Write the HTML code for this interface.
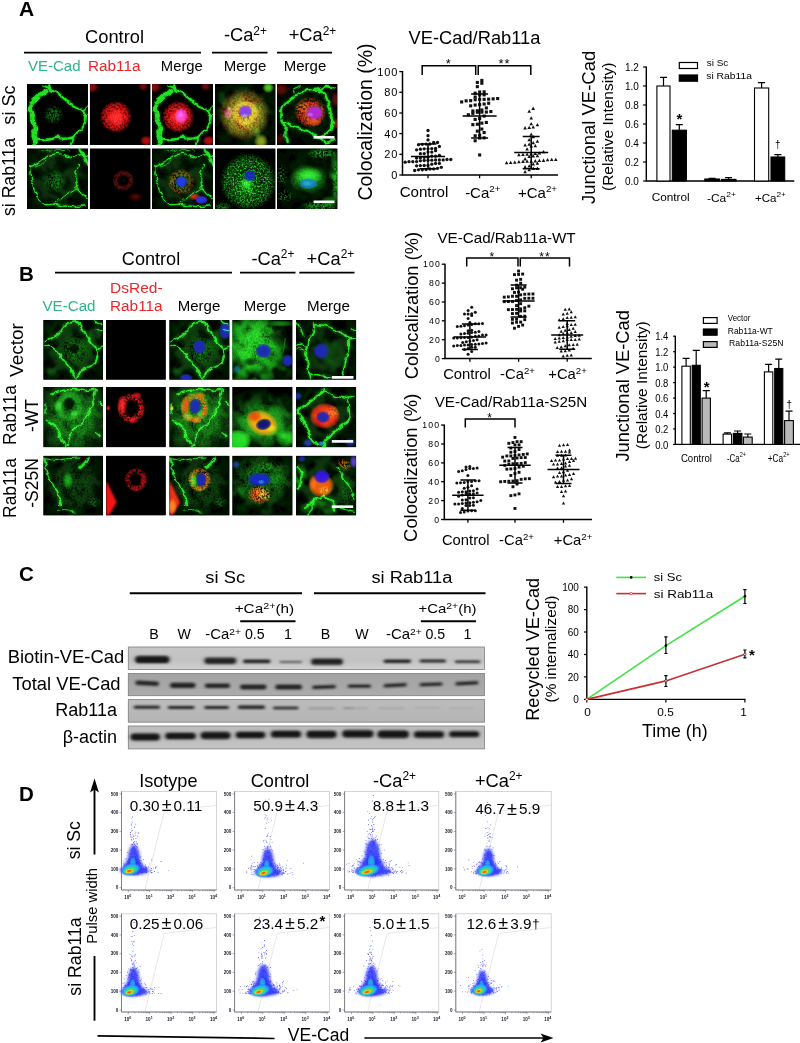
<!DOCTYPE html>
<html lang="en"><head><meta charset="utf-8"><title>Rab11a VE-Cad figure</title>
<style>
html,body{margin:0;padding:0;background:#fff}
svg{display:block;font-family:'Liberation Sans', Arial, sans-serif}
</style></head>
<body>
<svg width="800" height="1043" viewBox="0 0 800 1043">
<defs>
<filter id="bb" x="-20%" y="-80%" width="140%" height="260%"><feGaussianBlur stdDeviation="1.5 1.1"/></filter>
<filter id="bb2" x="-20%" y="-80%" width="140%" height="260%"><feGaussianBlur stdDeviation="2.4 1.8"/></filter>
<linearGradient id="s1" x1="0" y1="0" x2="0" y2="1"><stop offset="0" stop-color="#c6c6c6"/><stop offset="0.6" stop-color="#c2c2c2"/><stop offset="1" stop-color="#d2d2d2"/></linearGradient>
<linearGradient id="s2" x1="0" y1="0" x2="0" y2="1"><stop offset="0" stop-color="#a2a2a2"/><stop offset="1" stop-color="#acacac"/></linearGradient>
<linearGradient id="s3" x1="0" y1="0" x2="0" y2="1"><stop offset="0" stop-color="#bcbcbc"/><stop offset="1" stop-color="#b4b4b4"/></linearGradient>
<linearGradient id="s4" x1="0" y1="0" x2="0" y2="1"><stop offset="0" stop-color="#bdbdbd"/><stop offset="1" stop-color="#c3c3c3"/></linearGradient>
<radialGradient id="fb"><stop offset="0" stop-color="#3a5cff" stop-opacity="0.95"/><stop offset="0.55" stop-color="#3a4cff" stop-opacity="0.6"/><stop offset="1" stop-color="#4a4cff" stop-opacity="0"/></radialGradient>
<radialGradient id="fc"><stop offset="0" stop-color="#20d8e8"/><stop offset="0.7" stop-color="#22b8f0" stop-opacity="0.9"/><stop offset="1" stop-color="#2a80ff" stop-opacity="0"/></radialGradient>
<radialGradient id="fg"><stop offset="0" stop-color="#70e040"/><stop offset="0.7" stop-color="#40dc70" stop-opacity="0.9"/><stop offset="1" stop-color="#30d8b0" stop-opacity="0"/></radialGradient>
<radialGradient id="fy"><stop offset="0" stop-color="#f03010"/><stop offset="0.45" stop-color="#f58a10"/><stop offset="0.8" stop-color="#e8e020" stop-opacity="0.9"/><stop offset="1" stop-color="#b0e030" stop-opacity="0"/></radialGradient>
<filter id="fbl"><feGaussianBlur stdDeviation="0.45"/></filter>
<filter id="fbl2" x="-30%" y="-30%" width="160%" height="160%"><feGaussianBlur stdDeviation="1.8"/></filter>
<filter id="rough" x="-5%" y="-5%" width="110%" height="110%" color-interpolation-filters="sRGB">
<feTurbulence type="fractalNoise" baseFrequency="0.09" numOctaves="2" seed="4" result="n"/>
<feDisplacementMap in="SourceGraphic" in2="n" scale="8" xChannelSelector="R" yChannelSelector="G" result="d"/>
<feTurbulence type="fractalNoise" baseFrequency="0.22" numOctaves="1" seed="9" result="n2"/>
<feColorMatrix in="n2" type="matrix" values="0 0 0 0 0 0 0 0 0 0 0 0 0 0 0 1.8 0 0 0 0.05" result="a"/>
<feComposite in="d" in2="a" operator="in" result="e"/>
<feGaussianBlur in="e" stdDeviation="1.0" result="b1"/>
<feGaussianBlur in="e" stdDeviation="3" result="b2"/>
<feComponentTransfer in="b2" result="b3"><feFuncA type="linear" slope="0.7"/></feComponentTransfer>
<feComponentTransfer in="b1" result="b4"><feFuncA type="linear" slope="1.25"/></feComponentTransfer>
<feMerge><feMergeNode in="b3"/><feMergeNode in="b4"/></feMerge>
</filter>
<filter id="speck" x="0" y="0" width="100%" height="100%" color-interpolation-filters="sRGB">
<feTurbulence type="fractalNoise" baseFrequency="0.3" numOctaves="2" seed="3" result="n"/>
<feColorMatrix in="n" type="matrix" values="0 0 0 0 0 0 0 0 0 0 0 0 0 0 0 2.6 0 0 0 -0.75" result="a"/>
<feComposite in="SourceGraphic" in2="a" operator="in" result="e"/>
<feGaussianBlur in="e" stdDeviation="1.1"/>
</filter>
<filter id="speck2" x="0" y="0" width="100%" height="100%" color-interpolation-filters="sRGB">
<feTurbulence type="fractalNoise" baseFrequency="0.34" numOctaves="2" seed="8" result="n"/>
<feColorMatrix in="n" type="matrix" values="0 0 0 0 0 0 0 0 0 0 0 0 0 0 0 4.2 0 0 0 -2.0" result="a"/>
<feComposite in="SourceGraphic" in2="a" operator="in" result="e"/>
<feGaussianBlur in="e" stdDeviation="0.9"/>
</filter>
<filter id="cloud" x="0" y="0" width="100%" height="100%" color-interpolation-filters="sRGB">
<feTurbulence type="fractalNoise" baseFrequency="0.06" numOctaves="3" seed="12" result="n"/>
<feColorMatrix in="n" type="matrix" values="0 0 0 0 0 0 0 0 0 0 0 0 0 0 0 3.0 0 0 0 -0.85" result="a"/>
<feComposite in="SourceGraphic" in2="a" operator="in" result="e"/>
<feGaussianBlur in="e" stdDeviation="1.5"/>
</filter>
<filter id="soft" x="-20%" y="-20%" width="140%" height="140%"><feGaussianBlur stdDeviation="1.6"/></filter>
<clipPath id="c100"><rect width="100" height="100"/></clipPath>
<filter id="tb" x="0" y="0" width="100%" height="100%"><feGaussianBlur stdDeviation="0.85"/></filter>
<radialGradient id="g0"><stop offset="0" stop-color="#0f9a12" stop-opacity="1"/><stop offset="0.45" stop-color="#0f9a12" stop-opacity="0.8"/><stop offset="0.75" stop-color="#0f9a12" stop-opacity="0.4"/><stop offset="1" stop-color="#0f9a12" stop-opacity="0"/></radialGradient>
<radialGradient id="g1"><stop offset="0" stop-color="#f01212" stop-opacity="1"/><stop offset="0.6" stop-color="#f01212" stop-opacity="0.95"/><stop offset="0.82" stop-color="#f01212" stop-opacity="0.6"/><stop offset="1" stop-color="#f01212" stop-opacity="0"/></radialGradient>
<radialGradient id="g2"><stop offset="0" stop-color="#f01212" stop-opacity="1"/><stop offset="0.45" stop-color="#f01212" stop-opacity="0.8"/><stop offset="0.75" stop-color="#f01212" stop-opacity="0.4"/><stop offset="1" stop-color="#f01212" stop-opacity="0"/></radialGradient>
<radialGradient id="g3"><stop offset="0" stop-color="#ff2020" stop-opacity="1"/><stop offset="0.45" stop-color="#ff2020" stop-opacity="0.8"/><stop offset="0.75" stop-color="#ff2020" stop-opacity="0.4"/><stop offset="1" stop-color="#ff2020" stop-opacity="0"/></radialGradient>
<radialGradient id="g4"><stop offset="0" stop-color="#d828d8" stop-opacity="1"/><stop offset="0.6" stop-color="#d828d8" stop-opacity="0.95"/><stop offset="0.82" stop-color="#d828d8" stop-opacity="0.6"/><stop offset="1" stop-color="#d828d8" stop-opacity="0"/></radialGradient>
<radialGradient id="g5"><stop offset="0" stop-color="#ff60ff" stop-opacity="1"/><stop offset="0.45" stop-color="#ff60ff" stop-opacity="0.8"/><stop offset="0.75" stop-color="#ff60ff" stop-opacity="0.4"/><stop offset="1" stop-color="#ff60ff" stop-opacity="0"/></radialGradient>
<radialGradient id="g6"><stop offset="0" stop-color="#0c420c" stop-opacity="1"/><stop offset="0.45" stop-color="#0c420c" stop-opacity="0.8"/><stop offset="0.75" stop-color="#0c420c" stop-opacity="0.4"/><stop offset="1" stop-color="#0c420c" stop-opacity="0"/></radialGradient>
<radialGradient id="g7"><stop offset="0" stop-color="#8a3a10" stop-opacity="1"/><stop offset="0.45" stop-color="#8a3a10" stop-opacity="0.8"/><stop offset="0.75" stop-color="#8a3a10" stop-opacity="0.4"/><stop offset="1" stop-color="#8a3a10" stop-opacity="0"/></radialGradient>
<radialGradient id="g8"><stop offset="0" stop-color="#d05010" stop-opacity="1"/><stop offset="0.45" stop-color="#d05010" stop-opacity="0.8"/><stop offset="0.75" stop-color="#d05010" stop-opacity="0.4"/><stop offset="1" stop-color="#d05010" stop-opacity="0"/></radialGradient>
<radialGradient id="g9"><stop offset="0" stop-color="#2c9a1c" stop-opacity="1"/><stop offset="0.45" stop-color="#2c9a1c" stop-opacity="0.8"/><stop offset="0.75" stop-color="#2c9a1c" stop-opacity="0.4"/><stop offset="1" stop-color="#2c9a1c" stop-opacity="0"/></radialGradient>
<radialGradient id="g10"><stop offset="0" stop-color="#e0d020" stop-opacity="0"/><stop offset="0.42" stop-color="#e0d020" stop-opacity="0.05"/><stop offset="0.62" stop-color="#e0d020" stop-opacity="0.9"/><stop offset="0.82" stop-color="#e0d020" stop-opacity="0.8"/><stop offset="1" stop-color="#e0d020" stop-opacity="0"/></radialGradient>
<radialGradient id="g11"><stop offset="0" stop-color="#d0a010" stop-opacity="1"/><stop offset="0.45" stop-color="#d0a010" stop-opacity="0.8"/><stop offset="0.75" stop-color="#d0a010" stop-opacity="0.4"/><stop offset="1" stop-color="#d0a010" stop-opacity="0"/></radialGradient>
<radialGradient id="g12"><stop offset="0" stop-color="#e03090" stop-opacity="1"/><stop offset="0.45" stop-color="#e03090" stop-opacity="0.8"/><stop offset="0.75" stop-color="#e03090" stop-opacity="0.4"/><stop offset="1" stop-color="#e03090" stop-opacity="0"/></radialGradient>
<radialGradient id="g13"><stop offset="0" stop-color="#c0ffc0" stop-opacity="1"/><stop offset="0.45" stop-color="#c0ffc0" stop-opacity="0.8"/><stop offset="0.75" stop-color="#c0ffc0" stop-opacity="0.4"/><stop offset="1" stop-color="#c0ffc0" stop-opacity="0"/></radialGradient>
<radialGradient id="g14"><stop offset="0" stop-color="#50e020" stop-opacity="1"/><stop offset="0.45" stop-color="#50e020" stop-opacity="0.8"/><stop offset="0.75" stop-color="#50e020" stop-opacity="0.4"/><stop offset="1" stop-color="#50e020" stop-opacity="0"/></radialGradient>
<radialGradient id="g15"><stop offset="0" stop-color="#a0c020" stop-opacity="1"/><stop offset="0.45" stop-color="#a0c020" stop-opacity="0.8"/><stop offset="0.75" stop-color="#a0c020" stop-opacity="0.4"/><stop offset="1" stop-color="#a0c020" stop-opacity="0"/></radialGradient>
<radialGradient id="g16"><stop offset="0" stop-color="#30a020" stop-opacity="1"/><stop offset="0.45" stop-color="#30a020" stop-opacity="0.8"/><stop offset="0.75" stop-color="#30a020" stop-opacity="0.4"/><stop offset="1" stop-color="#30a020" stop-opacity="0"/></radialGradient>
<radialGradient id="g17"><stop offset="0" stop-color="#0f600f" stop-opacity="1"/><stop offset="0.45" stop-color="#0f600f" stop-opacity="0.8"/><stop offset="0.75" stop-color="#0f600f" stop-opacity="0.4"/><stop offset="1" stop-color="#0f600f" stop-opacity="0"/></radialGradient>
<radialGradient id="g18"><stop offset="0" stop-color="#8a40f0" stop-opacity="1"/><stop offset="0.6" stop-color="#8a40f0" stop-opacity="0.95"/><stop offset="0.82" stop-color="#8a40f0" stop-opacity="0.6"/><stop offset="1" stop-color="#8a40f0" stop-opacity="0"/></radialGradient>
<radialGradient id="g19"><stop offset="0" stop-color="#30c0a0" stop-opacity="1"/><stop offset="0.45" stop-color="#30c0a0" stop-opacity="0.8"/><stop offset="0.75" stop-color="#30c0a0" stop-opacity="0.4"/><stop offset="1" stop-color="#30c0a0" stop-opacity="0"/></radialGradient>
<radialGradient id="g20"><stop offset="0" stop-color="#0a300a" stop-opacity="1"/><stop offset="0.45" stop-color="#0a300a" stop-opacity="0.8"/><stop offset="0.75" stop-color="#0a300a" stop-opacity="0.4"/><stop offset="1" stop-color="#0a300a" stop-opacity="0"/></radialGradient>
<radialGradient id="g21"><stop offset="0" stop-color="#e83010" stop-opacity="1"/><stop offset="0.6" stop-color="#e83010" stop-opacity="0.95"/><stop offset="0.82" stop-color="#e83010" stop-opacity="0.6"/><stop offset="1" stop-color="#e83010" stop-opacity="0"/></radialGradient>
<radialGradient id="g22"><stop offset="0" stop-color="#d02810" stop-opacity="1"/><stop offset="0.45" stop-color="#d02810" stop-opacity="0.8"/><stop offset="0.75" stop-color="#d02810" stop-opacity="0.4"/><stop offset="1" stop-color="#d02810" stop-opacity="0"/></radialGradient>
<radialGradient id="g23"><stop offset="0" stop-color="#ff3810" stop-opacity="1"/><stop offset="0.45" stop-color="#ff3810" stop-opacity="0.8"/><stop offset="0.75" stop-color="#ff3810" stop-opacity="0.4"/><stop offset="1" stop-color="#ff3810" stop-opacity="0"/></radialGradient>
<radialGradient id="g24"><stop offset="0" stop-color="#c07010" stop-opacity="1"/><stop offset="0.45" stop-color="#c07010" stop-opacity="0.8"/><stop offset="0.75" stop-color="#c07010" stop-opacity="0.4"/><stop offset="1" stop-color="#c07010" stop-opacity="0"/></radialGradient>
<radialGradient id="g25"><stop offset="0" stop-color="#b028d8" stop-opacity="1"/><stop offset="0.6" stop-color="#b028d8" stop-opacity="0.95"/><stop offset="0.82" stop-color="#b028d8" stop-opacity="0.6"/><stop offset="1" stop-color="#b028d8" stop-opacity="0"/></radialGradient>
<radialGradient id="g26"><stop offset="0" stop-color="#5060f0" stop-opacity="1"/><stop offset="0.45" stop-color="#5060f0" stop-opacity="0.8"/><stop offset="0.75" stop-color="#5060f0" stop-opacity="0.4"/><stop offset="1" stop-color="#5060f0" stop-opacity="0"/></radialGradient>
<radialGradient id="g27"><stop offset="0" stop-color="#0a3c0a" stop-opacity="1"/><stop offset="0.45" stop-color="#0a3c0a" stop-opacity="0.8"/><stop offset="0.75" stop-color="#0a3c0a" stop-opacity="0.4"/><stop offset="1" stop-color="#0a3c0a" stop-opacity="0"/></radialGradient>
<radialGradient id="g28"><stop offset="0" stop-color="#a01010" stop-opacity="0"/><stop offset="0.42" stop-color="#a01010" stop-opacity="0.05"/><stop offset="0.62" stop-color="#a01010" stop-opacity="0.9"/><stop offset="0.82" stop-color="#a01010" stop-opacity="0.8"/><stop offset="1" stop-color="#a01010" stop-opacity="0"/></radialGradient>
<radialGradient id="g29"><stop offset="0" stop-color="#901010" stop-opacity="0"/><stop offset="0.42" stop-color="#901010" stop-opacity="0.05"/><stop offset="0.62" stop-color="#901010" stop-opacity="0.9"/><stop offset="0.82" stop-color="#901010" stop-opacity="0.8"/><stop offset="1" stop-color="#901010" stop-opacity="0"/></radialGradient>
<radialGradient id="g30"><stop offset="0" stop-color="#a01010" stop-opacity="1"/><stop offset="0.45" stop-color="#a01010" stop-opacity="0.8"/><stop offset="0.75" stop-color="#a01010" stop-opacity="0.4"/><stop offset="1" stop-color="#a01010" stop-opacity="0"/></radialGradient>
<radialGradient id="g31"><stop offset="0" stop-color="#b03010" stop-opacity="0"/><stop offset="0.42" stop-color="#b03010" stop-opacity="0.05"/><stop offset="0.62" stop-color="#b03010" stop-opacity="0.9"/><stop offset="0.82" stop-color="#b03010" stop-opacity="0.8"/><stop offset="1" stop-color="#b03010" stop-opacity="0"/></radialGradient>
<radialGradient id="g32"><stop offset="0" stop-color="#e01818" stop-opacity="1"/><stop offset="0.45" stop-color="#e01818" stop-opacity="0.8"/><stop offset="0.75" stop-color="#e01818" stop-opacity="0.4"/><stop offset="1" stop-color="#e01818" stop-opacity="0"/></radialGradient>
<radialGradient id="g33"><stop offset="0" stop-color="#2838e8" stop-opacity="1"/><stop offset="0.6" stop-color="#2838e8" stop-opacity="0.95"/><stop offset="0.82" stop-color="#2838e8" stop-opacity="0.6"/><stop offset="1" stop-color="#2838e8" stop-opacity="0"/></radialGradient>
<radialGradient id="g34"><stop offset="0" stop-color="#3030e0" stop-opacity="1"/><stop offset="0.6" stop-color="#3030e0" stop-opacity="0.95"/><stop offset="0.82" stop-color="#3030e0" stop-opacity="0.6"/><stop offset="1" stop-color="#3030e0" stop-opacity="0"/></radialGradient>
<radialGradient id="g35"><stop offset="0" stop-color="#20c020" stop-opacity="1"/><stop offset="0.6" stop-color="#20c020" stop-opacity="0.95"/><stop offset="0.82" stop-color="#20c020" stop-opacity="0.6"/><stop offset="1" stop-color="#20c020" stop-opacity="0"/></radialGradient>
<radialGradient id="g36"><stop offset="0" stop-color="#093809" stop-opacity="1"/><stop offset="0.45" stop-color="#093809" stop-opacity="0.8"/><stop offset="0.75" stop-color="#093809" stop-opacity="0.4"/><stop offset="1" stop-color="#093809" stop-opacity="0"/></radialGradient>
<radialGradient id="g37"><stop offset="0" stop-color="#18a018" stop-opacity="0"/><stop offset="0.42" stop-color="#18a018" stop-opacity="0.05"/><stop offset="0.62" stop-color="#18a018" stop-opacity="0.9"/><stop offset="0.82" stop-color="#18a018" stop-opacity="0.8"/><stop offset="1" stop-color="#18a018" stop-opacity="0"/></radialGradient>
<radialGradient id="g38"><stop offset="0" stop-color="#18c018" stop-opacity="1"/><stop offset="0.45" stop-color="#18c018" stop-opacity="0.8"/><stop offset="0.75" stop-color="#18c018" stop-opacity="0.4"/><stop offset="1" stop-color="#18c018" stop-opacity="0"/></radialGradient>
<radialGradient id="g39"><stop offset="0" stop-color="#20f020" stop-opacity="1"/><stop offset="0.45" stop-color="#20f020" stop-opacity="0.8"/><stop offset="0.75" stop-color="#20f020" stop-opacity="0.4"/><stop offset="1" stop-color="#20f020" stop-opacity="0"/></radialGradient>
<radialGradient id="g40"><stop offset="0" stop-color="#20d020" stop-opacity="1"/><stop offset="0.45" stop-color="#20d020" stop-opacity="0.8"/><stop offset="0.75" stop-color="#20d020" stop-opacity="0.4"/><stop offset="1" stop-color="#20d020" stop-opacity="0"/></radialGradient>
<radialGradient id="g41"><stop offset="0" stop-color="#1a2cb8" stop-opacity="1"/><stop offset="0.6" stop-color="#1a2cb8" stop-opacity="0.95"/><stop offset="0.82" stop-color="#1a2cb8" stop-opacity="0.6"/><stop offset="1" stop-color="#1a2cb8" stop-opacity="0"/></radialGradient>
<radialGradient id="g42"><stop offset="0" stop-color="#083008" stop-opacity="1"/><stop offset="0.45" stop-color="#083008" stop-opacity="0.8"/><stop offset="0.75" stop-color="#083008" stop-opacity="0.4"/><stop offset="1" stop-color="#083008" stop-opacity="0"/></radialGradient>
<radialGradient id="g43"><stop offset="0" stop-color="#0f700f" stop-opacity="1"/><stop offset="0.45" stop-color="#0f700f" stop-opacity="0.8"/><stop offset="0.75" stop-color="#0f700f" stop-opacity="0.4"/><stop offset="1" stop-color="#0f700f" stop-opacity="0"/></radialGradient>
<radialGradient id="g44"><stop offset="0" stop-color="#20e020" stop-opacity="1"/><stop offset="0.45" stop-color="#20e020" stop-opacity="0.8"/><stop offset="0.75" stop-color="#20e020" stop-opacity="0.4"/><stop offset="1" stop-color="#20e020" stop-opacity="0"/></radialGradient>
<radialGradient id="g45"><stop offset="0" stop-color="#18b018" stop-opacity="1"/><stop offset="0.45" stop-color="#18b018" stop-opacity="0.8"/><stop offset="0.75" stop-color="#18b018" stop-opacity="0.4"/><stop offset="1" stop-color="#18b018" stop-opacity="0"/></radialGradient>
<radialGradient id="g46"><stop offset="0" stop-color="#14a014" stop-opacity="1"/><stop offset="0.45" stop-color="#14a014" stop-opacity="0.8"/><stop offset="0.75" stop-color="#14a014" stop-opacity="0.4"/><stop offset="1" stop-color="#14a014" stop-opacity="0"/></radialGradient>
<radialGradient id="g47"><stop offset="0" stop-color="#109010" stop-opacity="1"/><stop offset="0.45" stop-color="#109010" stop-opacity="0.8"/><stop offset="0.75" stop-color="#109010" stop-opacity="0.4"/><stop offset="1" stop-color="#109010" stop-opacity="0"/></radialGradient>
<radialGradient id="g48"><stop offset="0" stop-color="#1880c8" stop-opacity="1"/><stop offset="0.6" stop-color="#1880c8" stop-opacity="0.95"/><stop offset="0.82" stop-color="#1880c8" stop-opacity="0.6"/><stop offset="1" stop-color="#1880c8" stop-opacity="0"/></radialGradient>
<radialGradient id="g49"><stop offset="0" stop-color="#20a0d0" stop-opacity="1"/><stop offset="0.45" stop-color="#20a0d0" stop-opacity="0.8"/><stop offset="0.75" stop-color="#20a0d0" stop-opacity="0.4"/><stop offset="1" stop-color="#20a0d0" stop-opacity="0"/></radialGradient>
<radialGradient id="g50"><stop offset="0" stop-color="#0c4a0c" stop-opacity="1"/><stop offset="0.45" stop-color="#0c4a0c" stop-opacity="0.8"/><stop offset="0.75" stop-color="#0c4a0c" stop-opacity="0.4"/><stop offset="1" stop-color="#0c4a0c" stop-opacity="0"/></radialGradient>
<radialGradient id="g51"><stop offset="0" stop-color="#128a12" stop-opacity="1"/><stop offset="0.45" stop-color="#128a12" stop-opacity="0.8"/><stop offset="0.75" stop-color="#128a12" stop-opacity="0.4"/><stop offset="1" stop-color="#128a12" stop-opacity="0"/></radialGradient>
<radialGradient id="g52"><stop offset="0" stop-color="#108010" stop-opacity="1"/><stop offset="0.45" stop-color="#108010" stop-opacity="0.8"/><stop offset="0.75" stop-color="#108010" stop-opacity="0.4"/><stop offset="1" stop-color="#108010" stop-opacity="0"/></radialGradient>
<radialGradient id="g53"><stop offset="0" stop-color="#000" stop-opacity="1"/><stop offset="0.6" stop-color="#000" stop-opacity="0.95"/><stop offset="0.82" stop-color="#000" stop-opacity="0.6"/><stop offset="1" stop-color="#000" stop-opacity="0"/></radialGradient>
<radialGradient id="g54"><stop offset="0" stop-color="#1e2ab4" stop-opacity="1"/><stop offset="0.6" stop-color="#1e2ab4" stop-opacity="0.95"/><stop offset="0.82" stop-color="#1e2ab4" stop-opacity="0.6"/><stop offset="1" stop-color="#1e2ab4" stop-opacity="0"/></radialGradient>
<radialGradient id="g55"><stop offset="0" stop-color="#2030d0" stop-opacity="1"/><stop offset="0.6" stop-color="#2030d0" stop-opacity="0.95"/><stop offset="0.82" stop-color="#2030d0" stop-opacity="0.6"/><stop offset="1" stop-color="#2030d0" stop-opacity="0"/></radialGradient>
<radialGradient id="g56"><stop offset="0" stop-color="#16a016" stop-opacity="1"/><stop offset="0.6" stop-color="#16a016" stop-opacity="0.95"/><stop offset="0.82" stop-color="#16a016" stop-opacity="0.6"/><stop offset="1" stop-color="#16a016" stop-opacity="0"/></radialGradient>
<radialGradient id="g57"><stop offset="0" stop-color="#20c020" stop-opacity="1"/><stop offset="0.45" stop-color="#20c020" stop-opacity="0.8"/><stop offset="0.75" stop-color="#20c020" stop-opacity="0.4"/><stop offset="1" stop-color="#20c020" stop-opacity="0"/></radialGradient>
<radialGradient id="g58"><stop offset="0" stop-color="#18a018" stop-opacity="1"/><stop offset="0.45" stop-color="#18a018" stop-opacity="0.8"/><stop offset="0.75" stop-color="#18a018" stop-opacity="0.4"/><stop offset="1" stop-color="#18a018" stop-opacity="0"/></radialGradient>
<radialGradient id="g59"><stop offset="0" stop-color="#000" stop-opacity="1"/><stop offset="0.45" stop-color="#000" stop-opacity="0.8"/><stop offset="0.75" stop-color="#000" stop-opacity="0.4"/><stop offset="1" stop-color="#000" stop-opacity="0"/></radialGradient>
<radialGradient id="g60"><stop offset="0" stop-color="#1070b0" stop-opacity="1"/><stop offset="0.45" stop-color="#1070b0" stop-opacity="0.8"/><stop offset="0.75" stop-color="#1070b0" stop-opacity="0.4"/><stop offset="1" stop-color="#1070b0" stop-opacity="0"/></radialGradient>
<radialGradient id="g61"><stop offset="0" stop-color="#0a3a0a" stop-opacity="1"/><stop offset="0.45" stop-color="#0a3a0a" stop-opacity="0.8"/><stop offset="0.75" stop-color="#0a3a0a" stop-opacity="0.4"/><stop offset="1" stop-color="#0a3a0a" stop-opacity="0"/></radialGradient>
<radialGradient id="g62"><stop offset="0" stop-color="#0c500c" stop-opacity="1"/><stop offset="0.45" stop-color="#0c500c" stop-opacity="0.8"/><stop offset="0.75" stop-color="#0c500c" stop-opacity="0.4"/><stop offset="1" stop-color="#0c500c" stop-opacity="0"/></radialGradient>
<radialGradient id="g63"><stop offset="0" stop-color="#0f5a0f" stop-opacity="1"/><stop offset="0.45" stop-color="#0f5a0f" stop-opacity="0.8"/><stop offset="0.75" stop-color="#0f5a0f" stop-opacity="0.4"/><stop offset="1" stop-color="#0f5a0f" stop-opacity="0"/></radialGradient>
<radialGradient id="g64"><stop offset="0" stop-color="#0a400a" stop-opacity="1"/><stop offset="0.45" stop-color="#0a400a" stop-opacity="0.8"/><stop offset="0.75" stop-color="#0a400a" stop-opacity="0.4"/><stop offset="1" stop-color="#0a400a" stop-opacity="0"/></radialGradient>
<radialGradient id="g65"><stop offset="0" stop-color="#18b018" stop-opacity="0"/><stop offset="0.42" stop-color="#18b018" stop-opacity="0.05"/><stop offset="0.62" stop-color="#18b018" stop-opacity="0.9"/><stop offset="0.82" stop-color="#18b018" stop-opacity="0.8"/><stop offset="1" stop-color="#18b018" stop-opacity="0"/></radialGradient>
<radialGradient id="g66"><stop offset="0" stop-color="#149014" stop-opacity="1"/><stop offset="0.45" stop-color="#149014" stop-opacity="0.8"/><stop offset="0.75" stop-color="#149014" stop-opacity="0.4"/><stop offset="1" stop-color="#149014" stop-opacity="0"/></radialGradient>
<radialGradient id="g67"><stop offset="0" stop-color="#021002" stop-opacity="1"/><stop offset="0.6" stop-color="#021002" stop-opacity="0.95"/><stop offset="0.82" stop-color="#021002" stop-opacity="0.6"/><stop offset="1" stop-color="#021002" stop-opacity="0"/></radialGradient>
<radialGradient id="g68"><stop offset="0" stop-color="#f01818" stop-opacity="0"/><stop offset="0.42" stop-color="#f01818" stop-opacity="0.05"/><stop offset="0.62" stop-color="#f01818" stop-opacity="0.9"/><stop offset="0.82" stop-color="#f01818" stop-opacity="0.8"/><stop offset="1" stop-color="#f01818" stop-opacity="0"/></radialGradient>
<radialGradient id="g69"><stop offset="0" stop-color="#f01818" stop-opacity="1"/><stop offset="0.45" stop-color="#f01818" stop-opacity="0.8"/><stop offset="0.75" stop-color="#f01818" stop-opacity="0.4"/><stop offset="1" stop-color="#f01818" stop-opacity="0"/></radialGradient>
<radialGradient id="g70"><stop offset="0" stop-color="#c01010" stop-opacity="1"/><stop offset="0.45" stop-color="#c01010" stop-opacity="0.8"/><stop offset="0.75" stop-color="#c01010" stop-opacity="0.4"/><stop offset="1" stop-color="#c01010" stop-opacity="0"/></radialGradient>
<radialGradient id="g71"><stop offset="0" stop-color="#f06010" stop-opacity="0"/><stop offset="0.42" stop-color="#f06010" stop-opacity="0.05"/><stop offset="0.62" stop-color="#f06010" stop-opacity="0.9"/><stop offset="0.82" stop-color="#f06010" stop-opacity="0.8"/><stop offset="1" stop-color="#f06010" stop-opacity="0"/></radialGradient>
<radialGradient id="g72"><stop offset="0" stop-color="#d0a010" stop-opacity="0"/><stop offset="0.42" stop-color="#d0a010" stop-opacity="0.05"/><stop offset="0.62" stop-color="#d0a010" stop-opacity="0.9"/><stop offset="0.82" stop-color="#d0a010" stop-opacity="0.8"/><stop offset="1" stop-color="#d0a010" stop-opacity="0"/></radialGradient>
<radialGradient id="g73"><stop offset="0" stop-color="#f05010" stop-opacity="1"/><stop offset="0.45" stop-color="#f05010" stop-opacity="0.8"/><stop offset="0.75" stop-color="#f05010" stop-opacity="0.4"/><stop offset="1" stop-color="#f05010" stop-opacity="0"/></radialGradient>
<radialGradient id="g74"><stop offset="0" stop-color="#f07010" stop-opacity="1"/><stop offset="0.45" stop-color="#f07010" stop-opacity="0.8"/><stop offset="0.75" stop-color="#f07010" stop-opacity="0.4"/><stop offset="1" stop-color="#f07010" stop-opacity="0"/></radialGradient>
<radialGradient id="g75"><stop offset="0" stop-color="#f09010" stop-opacity="1"/><stop offset="0.45" stop-color="#f09010" stop-opacity="0.8"/><stop offset="0.75" stop-color="#f09010" stop-opacity="0.4"/><stop offset="1" stop-color="#f09010" stop-opacity="0"/></radialGradient>
<radialGradient id="g76"><stop offset="0" stop-color="#e06010" stop-opacity="1"/><stop offset="0.45" stop-color="#e06010" stop-opacity="0.8"/><stop offset="0.75" stop-color="#e06010" stop-opacity="0.4"/><stop offset="1" stop-color="#e06010" stop-opacity="0"/></radialGradient>
<radialGradient id="g77"><stop offset="0" stop-color="#e0d020" stop-opacity="1"/><stop offset="0.45" stop-color="#e0d020" stop-opacity="0.8"/><stop offset="0.75" stop-color="#e0d020" stop-opacity="0.4"/><stop offset="1" stop-color="#e0d020" stop-opacity="0"/></radialGradient>
<radialGradient id="g78"><stop offset="0" stop-color="#d0c020" stop-opacity="1"/><stop offset="0.45" stop-color="#d0c020" stop-opacity="0.8"/><stop offset="0.75" stop-color="#d0c020" stop-opacity="0.4"/><stop offset="1" stop-color="#d0c020" stop-opacity="0"/></radialGradient>
<radialGradient id="g79"><stop offset="0" stop-color="#1c2cb0" stop-opacity="1"/><stop offset="0.6" stop-color="#1c2cb0" stop-opacity="0.95"/><stop offset="0.82" stop-color="#1c2cb0" stop-opacity="0.6"/><stop offset="1" stop-color="#1c2cb0" stop-opacity="0"/></radialGradient>
<radialGradient id="g80"><stop offset="0" stop-color="#148014" stop-opacity="1"/><stop offset="0.45" stop-color="#148014" stop-opacity="0.8"/><stop offset="0.75" stop-color="#148014" stop-opacity="0.4"/><stop offset="1" stop-color="#148014" stop-opacity="0"/></radialGradient>
<radialGradient id="g81"><stop offset="0" stop-color="#107010" stop-opacity="1"/><stop offset="0.45" stop-color="#107010" stop-opacity="0.8"/><stop offset="0.75" stop-color="#107010" stop-opacity="0.4"/><stop offset="1" stop-color="#107010" stop-opacity="0"/></radialGradient>
<radialGradient id="g82"><stop offset="0" stop-color="#20d820" stop-opacity="1"/><stop offset="0.6" stop-color="#20d820" stop-opacity="0.95"/><stop offset="0.82" stop-color="#20d820" stop-opacity="0.6"/><stop offset="1" stop-color="#20d820" stop-opacity="0"/></radialGradient>
<radialGradient id="g83"><stop offset="0" stop-color="#f0b010" stop-opacity="1"/><stop offset="0.6" stop-color="#f0b010" stop-opacity="0.95"/><stop offset="0.82" stop-color="#f0b010" stop-opacity="0.6"/><stop offset="1" stop-color="#f0b010" stop-opacity="0"/></radialGradient>
<radialGradient id="g84"><stop offset="0" stop-color="#f04010" stop-opacity="1"/><stop offset="0.45" stop-color="#f04010" stop-opacity="0.8"/><stop offset="0.75" stop-color="#f04010" stop-opacity="0.4"/><stop offset="1" stop-color="#f04010" stop-opacity="0"/></radialGradient>
<radialGradient id="g85"><stop offset="0" stop-color="#f0e020" stop-opacity="1"/><stop offset="0.45" stop-color="#f0e020" stop-opacity="0.8"/><stop offset="0.75" stop-color="#f0e020" stop-opacity="0.4"/><stop offset="1" stop-color="#f0e020" stop-opacity="0"/></radialGradient>
<radialGradient id="g86"><stop offset="0" stop-color="#101478" stop-opacity="1"/><stop offset="0.6" stop-color="#101478" stop-opacity="0.95"/><stop offset="0.82" stop-color="#101478" stop-opacity="0.6"/><stop offset="1" stop-color="#101478" stop-opacity="0"/></radialGradient>
<radialGradient id="g87"><stop offset="0" stop-color="#f01810" stop-opacity="1"/><stop offset="0.6" stop-color="#f01810" stop-opacity="0.95"/><stop offset="0.82" stop-color="#f01810" stop-opacity="0.6"/><stop offset="1" stop-color="#f01810" stop-opacity="0"/></radialGradient>
<radialGradient id="g88"><stop offset="0" stop-color="#ff7010" stop-opacity="1"/><stop offset="0.45" stop-color="#ff7010" stop-opacity="0.8"/><stop offset="0.75" stop-color="#ff7010" stop-opacity="0.4"/><stop offset="1" stop-color="#ff7010" stop-opacity="0"/></radialGradient>
<radialGradient id="g89"><stop offset="0" stop-color="#2020c0" stop-opacity="1"/><stop offset="0.45" stop-color="#2020c0" stop-opacity="0.8"/><stop offset="0.75" stop-color="#2020c0" stop-opacity="0.4"/><stop offset="1" stop-color="#2020c0" stop-opacity="0"/></radialGradient>
<radialGradient id="g90"><stop offset="0" stop-color="#2030d0" stop-opacity="1"/><stop offset="0.45" stop-color="#2030d0" stop-opacity="0.8"/><stop offset="0.75" stop-color="#2030d0" stop-opacity="0.4"/><stop offset="1" stop-color="#2030d0" stop-opacity="0"/></radialGradient>
<radialGradient id="g91"><stop offset="0" stop-color="#093209" stop-opacity="1"/><stop offset="0.45" stop-color="#093209" stop-opacity="0.8"/><stop offset="0.75" stop-color="#093209" stop-opacity="0.4"/><stop offset="1" stop-color="#093209" stop-opacity="0"/></radialGradient>
<radialGradient id="g92"><stop offset="0" stop-color="#0c600c" stop-opacity="1"/><stop offset="0.45" stop-color="#0c600c" stop-opacity="0.8"/><stop offset="0.75" stop-color="#0c600c" stop-opacity="0.4"/><stop offset="1" stop-color="#0c600c" stop-opacity="0"/></radialGradient>
<radialGradient id="g93"><stop offset="0" stop-color="#d01414" stop-opacity="0"/><stop offset="0.42" stop-color="#d01414" stop-opacity="0.05"/><stop offset="0.62" stop-color="#d01414" stop-opacity="0.9"/><stop offset="0.82" stop-color="#d01414" stop-opacity="0.8"/><stop offset="1" stop-color="#d01414" stop-opacity="0"/></radialGradient>
<radialGradient id="g94"><stop offset="0" stop-color="#ff8010" stop-opacity="1"/><stop offset="0.45" stop-color="#ff8010" stop-opacity="0.8"/><stop offset="0.75" stop-color="#ff8010" stop-opacity="0.4"/><stop offset="1" stop-color="#ff8010" stop-opacity="0"/></radialGradient>
<radialGradient id="g95"><stop offset="0" stop-color="#e06014" stop-opacity="0"/><stop offset="0.42" stop-color="#e06014" stop-opacity="0.05"/><stop offset="0.62" stop-color="#e06014" stop-opacity="0.9"/><stop offset="0.82" stop-color="#e06014" stop-opacity="0.8"/><stop offset="1" stop-color="#e06014" stop-opacity="0"/></radialGradient>
<radialGradient id="g96"><stop offset="0" stop-color="#d0b010" stop-opacity="0"/><stop offset="0.42" stop-color="#d0b010" stop-opacity="0.05"/><stop offset="0.62" stop-color="#d0b010" stop-opacity="0.9"/><stop offset="0.82" stop-color="#d0b010" stop-opacity="0.8"/><stop offset="1" stop-color="#d0b010" stop-opacity="0"/></radialGradient>
<radialGradient id="g97"><stop offset="0" stop-color="#e05010" stop-opacity="1"/><stop offset="0.45" stop-color="#e05010" stop-opacity="0.8"/><stop offset="0.75" stop-color="#e05010" stop-opacity="0.4"/><stop offset="1" stop-color="#e05010" stop-opacity="0"/></radialGradient>
<radialGradient id="g98"><stop offset="0" stop-color="#e0a010" stop-opacity="1"/><stop offset="0.45" stop-color="#e0a010" stop-opacity="0.8"/><stop offset="0.75" stop-color="#e0a010" stop-opacity="0.4"/><stop offset="1" stop-color="#e0a010" stop-opacity="0"/></radialGradient>
<radialGradient id="g99"><stop offset="0" stop-color="#0c480c" stop-opacity="1"/><stop offset="0.45" stop-color="#0c480c" stop-opacity="0.8"/><stop offset="0.75" stop-color="#0c480c" stop-opacity="0.4"/><stop offset="1" stop-color="#0c480c" stop-opacity="0"/></radialGradient>
<radialGradient id="g100"><stop offset="0" stop-color="#128012" stop-opacity="1"/><stop offset="0.45" stop-color="#128012" stop-opacity="0.8"/><stop offset="0.75" stop-color="#128012" stop-opacity="0.4"/><stop offset="1" stop-color="#128012" stop-opacity="0"/></radialGradient>
<radialGradient id="g101"><stop offset="0" stop-color="#f03010" stop-opacity="1"/><stop offset="0.6" stop-color="#f03010" stop-opacity="0.95"/><stop offset="0.82" stop-color="#f03010" stop-opacity="0.6"/><stop offset="1" stop-color="#f03010" stop-opacity="0"/></radialGradient>
<radialGradient id="g102"><stop offset="0" stop-color="#e0c020" stop-opacity="1"/><stop offset="0.45" stop-color="#e0c020" stop-opacity="0.8"/><stop offset="0.75" stop-color="#e0c020" stop-opacity="0.4"/><stop offset="1" stop-color="#e0c020" stop-opacity="0"/></radialGradient>
<radialGradient id="g103"><stop offset="0" stop-color="#f03010" stop-opacity="1"/><stop offset="0.45" stop-color="#f03010" stop-opacity="0.8"/><stop offset="0.75" stop-color="#f03010" stop-opacity="0.4"/><stop offset="1" stop-color="#f03010" stop-opacity="0"/></radialGradient>
<radialGradient id="g104"><stop offset="0" stop-color="#1828b0" stop-opacity="1"/><stop offset="0.45" stop-color="#1828b0" stop-opacity="0.8"/><stop offset="0.75" stop-color="#1828b0" stop-opacity="0.4"/><stop offset="1" stop-color="#1828b0" stop-opacity="0"/></radialGradient>
<radialGradient id="g105"><stop offset="0" stop-color="#1828c8" stop-opacity="1"/><stop offset="0.6" stop-color="#1828c8" stop-opacity="0.95"/><stop offset="0.82" stop-color="#1828c8" stop-opacity="0.6"/><stop offset="1" stop-color="#1828c8" stop-opacity="0"/></radialGradient>
<radialGradient id="g106"><stop offset="0" stop-color="#20a0c0" stop-opacity="1"/><stop offset="0.45" stop-color="#20a0c0" stop-opacity="0.8"/><stop offset="0.75" stop-color="#20a0c0" stop-opacity="0.4"/><stop offset="1" stop-color="#20a0c0" stop-opacity="0"/></radialGradient>
<radialGradient id="g107"><stop offset="0" stop-color="#0c460c" stop-opacity="1"/><stop offset="0.45" stop-color="#0c460c" stop-opacity="0.8"/><stop offset="0.75" stop-color="#0c460c" stop-opacity="0.4"/><stop offset="1" stop-color="#0c460c" stop-opacity="0"/></radialGradient>
<radialGradient id="g108"><stop offset="0" stop-color="#1cc01c" stop-opacity="1"/><stop offset="0.45" stop-color="#1cc01c" stop-opacity="0.8"/><stop offset="0.75" stop-color="#1cc01c" stop-opacity="0.4"/><stop offset="1" stop-color="#1cc01c" stop-opacity="0"/></radialGradient>
<radialGradient id="g109"><stop offset="0" stop-color="#118a11" stop-opacity="1"/><stop offset="0.45" stop-color="#118a11" stop-opacity="0.8"/><stop offset="0.75" stop-color="#118a11" stop-opacity="0.4"/><stop offset="1" stop-color="#118a11" stop-opacity="0"/></radialGradient>
<radialGradient id="g110"><stop offset="0" stop-color="#f06010" stop-opacity="1"/><stop offset="0.6" stop-color="#f06010" stop-opacity="0.95"/><stop offset="0.82" stop-color="#f06010" stop-opacity="0.6"/><stop offset="1" stop-color="#f06010" stop-opacity="0"/></radialGradient>
<radialGradient id="g111"><stop offset="0" stop-color="#f0c020" stop-opacity="1"/><stop offset="0.45" stop-color="#f0c020" stop-opacity="0.8"/><stop offset="0.75" stop-color="#f0c020" stop-opacity="0.4"/><stop offset="1" stop-color="#f0c020" stop-opacity="0"/></radialGradient>
<radialGradient id="g112"><stop offset="0" stop-color="#e08010" stop-opacity="1"/><stop offset="0.45" stop-color="#e08010" stop-opacity="0.8"/><stop offset="0.75" stop-color="#e08010" stop-opacity="0.4"/><stop offset="1" stop-color="#e08010" stop-opacity="0"/></radialGradient>
<radialGradient id="g113"><stop offset="0" stop-color="#6030e0" stop-opacity="1"/><stop offset="0.45" stop-color="#6030e0" stop-opacity="0.8"/><stop offset="0.75" stop-color="#6030e0" stop-opacity="0.4"/><stop offset="1" stop-color="#6030e0" stop-opacity="0"/></radialGradient>
<radialGradient id="g114"><stop offset="0" stop-color="#3018e0" stop-opacity="1"/><stop offset="0.6" stop-color="#3018e0" stop-opacity="0.95"/><stop offset="0.82" stop-color="#3018e0" stop-opacity="0.6"/><stop offset="1" stop-color="#3018e0" stop-opacity="0"/></radialGradient>
</defs>
<rect width="800" height="1043" fill="#fff"/>
<text x="19" y="15.5" font-size="21" font-weight="bold">A</text>
<text x="19" y="280.8" font-size="20.5" font-weight="bold">B</text>
<text x="19" y="580.8" font-size="20.5" font-weight="bold">C</text>
<text x="19" y="801" font-size="20.5" font-weight="bold">D</text>
<text x="114.5" y="42.8" font-size="18.3" text-anchor="middle">Control</text>
<line x1="24" y1="52.7" x2="201" y2="52.7" stroke="#000" stroke-width="1.8"/>
<text x="245.4" y="41.3" font-size="18.3" text-anchor="middle">-Ca<tspan font-size="11.9" dy="-6.6">2+</tspan></text>
<line x1="212" y1="52.7" x2="267.5" y2="52.7" stroke="#000" stroke-width="1.8"/>
<text x="312.5" y="41.3" font-size="18.3" text-anchor="middle">+Ca<tspan font-size="11.9" dy="-6.6">2+</tspan></text>
<line x1="277" y1="52.7" x2="332" y2="52.7" stroke="#000" stroke-width="1.8"/>
<text x="28" y="70.5" font-size="13.8" fill="#2cb58a" textLength="52.5" lengthAdjust="spacingAndGlyphs">VE-Cad</text>
<text x="88" y="70.5" font-size="13.8" fill="#e8262a" textLength="52.5" lengthAdjust="spacingAndGlyphs">Rab11a</text>
<text x="181.8" y="71" font-size="14" text-anchor="middle" textLength="42" lengthAdjust="spacingAndGlyphs">Merge</text>
<text x="245" y="71" font-size="14" text-anchor="middle" textLength="42.5" lengthAdjust="spacingAndGlyphs">Merge</text>
<text x="305" y="71" font-size="14" text-anchor="middle" textLength="42.5" lengthAdjust="spacingAndGlyphs">Merge</text>
<text x="15" y="105" font-size="18.2" text-anchor="middle" transform="rotate(-90 15 105)">si Sc</text>
<text x="15" y="177" font-size="17.6" text-anchor="middle" transform="rotate(-90 15 177)">si Rab11a</text>
<text x="151" y="264.8" font-size="18.1" text-anchor="middle">Control</text>
<line x1="55" y1="272.6" x2="232" y2="272.6" stroke="#000" stroke-width="1.9"/>
<text x="272.9" y="265" font-size="18.3" text-anchor="middle">-Ca<tspan font-size="11.9" dy="-6.6">2+</tspan></text>
<line x1="240" y1="272.6" x2="295.5" y2="272.6" stroke="#000" stroke-width="1.9"/>
<text x="330.4" y="265" font-size="18.3" text-anchor="middle">+Ca<tspan font-size="11.9" dy="-6.6">2+</tspan></text>
<line x1="299.3" y1="272.6" x2="354.5" y2="272.6" stroke="#000" stroke-width="1.9"/>
<text x="42.5" y="311" font-size="14" fill="#2cb58a" textLength="53" lengthAdjust="spacingAndGlyphs">VE-Cad</text>
<text x="136.3" y="293.2" font-size="14" text-anchor="middle" fill="#e8262a" textLength="52.5" lengthAdjust="spacingAndGlyphs">DsRed-</text>
<text x="136.3" y="311" font-size="14" text-anchor="middle" fill="#e8262a" textLength="52.5" lengthAdjust="spacingAndGlyphs">Rab11a</text>
<text x="199" y="311.2" font-size="14" text-anchor="middle" textLength="42.5" lengthAdjust="spacingAndGlyphs">Merge</text>
<text x="265" y="311.2" font-size="14" text-anchor="middle" textLength="42.5" lengthAdjust="spacingAndGlyphs">Merge</text>
<text x="328.5" y="311.2" font-size="14" text-anchor="middle" textLength="43" lengthAdjust="spacingAndGlyphs">Merge</text>
<text x="23" y="350" font-size="19" text-anchor="middle" transform="rotate(-90 23 350)">Vector</text>
<text x="15.5" y="415" font-size="17.5" text-anchor="middle" transform="rotate(-90 15.5 415)">Rab11a</text>
<text x="38" y="415.5" font-size="17.5" text-anchor="middle" transform="rotate(-90 38 415.5)">-WT</text>
<text x="15.5" y="488" font-size="17.5" text-anchor="middle" transform="rotate(-90 15.5 488)">Rab11a</text>
<text x="38" y="483" font-size="17.5" text-anchor="middle" transform="rotate(-90 38 483)">-S25N</text>
<text x="225.2" y="583.3" font-size="17.3" text-anchor="middle" textLength="39.7" lengthAdjust="spacingAndGlyphs">si Sc</text>
<line x1="129.75" y1="593.3" x2="302" y2="593.3" stroke="#000" stroke-width="1.9"/>
<text x="411.9" y="583.3" font-size="17.3" text-anchor="middle" textLength="80.8" lengthAdjust="spacingAndGlyphs">si Rab11a</text>
<line x1="314" y1="593.3" x2="485.5" y2="593.3" stroke="#000" stroke-width="1.9"/>
<text x="264.4" y="613.4" font-size="13.6" text-anchor="middle" textLength="59.4" lengthAdjust="spacingAndGlyphs">+Ca<tspan font-size="9.5" dy="-4.6">2+</tspan><tspan dy="4.6">(h)</tspan></text>
<line x1="240.2" y1="621.3" x2="295.5" y2="621.3" stroke="#000" stroke-width="1.9"/>
<text x="447.5" y="613.4" font-size="13.6" text-anchor="middle" textLength="58" lengthAdjust="spacingAndGlyphs">+Ca<tspan font-size="9.5" dy="-4.6">2+</tspan><tspan dy="4.6">(h)</tspan></text>
<line x1="420.9" y1="621.3" x2="476" y2="621.3" stroke="#000" stroke-width="1.9"/>
<text x="153.9" y="639.2" font-size="14.2" text-anchor="middle">B</text>
<text x="184.3" y="639.2" font-size="14.2" text-anchor="middle">W</text>
<text x="254.8" y="639.2" font-size="14.2" text-anchor="middle">0.5</text>
<text x="288" y="639.2" font-size="14.2" text-anchor="middle">1</text>
<text x="325.6" y="639.2" font-size="14.2" text-anchor="middle">B</text>
<text x="362" y="639.2" font-size="14.2" text-anchor="middle">W</text>
<text x="435.3" y="639.2" font-size="14.2" text-anchor="middle">0.5</text>
<text x="467.5" y="639.2" font-size="14.2" text-anchor="middle">1</text>
<text x="223.2" y="639.2" font-size="14.2" text-anchor="middle" textLength="35.7" lengthAdjust="spacingAndGlyphs">-Ca<tspan font-size="9.8" dy="-4.6">2+</tspan></text>
<text x="403.9" y="639.2" font-size="14.2" text-anchor="middle" textLength="36" lengthAdjust="spacingAndGlyphs">-Ca<tspan font-size="9.8" dy="-4.6">2+</tspan></text>
<text x="124.2" y="663" font-size="18.4" text-anchor="end">Biotin-VE-Cad</text>
<text x="120.6" y="690" font-size="18.4" text-anchor="end">Total VE-Cad</text>
<text x="117" y="715.5" font-size="18" text-anchor="end">Rab11a</text>
<text x="117" y="742.5" font-size="18" text-anchor="end">β-actin</text>
<text x="168.3" y="786.6" font-size="18.1" text-anchor="middle">Isotype</text>
<text x="280" y="786.6" font-size="18.2" text-anchor="middle">Control</text>
<text x="394.5" y="786.6" font-size="18.3" text-anchor="middle">-Ca<tspan font-size="11.9" dy="-6.6">2+</tspan></text>
<text x="498.7" y="786.6" font-size="18.3" text-anchor="middle">+Ca<tspan font-size="11.9" dy="-6.6">2+</tspan></text>
<text x="80.5" y="840.2" font-size="17.7" text-anchor="middle" transform="rotate(-90 80.5 840.2)">si Sc</text>
<text x="80.5" y="956.5" font-size="17.7" text-anchor="middle" transform="rotate(-90 80.5 956.5)">si Rab11a</text>
<text x="96.8" y="905.8" font-size="14.8" text-anchor="middle" transform="rotate(-90 96.8 905.8)">Pulse width</text>
<text x="318.5" y="1040.5" font-size="17.5" text-anchor="middle">VE-Cad</text>
<line x1="94.5" y1="788" x2="94.5" y2="854.5" stroke="#000" stroke-width="1.9"/>
<path d="M94.5 778.5 L98.9 792.5 L94.5 789.5 L90.1 792.5 Z" fill="#000"/>
<line x1="94.5" y1="956" x2="94.5" y2="1020.7" stroke="#000" stroke-width="1.9"/>
<path d="M97.5 1035.8 L274.5 1038.5" stroke="#000" stroke-width="1.7" fill="none"/>
<line x1="364.4" y1="1038" x2="545" y2="1038" stroke="#000" stroke-width="1.7"/>
<path d="M553.5 1038 L540.5 1033.6 L543.5 1038 L540.5 1042.4 Z" fill="#000"/>
<path d="M402.5 71.1V175H558" fill="none" stroke="#000" stroke-width="1.5"/>
<line x1="399.3" y1="175.0" x2="402.5" y2="175.0" stroke="#000" stroke-width="1.3"/>
<text x="398.4" y="179.0" font-size="11" text-anchor="end" letter-spacing="0.9">0</text>
<line x1="399.3" y1="154.3" x2="402.5" y2="154.3" stroke="#000" stroke-width="1.3"/>
<text x="398.4" y="158.3" font-size="11" text-anchor="end" letter-spacing="0.9">20</text>
<line x1="399.3" y1="133.6" x2="402.5" y2="133.6" stroke="#000" stroke-width="1.3"/>
<text x="398.4" y="137.6" font-size="11" text-anchor="end" letter-spacing="0.9">40</text>
<line x1="399.3" y1="113.0" x2="402.5" y2="113.0" stroke="#000" stroke-width="1.3"/>
<text x="398.4" y="116.9" font-size="11" text-anchor="end" letter-spacing="0.9">60</text>
<line x1="399.3" y1="92.3" x2="402.5" y2="92.3" stroke="#000" stroke-width="1.3"/>
<text x="398.4" y="96.2" font-size="11" text-anchor="end" letter-spacing="0.9">80</text>
<line x1="399.3" y1="71.6" x2="402.5" y2="71.6" stroke="#000" stroke-width="1.3"/>
<text x="398.4" y="75.6" font-size="11" text-anchor="end" letter-spacing="0.9">100</text>
<line x1="428" y1="175" x2="428" y2="178.2" stroke="#000" stroke-width="1.3"/>
<line x1="479.6" y1="175" x2="479.6" y2="178.2" stroke="#000" stroke-width="1.3"/>
<line x1="531.2" y1="175" x2="531.2" y2="178.2" stroke="#000" stroke-width="1.3"/>
<g fill="#111"><circle cx="414.7" cy="170.5" r="1.65"/><circle cx="418.5" cy="169.8" r="1.65"/><circle cx="422.3" cy="169.8" r="1.65"/><circle cx="426.1" cy="169.5" r="1.65"/><circle cx="429.9" cy="169.0" r="1.65"/><circle cx="433.7" cy="168.9" r="1.65"/><circle cx="437.5" cy="168.3" r="1.65"/><circle cx="441.3" cy="167.3" r="1.65"/><circle cx="416.6" cy="165.8" r="1.65"/><circle cx="420.4" cy="165.6" r="1.65"/><circle cx="424.2" cy="165.5" r="1.65"/><circle cx="428.0" cy="165.5" r="1.65"/><circle cx="431.8" cy="164.2" r="1.65"/><circle cx="435.6" cy="163.5" r="1.65"/><circle cx="439.4" cy="163.4" r="1.65"/><circle cx="405.2" cy="162.2" r="1.65"/><circle cx="409.0" cy="161.7" r="1.65"/><circle cx="412.8" cy="161.7" r="1.65"/><circle cx="416.6" cy="161.6" r="1.65"/><circle cx="420.4" cy="160.8" r="1.65"/><circle cx="424.2" cy="160.5" r="1.65"/><circle cx="428.0" cy="160.3" r="1.65"/><circle cx="431.8" cy="160.2" r="1.65"/><circle cx="435.6" cy="160.0" r="1.65"/><circle cx="439.4" cy="160.0" r="1.65"/><circle cx="443.2" cy="159.9" r="1.65"/><circle cx="447.0" cy="159.5" r="1.65"/><circle cx="450.8" cy="159.5" r="1.65"/><circle cx="416.6" cy="158.0" r="1.65"/><circle cx="420.4" cy="157.9" r="1.65"/><circle cx="424.2" cy="157.3" r="1.65"/><circle cx="428.0" cy="157.2" r="1.65"/><circle cx="431.8" cy="156.2" r="1.65"/><circle cx="435.6" cy="156.2" r="1.65"/><circle cx="439.4" cy="155.3" r="1.65"/><circle cx="420.4" cy="153.7" r="1.65"/><circle cx="424.2" cy="153.6" r="1.65"/><circle cx="428.0" cy="152.1" r="1.65"/><circle cx="431.8" cy="152.1" r="1.65"/><circle cx="435.6" cy="150.7" r="1.65"/><circle cx="416.6" cy="149.8" r="1.65"/><circle cx="420.4" cy="149.2" r="1.65"/><circle cx="424.2" cy="148.8" r="1.65"/><circle cx="428.0" cy="148.8" r="1.65"/><circle cx="431.8" cy="148.6" r="1.65"/><circle cx="435.6" cy="148.5" r="1.65"/><circle cx="439.4" cy="146.4" r="1.65"/><circle cx="418.5" cy="144.7" r="1.65"/><circle cx="422.3" cy="144.3" r="1.65"/><circle cx="426.1" cy="144.1" r="1.65"/><circle cx="429.9" cy="144.0" r="1.65"/><circle cx="433.7" cy="142.5" r="1.65"/><circle cx="437.5" cy="142.5" r="1.65"/><circle cx="428.0" cy="139.9" r="1.65"/><circle cx="428.0" cy="135.7" r="1.65"/><circle cx="428.0" cy="130.5" r="1.65"/><rect x="478.1" y="153.4" width="3.1" height="3.1"/><rect x="473.6" y="139.2" width="3.1" height="3.1"/><rect x="478.1" y="136.5" width="3.1" height="3.1"/><rect x="482.6" y="136.3" width="3.1" height="3.1"/><rect x="473.6" y="134.2" width="3.1" height="3.1"/><rect x="478.1" y="133.7" width="3.1" height="3.1"/><rect x="482.6" y="131.0" width="3.1" height="3.1"/><rect x="475.8" y="129.6" width="3.1" height="3.1"/><rect x="480.3" y="127.5" width="3.1" height="3.1"/><rect x="471.3" y="123.1" width="3.1" height="3.1"/><rect x="475.8" y="122.7" width="3.1" height="3.1"/><rect x="480.3" y="121.6" width="3.1" height="3.1"/><rect x="484.8" y="120.9" width="3.1" height="3.1"/><rect x="473.6" y="117.9" width="3.1" height="3.1"/><rect x="478.1" y="116.9" width="3.1" height="3.1"/><rect x="482.6" y="114.5" width="3.1" height="3.1"/><rect x="466.8" y="113.2" width="3.1" height="3.1"/><rect x="471.3" y="111.8" width="3.1" height="3.1"/><rect x="475.8" y="110.7" width="3.1" height="3.1"/><rect x="480.3" y="110.6" width="3.1" height="3.1"/><rect x="484.8" y="110.5" width="3.1" height="3.1"/><rect x="489.3" y="110.0" width="3.1" height="3.1"/><rect x="471.3" y="109.4" width="3.1" height="3.1"/><rect x="475.8" y="109.2" width="3.1" height="3.1"/><rect x="480.3" y="108.4" width="3.1" height="3.1"/><rect x="484.8" y="106.4" width="3.1" height="3.1"/><rect x="469.1" y="104.3" width="3.1" height="3.1"/><rect x="473.6" y="103.5" width="3.1" height="3.1"/><rect x="478.1" y="103.1" width="3.1" height="3.1"/><rect x="482.6" y="102.5" width="3.1" height="3.1"/><rect x="487.1" y="101.7" width="3.1" height="3.1"/><rect x="460.1" y="100.4" width="3.1" height="3.1"/><rect x="464.6" y="99.3" width="3.1" height="3.1"/><rect x="469.1" y="99.1" width="3.1" height="3.1"/><rect x="473.6" y="98.2" width="3.1" height="3.1"/><rect x="478.1" y="97.8" width="3.1" height="3.1"/><rect x="482.6" y="97.8" width="3.1" height="3.1"/><rect x="487.1" y="97.6" width="3.1" height="3.1"/><rect x="491.6" y="97.3" width="3.1" height="3.1"/><rect x="496.1" y="97.0" width="3.1" height="3.1"/><rect x="473.6" y="95.5" width="3.1" height="3.1"/><rect x="478.1" y="93.4" width="3.1" height="3.1"/><rect x="482.6" y="93.3" width="3.1" height="3.1"/><rect x="473.6" y="91.6" width="3.1" height="3.1"/><rect x="478.1" y="90.4" width="3.1" height="3.1"/><rect x="482.6" y="90.3" width="3.1" height="3.1"/><rect x="475.8" y="85.1" width="3.1" height="3.1"/><rect x="480.3" y="81.7" width="3.1" height="3.1"/><rect x="475.8" y="80.9" width="3.1" height="3.1"/><rect x="480.3" y="78.9" width="3.1" height="3.1"/><path d="M525.1 169.9l1.8 3.3h-3.6z"/><path d="M529.2 168.0l1.8 3.3h-3.6z"/><path d="M533.2 166.6l1.8 3.3h-3.6z"/><path d="M537.4 166.6l1.8 3.3h-3.6z"/><path d="M525.1 165.1l1.8 3.3h-3.6z"/><path d="M529.2 164.3l1.8 3.3h-3.6z"/><path d="M533.2 162.3l1.8 3.3h-3.6z"/><path d="M537.4 161.4l1.8 3.3h-3.6z"/><path d="M506.6 161.0l1.8 3.3h-3.6z"/><path d="M510.7 160.8l1.8 3.3h-3.6z"/><path d="M514.8 160.4l1.8 3.3h-3.6z"/><path d="M518.9 159.9l1.8 3.3h-3.6z"/><path d="M523.0 159.6l1.8 3.3h-3.6z"/><path d="M527.1 159.5l1.8 3.3h-3.6z"/><path d="M531.2 159.5l1.8 3.3h-3.6z"/><path d="M535.3 159.1l1.8 3.3h-3.6z"/><path d="M539.4 158.7l1.8 3.3h-3.6z"/><path d="M543.5 158.6l1.8 3.3h-3.6z"/><path d="M547.6 158.0l1.8 3.3h-3.6z"/><path d="M551.7 157.7l1.8 3.3h-3.6z"/><path d="M555.8 157.7l1.8 3.3h-3.6z"/><path d="M525.1 157.1l1.8 3.3h-3.6z"/><path d="M529.2 154.8l1.8 3.3h-3.6z"/><path d="M533.2 154.1l1.8 3.3h-3.6z"/><path d="M537.4 154.0l1.8 3.3h-3.6z"/><path d="M518.9 152.9l1.8 3.3h-3.6z"/><path d="M523.0 152.7l1.8 3.3h-3.6z"/><path d="M527.1 152.5l1.8 3.3h-3.6z"/><path d="M531.2 152.1l1.8 3.3h-3.6z"/><path d="M535.3 151.8l1.8 3.3h-3.6z"/><path d="M539.4 151.2l1.8 3.3h-3.6z"/><path d="M543.5 150.0l1.8 3.3h-3.6z"/><path d="M527.1 147.3l1.8 3.3h-3.6z"/><path d="M531.2 144.2l1.8 3.3h-3.6z"/><path d="M535.3 143.9l1.8 3.3h-3.6z"/><path d="M525.1 143.2l1.8 3.3h-3.6z"/><path d="M529.2 142.4l1.8 3.3h-3.6z"/><path d="M533.2 141.0l1.8 3.3h-3.6z"/><path d="M537.4 139.5l1.8 3.3h-3.6z"/><path d="M529.2 138.0l1.8 3.3h-3.6z"/><path d="M533.2 134.9l1.8 3.3h-3.6z"/><path d="M531.2 132.4l1.8 3.3h-3.6z"/><path d="M525.1 126.1l1.8 3.3h-3.6z"/><path d="M529.2 125.8l1.8 3.3h-3.6z"/><path d="M533.2 125.2l1.8 3.3h-3.6z"/><path d="M537.4 122.9l1.8 3.3h-3.6z"/><path d="M531.2 121.9l1.8 3.3h-3.6z"/><path d="M531.2 116.3l1.8 3.3h-3.6z"/><path d="M529.2 109.4l1.8 3.3h-3.6z"/><path d="M533.2 106.6l1.8 3.3h-3.6z"/></g>
<path d="M411.0 156.4H445.0M428.0 144.0V168.8M419.5 144.0H436.5M419.5 168.8H436.5" stroke="#000" stroke-width="1.5" fill="none"/>
<path d="M462.6 116.1H496.6M479.6 94.0V138.1M471.1 94.0H488.1M471.1 138.1H488.1" stroke="#000" stroke-width="1.5" fill="none"/>
<path d="M514.2 152.6H548.2M531.2 136.4V168.7M522.7 136.4H539.7M522.7 168.7H539.7" stroke="#000" stroke-width="1.5" fill="none"/>
<path d="M422.2 75V65.7H475.7V75" fill="none" stroke="#000" stroke-width="1.5"/>
<text x="448.9" y="68.2" font-size="13" text-anchor="middle" letter-spacing="1">*</text>
<path d="M478.2 75V65.7H530.8V75" fill="none" stroke="#000" stroke-width="1.5"/>
<text x="504.5" y="68.2" font-size="13" text-anchor="middle" letter-spacing="1">**</text>
<text x="474.5" y="44.4" font-size="18.3" text-anchor="middle">VE-Cad/Rab11a</text>
<text x="372" y="122" font-size="19.5" text-anchor="middle" transform="rotate(-90 372 122)">Colocalization (%)</text>
<text x="424" y="197" font-size="15.1" text-anchor="middle">Control</text>
<text x="482.8" y="197.5" font-size="15" text-anchor="middle">-Ca<tspan font-size="9.8" dy="-5.4">2+</tspan></text>
<text x="537.5" y="197.5" font-size="15" text-anchor="middle">+Ca<tspan font-size="9.8" dy="-5.4">2+</tspan></text>
<path d="M445 263.7V358.6H591.8" fill="none" stroke="#000" stroke-width="1.5"/>
<line x1="441.8" y1="358.6" x2="445" y2="358.6" stroke="#000" stroke-width="1.3"/>
<text x="441.0" y="361.7" font-size="8.7" text-anchor="end" letter-spacing="1.2">0</text>
<line x1="441.8" y1="339.7" x2="445" y2="339.7" stroke="#000" stroke-width="1.3"/>
<text x="441.0" y="342.9" font-size="8.7" text-anchor="end" letter-spacing="1.2">20</text>
<line x1="441.8" y1="320.8" x2="445" y2="320.8" stroke="#000" stroke-width="1.3"/>
<text x="441.0" y="324.0" font-size="8.7" text-anchor="end" letter-spacing="1.2">40</text>
<line x1="441.8" y1="302.0" x2="445" y2="302.0" stroke="#000" stroke-width="1.3"/>
<text x="441.0" y="305.1" font-size="8.7" text-anchor="end" letter-spacing="1.2">60</text>
<line x1="441.8" y1="283.1" x2="445" y2="283.1" stroke="#000" stroke-width="1.3"/>
<text x="441.0" y="286.2" font-size="8.7" text-anchor="end" letter-spacing="1.2">80</text>
<line x1="441.8" y1="264.2" x2="445" y2="264.2" stroke="#000" stroke-width="1.3"/>
<text x="441.0" y="267.3" font-size="8.7" text-anchor="end" letter-spacing="1.2">100</text>
<line x1="469.9" y1="358.6" x2="469.9" y2="361.8" stroke="#000" stroke-width="1.3"/>
<line x1="518.6" y1="358.6" x2="518.6" y2="361.8" stroke="#000" stroke-width="1.3"/>
<line x1="567.2" y1="358.6" x2="567.2" y2="361.8" stroke="#000" stroke-width="1.3"/>
<g fill="#111"><circle cx="468.1" cy="354.2" r="1.50"/><circle cx="471.7" cy="351.4" r="1.50"/><circle cx="464.5" cy="349.5" r="1.50"/><circle cx="468.1" cy="348.6" r="1.50"/><circle cx="471.7" cy="347.2" r="1.50"/><circle cx="475.3" cy="347.2" r="1.50"/><circle cx="453.7" cy="346.1" r="1.50"/><circle cx="457.3" cy="345.6" r="1.50"/><circle cx="460.9" cy="345.4" r="1.50"/><circle cx="464.5" cy="345.1" r="1.50"/><circle cx="468.1" cy="344.9" r="1.50"/><circle cx="471.7" cy="344.6" r="1.50"/><circle cx="475.3" cy="344.3" r="1.50"/><circle cx="478.9" cy="343.9" r="1.50"/><circle cx="482.5" cy="343.5" r="1.50"/><circle cx="486.1" cy="343.1" r="1.50"/><circle cx="462.7" cy="342.6" r="1.50"/><circle cx="466.3" cy="341.8" r="1.50"/><circle cx="469.9" cy="341.0" r="1.50"/><circle cx="473.5" cy="340.6" r="1.50"/><circle cx="477.1" cy="339.7" r="1.50"/><circle cx="453.7" cy="338.1" r="1.50"/><circle cx="457.3" cy="338.1" r="1.50"/><circle cx="460.9" cy="337.7" r="1.50"/><circle cx="464.5" cy="337.5" r="1.50"/><circle cx="468.1" cy="337.4" r="1.50"/><circle cx="471.7" cy="337.1" r="1.50"/><circle cx="475.3" cy="336.3" r="1.50"/><circle cx="478.9" cy="335.9" r="1.50"/><circle cx="482.5" cy="335.0" r="1.50"/><circle cx="486.1" cy="334.9" r="1.50"/><circle cx="460.9" cy="334.1" r="1.50"/><circle cx="464.5" cy="333.5" r="1.50"/><circle cx="468.1" cy="333.2" r="1.50"/><circle cx="471.7" cy="332.4" r="1.50"/><circle cx="475.3" cy="332.3" r="1.50"/><circle cx="478.9" cy="331.6" r="1.50"/><circle cx="468.1" cy="330.7" r="1.50"/><circle cx="471.7" cy="330.3" r="1.50"/><circle cx="457.3" cy="326.4" r="1.50"/><circle cx="460.9" cy="326.2" r="1.50"/><circle cx="464.5" cy="325.8" r="1.50"/><circle cx="468.1" cy="325.0" r="1.50"/><circle cx="471.7" cy="324.4" r="1.50"/><circle cx="475.3" cy="323.7" r="1.50"/><circle cx="478.9" cy="323.7" r="1.50"/><circle cx="482.5" cy="323.4" r="1.50"/><circle cx="469.9" cy="322.5" r="1.50"/><circle cx="468.1" cy="318.4" r="1.50"/><circle cx="471.7" cy="315.4" r="1.50"/><circle cx="464.5" cy="314.0" r="1.50"/><circle cx="468.1" cy="313.9" r="1.50"/><circle cx="471.7" cy="313.7" r="1.50"/><circle cx="475.3" cy="312.3" r="1.50"/><circle cx="468.1" cy="310.6" r="1.50"/><circle cx="471.7" cy="307.2" r="1.50"/><rect x="513.0" y="326.8" width="2.9" height="2.9"/><rect x="517.1" y="324.9" width="2.9" height="2.9"/><rect x="521.2" y="323.6" width="2.9" height="2.9"/><rect x="511.0" y="321.6" width="2.9" height="2.9"/><rect x="515.1" y="320.8" width="2.9" height="2.9"/><rect x="519.2" y="320.6" width="2.9" height="2.9"/><rect x="523.3" y="318.2" width="2.9" height="2.9"/><rect x="511.0" y="317.9" width="2.9" height="2.9"/><rect x="515.1" y="317.8" width="2.9" height="2.9"/><rect x="519.2" y="314.9" width="2.9" height="2.9"/><rect x="523.3" y="314.7" width="2.9" height="2.9"/><rect x="511.0" y="312.1" width="2.9" height="2.9"/><rect x="515.1" y="311.9" width="2.9" height="2.9"/><rect x="519.2" y="309.6" width="2.9" height="2.9"/><rect x="523.3" y="309.4" width="2.9" height="2.9"/><rect x="506.9" y="308.2" width="2.9" height="2.9"/><rect x="511.0" y="308.1" width="2.9" height="2.9"/><rect x="515.1" y="307.9" width="2.9" height="2.9"/><rect x="519.2" y="307.4" width="2.9" height="2.9"/><rect x="523.3" y="306.3" width="2.9" height="2.9"/><rect x="527.4" y="304.7" width="2.9" height="2.9"/><rect x="515.1" y="304.1" width="2.9" height="2.9"/><rect x="519.2" y="302.2" width="2.9" height="2.9"/><rect x="502.8" y="300.2" width="2.9" height="2.9"/><rect x="506.9" y="300.1" width="2.9" height="2.9"/><rect x="511.0" y="300.0" width="2.9" height="2.9"/><rect x="515.1" y="299.1" width="2.9" height="2.9"/><rect x="519.2" y="298.4" width="2.9" height="2.9"/><rect x="523.3" y="296.9" width="2.9" height="2.9"/><rect x="527.4" y="296.8" width="2.9" height="2.9"/><rect x="531.5" y="296.8" width="2.9" height="2.9"/><rect x="502.8" y="295.7" width="2.9" height="2.9"/><rect x="506.9" y="295.4" width="2.9" height="2.9"/><rect x="511.0" y="294.8" width="2.9" height="2.9"/><rect x="515.1" y="294.8" width="2.9" height="2.9"/><rect x="519.2" y="293.4" width="2.9" height="2.9"/><rect x="523.3" y="292.8" width="2.9" height="2.9"/><rect x="527.4" y="292.6" width="2.9" height="2.9"/><rect x="531.5" y="292.5" width="2.9" height="2.9"/><rect x="513.0" y="291.0" width="2.9" height="2.9"/><rect x="517.1" y="290.7" width="2.9" height="2.9"/><rect x="521.2" y="287.8" width="2.9" height="2.9"/><rect x="511.0" y="287.3" width="2.9" height="2.9"/><rect x="515.1" y="286.4" width="2.9" height="2.9"/><rect x="519.2" y="286.3" width="2.9" height="2.9"/><rect x="523.3" y="285.7" width="2.9" height="2.9"/><rect x="515.1" y="283.7" width="2.9" height="2.9"/><rect x="519.2" y="281.8" width="2.9" height="2.9"/><rect x="515.1" y="278.7" width="2.9" height="2.9"/><rect x="519.2" y="277.9" width="2.9" height="2.9"/><rect x="513.0" y="273.2" width="2.9" height="2.9"/><rect x="517.1" y="273.0" width="2.9" height="2.9"/><rect x="521.2" y="272.6" width="2.9" height="2.9"/><rect x="517.1" y="269.6" width="2.9" height="2.9"/><path d="M563.2 354.5l1.7 3.0h-3.3z"/><path d="M567.2 353.8l1.7 3.0h-3.3z"/><path d="M571.2 353.5l1.7 3.0h-3.3z"/><path d="M561.2 349.6l1.7 3.0h-3.3z"/><path d="M565.2 349.3l1.7 3.0h-3.3z"/><path d="M569.2 348.6l1.7 3.0h-3.3z"/><path d="M573.2 346.7l1.7 3.0h-3.3z"/><path d="M557.2 345.9l1.7 3.0h-3.3z"/><path d="M561.2 345.2l1.7 3.0h-3.3z"/><path d="M565.2 344.2l1.7 3.0h-3.3z"/><path d="M569.2 343.2l1.7 3.0h-3.3z"/><path d="M573.2 343.1l1.7 3.0h-3.3z"/><path d="M577.2 342.7l1.7 3.0h-3.3z"/><path d="M555.2 340.5l1.7 3.0h-3.3z"/><path d="M559.2 339.7l1.7 3.0h-3.3z"/><path d="M563.2 339.2l1.7 3.0h-3.3z"/><path d="M567.2 338.0l1.7 3.0h-3.3z"/><path d="M571.2 337.9l1.7 3.0h-3.3z"/><path d="M575.2 337.9l1.7 3.0h-3.3z"/><path d="M579.2 337.5l1.7 3.0h-3.3z"/><path d="M555.2 336.9l1.7 3.0h-3.3z"/><path d="M559.2 336.4l1.7 3.0h-3.3z"/><path d="M563.2 336.0l1.7 3.0h-3.3z"/><path d="M567.2 335.4l1.7 3.0h-3.3z"/><path d="M571.2 334.7l1.7 3.0h-3.3z"/><path d="M575.2 333.9l1.7 3.0h-3.3z"/><path d="M579.2 333.8l1.7 3.0h-3.3z"/><path d="M559.2 333.3l1.7 3.0h-3.3z"/><path d="M563.2 332.1l1.7 3.0h-3.3z"/><path d="M567.2 331.3l1.7 3.0h-3.3z"/><path d="M571.2 330.9l1.7 3.0h-3.3z"/><path d="M575.2 330.0l1.7 3.0h-3.3z"/><path d="M561.2 329.7l1.7 3.0h-3.3z"/><path d="M565.2 328.8l1.7 3.0h-3.3z"/><path d="M569.2 328.0l1.7 3.0h-3.3z"/><path d="M573.2 326.7l1.7 3.0h-3.3z"/><path d="M559.2 325.7l1.7 3.0h-3.3z"/><path d="M563.2 324.9l1.7 3.0h-3.3z"/><path d="M567.2 324.2l1.7 3.0h-3.3z"/><path d="M571.2 323.0l1.7 3.0h-3.3z"/><path d="M575.2 322.7l1.7 3.0h-3.3z"/><path d="M567.2 322.1l1.7 3.0h-3.3z"/><path d="M559.2 318.3l1.7 3.0h-3.3z"/><path d="M563.2 317.3l1.7 3.0h-3.3z"/><path d="M567.2 316.0l1.7 3.0h-3.3z"/><path d="M571.2 315.7l1.7 3.0h-3.3z"/><path d="M575.2 315.3l1.7 3.0h-3.3z"/><path d="M563.2 312.6l1.7 3.0h-3.3z"/><path d="M567.2 311.7l1.7 3.0h-3.3z"/><path d="M571.2 310.2l1.7 3.0h-3.3z"/><path d="M565.2 307.8l1.7 3.0h-3.3z"/><path d="M569.2 307.6l1.7 3.0h-3.3z"/></g>
<path d="M453.9 336.9H485.9M469.9 324.1V349.6M461.9 324.1H477.9M461.9 349.6H477.9" stroke="#000" stroke-width="1.5" fill="none"/>
<path d="M502.6 301.0H534.6M518.6 285.0V317.1M510.6 285.0H526.6M510.6 317.1H526.6" stroke="#000" stroke-width="1.5" fill="none"/>
<path d="M551.2 335.0H583.2M567.2 320.8V349.2M559.2 320.8H575.2M559.2 349.2H575.2" stroke="#000" stroke-width="1.5" fill="none"/>
<path d="M466.7 266.5V258H518V266.5" fill="none" stroke="#000" stroke-width="1.5"/>
<text x="492.4" y="260.5" font-size="12" text-anchor="middle" letter-spacing="1">*</text>
<path d="M520.3 266.5V258H569.5V266.5" fill="none" stroke="#000" stroke-width="1.5"/>
<text x="544.9" y="260.5" font-size="12" text-anchor="middle" letter-spacing="1">**</text>
<text x="506.5" y="243" font-size="15.2" text-anchor="middle">VE-Cad/Rab11a-WT</text>
<text x="417.6" y="305.6" font-size="18.3" text-anchor="middle" transform="rotate(-90 417.6 305.6)">Colocalization (%)</text>
<text x="467" y="378.8" font-size="14.8" text-anchor="middle">Control</text>
<text x="517.5" y="378.8" font-size="14.8" text-anchor="middle">-Ca<tspan font-size="9.6" dy="-5.3">2+</tspan></text>
<text x="567.5" y="378.8" font-size="14.8" text-anchor="middle">+Ca<tspan font-size="9.6" dy="-5.3">2+</tspan></text>
<path d="M444.3 424.6V519.5H592" fill="none" stroke="#000" stroke-width="1.5"/>
<line x1="441.1" y1="519.5" x2="444.3" y2="519.5" stroke="#000" stroke-width="1.3"/>
<text x="440.3" y="522.6" font-size="8.7" text-anchor="end" letter-spacing="1.2">0</text>
<line x1="441.1" y1="500.6" x2="444.3" y2="500.6" stroke="#000" stroke-width="1.3"/>
<text x="440.3" y="503.8" font-size="8.7" text-anchor="end" letter-spacing="1.2">20</text>
<line x1="441.1" y1="481.7" x2="444.3" y2="481.7" stroke="#000" stroke-width="1.3"/>
<text x="440.3" y="484.9" font-size="8.7" text-anchor="end" letter-spacing="1.2">40</text>
<line x1="441.1" y1="462.9" x2="444.3" y2="462.9" stroke="#000" stroke-width="1.3"/>
<text x="440.3" y="466.0" font-size="8.7" text-anchor="end" letter-spacing="1.2">60</text>
<line x1="441.1" y1="444.0" x2="444.3" y2="444.0" stroke="#000" stroke-width="1.3"/>
<text x="440.3" y="447.1" font-size="8.7" text-anchor="end" letter-spacing="1.2">80</text>
<line x1="441.1" y1="425.1" x2="444.3" y2="425.1" stroke="#000" stroke-width="1.3"/>
<text x="440.3" y="428.2" font-size="8.7" text-anchor="end" letter-spacing="1.2">100</text>
<line x1="467.9" y1="519.5" x2="467.9" y2="522.7" stroke="#000" stroke-width="1.3"/>
<line x1="515" y1="519.5" x2="515" y2="522.7" stroke="#000" stroke-width="1.3"/>
<line x1="563.5" y1="519.5" x2="563.5" y2="522.7" stroke="#000" stroke-width="1.3"/>
<g fill="#111"><circle cx="460.5" cy="512.4" r="1.50"/><circle cx="464.2" cy="511.9" r="1.50"/><circle cx="467.9" cy="511.0" r="1.50"/><circle cx="471.6" cy="510.8" r="1.50"/><circle cx="475.3" cy="510.8" r="1.50"/><circle cx="462.3" cy="508.6" r="1.50"/><circle cx="466.0" cy="505.5" r="1.50"/><circle cx="469.8" cy="505.4" r="1.50"/><circle cx="473.4" cy="505.2" r="1.50"/><circle cx="454.9" cy="504.0" r="1.50"/><circle cx="458.6" cy="504.0" r="1.50"/><circle cx="462.3" cy="503.5" r="1.50"/><circle cx="466.0" cy="502.9" r="1.50"/><circle cx="469.8" cy="502.7" r="1.50"/><circle cx="473.4" cy="502.3" r="1.50"/><circle cx="477.1" cy="501.8" r="1.50"/><circle cx="480.8" cy="500.6" r="1.50"/><circle cx="462.3" cy="500.0" r="1.50"/><circle cx="466.0" cy="499.7" r="1.50"/><circle cx="469.8" cy="497.9" r="1.50"/><circle cx="473.4" cy="497.8" r="1.50"/><circle cx="458.6" cy="496.2" r="1.50"/><circle cx="462.3" cy="495.0" r="1.50"/><circle cx="466.0" cy="494.1" r="1.50"/><circle cx="469.8" cy="494.0" r="1.50"/><circle cx="473.4" cy="493.7" r="1.50"/><circle cx="477.1" cy="493.1" r="1.50"/><circle cx="458.6" cy="492.2" r="1.50"/><circle cx="462.3" cy="491.8" r="1.50"/><circle cx="466.0" cy="491.7" r="1.50"/><circle cx="469.8" cy="491.1" r="1.50"/><circle cx="473.4" cy="490.8" r="1.50"/><circle cx="477.1" cy="488.9" r="1.50"/><circle cx="464.2" cy="488.2" r="1.50"/><circle cx="467.9" cy="487.3" r="1.50"/><circle cx="471.6" cy="485.8" r="1.50"/><circle cx="456.8" cy="483.0" r="1.50"/><circle cx="460.5" cy="482.7" r="1.50"/><circle cx="464.2" cy="482.6" r="1.50"/><circle cx="467.9" cy="481.5" r="1.50"/><circle cx="471.6" cy="481.4" r="1.50"/><circle cx="475.3" cy="480.8" r="1.50"/><circle cx="479.0" cy="480.8" r="1.50"/><circle cx="467.9" cy="475.5" r="1.50"/><circle cx="458.6" cy="471.6" r="1.50"/><circle cx="462.3" cy="470.8" r="1.50"/><circle cx="466.0" cy="469.6" r="1.50"/><circle cx="469.8" cy="468.4" r="1.50"/><circle cx="473.4" cy="468.4" r="1.50"/><circle cx="477.1" cy="468.1" r="1.50"/><circle cx="466.0" cy="467.0" r="1.50"/><circle cx="469.8" cy="466.4" r="1.50"/><rect x="513.5" y="507.0" width="2.9" height="2.9"/><rect x="509.4" y="494.2" width="2.9" height="2.9"/><rect x="513.5" y="493.5" width="2.9" height="2.9"/><rect x="517.6" y="492.4" width="2.9" height="2.9"/><rect x="511.5" y="485.3" width="2.9" height="2.9"/><rect x="515.6" y="482.6" width="2.9" height="2.9"/><rect x="499.2" y="480.3" width="2.9" height="2.9"/><rect x="503.3" y="480.0" width="2.9" height="2.9"/><rect x="507.4" y="479.8" width="2.9" height="2.9"/><rect x="511.5" y="479.6" width="2.9" height="2.9"/><rect x="515.6" y="479.2" width="2.9" height="2.9"/><rect x="519.7" y="477.9" width="2.9" height="2.9"/><rect x="523.8" y="477.4" width="2.9" height="2.9"/><rect x="527.9" y="477.2" width="2.9" height="2.9"/><rect x="509.4" y="474.0" width="2.9" height="2.9"/><rect x="513.5" y="472.1" width="2.9" height="2.9"/><rect x="517.6" y="470.9" width="2.9" height="2.9"/><rect x="505.4" y="467.7" width="2.9" height="2.9"/><rect x="509.4" y="467.5" width="2.9" height="2.9"/><rect x="513.5" y="467.1" width="2.9" height="2.9"/><rect x="517.6" y="465.7" width="2.9" height="2.9"/><rect x="521.8" y="464.8" width="2.9" height="2.9"/><rect x="503.3" y="463.9" width="2.9" height="2.9"/><rect x="507.4" y="462.8" width="2.9" height="2.9"/><rect x="511.5" y="462.3" width="2.9" height="2.9"/><rect x="515.6" y="462.2" width="2.9" height="2.9"/><rect x="519.7" y="461.9" width="2.9" height="2.9"/><rect x="523.8" y="461.2" width="2.9" height="2.9"/><rect x="503.3" y="459.6" width="2.9" height="2.9"/><rect x="507.4" y="459.5" width="2.9" height="2.9"/><rect x="511.5" y="457.0" width="2.9" height="2.9"/><rect x="515.6" y="456.6" width="2.9" height="2.9"/><rect x="519.7" y="456.2" width="2.9" height="2.9"/><rect x="523.8" y="456.1" width="2.9" height="2.9"/><rect x="501.2" y="455.7" width="2.9" height="2.9"/><rect x="505.4" y="454.5" width="2.9" height="2.9"/><rect x="509.4" y="454.5" width="2.9" height="2.9"/><rect x="513.5" y="454.0" width="2.9" height="2.9"/><rect x="517.6" y="453.5" width="2.9" height="2.9"/><rect x="521.8" y="453.0" width="2.9" height="2.9"/><rect x="525.8" y="452.5" width="2.9" height="2.9"/><rect x="509.4" y="450.8" width="2.9" height="2.9"/><rect x="513.5" y="450.1" width="2.9" height="2.9"/><rect x="517.6" y="448.1" width="2.9" height="2.9"/><rect x="509.4" y="446.6" width="2.9" height="2.9"/><rect x="513.5" y="443.5" width="2.9" height="2.9"/><rect x="517.6" y="443.4" width="2.9" height="2.9"/><rect x="507.4" y="441.9" width="2.9" height="2.9"/><rect x="511.5" y="441.1" width="2.9" height="2.9"/><rect x="515.6" y="440.2" width="2.9" height="2.9"/><rect x="519.7" y="440.2" width="2.9" height="2.9"/><rect x="513.5" y="436.0" width="2.9" height="2.9"/><path d="M563.5 501.6l1.7 3.0h-3.3z"/><path d="M563.5 494.2l1.7 3.0h-3.3z"/><path d="M561.5 490.0l1.7 3.0h-3.3z"/><path d="M565.5 489.6l1.7 3.0h-3.3z"/><path d="M557.5 485.1l1.7 3.0h-3.3z"/><path d="M561.5 484.9l1.7 3.0h-3.3z"/><path d="M565.5 484.2l1.7 3.0h-3.3z"/><path d="M569.5 484.0l1.7 3.0h-3.3z"/><path d="M555.5 480.4l1.7 3.0h-3.3z"/><path d="M559.5 480.1l1.7 3.0h-3.3z"/><path d="M563.5 478.8l1.7 3.0h-3.3z"/><path d="M567.5 478.5l1.7 3.0h-3.3z"/><path d="M571.5 477.2l1.7 3.0h-3.3z"/><path d="M553.5 475.2l1.7 3.0h-3.3z"/><path d="M557.5 474.6l1.7 3.0h-3.3z"/><path d="M561.5 474.4l1.7 3.0h-3.3z"/><path d="M565.5 473.6l1.7 3.0h-3.3z"/><path d="M569.5 473.0l1.7 3.0h-3.3z"/><path d="M573.5 472.0l1.7 3.0h-3.3z"/><path d="M559.5 471.1l1.7 3.0h-3.3z"/><path d="M563.5 470.2l1.7 3.0h-3.3z"/><path d="M567.5 468.8l1.7 3.0h-3.3z"/><path d="M557.5 466.6l1.7 3.0h-3.3z"/><path d="M561.5 466.2l1.7 3.0h-3.3z"/><path d="M565.5 464.6l1.7 3.0h-3.3z"/><path d="M569.5 463.7l1.7 3.0h-3.3z"/><path d="M553.5 462.6l1.7 3.0h-3.3z"/><path d="M557.5 462.4l1.7 3.0h-3.3z"/><path d="M561.5 462.0l1.7 3.0h-3.3z"/><path d="M565.5 461.4l1.7 3.0h-3.3z"/><path d="M569.5 460.1l1.7 3.0h-3.3z"/><path d="M573.5 459.1l1.7 3.0h-3.3z"/><path d="M551.5 458.9l1.7 3.0h-3.3z"/><path d="M555.5 458.6l1.7 3.0h-3.3z"/><path d="M559.5 458.4l1.7 3.0h-3.3z"/><path d="M563.5 457.6l1.7 3.0h-3.3z"/><path d="M567.5 457.0l1.7 3.0h-3.3z"/><path d="M571.5 456.9l1.7 3.0h-3.3z"/><path d="M575.5 456.8l1.7 3.0h-3.3z"/><path d="M557.5 453.8l1.7 3.0h-3.3z"/><path d="M561.5 453.8l1.7 3.0h-3.3z"/><path d="M565.5 453.5l1.7 3.0h-3.3z"/><path d="M569.5 450.4l1.7 3.0h-3.3z"/><path d="M557.5 450.1l1.7 3.0h-3.3z"/><path d="M561.5 449.8l1.7 3.0h-3.3z"/><path d="M565.5 449.7l1.7 3.0h-3.3z"/><path d="M569.5 448.6l1.7 3.0h-3.3z"/><path d="M559.5 443.8l1.7 3.0h-3.3z"/><path d="M563.5 443.2l1.7 3.0h-3.3z"/><path d="M567.5 442.9l1.7 3.0h-3.3z"/></g>
<path d="M452.2 495.2H483.6M467.9 480.1V510.3M460.4 480.1H475.4M460.4 510.3H475.4" stroke="#000" stroke-width="1.5" fill="none"/>
<path d="M499.3 465.2H530.7M515.0 447.6V482.9M507.5 447.6H522.5M507.5 482.9H522.5" stroke="#000" stroke-width="1.5" fill="none"/>
<path d="M547.5 469.5H579.5M563.5 455.3V483.6M555.5 455.3H571.5M555.5 483.6H571.5" stroke="#000" stroke-width="1.5" fill="none"/>
<path d="M465.3 427.5V419H515V427.5" fill="none" stroke="#000" stroke-width="1.5"/>
<text x="490.1" y="421.5" font-size="12" text-anchor="middle" letter-spacing="1">*</text>
<text x="511" y="407.3" font-size="15.2" text-anchor="middle">VE-Cad/Rab11a-S25N</text>
<text x="417.4" y="467.8" font-size="18.4" text-anchor="middle" transform="rotate(-90 417.4 467.8)">Colocalization (%)</text>
<text x="465.8" y="545.4" font-size="14.8" text-anchor="middle">Control</text>
<text x="516.5" y="545" font-size="14.8" text-anchor="middle">-Ca<tspan font-size="9.6" dy="-5.3">2+</tspan></text>
<text x="573" y="545" font-size="14.8" text-anchor="middle">+Ca<tspan font-size="9.6" dy="-5.3">2+</tspan></text>
<path d="M646.3 66.5V181H794.3" fill="none" stroke="#000" stroke-width="1.4"/>
<line x1="643.0999999999999" y1="181.0" x2="646.3" y2="181.0" stroke="#000" stroke-width="1.2"/>
<text x="638.8" y="184.6" font-size="10" text-anchor="end">0.0</text>
<line x1="643.0999999999999" y1="162.0" x2="646.3" y2="162.0" stroke="#000" stroke-width="1.2"/>
<text x="638.8" y="165.6" font-size="10" text-anchor="end">0.2</text>
<line x1="643.0999999999999" y1="143.0" x2="646.3" y2="143.0" stroke="#000" stroke-width="1.2"/>
<text x="638.8" y="146.6" font-size="10" text-anchor="end">0.4</text>
<line x1="643.0999999999999" y1="124.0" x2="646.3" y2="124.0" stroke="#000" stroke-width="1.2"/>
<text x="638.8" y="127.6" font-size="10" text-anchor="end">0.6</text>
<line x1="643.0999999999999" y1="105.0" x2="646.3" y2="105.0" stroke="#000" stroke-width="1.2"/>
<text x="638.8" y="108.6" font-size="10" text-anchor="end">0.8</text>
<line x1="643.0999999999999" y1="86.0" x2="646.3" y2="86.0" stroke="#000" stroke-width="1.2"/>
<text x="638.8" y="89.6" font-size="10" text-anchor="end">1.0</text>
<line x1="643.0999999999999" y1="67.0" x2="646.3" y2="67.0" stroke="#000" stroke-width="1.2"/>
<text x="638.8" y="70.6" font-size="10" text-anchor="end">1.2</text>
<path d="M663.5 86.0V77.3M660.0 77.3H667.0" stroke="#000" stroke-width="1.2" fill="none"/>
<rect x="656.9" y="86.0" width="13.1" height="95.0" fill="#fff" stroke="#000" stroke-width="1.1"/>
<path d="M679.3 130.2V124.6M675.8 124.6H682.8" stroke="#000" stroke-width="1.2" fill="none"/>
<rect x="672.3" y="130.2" width="14.1" height="50.8" fill="#000" stroke="#000" stroke-width="1.1"/>
<path d="M712.1 179.0V178.3M708.6 178.3H715.6" stroke="#000" stroke-width="1.2" fill="none"/>
<rect x="704.8" y="179.0" width="14.6" height="2.0" fill="#000" stroke="#000" stroke-width="1.1"/>
<path d="M728.6 179.4V177.6M725.1 177.6H732.1" stroke="#000" stroke-width="1.2" fill="none"/>
<rect x="721.3" y="179.4" width="14.7" height="1.6" fill="#000" stroke="#000" stroke-width="1.1"/>
<path d="M761.6 88.0V82.6M758.1 82.6H765.1" stroke="#000" stroke-width="1.2" fill="none"/>
<rect x="754.5" y="88.0" width="14.2" height="93.0" fill="#fff" stroke="#000" stroke-width="1.1"/>
<path d="M777.9 157.0V154.6M774.4 154.6H781.4" stroke="#000" stroke-width="1.2" fill="none"/>
<rect x="771.0" y="157.0" width="13.7" height="24.0" fill="#000" stroke="#000" stroke-width="1.1"/>
<text x="679.4" y="123.6" font-size="15" text-anchor="middle" font-weight="bold">*</text>
<text x="777.8" y="148.3" font-size="10" text-anchor="middle">†</text>
<rect x="679.3" y="62.5" width="18.2" height="6" fill="#fff" stroke="#000" stroke-width="1.2"/>
<rect x="679.3" y="75" width="18.2" height="6.2" fill="#000" stroke="#000" stroke-width="1.2"/>
<text x="706.8" y="65.8" font-size="9" textLength="21.5" lengthAdjust="spacingAndGlyphs">si Sc</text>
<text x="706.3" y="79.1" font-size="9" textLength="45.7" lengthAdjust="spacingAndGlyphs">si Rab11a</text>
<text x="670.7" y="201.2" font-size="11.5" text-anchor="middle" textLength="38" lengthAdjust="spacingAndGlyphs">Control</text>
<text x="721.5" y="201.8" font-size="11.2" text-anchor="middle" textLength="29" lengthAdjust="spacingAndGlyphs">-Ca<tspan font-size="8" dy="-4.6">2+</tspan></text>
<text x="770.4" y="201.8" font-size="11.2" text-anchor="middle" textLength="31" lengthAdjust="spacingAndGlyphs">+Ca<tspan font-size="8" dy="-4.6">2+</tspan></text>
<text x="594.8" y="127.3" font-size="18.5" text-anchor="middle" transform="rotate(-90 594.8 127.3)">Junctional VE-Cad</text>
<text x="613.2" y="126.8" font-size="15.5" text-anchor="middle" transform="rotate(-90 613.2 126.8)">(Relative Intensity)</text>
<path d="M675.3 335.75V444.4H800" fill="none" stroke="#000" stroke-width="1.4"/>
<line x1="673.0999999999999" y1="444.4" x2="675.3" y2="444.4" stroke="#000" stroke-width="1.2"/>
<text x="668.4" y="448.5" font-size="11.5" text-anchor="end" textLength="13.2" lengthAdjust="spacingAndGlyphs">0.0</text>
<line x1="673.0999999999999" y1="428.9" x2="675.3" y2="428.9" stroke="#000" stroke-width="1.2"/>
<text x="668.4" y="433.1" font-size="11.5" text-anchor="end" textLength="13.2" lengthAdjust="spacingAndGlyphs">0.2</text>
<line x1="673.0999999999999" y1="413.5" x2="675.3" y2="413.5" stroke="#000" stroke-width="1.2"/>
<text x="668.4" y="417.6" font-size="11.5" text-anchor="end" textLength="13.2" lengthAdjust="spacingAndGlyphs">0.4</text>
<line x1="673.0999999999999" y1="398.1" x2="675.3" y2="398.1" stroke="#000" stroke-width="1.2"/>
<text x="668.4" y="402.2" font-size="11.5" text-anchor="end" textLength="13.2" lengthAdjust="spacingAndGlyphs">0.6</text>
<line x1="673.0999999999999" y1="382.6" x2="675.3" y2="382.6" stroke="#000" stroke-width="1.2"/>
<text x="668.4" y="386.7" font-size="11.5" text-anchor="end" textLength="13.2" lengthAdjust="spacingAndGlyphs">0.8</text>
<line x1="673.0999999999999" y1="367.1" x2="675.3" y2="367.1" stroke="#000" stroke-width="1.2"/>
<text x="668.4" y="371.2" font-size="11.5" text-anchor="end" textLength="13.2" lengthAdjust="spacingAndGlyphs">1.0</text>
<line x1="673.0999999999999" y1="351.7" x2="675.3" y2="351.7" stroke="#000" stroke-width="1.2"/>
<text x="668.4" y="355.8" font-size="11.5" text-anchor="end" textLength="13.2" lengthAdjust="spacingAndGlyphs">1.2</text>
<line x1="673.0999999999999" y1="336.2" x2="675.3" y2="336.2" stroke="#000" stroke-width="1.2"/>
<text x="668.4" y="340.4" font-size="11.5" text-anchor="end" textLength="13.2" lengthAdjust="spacingAndGlyphs">1.4</text>
<path d="M686.1 366.2V358.4M682.6 358.4H689.6" stroke="#000" stroke-width="1.2" fill="none"/>
<rect x="681.9" y="366.2" width="8.4" height="78.1" fill="#fff" stroke="#000" stroke-width="1.1"/>
<path d="M696.2 365.3V350.3M692.8 350.3H699.8" stroke="#000" stroke-width="1.2" fill="none"/>
<rect x="692.2" y="365.3" width="8.1" height="79.1" fill="#000" stroke="#000" stroke-width="1.1"/>
<path d="M706.2 398.1V390.6M702.8 390.6H709.8" stroke="#000" stroke-width="1.2" fill="none"/>
<rect x="702.1" y="398.1" width="8.3" height="46.3" fill="#b9b9b9" stroke="#000" stroke-width="1.1"/>
<path d="M727.4 434.1V432.8M723.9 432.8H730.9" stroke="#000" stroke-width="1.2" fill="none"/>
<rect x="723.1" y="434.1" width="8.5" height="10.3" fill="#fff" stroke="#000" stroke-width="1.1"/>
<path d="M737.6 433.4V431.0M734.1 431.0H741.1" stroke="#000" stroke-width="1.2" fill="none"/>
<rect x="733.4" y="433.4" width="8.5" height="11.0" fill="#000" stroke="#000" stroke-width="1.1"/>
<path d="M747.8 437.1V434.0M744.3 434.0H751.3" stroke="#000" stroke-width="1.2" fill="none"/>
<rect x="743.4" y="437.1" width="8.8" height="7.3" fill="#b9b9b9" stroke="#000" stroke-width="1.1"/>
<path d="M768.6 371.9V364.4M765.1 364.4H772.1" stroke="#000" stroke-width="1.2" fill="none"/>
<rect x="764.4" y="371.9" width="8.4" height="72.5" fill="#fff" stroke="#000" stroke-width="1.1"/>
<path d="M778.8 368.5V359.1M775.2 359.1H782.2" stroke="#000" stroke-width="1.2" fill="none"/>
<rect x="774.7" y="368.5" width="8.1" height="75.9" fill="#000" stroke="#000" stroke-width="1.1"/>
<path d="M789.0 420.6V411.2M785.5 411.2H792.5" stroke="#000" stroke-width="1.2" fill="none"/>
<rect x="784.6" y="420.6" width="8.8" height="23.8" fill="#b9b9b9" stroke="#000" stroke-width="1.1"/>
<text x="706.6" y="391.5" font-size="15" text-anchor="middle" font-weight="bold">*</text>
<text x="789.1" y="408" font-size="10.5" text-anchor="middle">†</text>
<rect x="703.4" y="317.6" width="13.7" height="5.8" fill="#fff" stroke="#000" stroke-width="1.2"/>
<rect x="703.4" y="329" width="13.7" height="6.2" fill="#000" stroke="#000" stroke-width="1.2"/>
<rect x="703.4" y="341.6" width="13.7" height="5.8" fill="#b9b9b9" stroke="#000" stroke-width="1.2"/>
<text x="727.8" y="321.3" font-size="8.8" textLength="22.5" lengthAdjust="spacingAndGlyphs">Vector</text>
<text x="727.8" y="333.5" font-size="8.8" textLength="45" lengthAdjust="spacingAndGlyphs">Rab11a-WT</text>
<text x="729.1" y="345.7" font-size="8.8" textLength="54.4" lengthAdjust="spacingAndGlyphs">Rab11a-S25N</text>
<text x="696.4" y="461.5" font-size="10.8" text-anchor="middle" textLength="31" lengthAdjust="spacingAndGlyphs">Control</text>
<text x="736.5" y="462" font-size="10.8" text-anchor="middle" textLength="19.2" lengthAdjust="spacingAndGlyphs">-Ca<tspan font-size="7.5" dy="-4.6">2+</tspan></text>
<text x="778.7" y="462" font-size="10.8" text-anchor="middle" textLength="22" lengthAdjust="spacingAndGlyphs">+Ca<tspan font-size="7.5" dy="-4.6">2+</tspan></text>
<text x="629.2" y="385.9" font-size="18.3" text-anchor="middle" transform="rotate(-90 629.2 385.9)">Junctional VE-Cad</text>
<text x="647" y="385.3" font-size="15.45" text-anchor="middle" transform="rotate(-90 647 385.3)">(Relative Intensity)</text>
<path d="M586.8 586.6V699.4H745.5" fill="none" stroke="#000" stroke-width="1.4"/>
<line x1="584.0" y1="699.4" x2="586.8" y2="699.4" stroke="#000" stroke-width="1.2"/>
<text x="578.9" y="703.0" font-size="10" text-anchor="end">0</text>
<line x1="584.0" y1="676.9" x2="586.8" y2="676.9" stroke="#000" stroke-width="1.2"/>
<text x="578.9" y="680.5" font-size="10" text-anchor="end">20</text>
<line x1="584.0" y1="654.5" x2="586.8" y2="654.5" stroke="#000" stroke-width="1.2"/>
<text x="578.9" y="658.1" font-size="10" text-anchor="end">40</text>
<line x1="584.0" y1="632.0" x2="586.8" y2="632.0" stroke="#000" stroke-width="1.2"/>
<text x="578.9" y="635.6" font-size="10" text-anchor="end">60</text>
<line x1="584.0" y1="609.6" x2="586.8" y2="609.6" stroke="#000" stroke-width="1.2"/>
<text x="578.9" y="613.2" font-size="10" text-anchor="end">80</text>
<line x1="584.0" y1="587.1" x2="586.8" y2="587.1" stroke="#000" stroke-width="1.2"/>
<text x="578.9" y="590.7" font-size="10" text-anchor="end">100</text>
<line x1="586.8" y1="699.4" x2="586.8" y2="702.4" stroke="#000" stroke-width="1.2"/>
<line x1="665.9" y1="699.4" x2="665.9" y2="702.4" stroke="#000" stroke-width="1.2"/>
<line x1="744.9" y1="699.4" x2="744.9" y2="702.4" stroke="#000" stroke-width="1.2"/>
<text x="587.6" y="716" font-size="11.8" text-anchor="middle">0</text>
<text x="665.5" y="716" font-size="11.8" text-anchor="middle">0.5</text>
<text x="743.6" y="715.5" font-size="11.8" text-anchor="middle">1</text>
<path d="M586.8 699.4L665.9 645.6L744.9 596.25" fill="none" stroke="#43e243" stroke-width="1.6"/>
<path d="M586.8 699.4L665.9 680.9L744.9 654.25" fill="none" stroke="#c83030" stroke-width="1.6"/>
<path d="M665.9 636.8V653.5M664.3 636.8H667.5M664.3 653.5H667.5" stroke="#000" stroke-width="1.2" fill="none"/>
<path d="M744.9 589.7V603.5M743.3 589.7H746.5M743.3 603.5H746.5" stroke="#000" stroke-width="1.2" fill="none"/>
<path d="M665.9 675.6V686.5M664.3 675.6H667.5M664.3 686.5H667.5" stroke="#000" stroke-width="1.2" fill="none"/>
<path d="M744.9 650V657.9M743.3 650H746.5M743.3 657.9H746.5" stroke="#000" stroke-width="1.2" fill="none"/>
<circle cx="665.9" cy="645.6" r="1.3"/><circle cx="744.9" cy="596.25" r="1.3"/>
<circle cx="665.9" cy="680.9" r="1.2" fill="#fff" stroke="#000" stroke-width="0.6"/><circle cx="744.9" cy="654.25" r="1.2" fill="#fff" stroke="#000" stroke-width="0.6"/>
<circle cx="586.8" cy="699.4" r="1.2" fill="#fff" stroke="#a22" stroke-width="0.6"/>
<text x="751.8" y="660.3" font-size="15" text-anchor="middle" font-weight="bold">*</text>
<line x1="616.3" y1="577.4" x2="646" y2="577.4" stroke="#43e243" stroke-width="1.6"/>
<circle cx="631.2" cy="577.4" r="1.3"/>
<line x1="616.3" y1="593.6" x2="646" y2="593.6" stroke="#c83030" stroke-width="1.6"/>
<circle cx="631.2" cy="593.6" r="1.2" fill="#fff" stroke="#a22" stroke-width="0.6"/>
<text x="653.8" y="581.3" font-size="11.8" textLength="28.2" lengthAdjust="spacingAndGlyphs">si Sc</text>
<text x="653.8" y="598.1" font-size="11.8" textLength="59.4" lengthAdjust="spacingAndGlyphs">si Rab11a</text>
<text x="674.8" y="736.6" font-size="17.8" text-anchor="middle">Time (h)</text>
<text x="538.7" y="649.3" font-size="18.1" text-anchor="middle" transform="rotate(-90 538.7 649.3)">Recycled VE-Cad</text>
<text x="556.2" y="649" font-size="15.4" text-anchor="middle" transform="rotate(-90 556.2 649)">(% internalized)</text>
<rect x="128.3" y="647" width="356.1" height="22.6" fill="url(#s1)" stroke="#7d7d7d" stroke-width="0.8"/>
<rect x="128.3" y="673.4" width="356.1" height="22.3" fill="url(#s2)" stroke="#7d7d7d" stroke-width="0.8"/>
<rect x="128.3" y="699.6" width="356.1" height="22.6" fill="url(#s3)" stroke="#7d7d7d" stroke-width="0.8"/>
<rect x="128.3" y="726" width="356.1" height="22.9" fill="url(#s4)" stroke="#7d7d7d" stroke-width="0.8"/>
<g><rect x="135.4" y="656.2" width="34.1" height="6.2" rx="3.1" fill="#2a2a2a" opacity="0.55" filter="url(#bb2)"/><rect x="135.4" y="656.3" width="33.6" height="6.8" rx="3.4" fill="#151515" filter="url(#bb)"/><rect x="204.8" y="657.9" width="31.0" height="5.8" rx="2.9" fill="#1a1a1a" filter="url(#bb)"/><rect x="204.0" y="657.0" width="33.0" height="7.0" rx="3.5" fill="#333" opacity="0.4" filter="url(#bb2)"/><rect x="243.0" y="659.4" width="27.5" height="3.8" rx="1.9" fill="#222" filter="url(#bb)"/><rect x="279.5" y="661.0" width="22.5" height="1.9" rx="0.9" fill="#444" opacity="0.85" filter="url(#bb)"/><rect x="311.5" y="658.9" width="31.0" height="5.6" rx="2.8" fill="#151515" filter="url(#bb)"/><rect x="311.0" y="658.0" width="32.0" height="7.0" rx="3.5" fill="#333" opacity="0.4" filter="url(#bb2)"/><rect x="383.6" y="659.5" width="27.4" height="3.4" rx="1.7" fill="#222" filter="url(#bb)"/><rect x="419.5" y="659.5" width="26.5" height="3.0" rx="1.5" fill="#262626" filter="url(#bb)"/><rect x="454.9" y="660.5" width="25.4" height="2.5" rx="1.2" fill="#2b2b2b" filter="url(#bb)"/><rect x="135.4" y="681.0" width="23.6" height="4.4" rx="2.2" fill="#1e1e1e" opacity="0.95" transform="rotate(3 147.2 683.2)" filter="url(#bb)"/><rect x="170.0" y="682.7" width="25.5" height="5.2" rx="2.6" fill="#1e1e1e" opacity="0.95" filter="url(#bb)"/><rect x="204.8" y="683.5" width="25.2" height="4.6" rx="2.3" fill="#1e1e1e" opacity="0.95" filter="url(#bb)"/><rect x="240.0" y="684.6" width="26.5" height="4.8" rx="2.4" fill="#1e1e1e" opacity="0.95" filter="url(#bb)"/><rect x="275.3" y="684.4" width="26.7" height="5.2" rx="2.6" fill="#1e1e1e" opacity="0.95" filter="url(#bb)"/><rect x="312.0" y="685.3" width="24.0" height="3.4" rx="1.7" fill="#1e1e1e" opacity="0.95" transform="rotate(-2 324.0 687.0)" filter="url(#bb)"/><rect x="347.8" y="684.6" width="23.2" height="3.2" rx="1.6" fill="#1e1e1e" opacity="0.95" filter="url(#bb)"/><rect x="383.6" y="683.6" width="23.2" height="3.4" rx="1.7" fill="#1e1e1e" opacity="0.95" transform="rotate(-3 395.2 685.3)" filter="url(#bb)"/><rect x="419.5" y="682.7" width="23.1" height="3.4" rx="1.7" fill="#1e1e1e" opacity="0.95" transform="rotate(-2 431.1 684.4)" filter="url(#bb)"/><rect x="455.3" y="681.4" width="23.2" height="3.6" rx="1.8" fill="#1e1e1e" opacity="0.95" transform="rotate(-3 466.9 683.2)" filter="url(#bb)"/><rect x="133.8" y="705.8" width="26.2" height="2.9" rx="1.4" fill="#1c1c1c" opacity="0.95" filter="url(#bb)"/><rect x="167.8" y="706.0" width="26.6" height="2.9" rx="1.4" fill="#1c1c1c" opacity="0.95" filter="url(#bb)"/><rect x="204.3" y="706.0" width="24.7" height="2.9" rx="1.4" fill="#1c1c1c" opacity="0.95" filter="url(#bb)"/><rect x="237.9" y="705.6" width="27.1" height="3.3" rx="1.6" fill="#1c1c1c" opacity="0.95" filter="url(#bb)"/><rect x="273.0" y="706.7" width="25.5" height="2.6" rx="1.3" fill="#1c1c1c" opacity="0.95" filter="url(#bb)"/><rect x="308.5" y="707.6" width="26.5" height="1.6" rx="0.8" fill="#333" opacity="0.28" filter="url(#bb)"/><rect x="343.0" y="707.5" width="11.0" height="1.6" rx="0.8" fill="#333" opacity="0.4" filter="url(#bb)"/><rect x="354.0" y="707.6" width="14.0" height="1.4" rx="0.7" fill="#333" opacity="0.15" filter="url(#bb)"/><rect x="378.0" y="707.5" width="26.0" height="1.5" rx="0.8" fill="#333" opacity="0.16" filter="url(#bb)"/><rect x="414.0" y="706.9" width="26.0" height="1.5" rx="0.8" fill="#333" opacity="0.12" filter="url(#bb)"/><rect x="450.0" y="707.5" width="24.0" height="1.5" rx="0.8" fill="#333" opacity="0.12" filter="url(#bb)"/><rect x="129.8" y="732.8" width="30.9" height="8.4" rx="4.2" fill="#333" opacity="0.35" filter="url(#bb2)"/><rect x="130.8" y="733.8" width="28.9" height="6.4" rx="3.2" fill="#141414" filter="url(#bb)"/><rect x="164.5" y="731.9" width="32.0" height="8.2" rx="4.1" fill="#333" opacity="0.35" filter="url(#bb2)"/><rect x="165.5" y="732.9" width="30.0" height="6.2" rx="3.1" fill="#141414" filter="url(#bb)"/><rect x="199.9" y="731.2" width="31.3" height="8.6" rx="4.3" fill="#333" opacity="0.35" filter="url(#bb2)"/><rect x="200.9" y="732.2" width="29.3" height="6.6" rx="3.3" fill="#141414" filter="url(#bb)"/><rect x="235.0" y="730.9" width="31.0" height="8.0" rx="4.0" fill="#333" opacity="0.35" filter="url(#bb2)"/><rect x="236.0" y="731.9" width="29.0" height="6.0" rx="3.0" fill="#141414" filter="url(#bb)"/><rect x="270.2" y="730.1" width="31.6" height="8.2" rx="4.1" fill="#333" opacity="0.35" filter="url(#bb2)"/><rect x="271.2" y="731.1" width="29.6" height="6.2" rx="3.1" fill="#141414" filter="url(#bb)"/><rect x="305.8" y="730.1" width="31.4" height="8.6" rx="4.3" fill="#333" opacity="0.35" filter="url(#bb2)"/><rect x="306.8" y="731.1" width="29.4" height="6.6" rx="3.3" fill="#141414" filter="url(#bb)"/><rect x="341.5" y="729.4" width="32.7" height="8.8" rx="4.4" fill="#333" opacity="0.35" filter="url(#bb2)"/><rect x="342.5" y="730.4" width="30.7" height="6.8" rx="3.4" fill="#141414" filter="url(#bb)"/><rect x="376.8" y="729.7" width="32.8" height="9.0" rx="4.5" fill="#333" opacity="0.35" filter="url(#bb2)"/><rect x="377.8" y="730.7" width="30.8" height="7.0" rx="3.5" fill="#141414" filter="url(#bb)"/><rect x="413.2" y="730.4" width="31.6" height="8.2" rx="4.1" fill="#333" opacity="0.35" filter="url(#bb2)"/><rect x="414.2" y="731.4" width="29.6" height="6.2" rx="3.1" fill="#141414" filter="url(#bb)"/><rect x="448.5" y="730.6" width="31.5" height="7.2" rx="3.6" fill="#333" opacity="0.35" filter="url(#bb2)"/><rect x="449.5" y="731.6" width="29.5" height="5.2" rx="2.6" fill="#141414" filter="url(#bb)"/></g>
<g transform="translate(121.5 791.5)"><rect x="0" y="0" width="95.1" height="98.5" fill="#fff" stroke="#c4c4c8" stroke-width="0.7"/><path d="M23.3 98.5L42.8 19.7L95.1 13.8" fill="none" stroke="#d6d6da" stroke-width="0.6"/><path d="M14.9 80.4h0.8v0.8h-0.8zM12.3 75.1h0.8v0.8h-0.8zM14.7 62.4h0.8v0.8h-0.8zM7.0 67.4h0.8v0.8h-0.8zM19.2 68.4h0.8v0.8h-0.8zM19.2 78.1h0.8v0.8h-0.8zM15.6 80.0h0.8v0.8h-0.8zM6.0 76.8h0.8v0.8h-0.8zM9.3 62.8h0.8v0.8h-0.8zM21.1 79.2h0.8v0.8h-0.8zM5.4 73.9h0.8v0.8h-0.8zM5.0 79.7h0.8v0.8h-0.8zM17.7 80.7h0.8v0.8h-0.8zM14.0 68.3h0.8v0.8h-0.8zM16.7 76.4h0.8v0.8h-0.8zM11.7 71.1h0.8v0.8h-0.8zM4.3 81.0h0.8v0.8h-0.8zM6.7 68.2h0.8v0.8h-0.8zM24.8 80.5h0.8v0.8h-0.8zM15.5 76.1h0.8v0.8h-0.8zM7.9 76.0h0.8v0.8h-0.8zM3.0 74.3h0.8v0.8h-0.8zM10.7 73.1h0.8v0.8h-0.8zM23.3 79.4h0.8v0.8h-0.8zM11.3 80.5h0.8v0.8h-0.8zM8.4 74.8h0.8v0.8h-0.8zM14.3 51.2h0.8v0.8h-0.8zM14.4 78.6h0.8v0.8h-0.8zM22.8 77.1h0.8v0.8h-0.8zM29.9 78.4h0.8v0.8h-0.8zM7.2 76.9h0.8v0.8h-0.8zM7.0 79.2h0.8v0.8h-0.8zM20.1 77.6h0.8v0.8h-0.8zM7.5 78.4h0.8v0.8h-0.8zM16.1 74.5h0.8v0.8h-0.8zM12.2 61.5h0.8v0.8h-0.8zM12.0 44.8h0.8v0.8h-0.8zM10.5 25.1h0.8v0.8h-0.8zM10.8 64.7h0.8v0.8h-0.8zM20.0 80.0h0.8v0.8h-0.8zM22.0 76.5h0.8v0.8h-0.8zM13.8 74.2h0.8v0.8h-0.8zM29.4 76.8h0.8v0.8h-0.8zM14.0 73.9h0.8v0.8h-0.8zM8.9 71.2h0.8v0.8h-0.8zM14.3 79.1h0.8v0.8h-0.8zM16.5 73.2h0.8v0.8h-0.8zM10.3 69.7h0.8v0.8h-0.8zM11.2 80.4h0.8v0.8h-0.8zM12.0 69.7h0.8v0.8h-0.8zM11.6 79.9h0.8v0.8h-0.8zM23.1 77.3h0.8v0.8h-0.8zM12.0 73.6h0.8v0.8h-0.8zM7.7 79.8h0.8v0.8h-0.8zM10.6 79.1h0.8v0.8h-0.8zM18.4 78.7h0.8v0.8h-0.8zM9.7 32.3h0.8v0.8h-0.8zM8.7 77.8h0.8v0.8h-0.8zM7.5 76.6h0.8v0.8h-0.8zM2.6 73.0h0.8v0.8h-0.8zM12.3 75.5h0.8v0.8h-0.8zM20.8 79.3h0.8v0.8h-0.8zM3.3 78.3h0.8v0.8h-0.8zM11.9 78.6h0.8v0.8h-0.8zM20.7 73.6h0.8v0.8h-0.8zM7.5 73.4h0.8v0.8h-0.8zM23.3 75.5h0.8v0.8h-0.8zM12.2 77.7h0.8v0.8h-0.8zM16.5 77.5h0.8v0.8h-0.8zM13.2 79.2h0.8v0.8h-0.8zM24.4 80.6h0.8v0.8h-0.8zM16.3 78.3h0.8v0.8h-0.8zM11.8 75.2h0.8v0.8h-0.8zM17.8 75.1h0.8v0.8h-0.8zM20.0 78.6h0.8v0.8h-0.8zM7.6 80.8h0.8v0.8h-0.8zM10.9 65.5h0.8v0.8h-0.8zM12.2 59.5h0.8v0.8h-0.8zM13.2 61.1h0.8v0.8h-0.8zM16.1 78.7h0.8v0.8h-0.8zM12.0 80.2h0.8v0.8h-0.8zM15.6 76.3h0.8v0.8h-0.8zM13.7 73.8h0.8v0.8h-0.8zM14.7 80.1h0.8v0.8h-0.8zM15.9 80.7h0.8v0.8h-0.8zM15.5 55.3h0.8v0.8h-0.8zM12.0 75.9h0.8v0.8h-0.8zM12.3 78.6h0.8v0.8h-0.8zM16.2 75.7h0.8v0.8h-0.8zM26.8 74.9h0.8v0.8h-0.8zM13.8 32.3h0.8v0.8h-0.8zM7.7 78.6h0.8v0.8h-0.8zM8.4 72.7h0.8v0.8h-0.8zM18.2 71.7h0.8v0.8h-0.8zM6.7 81.2h0.8v0.8h-0.8zM15.7 76.8h0.8v0.8h-0.8zM7.9 73.3h0.8v0.8h-0.8zM4.6 75.4h0.8v0.8h-0.8zM12.1 78.8h0.8v0.8h-0.8zM12.5 67.8h0.8v0.8h-0.8zM10.6 72.4h0.8v0.8h-0.8zM21.1 73.3h0.8v0.8h-0.8zM12.3 80.7h0.8v0.8h-0.8zM18.3 65.8h0.8v0.8h-0.8zM12.3 54.4h0.8v0.8h-0.8zM17.5 79.0h0.8v0.8h-0.8zM13.4 79.0h0.8v0.8h-0.8zM24.0 74.9h0.8v0.8h-0.8zM14.8 71.0h0.8v0.8h-0.8zM18.9 80.3h0.8v0.8h-0.8zM10.3 70.2h0.8v0.8h-0.8zM17.1 69.6h0.8v0.8h-0.8zM14.2 64.5h0.8v0.8h-0.8zM14.4 79.8h0.8v0.8h-0.8zM34.1 74.7h0.8v0.8h-0.8zM16.4 79.5h0.8v0.8h-0.8zM8.6 74.4h0.8v0.8h-0.8zM2.7 75.1h0.8v0.8h-0.8zM11.6 78.4h0.8v0.8h-0.8zM14.8 63.4h0.8v0.8h-0.8zM13.2 64.1h0.8v0.8h-0.8zM11.0 57.0h0.8v0.8h-0.8zM14.6 67.8h0.8v0.8h-0.8zM12.4 82.9h0.8v0.8h-0.8zM9.8 80.9h0.8v0.8h-0.8zM11.2 79.9h0.8v0.8h-0.8zM12.8 34.9h0.8v0.8h-0.8zM10.9 75.4h0.8v0.8h-0.8zM8.7 79.3h0.8v0.8h-0.8zM15.1 80.5h0.8v0.8h-0.8zM18.0 71.6h0.8v0.8h-0.8zM9.8 69.1h0.8v0.8h-0.8zM19.8 80.1h0.8v0.8h-0.8zM12.0 70.5h0.8v0.8h-0.8zM29.2 80.5h0.8v0.8h-0.8zM15.8 72.8h0.8v0.8h-0.8zM11.8 71.9h0.8v0.8h-0.8zM7.1 76.0h0.8v0.8h-0.8zM15.7 81.4h0.8v0.8h-0.8zM11.5 70.7h0.8v0.8h-0.8zM12.4 52.6h0.8v0.8h-0.8zM11.7 80.7h0.8v0.8h-0.8zM16.5 71.6h0.8v0.8h-0.8zM17.0 67.8h0.8v0.8h-0.8zM13.2 66.8h0.8v0.8h-0.8zM24.7 75.5h0.8v0.8h-0.8zM19.1 76.9h0.8v0.8h-0.8zM7.5 80.3h0.8v0.8h-0.8zM11.9 44.0h0.8v0.8h-0.8zM8.2 72.8h0.8v0.8h-0.8zM10.6 71.2h0.8v0.8h-0.8zM17.5 77.6h0.8v0.8h-0.8zM22.7 76.9h0.8v0.8h-0.8zM13.3 60.5h0.8v0.8h-0.8zM14.7 75.0h0.8v0.8h-0.8zM6.8 78.0h0.8v0.8h-0.8zM11.4 75.3h0.8v0.8h-0.8zM8.4 80.9h0.8v0.8h-0.8zM9.1 80.7h0.8v0.8h-0.8zM33.9 75.6h0.8v0.8h-0.8zM15.0 63.7h0.8v0.8h-0.8zM3.1 79.4h0.8v0.8h-0.8zM22.8 80.0h0.8v0.8h-0.8zM21.0 78.3h0.8v0.8h-0.8zM5.0 72.1h0.8v0.8h-0.8zM16.8 80.2h0.8v0.8h-0.8zM2.9 78.1h0.8v0.8h-0.8zM17.2 78.2h0.8v0.8h-0.8zM39.2 69.6h0.8v0.8h-0.8zM15.6 67.1h0.8v0.8h-0.8zM3.1 76.5h0.8v0.8h-0.8zM13.6 72.1h0.8v0.8h-0.8zM5.8 71.0h0.8v0.8h-0.8zM24.2 79.2h0.8v0.8h-0.8zM20.4 78.1h0.8v0.8h-0.8zM7.4 76.6h0.8v0.8h-0.8zM18.3 77.5h0.8v0.8h-0.8zM2.8 80.9h0.8v0.8h-0.8zM19.7 81.0h0.8v0.8h-0.8zM13.7 72.4h0.8v0.8h-0.8zM9.0 70.5h0.8v0.8h-0.8zM13.6 53.4h0.8v0.8h-0.8zM11.1 80.6h0.8v0.8h-0.8zM10.3 76.5h0.8v0.8h-0.8zM13.9 40.2h0.8v0.8h-0.8zM11.5 73.9h0.8v0.8h-0.8zM6.3 70.8h0.8v0.8h-0.8zM10.9 79.8h0.8v0.8h-0.8zM9.2 79.3h0.8v0.8h-0.8zM15.1 82.7h0.8v0.8h-0.8zM19.0 70.4h0.8v0.8h-0.8zM17.7 79.5h0.8v0.8h-0.8zM9.5 47.7h0.8v0.8h-0.8zM13.5 73.0h0.8v0.8h-0.8zM23.5 78.1h0.8v0.8h-0.8zM16.6 74.4h0.8v0.8h-0.8zM21.1 76.3h0.8v0.8h-0.8zM24.6 77.1h0.8v0.8h-0.8zM2.8 79.9h0.8v0.8h-0.8zM17.5 74.7h0.8v0.8h-0.8zM13.8 78.2h0.8v0.8h-0.8zM9.9 57.7h0.8v0.8h-0.8zM19.3 79.6h0.8v0.8h-0.8zM9.2 59.0h0.8v0.8h-0.8zM3.5 78.4h0.8v0.8h-0.8zM4.6 77.8h0.8v0.8h-0.8zM11.0 55.4h0.8v0.8h-0.8zM12.7 76.7h0.8v0.8h-0.8zM11.0 70.8h0.8v0.8h-0.8zM9.2 81.2h0.8v0.8h-0.8zM10.0 75.0h0.8v0.8h-0.8zM9.1 76.6h0.8v0.8h-0.8zM19.6 77.7h0.8v0.8h-0.8zM9.9 76.3h0.8v0.8h-0.8zM14.1 46.6h0.8v0.8h-0.8zM14.8 75.0h0.8v0.8h-0.8zM15.9 78.6h0.8v0.8h-0.8zM14.4 76.9h0.8v0.8h-0.8zM15.5 82.8h0.8v0.8h-0.8zM23.2 77.3h0.8v0.8h-0.8zM12.4 79.5h0.8v0.8h-0.8zM15.2 80.4h0.8v0.8h-0.8zM5.9 78.3h0.8v0.8h-0.8zM16.0 66.3h0.8v0.8h-0.8zM9.7 80.8h0.8v0.8h-0.8zM14.0 80.3h0.8v0.8h-0.8zM14.1 67.7h0.8v0.8h-0.8zM8.6 72.4h0.8v0.8h-0.8zM2.9 74.9h0.8v0.8h-0.8zM5.0 72.7h0.8v0.8h-0.8zM2.0 76.1h0.8v0.8h-0.8zM7.8 72.0h0.8v0.8h-0.8zM12.0 72.9h0.8v0.8h-0.8zM13.6 74.5h0.8v0.8h-0.8zM11.5 80.2h0.8v0.8h-0.8zM10.0 52.6h0.8v0.8h-0.8zM9.0 77.3h0.8v0.8h-0.8zM16.0 67.4h0.8v0.8h-0.8zM10.4 71.2h0.8v0.8h-0.8zM9.2 72.7h0.8v0.8h-0.8zM19.5 75.9h0.8v0.8h-0.8zM7.4 62.0h0.8v0.8h-0.8zM7.3 66.8h0.8v0.8h-0.8zM13.5 75.9h0.8v0.8h-0.8zM21.5 77.2h0.8v0.8h-0.8zM14.3 75.6h0.8v0.8h-0.8zM14.8 62.0h0.8v0.8h-0.8zM10.4 68.7h0.8v0.8h-0.8zM12.8 78.8h0.8v0.8h-0.8zM15.7 44.3h0.8v0.8h-0.8zM21.0 80.8h0.8v0.8h-0.8zM11.6 78.8h0.8v0.8h-0.8zM12.8 75.6h0.8v0.8h-0.8zM18.1 77.9h0.8v0.8h-0.8zM7.5 75.1h0.8v0.8h-0.8zM15.6 82.2h0.8v0.8h-0.8zM9.3 77.6h0.8v0.8h-0.8zM15.2 77.1h0.8v0.8h-0.8zM15.3 52.1h0.8v0.8h-0.8zM10.3 57.4h0.8v0.8h-0.8zM12.4 78.9h0.8v0.8h-0.8zM25.0 76.5h0.8v0.8h-0.8zM13.6 76.9h0.8v0.8h-0.8zM3.9 79.4h0.8v0.8h-0.8zM11.9 76.2h0.8v0.8h-0.8zM10.1 65.3h0.8v0.8h-0.8zM22.5 79.9h0.8v0.8h-0.8zM13.2 75.5h0.8v0.8h-0.8zM15.5 80.3h0.8v0.8h-0.8zM10.3 69.2h0.8v0.8h-0.8zM1.9 80.9h0.8v0.8h-0.8zM16.3 75.6h0.8v0.8h-0.8zM10.9 67.4h0.8v0.8h-0.8zM9.8 68.3h0.8v0.8h-0.8zM11.9 67.7h0.8v0.8h-0.8zM10.3 30.3h0.8v0.8h-0.8zM12.6 78.8h0.8v0.8h-0.8zM29.8 68.1h0.8v0.8h-0.8zM7.8 75.0h0.8v0.8h-0.8zM8.5 40.6h0.8v0.8h-0.8zM8.7 79.8h0.8v0.8h-0.8zM13.7 75.6h0.8v0.8h-0.8zM15.9 73.0h0.8v0.8h-0.8zM5.9 80.0h0.8v0.8h-0.8zM15.0 72.2h0.8v0.8h-0.8zM10.7 77.2h0.8v0.8h-0.8zM23.8 77.0h0.8v0.8h-0.8zM6.2 76.9h0.8v0.8h-0.8zM10.9 80.0h0.8v0.8h-0.8zM12.3 73.6h0.8v0.8h-0.8zM18.9 71.7h0.8v0.8h-0.8zM6.3 73.8h0.8v0.8h-0.8zM7.9 76.4h0.8v0.8h-0.8zM29.6 76.4h0.8v0.8h-0.8zM8.4 42.6h0.8v0.8h-0.8zM7.3 78.9h0.8v0.8h-0.8zM8.4 79.3h0.8v0.8h-0.8zM13.4 80.9h0.8v0.8h-0.8zM16.6 73.5h0.8v0.8h-0.8zM5.8 69.7h0.8v0.8h-0.8zM17.7 77.8h0.8v0.8h-0.8zM5.5 80.2h0.8v0.8h-0.8zM11.0 72.1h0.8v0.8h-0.8zM11.6 50.6h0.8v0.8h-0.8zM17.0 75.6h0.8v0.8h-0.8zM15.3 78.2h0.8v0.8h-0.8zM13.6 78.3h0.8v0.8h-0.8zM12.0 74.5h0.8v0.8h-0.8zM33.5 76.7h0.8v0.8h-0.8zM11.9 73.9h0.8v0.8h-0.8zM10.2 75.4h0.8v0.8h-0.8zM8.7 75.9h0.8v0.8h-0.8zM15.5 51.8h0.8v0.8h-0.8zM29.7 81.0h0.8v0.8h-0.8zM9.0 44.4h0.8v0.8h-0.8zM36.2 80.7h0.8v0.8h-0.8zM14.7 74.4h0.8v0.8h-0.8zM11.1 60.2h0.8v0.8h-0.8zM14.6 77.1h0.8v0.8h-0.8zM4.6 75.2h0.8v0.8h-0.8zM9.9 76.0h0.8v0.8h-0.8zM17.1 65.2h0.8v0.8h-0.8zM10.0 70.5h0.8v0.8h-0.8zM4.9 79.6h0.8v0.8h-0.8zM8.8 76.6h0.8v0.8h-0.8zM6.7 72.5h0.8v0.8h-0.8zM14.4 77.4h0.8v0.8h-0.8zM9.5 73.1h0.8v0.8h-0.8zM14.3 74.5h0.8v0.8h-0.8zM24.0 76.0h0.8v0.8h-0.8zM15.9 72.5h0.8v0.8h-0.8zM22.9 78.1h0.8v0.8h-0.8zM10.5 38.5h0.8v0.8h-0.8zM8.7 67.3h0.8v0.8h-0.8zM15.9 72.3h0.8v0.8h-0.8zM8.9 75.2h0.8v0.8h-0.8zM14.5 78.2h0.8v0.8h-0.8zM9.2 69.9h0.8v0.8h-0.8zM16.0 69.5h0.8v0.8h-0.8zM21.3 80.6h0.8v0.8h-0.8zM11.5 72.7h0.8v0.8h-0.8zM7.8 68.9h0.8v0.8h-0.8zM11.2 77.8h0.8v0.8h-0.8zM14.6 54.4h0.8v0.8h-0.8zM17.1 77.7h0.8v0.8h-0.8zM13.4 81.1h0.8v0.8h-0.8zM10.4 71.8h0.8v0.8h-0.8zM8.2 72.2h0.8v0.8h-0.8zM13.3 75.4h0.8v0.8h-0.8zM13.9 73.3h0.8v0.8h-0.8zM11.6 74.5h0.8v0.8h-0.8zM6.7 76.7h0.8v0.8h-0.8zM12.4 78.5h0.8v0.8h-0.8zM23.7 72.9h0.8v0.8h-0.8zM13.1 62.5h0.8v0.8h-0.8zM16.9 40.9h0.8v0.8h-0.8zM16.4 77.0h0.8v0.8h-0.8zM2.4 80.7h0.8v0.8h-0.8zM13.5 58.2h0.8v0.8h-0.8zM11.3 66.7h0.8v0.8h-0.8zM13.3 65.0h0.8v0.8h-0.8zM20.4 80.9h0.8v0.8h-0.8zM18.6 79.9h0.8v0.8h-0.8zM22.1 75.3h0.8v0.8h-0.8zM4.8 74.0h0.8v0.8h-0.8zM1.2 78.4h0.8v0.8h-0.8zM28.4 78.5h0.8v0.8h-0.8zM21.8 76.4h0.8v0.8h-0.8zM16.2 77.7h0.8v0.8h-0.8zM10.7 52.8h0.8v0.8h-0.8zM24.1 78.6h0.8v0.8h-0.8zM13.2 64.6h0.8v0.8h-0.8zM11.0 78.5h0.8v0.8h-0.8zM16.4 75.0h0.8v0.8h-0.8zM17.5 68.7h0.8v0.8h-0.8zM6.7 80.8h0.8v0.8h-0.8zM8.7 79.5h0.8v0.8h-0.8zM9.8 39.2h0.8v0.8h-0.8zM3.2 80.9h0.8v0.8h-0.8zM7.4 67.7h0.8v0.8h-0.8zM16.5 75.0h0.8v0.8h-0.8zM21.5 67.5h0.8v0.8h-0.8zM13.1 78.6h0.8v0.8h-0.8zM12.2 51.4h0.8v0.8h-0.8zM25.0 79.3h0.8v0.8h-0.8zM18.4 77.2h0.8v0.8h-0.8zM11.3 72.6h0.8v0.8h-0.8zM14.5 74.3h0.8v0.8h-0.8zM19.2 75.4h0.8v0.8h-0.8zM15.1 74.8h0.8v0.8h-0.8zM15.8 74.0h0.8v0.8h-0.8zM5.8 60.4h0.8v0.8h-0.8zM12.7 67.5h0.8v0.8h-0.8zM12.3 79.8h0.8v0.8h-0.8zM15.4 69.8h0.8v0.8h-0.8zM20.9 80.2h0.8v0.8h-0.8zM12.3 82.5h0.8v0.8h-0.8zM17.4 80.8h0.8v0.8h-0.8zM10.1 74.4h0.8v0.8h-0.8zM24.2 78.1h0.8v0.8h-0.8zM9.6 65.2h0.8v0.8h-0.8zM14.0 73.5h0.8v0.8h-0.8zM8.0 78.5h0.8v0.8h-0.8zM9.2 53.2h0.8v0.8h-0.8zM10.2 81.8h0.8v0.8h-0.8zM12.8 49.6h0.8v0.8h-0.8zM16.9 77.0h0.8v0.8h-0.8zM5.1 81.7h0.8v0.8h-0.8zM22.4 74.2h0.8v0.8h-0.8zM6.7 70.0h0.8v0.8h-0.8zM5.9 80.9h0.8v0.8h-0.8zM7.4 78.8h0.8v0.8h-0.8zM13.5 70.8h0.8v0.8h-0.8zM15.8 76.8h0.8v0.8h-0.8zM4.7 79.6h0.8v0.8h-0.8zM15.5 76.7h0.8v0.8h-0.8zM17.2 70.7h0.8v0.8h-0.8zM18.9 77.7h0.8v0.8h-0.8zM17.2 72.8h0.8v0.8h-0.8zM14.8 74.9h0.8v0.8h-0.8zM9.9 48.2h0.8v0.8h-0.8zM16.0 77.5h0.8v0.8h-0.8zM17.8 78.2h0.8v0.8h-0.8zM6.1 71.2h0.8v0.8h-0.8zM16.3 80.4h0.8v0.8h-0.8zM11.6 47.1h0.8v0.8h-0.8zM18.0 78.4h0.8v0.8h-0.8zM11.4 72.7h0.8v0.8h-0.8zM10.3 75.2h0.8v0.8h-0.8zM16.6 76.4h0.8v0.8h-0.8zM10.2 57.9h0.8v0.8h-0.8zM13.3 68.3h0.8v0.8h-0.8zM12.1 61.9h0.8v0.8h-0.8zM15.7 74.5h0.8v0.8h-0.8zM30.1 80.6h0.8v0.8h-0.8zM20.8 76.4h0.8v0.8h-0.8zM18.6 77.3h0.8v0.8h-0.8zM16.2 78.4h0.8v0.8h-0.8zM8.0 80.0h0.8v0.8h-0.8zM5.9 76.0h0.8v0.8h-0.8zM12.0 75.0h0.8v0.8h-0.8zM14.3 71.2h0.8v0.8h-0.8zM9.6 66.2h0.8v0.8h-0.8zM15.4 64.5h0.8v0.8h-0.8zM12.1 54.6h0.8v0.8h-0.8zM14.6 73.8h0.8v0.8h-0.8zM22.3 78.3h0.8v0.8h-0.8zM13.8 43.3h0.8v0.8h-0.8zM12.1 76.1h0.8v0.8h-0.8zM9.9 66.7h0.8v0.8h-0.8zM9.0 72.2h0.8v0.8h-0.8zM5.8 76.7h0.8v0.8h-0.8zM7.1 75.7h0.8v0.8h-0.8zM19.6 74.4h0.8v0.8h-0.8zM32.7 79.6h0.8v0.8h-0.8zM11.4 73.3h0.8v0.8h-0.8zM19.1 80.3h0.8v0.8h-0.8zM16.3 77.5h0.8v0.8h-0.8zM14.2 70.5h0.8v0.8h-0.8zM14.8 75.7h0.8v0.8h-0.8zM11.8 56.5h0.8v0.8h-0.8zM7.5 74.4h0.8v0.8h-0.8zM16.5 59.8h0.8v0.8h-0.8zM12.1 82.4h0.8v0.8h-0.8zM19.1 74.3h0.8v0.8h-0.8zM14.2 79.4h0.8v0.8h-0.8zM2.7 73.9h0.8v0.8h-0.8zM12.7 67.8h0.8v0.8h-0.8zM16.4 70.2h0.8v0.8h-0.8zM5.7 75.1h0.8v0.8h-0.8zM16.2 41.2h0.8v0.8h-0.8z" fill="#2a2cf0" opacity="0.85"/><path d="M12.0 71.2h0.8v0.8h-0.8zM10.6 81.6h0.8v0.8h-0.8zM12.3 55.8h0.8v0.8h-0.8zM10.6 67.9h0.8v0.8h-0.8zM28.6 79.7h0.8v0.8h-0.8zM15.0 78.6h0.8v0.8h-0.8zM13.6 78.4h0.8v0.8h-0.8zM14.6 79.8h0.8v0.8h-0.8zM16.3 82.3h0.8v0.8h-0.8zM14.4 49.6h0.8v0.8h-0.8zM16.5 63.7h0.8v0.8h-0.8zM3.4 82.6h0.8v0.8h-0.8zM14.0 60.6h0.8v0.8h-0.8zM8.1 73.4h0.8v0.8h-0.8zM11.3 67.4h0.8v0.8h-0.8zM17.1 76.5h0.8v0.8h-0.8zM3.1 67.1h0.8v0.8h-0.8zM7.3 80.4h0.8v0.8h-0.8zM12.2 77.6h0.8v0.8h-0.8zM6.0 77.8h0.8v0.8h-0.8zM16.2 76.8h0.8v0.8h-0.8zM6.8 78.6h0.8v0.8h-0.8zM8.8 72.0h0.8v0.8h-0.8zM1.7 77.8h0.8v0.8h-0.8zM46.6 78.4h0.8v0.8h-0.8zM12.7 59.6h0.8v0.8h-0.8zM18.1 77.6h0.8v0.8h-0.8zM8.5 75.6h0.8v0.8h-0.8zM9.8 79.2h0.8v0.8h-0.8zM12.6 76.1h0.8v0.8h-0.8zM23.6 81.0h0.8v0.8h-0.8zM9.4 80.3h0.8v0.8h-0.8zM16.0 78.8h0.8v0.8h-0.8zM9.1 76.9h0.8v0.8h-0.8zM6.8 76.4h0.8v0.8h-0.8zM16.4 79.5h0.8v0.8h-0.8zM24.2 77.5h0.8v0.8h-0.8zM10.6 76.9h0.8v0.8h-0.8zM12.1 79.1h0.8v0.8h-0.8zM4.6 66.6h0.8v0.8h-0.8zM15.6 61.8h0.8v0.8h-0.8zM20.1 77.5h0.8v0.8h-0.8zM8.6 79.2h0.8v0.8h-0.8zM13.3 81.6h0.8v0.8h-0.8zM21.6 75.2h0.8v0.8h-0.8zM4.4 68.2h0.8v0.8h-0.8zM1.4 68.9h0.8v0.8h-0.8zM14.4 71.4h0.8v0.8h-0.8zM10.3 78.2h0.8v0.8h-0.8zM4.1 74.3h0.8v0.8h-0.8zM11.5 60.3h0.8v0.8h-0.8zM6.5 76.0h0.8v0.8h-0.8zM16.4 80.3h0.8v0.8h-0.8zM9.5 26.8h0.8v0.8h-0.8zM12.4 75.6h0.8v0.8h-0.8zM19.2 79.7h0.8v0.8h-0.8zM14.9 73.8h0.8v0.8h-0.8zM1.2 78.1h0.8v0.8h-0.8zM20.9 78.3h0.8v0.8h-0.8zM17.1 79.0h0.8v0.8h-0.8zM15.6 74.2h0.8v0.8h-0.8zM13.5 80.0h0.8v0.8h-0.8zM12.4 76.0h0.8v0.8h-0.8zM6.7 77.6h0.8v0.8h-0.8zM10.2 68.2h0.8v0.8h-0.8zM11.1 77.9h0.8v0.8h-0.8zM9.2 74.4h0.8v0.8h-0.8zM12.3 76.6h0.8v0.8h-0.8zM12.2 69.8h0.8v0.8h-0.8zM15.6 78.7h0.8v0.8h-0.8zM17.4 80.3h0.8v0.8h-0.8zM9.5 36.4h0.8v0.8h-0.8zM16.4 80.1h0.8v0.8h-0.8zM12.5 74.8h0.8v0.8h-0.8zM6.8 81.0h0.8v0.8h-0.8zM12.0 80.0h0.8v0.8h-0.8zM9.5 68.5h0.8v0.8h-0.8zM11.2 76.1h0.8v0.8h-0.8zM10.7 56.6h0.8v0.8h-0.8zM9.8 73.6h0.8v0.8h-0.8zM18.9 72.7h0.8v0.8h-0.8zM4.0 75.7h0.8v0.8h-0.8zM14.5 66.9h0.8v0.8h-0.8zM12.5 58.8h0.8v0.8h-0.8zM27.5 72.1h0.8v0.8h-0.8zM8.2 64.9h0.8v0.8h-0.8zM17.1 74.7h0.8v0.8h-0.8zM12.3 67.8h0.8v0.8h-0.8zM9.4 79.6h0.8v0.8h-0.8zM17.6 75.7h0.8v0.8h-0.8zM20.1 74.6h0.8v0.8h-0.8zM1.5 74.0h0.8v0.8h-0.8zM23.7 74.3h0.8v0.8h-0.8zM14.3 78.6h0.8v0.8h-0.8zM8.3 71.6h0.8v0.8h-0.8zM19.4 79.9h0.8v0.8h-0.8zM19.3 79.9h0.8v0.8h-0.8zM16.9 74.4h0.8v0.8h-0.8zM10.6 73.2h0.8v0.8h-0.8zM12.8 71.5h0.8v0.8h-0.8zM8.1 67.6h0.8v0.8h-0.8zM10.4 79.7h0.8v0.8h-0.8zM6.2 72.3h0.8v0.8h-0.8zM9.2 45.7h0.8v0.8h-0.8zM13.4 65.1h0.8v0.8h-0.8zM29.4 78.4h0.8v0.8h-0.8zM20.3 72.4h0.8v0.8h-0.8zM11.1 67.4h0.8v0.8h-0.8zM14.6 72.8h0.8v0.8h-0.8zM18.8 77.4h0.8v0.8h-0.8zM17.4 79.3h0.8v0.8h-0.8zM5.1 79.6h0.8v0.8h-0.8zM10.0 52.2h0.8v0.8h-0.8zM13.9 73.4h0.8v0.8h-0.8zM13.1 41.8h0.8v0.8h-0.8zM9.5 33.4h0.8v0.8h-0.8zM15.1 80.4h0.8v0.8h-0.8zM8.4 44.3h0.8v0.8h-0.8zM10.9 77.3h0.8v0.8h-0.8zM10.3 69.2h0.8v0.8h-0.8zM11.6 78.1h0.8v0.8h-0.8zM10.0 78.7h0.8v0.8h-0.8zM9.9 65.0h0.8v0.8h-0.8zM24.5 79.9h0.8v0.8h-0.8zM14.9 75.4h0.8v0.8h-0.8zM9.7 77.1h0.8v0.8h-0.8zM9.6 79.1h0.8v0.8h-0.8zM6.5 80.1h0.8v0.8h-0.8zM15.7 77.7h0.8v0.8h-0.8zM8.1 77.8h0.8v0.8h-0.8zM9.1 32.3h0.8v0.8h-0.8zM13.9 78.4h0.8v0.8h-0.8zM10.7 78.6h0.8v0.8h-0.8zM23.9 74.9h0.8v0.8h-0.8zM9.4 75.4h0.8v0.8h-0.8zM18.0 80.3h0.8v0.8h-0.8zM12.9 66.1h0.8v0.8h-0.8zM10.9 79.4h0.8v0.8h-0.8zM1.7 71.5h0.8v0.8h-0.8zM10.5 61.4h0.8v0.8h-0.8zM10.3 74.4h0.8v0.8h-0.8zM9.7 72.6h0.8v0.8h-0.8zM10.1 75.3h0.8v0.8h-0.8zM1.8 80.7h0.8v0.8h-0.8zM15.8 76.6h0.8v0.8h-0.8zM14.7 73.5h0.8v0.8h-0.8zM14.5 76.2h0.8v0.8h-0.8zM26.2 79.4h0.8v0.8h-0.8zM16.0 72.3h0.8v0.8h-0.8zM12.0 73.7h0.8v0.8h-0.8zM12.5 35.5h0.8v0.8h-0.8zM12.9 76.5h0.8v0.8h-0.8zM5.0 74.3h0.8v0.8h-0.8zM5.4 80.4h0.8v0.8h-0.8zM9.2 79.9h0.8v0.8h-0.8zM8.6 78.0h0.8v0.8h-0.8zM17.4 70.1h0.8v0.8h-0.8zM2.7 78.2h0.8v0.8h-0.8zM7.9 78.9h0.8v0.8h-0.8zM3.7 77.6h0.8v0.8h-0.8zM11.9 79.6h0.8v0.8h-0.8zM9.2 66.0h0.8v0.8h-0.8zM16.8 68.9h0.8v0.8h-0.8zM14.5 76.5h0.8v0.8h-0.8zM12.5 72.1h0.8v0.8h-0.8zM5.9 80.0h0.8v0.8h-0.8zM16.1 63.8h0.8v0.8h-0.8zM10.4 45.6h0.8v0.8h-0.8zM15.3 81.4h0.8v0.8h-0.8zM20.0 75.2h0.8v0.8h-0.8zM24.5 78.7h0.8v0.8h-0.8zM8.3 79.4h0.8v0.8h-0.8zM20.2 71.7h0.8v0.8h-0.8zM3.5 80.1h0.8v0.8h-0.8zM11.9 78.7h0.8v0.8h-0.8zM16.1 78.0h0.8v0.8h-0.8zM2.0 73.0h0.8v0.8h-0.8zM10.8 42.7h0.8v0.8h-0.8zM7.7 74.0h0.8v0.8h-0.8zM19.6 78.9h0.8v0.8h-0.8zM9.4 76.0h0.8v0.8h-0.8zM5.8 80.0h0.8v0.8h-0.8zM11.5 79.9h0.8v0.8h-0.8zM23.1 80.3h0.8v0.8h-0.8zM10.2 57.7h0.8v0.8h-0.8zM10.8 70.5h0.8v0.8h-0.8zM19.1 64.4h0.8v0.8h-0.8zM18.9 74.3h0.8v0.8h-0.8zM23.5 80.2h0.8v0.8h-0.8zM9.6 61.6h0.8v0.8h-0.8zM31.3 76.1h0.8v0.8h-0.8zM3.1 72.3h0.8v0.8h-0.8zM6.5 81.0h0.8v0.8h-0.8zM12.4 78.7h0.8v0.8h-0.8zM14.4 72.5h0.8v0.8h-0.8zM11.8 72.9h0.8v0.8h-0.8zM16.4 79.1h0.8v0.8h-0.8zM8.3 67.0h0.8v0.8h-0.8zM16.9 74.1h0.8v0.8h-0.8zM26.3 75.3h0.8v0.8h-0.8zM11.0 77.7h0.8v0.8h-0.8z" fill="#6a78ff" opacity="0.85"/><g filter="url(#fbl2)" fill="#2c34f4"><ellipse cx="12.9" cy="79.0" rx="14.5" ry="4.2" opacity="0.9"/><ellipse cx="12.4" cy="68.5" rx="6.2" ry="15.0" opacity="0.85"/><ellipse cx="11.9" cy="74.5" rx="9.5" ry="7.5" opacity="0.8"/></g><ellipse cx="11.4" cy="71.5" rx="3.4" ry="6.5" fill="url(#fc)" opacity="0.75" filter="url(#fbl)"/><g filter="url(#fbl)"><ellipse cx="10.9" cy="78.0" rx="12.5" ry="7.0" fill="url(#fb)"/><ellipse cx="9.5" cy="78.3" rx="10.5" ry="6.2" fill="url(#fc)" transform="rotate(-14 7.9 79.5)"/><ellipse cx="8.7" cy="79.0" rx="7.4" ry="4.0" fill="url(#fg)" transform="rotate(-14 7.9 79.5)"/><ellipse cx="7.9" cy="79.5" rx="4.6" ry="2.2" fill="url(#fy)" transform="rotate(-14 7.9 79.5)"/></g><path d="M0 0V98.5H95.1" fill="none" stroke="#6a6a72" stroke-width="0.8"/><text x="-3.2" y="4.0" font-size="4.6" font-weight="bold" fill="#223" text-anchor="end">500</text><text x="-3.2" y="22.8" font-size="4.6" font-weight="bold" fill="#223" text-anchor="end">400</text><text x="-3.2" y="41.5" font-size="4.6" font-weight="bold" fill="#223" text-anchor="end">300</text><text x="-3.2" y="60.2" font-size="4.6" font-weight="bold" fill="#223" text-anchor="end">200</text><text x="-3.2" y="79.0" font-size="4.6" font-weight="bold" fill="#223" text-anchor="end">100</text><text x="-3.2" y="97.8" font-size="4.6" font-weight="bold" fill="#223" text-anchor="end">0</text><text x="6.2" y="107.1" font-size="4.6" font-weight="bold" fill="#223" text-anchor="middle">10<tspan dy="-2" font-size="3.6">0</tspan></text><text x="27.6" y="107.1" font-size="4.6" font-weight="bold" fill="#223" text-anchor="middle">10<tspan dy="-2" font-size="3.6">1</tspan></text><text x="49.1" y="107.1" font-size="4.6" font-weight="bold" fill="#223" text-anchor="middle">10<tspan dy="-2" font-size="3.6">2</tspan></text><text x="70.5" y="107.1" font-size="4.6" font-weight="bold" fill="#223" text-anchor="middle">10<tspan dy="-2" font-size="3.6">3</tspan></text><text x="92.0" y="107.1" font-size="4.6" font-weight="bold" fill="#223" text-anchor="middle">10<tspan dy="-2" font-size="3.6">4</tspan></text><path d="M-2 2.4H0M-2 21.1H0M-2 39.9H0M-2 58.6H0M-2 77.4H0M-2 96.2H0M6.8 98.5v2.2M13.2 98.5v1.2M17.1 98.5v1.2M19.7 98.5v1.2M21.8 98.5v1.2M23.5 98.5v1.2M25.0 98.5v1.2M26.1 98.5v1.2M27.2 98.5v1.2M28.2 98.5v2.2M34.7 98.5v1.2M38.5 98.5v1.2M41.1 98.5v1.2M43.3 98.5v1.2M45.0 98.5v1.2M46.5 98.5v1.2M47.6 98.5v1.2M48.6 98.5v1.2M49.7 98.5v2.2M56.1 98.5v1.2M60.0 98.5v1.2M62.6 98.5v1.2M64.7 98.5v1.2M66.4 98.5v1.2M67.9 98.5v1.2M69.0 98.5v1.2M70.1 98.5v1.2M71.1 98.5v2.2M77.6 98.5v1.2M81.4 98.5v1.2M84.0 98.5v1.2M86.2 98.5v1.2M87.9 98.5v1.2M89.4 98.5v1.2M90.5 98.5v1.2M91.5 98.5v1.2M92.6 98.5v2.2" stroke="#556" stroke-width="0.5" fill="none"/></g>
<text x="166" y="810.6" font-size="15.3" text-anchor="middle">0.30<tspan font-size="18" dx="2" dy="0.6">±</tspan><tspan dx="2" dy="-0.6">0.11</tspan></text>
<g transform="translate(234.6 791.5)"><rect x="0" y="0" width="94.8" height="98.5" fill="#fff" stroke="#c4c4c8" stroke-width="0.7"/><path d="M23.2 98.5L42.7 19.7L94.8 13.8" fill="none" stroke="#d6d6da" stroke-width="0.6"/><path d="M39.1 79.8h0.8v0.8h-0.8zM29.3 79.9h0.8v0.8h-0.8zM34.8 77.3h0.8v0.8h-0.8zM32.7 84.8h0.8v0.8h-0.8zM29.2 74.9h0.8v0.8h-0.8zM35.1 73.2h0.8v0.8h-0.8zM30.1 48.2h0.8v0.8h-0.8zM29.5 80.6h0.8v0.8h-0.8zM40.8 78.0h0.8v0.8h-0.8zM19.2 70.8h0.8v0.8h-0.8zM33.7 75.8h0.8v0.8h-0.8zM41.7 83.9h0.8v0.8h-0.8zM34.7 74.4h0.8v0.8h-0.8zM44.2 77.8h0.8v0.8h-0.8zM30.4 8.3h0.8v0.8h-0.8zM29.4 74.6h0.8v0.8h-0.8zM31.9 71.3h0.8v0.8h-0.8zM33.3 77.3h0.8v0.8h-0.8zM34.9 74.5h0.8v0.8h-0.8zM40.1 83.2h0.8v0.8h-0.8zM29.5 76.0h0.8v0.8h-0.8zM48.2 80.4h0.8v0.8h-0.8zM31.7 79.2h0.8v0.8h-0.8zM28.9 83.5h0.8v0.8h-0.8zM32.6 72.8h0.8v0.8h-0.8zM27.2 82.1h0.8v0.8h-0.8zM33.3 66.4h0.8v0.8h-0.8zM36.9 74.9h0.8v0.8h-0.8zM27.2 75.9h0.8v0.8h-0.8zM28.9 77.9h0.8v0.8h-0.8zM32.2 79.6h0.8v0.8h-0.8zM29.3 72.8h0.8v0.8h-0.8zM42.0 79.4h0.8v0.8h-0.8zM32.6 82.5h0.8v0.8h-0.8zM36.0 78.8h0.8v0.8h-0.8zM36.6 82.2h0.8v0.8h-0.8zM36.6 81.2h0.8v0.8h-0.8zM37.5 68.3h0.8v0.8h-0.8zM42.5 80.6h0.8v0.8h-0.8zM37.0 71.5h0.8v0.8h-0.8zM68.5 71.3h0.8v0.8h-0.8zM23.8 75.5h0.8v0.8h-0.8zM34.5 81.6h0.8v0.8h-0.8zM34.7 80.7h0.8v0.8h-0.8zM38.7 79.9h0.8v0.8h-0.8zM32.8 82.6h0.8v0.8h-0.8zM28.0 78.1h0.8v0.8h-0.8zM33.4 79.7h0.8v0.8h-0.8zM32.2 82.1h0.8v0.8h-0.8zM13.4 76.8h0.8v0.8h-0.8zM37.8 77.7h0.8v0.8h-0.8zM32.0 80.7h0.8v0.8h-0.8zM36.6 78.0h0.8v0.8h-0.8zM26.6 76.8h0.8v0.8h-0.8zM24.6 80.4h0.8v0.8h-0.8zM42.6 81.4h0.8v0.8h-0.8zM28.4 66.5h0.8v0.8h-0.8zM35.6 82.8h0.8v0.8h-0.8zM34.2 75.0h0.8v0.8h-0.8zM16.7 74.9h0.8v0.8h-0.8zM35.3 79.1h0.8v0.8h-0.8zM46.2 76.5h0.8v0.8h-0.8zM42.5 76.5h0.8v0.8h-0.8zM32.7 64.3h0.8v0.8h-0.8zM33.3 79.4h0.8v0.8h-0.8zM29.6 80.6h0.8v0.8h-0.8zM29.1 77.2h0.8v0.8h-0.8zM38.4 81.7h0.8v0.8h-0.8zM47.5 83.0h0.8v0.8h-0.8zM32.6 78.8h0.8v0.8h-0.8zM28.1 75.0h0.8v0.8h-0.8zM25.4 78.9h0.8v0.8h-0.8zM35.4 79.6h0.8v0.8h-0.8zM29.7 82.9h0.8v0.8h-0.8zM40.4 78.2h0.8v0.8h-0.8zM30.3 36.8h0.8v0.8h-0.8zM40.6 73.0h0.8v0.8h-0.8zM36.8 72.7h0.8v0.8h-0.8zM32.6 77.9h0.8v0.8h-0.8zM35.6 54.3h0.8v0.8h-0.8zM32.1 80.2h0.8v0.8h-0.8zM36.9 71.3h0.8v0.8h-0.8zM32.7 79.7h0.8v0.8h-0.8zM26.5 72.2h0.8v0.8h-0.8zM36.4 77.0h0.8v0.8h-0.8zM32.6 76.5h0.8v0.8h-0.8zM48.1 80.8h0.8v0.8h-0.8zM36.7 80.3h0.8v0.8h-0.8zM25.4 76.2h0.8v0.8h-0.8zM32.8 80.8h0.8v0.8h-0.8zM32.3 55.6h0.8v0.8h-0.8zM37.7 58.9h0.8v0.8h-0.8zM28.8 76.3h0.8v0.8h-0.8zM35.7 83.2h0.8v0.8h-0.8zM20.4 74.8h0.8v0.8h-0.8zM29.6 78.8h0.8v0.8h-0.8zM15.2 75.7h0.8v0.8h-0.8zM44.3 72.1h0.8v0.8h-0.8zM35.7 73.0h0.8v0.8h-0.8zM20.4 78.8h0.8v0.8h-0.8zM37.2 74.5h0.8v0.8h-0.8zM33.6 77.9h0.8v0.8h-0.8zM26.0 72.3h0.8v0.8h-0.8zM33.7 65.8h0.8v0.8h-0.8zM29.8 81.9h0.8v0.8h-0.8zM37.6 76.3h0.8v0.8h-0.8zM31.2 64.6h0.8v0.8h-0.8zM35.8 79.5h0.8v0.8h-0.8zM35.4 78.6h0.8v0.8h-0.8zM29.8 80.5h0.8v0.8h-0.8zM31.6 77.5h0.8v0.8h-0.8zM16.3 77.2h0.8v0.8h-0.8zM34.0 82.4h0.8v0.8h-0.8zM31.5 82.2h0.8v0.8h-0.8zM38.1 78.4h0.8v0.8h-0.8zM34.9 76.0h0.8v0.8h-0.8zM32.8 81.0h0.8v0.8h-0.8zM38.9 80.0h0.8v0.8h-0.8zM30.5 81.9h0.8v0.8h-0.8zM33.0 81.8h0.8v0.8h-0.8zM43.4 81.4h0.8v0.8h-0.8zM33.6 76.1h0.8v0.8h-0.8zM46.3 82.4h0.8v0.8h-0.8zM32.5 72.0h0.8v0.8h-0.8zM37.1 79.7h0.8v0.8h-0.8zM31.7 24.0h0.8v0.8h-0.8zM41.2 74.5h0.8v0.8h-0.8zM30.5 79.2h0.8v0.8h-0.8zM37.1 50.7h0.8v0.8h-0.8zM25.5 81.2h0.8v0.8h-0.8zM29.3 81.0h0.8v0.8h-0.8zM42.5 78.8h0.8v0.8h-0.8zM29.9 80.5h0.8v0.8h-0.8zM28.7 75.2h0.8v0.8h-0.8zM39.8 81.4h0.8v0.8h-0.8zM35.4 78.2h0.8v0.8h-0.8zM17.1 72.0h0.8v0.8h-0.8zM40.6 82.2h0.8v0.8h-0.8zM17.3 74.9h0.8v0.8h-0.8zM18.1 77.4h0.8v0.8h-0.8zM31.9 71.8h0.8v0.8h-0.8zM33.2 71.3h0.8v0.8h-0.8zM34.0 75.7h0.8v0.8h-0.8zM30.3 81.8h0.8v0.8h-0.8zM34.0 80.1h0.8v0.8h-0.8zM37.2 82.4h0.8v0.8h-0.8zM30.4 81.1h0.8v0.8h-0.8zM34.5 65.0h0.8v0.8h-0.8zM29.4 77.8h0.8v0.8h-0.8zM31.9 50.6h0.8v0.8h-0.8zM39.9 70.3h0.8v0.8h-0.8zM31.6 77.0h0.8v0.8h-0.8zM30.2 23.0h0.8v0.8h-0.8zM37.4 77.0h0.8v0.8h-0.8zM31.6 31.2h0.8v0.8h-0.8zM36.5 57.2h0.8v0.8h-0.8zM36.2 73.9h0.8v0.8h-0.8zM26.6 72.2h0.8v0.8h-0.8zM35.0 78.9h0.8v0.8h-0.8zM32.7 82.8h0.8v0.8h-0.8zM36.0 73.9h0.8v0.8h-0.8zM36.7 80.6h0.8v0.8h-0.8zM33.7 74.7h0.8v0.8h-0.8zM41.8 79.5h0.8v0.8h-0.8zM22.4 74.4h0.8v0.8h-0.8zM24.4 74.1h0.8v0.8h-0.8zM31.8 77.6h0.8v0.8h-0.8zM32.6 80.9h0.8v0.8h-0.8zM28.4 73.4h0.8v0.8h-0.8zM34.6 65.3h0.8v0.8h-0.8zM35.8 82.1h0.8v0.8h-0.8zM32.8 78.4h0.8v0.8h-0.8zM27.9 80.6h0.8v0.8h-0.8zM37.4 79.1h0.8v0.8h-0.8zM36.7 77.5h0.8v0.8h-0.8zM32.8 26.3h0.8v0.8h-0.8zM32.3 78.9h0.8v0.8h-0.8zM24.2 79.2h0.8v0.8h-0.8zM29.1 78.7h0.8v0.8h-0.8zM33.2 81.0h0.8v0.8h-0.8zM32.0 79.8h0.8v0.8h-0.8zM35.6 74.4h0.8v0.8h-0.8zM24.2 75.9h0.8v0.8h-0.8zM30.5 80.8h0.8v0.8h-0.8zM31.1 77.4h0.8v0.8h-0.8zM29.3 74.7h0.8v0.8h-0.8zM34.7 76.5h0.8v0.8h-0.8zM33.9 72.1h0.8v0.8h-0.8zM30.3 82.3h0.8v0.8h-0.8zM29.5 80.7h0.8v0.8h-0.8zM34.2 70.2h0.8v0.8h-0.8zM34.9 58.3h0.8v0.8h-0.8zM26.8 78.2h0.8v0.8h-0.8zM31.2 75.5h0.8v0.8h-0.8zM15.6 76.9h0.8v0.8h-0.8zM32.1 79.7h0.8v0.8h-0.8zM32.7 72.5h0.8v0.8h-0.8zM26.3 82.5h0.8v0.8h-0.8zM28.5 49.1h0.8v0.8h-0.8zM32.1 71.4h0.8v0.8h-0.8zM40.8 78.1h0.8v0.8h-0.8zM34.0 7.3h0.8v0.8h-0.8zM26.5 82.9h0.8v0.8h-0.8zM34.9 72.0h0.8v0.8h-0.8zM38.1 80.2h0.8v0.8h-0.8zM31.5 77.9h0.8v0.8h-0.8zM45.3 79.3h0.8v0.8h-0.8zM34.7 82.0h0.8v0.8h-0.8zM43.3 82.1h0.8v0.8h-0.8zM28.0 68.3h0.8v0.8h-0.8zM34.9 59.0h0.8v0.8h-0.8zM30.0 78.8h0.8v0.8h-0.8zM24.8 72.4h0.8v0.8h-0.8zM25.7 77.4h0.8v0.8h-0.8zM38.7 77.1h0.8v0.8h-0.8zM41.9 80.9h0.8v0.8h-0.8zM29.9 75.3h0.8v0.8h-0.8zM29.3 70.8h0.8v0.8h-0.8zM28.9 76.4h0.8v0.8h-0.8zM40.1 75.0h0.8v0.8h-0.8zM48.3 78.6h0.8v0.8h-0.8zM28.9 79.3h0.8v0.8h-0.8zM33.3 78.4h0.8v0.8h-0.8zM34.2 76.1h0.8v0.8h-0.8zM25.3 80.6h0.8v0.8h-0.8zM24.1 81.8h0.8v0.8h-0.8zM32.9 80.2h0.8v0.8h-0.8zM28.9 82.5h0.8v0.8h-0.8zM31.2 59.0h0.8v0.8h-0.8zM34.7 82.2h0.8v0.8h-0.8zM34.8 79.2h0.8v0.8h-0.8zM36.0 78.4h0.8v0.8h-0.8zM27.2 79.5h0.8v0.8h-0.8zM31.6 77.6h0.8v0.8h-0.8zM32.3 71.3h0.8v0.8h-0.8zM26.0 78.8h0.8v0.8h-0.8zM37.5 77.4h0.8v0.8h-0.8zM35.0 77.1h0.8v0.8h-0.8zM30.3 25.8h0.8v0.8h-0.8zM30.8 77.3h0.8v0.8h-0.8zM25.4 75.4h0.8v0.8h-0.8zM27.5 80.9h0.8v0.8h-0.8zM41.8 80.4h0.8v0.8h-0.8zM35.3 68.7h0.8v0.8h-0.8zM18.7 74.7h0.8v0.8h-0.8zM40.3 80.7h0.8v0.8h-0.8zM22.4 82.3h0.8v0.8h-0.8zM30.3 63.9h0.8v0.8h-0.8zM31.4 67.7h0.8v0.8h-0.8zM30.1 65.0h0.8v0.8h-0.8zM36.2 64.1h0.8v0.8h-0.8zM28.9 67.6h0.8v0.8h-0.8zM38.0 77.0h0.8v0.8h-0.8zM36.1 79.8h0.8v0.8h-0.8zM35.4 81.9h0.8v0.8h-0.8zM26.4 76.8h0.8v0.8h-0.8zM22.0 78.7h0.8v0.8h-0.8zM26.8 76.6h0.8v0.8h-0.8zM34.4 81.9h0.8v0.8h-0.8zM32.9 84.4h0.8v0.8h-0.8zM33.7 70.5h0.8v0.8h-0.8zM51.4 73.3h0.8v0.8h-0.8zM39.8 71.8h0.8v0.8h-0.8zM19.8 77.4h0.8v0.8h-0.8zM46.3 78.8h0.8v0.8h-0.8zM50.9 79.8h0.8v0.8h-0.8zM44.5 80.9h0.8v0.8h-0.8zM37.6 80.4h0.8v0.8h-0.8zM25.5 75.4h0.8v0.8h-0.8zM31.3 76.2h0.8v0.8h-0.8zM23.6 82.9h0.8v0.8h-0.8zM42.7 75.6h0.8v0.8h-0.8zM32.0 78.0h0.8v0.8h-0.8zM35.6 81.3h0.8v0.8h-0.8zM30.5 62.1h0.8v0.8h-0.8zM19.2 79.4h0.8v0.8h-0.8zM32.2 69.4h0.8v0.8h-0.8zM32.5 80.1h0.8v0.8h-0.8zM31.8 70.6h0.8v0.8h-0.8zM28.0 79.0h0.8v0.8h-0.8zM31.7 80.9h0.8v0.8h-0.8zM31.1 81.3h0.8v0.8h-0.8zM32.8 44.1h0.8v0.8h-0.8zM45.3 76.0h0.8v0.8h-0.8zM23.8 79.6h0.8v0.8h-0.8zM38.5 73.4h0.8v0.8h-0.8zM34.0 67.4h0.8v0.8h-0.8zM37.4 82.7h0.8v0.8h-0.8zM29.5 61.6h0.8v0.8h-0.8zM29.2 63.6h0.8v0.8h-0.8zM33.0 74.1h0.8v0.8h-0.8zM37.8 81.3h0.8v0.8h-0.8zM31.5 80.8h0.8v0.8h-0.8zM24.7 77.9h0.8v0.8h-0.8zM36.3 82.6h0.8v0.8h-0.8zM36.6 76.1h0.8v0.8h-0.8zM32.4 72.3h0.8v0.8h-0.8zM37.1 80.1h0.8v0.8h-0.8zM30.2 77.5h0.8v0.8h-0.8zM30.1 56.3h0.8v0.8h-0.8zM27.7 71.4h0.8v0.8h-0.8zM42.3 82.1h0.8v0.8h-0.8zM34.7 67.1h0.8v0.8h-0.8zM28.1 82.6h0.8v0.8h-0.8zM28.0 57.4h0.8v0.8h-0.8zM48.4 80.5h0.8v0.8h-0.8zM33.0 65.4h0.8v0.8h-0.8zM26.1 81.3h0.8v0.8h-0.8zM43.8 75.6h0.8v0.8h-0.8zM37.1 80.0h0.8v0.8h-0.8zM23.0 82.6h0.8v0.8h-0.8zM34.2 81.5h0.8v0.8h-0.8zM24.3 82.6h0.8v0.8h-0.8zM32.6 76.7h0.8v0.8h-0.8zM57.1 80.7h0.8v0.8h-0.8zM38.7 83.3h0.8v0.8h-0.8zM35.3 65.7h0.8v0.8h-0.8zM42.4 73.5h0.8v0.8h-0.8zM16.6 64.2h0.8v0.8h-0.8zM33.0 73.8h0.8v0.8h-0.8zM22.2 76.4h0.8v0.8h-0.8zM41.0 73.0h0.8v0.8h-0.8zM29.0 81.5h0.8v0.8h-0.8zM36.2 82.4h0.8v0.8h-0.8zM32.7 78.0h0.8v0.8h-0.8zM30.9 76.4h0.8v0.8h-0.8zM23.2 75.6h0.8v0.8h-0.8zM35.0 63.5h0.8v0.8h-0.8zM34.2 79.9h0.8v0.8h-0.8zM37.6 68.1h0.8v0.8h-0.8zM34.0 66.0h0.8v0.8h-0.8zM40.7 79.6h0.8v0.8h-0.8zM31.7 44.7h0.8v0.8h-0.8zM50.7 79.4h0.8v0.8h-0.8zM36.3 71.2h0.8v0.8h-0.8zM33.6 80.2h0.8v0.8h-0.8zM34.0 75.7h0.8v0.8h-0.8zM34.8 75.1h0.8v0.8h-0.8zM30.1 77.9h0.8v0.8h-0.8zM33.7 71.3h0.8v0.8h-0.8zM28.4 67.8h0.8v0.8h-0.8zM26.1 78.6h0.8v0.8h-0.8zM31.6 83.9h0.8v0.8h-0.8zM30.8 80.6h0.8v0.8h-0.8zM27.2 78.2h0.8v0.8h-0.8zM36.5 80.5h0.8v0.8h-0.8zM33.9 64.9h0.8v0.8h-0.8zM33.9 60.6h0.8v0.8h-0.8zM47.1 81.8h0.8v0.8h-0.8zM19.0 82.9h0.8v0.8h-0.8zM26.0 70.4h0.8v0.8h-0.8zM38.6 77.9h0.8v0.8h-0.8zM32.5 68.3h0.8v0.8h-0.8zM16.3 73.6h0.8v0.8h-0.8zM30.4 69.1h0.8v0.8h-0.8zM32.4 60.6h0.8v0.8h-0.8zM23.1 80.6h0.8v0.8h-0.8zM25.8 78.0h0.8v0.8h-0.8zM28.6 74.5h0.8v0.8h-0.8zM32.3 42.9h0.8v0.8h-0.8zM39.8 81.7h0.8v0.8h-0.8zM45.7 79.3h0.8v0.8h-0.8zM49.5 81.7h0.8v0.8h-0.8zM28.4 76.7h0.8v0.8h-0.8zM26.1 80.1h0.8v0.8h-0.8zM28.7 78.3h0.8v0.8h-0.8zM35.0 77.6h0.8v0.8h-0.8zM40.7 80.1h0.8v0.8h-0.8zM35.5 75.0h0.8v0.8h-0.8zM42.8 74.3h0.8v0.8h-0.8zM34.5 73.6h0.8v0.8h-0.8zM31.9 70.2h0.8v0.8h-0.8zM43.7 79.5h0.8v0.8h-0.8zM31.7 79.4h0.8v0.8h-0.8zM27.7 77.6h0.8v0.8h-0.8zM36.4 81.0h0.8v0.8h-0.8zM22.5 70.7h0.8v0.8h-0.8zM32.2 70.3h0.8v0.8h-0.8zM39.3 78.6h0.8v0.8h-0.8zM36.4 77.4h0.8v0.8h-0.8zM51.0 76.1h0.8v0.8h-0.8zM52.8 82.1h0.8v0.8h-0.8zM31.4 75.6h0.8v0.8h-0.8zM41.4 80.2h0.8v0.8h-0.8zM32.5 70.5h0.8v0.8h-0.8zM40.1 80.7h0.8v0.8h-0.8zM31.4 80.2h0.8v0.8h-0.8zM31.3 66.7h0.8v0.8h-0.8zM33.8 76.4h0.8v0.8h-0.8zM29.4 54.5h0.8v0.8h-0.8zM32.1 27.9h0.8v0.8h-0.8zM31.4 75.5h0.8v0.8h-0.8zM11.7 80.7h0.8v0.8h-0.8zM28.7 73.0h0.8v0.8h-0.8zM30.1 75.6h0.8v0.8h-0.8zM26.4 82.5h0.8v0.8h-0.8zM34.5 84.2h0.8v0.8h-0.8zM45.8 75.3h0.8v0.8h-0.8zM40.5 81.6h0.8v0.8h-0.8zM42.0 82.7h0.8v0.8h-0.8zM55.8 76.4h0.8v0.8h-0.8zM33.5 70.8h0.8v0.8h-0.8zM36.4 77.1h0.8v0.8h-0.8zM44.3 78.8h0.8v0.8h-0.8zM37.4 81.0h0.8v0.8h-0.8zM35.2 44.5h0.8v0.8h-0.8zM48.1 81.8h0.8v0.8h-0.8zM24.4 79.2h0.8v0.8h-0.8zM34.5 82.8h0.8v0.8h-0.8zM33.5 80.3h0.8v0.8h-0.8zM39.3 81.3h0.8v0.8h-0.8zM41.6 80.1h0.8v0.8h-0.8zM39.0 77.1h0.8v0.8h-0.8zM31.8 81.2h0.8v0.8h-0.8zM35.0 55.2h0.8v0.8h-0.8zM31.0 82.3h0.8v0.8h-0.8zM28.3 72.5h0.8v0.8h-0.8zM35.4 82.5h0.8v0.8h-0.8zM31.8 76.6h0.8v0.8h-0.8zM32.9 54.6h0.8v0.8h-0.8zM29.3 84.0h0.8v0.8h-0.8zM30.6 59.5h0.8v0.8h-0.8zM47.8 75.1h0.8v0.8h-0.8zM31.6 49.3h0.8v0.8h-0.8zM34.6 77.3h0.8v0.8h-0.8zM34.0 71.9h0.8v0.8h-0.8zM26.5 80.8h0.8v0.8h-0.8zM32.9 71.9h0.8v0.8h-0.8z" fill="#2a2cf0" opacity="0.85"/><path d="M40.9 82.9h0.8v0.8h-0.8zM11.5 79.5h0.8v0.8h-0.8zM43.9 76.5h0.8v0.8h-0.8zM34.3 78.0h0.8v0.8h-0.8zM34.7 80.2h0.8v0.8h-0.8zM16.3 79.0h0.8v0.8h-0.8zM28.7 82.3h0.8v0.8h-0.8zM32.8 70.3h0.8v0.8h-0.8zM25.3 79.3h0.8v0.8h-0.8zM31.5 76.3h0.8v0.8h-0.8zM34.3 83.2h0.8v0.8h-0.8zM25.5 79.2h0.8v0.8h-0.8zM36.9 68.6h0.8v0.8h-0.8zM33.4 83.1h0.8v0.8h-0.8zM43.9 78.1h0.8v0.8h-0.8zM32.6 76.9h0.8v0.8h-0.8zM16.3 80.4h0.8v0.8h-0.8zM32.6 56.8h0.8v0.8h-0.8zM30.1 60.0h0.8v0.8h-0.8zM36.6 75.4h0.8v0.8h-0.8zM27.8 72.3h0.8v0.8h-0.8zM32.2 83.9h0.8v0.8h-0.8zM44.5 73.4h0.8v0.8h-0.8zM32.0 82.1h0.8v0.8h-0.8zM31.9 81.9h0.8v0.8h-0.8zM28.1 80.7h0.8v0.8h-0.8zM33.3 41.3h0.8v0.8h-0.8zM48.6 77.9h0.8v0.8h-0.8zM35.5 62.3h0.8v0.8h-0.8zM37.2 75.4h0.8v0.8h-0.8zM31.1 82.4h0.8v0.8h-0.8zM37.0 82.2h0.8v0.8h-0.8zM45.4 73.2h0.8v0.8h-0.8zM42.2 73.2h0.8v0.8h-0.8zM34.3 74.5h0.8v0.8h-0.8zM33.2 81.2h0.8v0.8h-0.8zM32.5 75.6h0.8v0.8h-0.8zM43.6 82.5h0.8v0.8h-0.8zM27.9 75.7h0.8v0.8h-0.8zM32.9 71.9h0.8v0.8h-0.8zM25.4 79.7h0.8v0.8h-0.8zM35.2 75.9h0.8v0.8h-0.8zM38.6 68.0h0.8v0.8h-0.8zM37.3 76.0h0.8v0.8h-0.8zM36.0 71.2h0.8v0.8h-0.8zM49.1 77.2h0.8v0.8h-0.8zM25.2 77.9h0.8v0.8h-0.8zM36.3 28.9h0.8v0.8h-0.8zM29.7 82.0h0.8v0.8h-0.8zM31.9 78.6h0.8v0.8h-0.8zM32.2 80.7h0.8v0.8h-0.8zM40.6 80.2h0.8v0.8h-0.8zM16.2 67.9h0.8v0.8h-0.8zM41.1 78.4h0.8v0.8h-0.8zM36.0 47.7h0.8v0.8h-0.8zM31.8 80.6h0.8v0.8h-0.8zM34.3 52.2h0.8v0.8h-0.8zM33.1 68.1h0.8v0.8h-0.8zM35.5 54.2h0.8v0.8h-0.8zM42.8 78.3h0.8v0.8h-0.8zM37.8 82.8h0.8v0.8h-0.8zM26.8 79.4h0.8v0.8h-0.8zM26.5 73.9h0.8v0.8h-0.8zM45.9 77.5h0.8v0.8h-0.8zM27.6 82.8h0.8v0.8h-0.8zM23.9 83.9h0.8v0.8h-0.8zM27.0 79.1h0.8v0.8h-0.8zM28.2 82.9h0.8v0.8h-0.8zM42.3 78.2h0.8v0.8h-0.8zM36.9 73.5h0.8v0.8h-0.8zM32.3 74.8h0.8v0.8h-0.8zM35.7 83.6h0.8v0.8h-0.8zM21.9 77.5h0.8v0.8h-0.8zM36.0 74.6h0.8v0.8h-0.8zM50.1 80.3h0.8v0.8h-0.8zM30.2 81.5h0.8v0.8h-0.8zM37.1 76.0h0.8v0.8h-0.8zM39.2 84.6h0.8v0.8h-0.8zM28.7 79.7h0.8v0.8h-0.8zM23.9 76.2h0.8v0.8h-0.8zM32.5 56.0h0.8v0.8h-0.8zM42.5 79.9h0.8v0.8h-0.8zM33.1 76.7h0.8v0.8h-0.8zM44.0 79.3h0.8v0.8h-0.8zM42.8 82.9h0.8v0.8h-0.8zM29.4 82.5h0.8v0.8h-0.8zM35.2 73.3h0.8v0.8h-0.8zM29.6 26.9h0.8v0.8h-0.8zM31.4 74.8h0.8v0.8h-0.8zM32.5 80.2h0.8v0.8h-0.8zM28.7 77.5h0.8v0.8h-0.8zM34.7 76.3h0.8v0.8h-0.8zM31.3 75.2h0.8v0.8h-0.8zM32.6 80.1h0.8v0.8h-0.8zM26.1 82.7h0.8v0.8h-0.8zM30.7 75.7h0.8v0.8h-0.8zM32.6 79.3h0.8v0.8h-0.8zM38.3 76.2h0.8v0.8h-0.8zM37.0 74.9h0.8v0.8h-0.8zM33.7 77.0h0.8v0.8h-0.8zM47.3 80.4h0.8v0.8h-0.8zM36.8 61.8h0.8v0.8h-0.8zM29.6 77.2h0.8v0.8h-0.8zM34.2 80.1h0.8v0.8h-0.8zM31.7 80.8h0.8v0.8h-0.8zM29.7 67.0h0.8v0.8h-0.8zM34.0 77.0h0.8v0.8h-0.8zM30.4 74.3h0.8v0.8h-0.8zM33.8 30.5h0.8v0.8h-0.8zM28.4 78.2h0.8v0.8h-0.8zM38.6 80.6h0.8v0.8h-0.8zM32.4 59.8h0.8v0.8h-0.8zM33.8 84.3h0.8v0.8h-0.8zM25.9 78.1h0.8v0.8h-0.8zM38.6 77.3h0.8v0.8h-0.8zM27.8 80.5h0.8v0.8h-0.8zM35.7 79.6h0.8v0.8h-0.8zM17.6 82.5h0.8v0.8h-0.8zM34.0 83.5h0.8v0.8h-0.8zM32.1 69.9h0.8v0.8h-0.8zM44.2 79.2h0.8v0.8h-0.8zM36.6 66.5h0.8v0.8h-0.8zM55.1 81.8h0.8v0.8h-0.8zM33.2 64.8h0.8v0.8h-0.8zM24.4 79.2h0.8v0.8h-0.8zM32.3 76.1h0.8v0.8h-0.8zM33.9 82.2h0.8v0.8h-0.8zM32.3 54.2h0.8v0.8h-0.8zM43.4 74.9h0.8v0.8h-0.8zM34.0 80.2h0.8v0.8h-0.8zM36.3 81.9h0.8v0.8h-0.8zM34.9 79.3h0.8v0.8h-0.8zM36.6 82.1h0.8v0.8h-0.8zM29.1 65.7h0.8v0.8h-0.8zM23.2 75.8h0.8v0.8h-0.8zM25.3 81.4h0.8v0.8h-0.8zM28.5 82.3h0.8v0.8h-0.8zM32.0 64.9h0.8v0.8h-0.8zM22.9 79.6h0.8v0.8h-0.8zM27.6 78.6h0.8v0.8h-0.8zM22.1 80.1h0.8v0.8h-0.8zM30.5 79.9h0.8v0.8h-0.8zM34.8 76.9h0.8v0.8h-0.8zM24.3 76.5h0.8v0.8h-0.8zM34.8 82.0h0.8v0.8h-0.8zM24.9 73.3h0.8v0.8h-0.8zM52.7 68.5h0.8v0.8h-0.8zM33.8 73.9h0.8v0.8h-0.8zM29.5 83.3h0.8v0.8h-0.8zM35.8 55.0h0.8v0.8h-0.8zM44.5 79.6h0.8v0.8h-0.8zM20.8 78.3h0.8v0.8h-0.8zM37.0 67.2h0.8v0.8h-0.8zM34.3 75.2h0.8v0.8h-0.8zM27.5 75.8h0.8v0.8h-0.8zM22.4 73.6h0.8v0.8h-0.8zM36.1 80.2h0.8v0.8h-0.8zM23.7 78.0h0.8v0.8h-0.8zM47.9 77.2h0.8v0.8h-0.8zM35.3 80.0h0.8v0.8h-0.8zM34.8 77.1h0.8v0.8h-0.8zM40.6 74.0h0.8v0.8h-0.8zM36.5 80.9h0.8v0.8h-0.8zM16.7 76.3h0.8v0.8h-0.8zM29.9 80.9h0.8v0.8h-0.8zM30.7 71.5h0.8v0.8h-0.8zM37.9 80.8h0.8v0.8h-0.8zM19.3 75.0h0.8v0.8h-0.8zM28.8 78.8h0.8v0.8h-0.8zM40.3 78.6h0.8v0.8h-0.8zM57.9 82.6h0.8v0.8h-0.8zM22.3 79.0h0.8v0.8h-0.8zM16.5 82.8h0.8v0.8h-0.8zM33.9 61.1h0.8v0.8h-0.8zM33.1 77.5h0.8v0.8h-0.8zM29.7 58.9h0.8v0.8h-0.8zM42.2 78.0h0.8v0.8h-0.8zM36.5 82.8h0.8v0.8h-0.8zM34.3 78.9h0.8v0.8h-0.8zM35.2 82.0h0.8v0.8h-0.8zM33.2 79.8h0.8v0.8h-0.8zM28.4 79.7h0.8v0.8h-0.8zM33.3 80.8h0.8v0.8h-0.8zM31.8 79.3h0.8v0.8h-0.8zM36.6 69.0h0.8v0.8h-0.8zM25.0 80.4h0.8v0.8h-0.8zM33.1 60.6h0.8v0.8h-0.8zM33.5 60.8h0.8v0.8h-0.8zM34.6 79.3h0.8v0.8h-0.8zM34.9 82.9h0.8v0.8h-0.8zM28.8 82.3h0.8v0.8h-0.8zM25.9 79.0h0.8v0.8h-0.8zM32.2 54.7h0.8v0.8h-0.8zM38.7 80.5h0.8v0.8h-0.8zM30.9 80.9h0.8v0.8h-0.8zM28.8 14.7h0.8v0.8h-0.8zM31.5 80.2h0.8v0.8h-0.8zM36.9 80.2h0.8v0.8h-0.8zM33.8 70.6h0.8v0.8h-0.8zM35.6 82.8h0.8v0.8h-0.8zM37.2 79.7h0.8v0.8h-0.8zM40.5 81.2h0.8v0.8h-0.8zM36.6 80.8h0.8v0.8h-0.8zM48.4 81.6h0.8v0.8h-0.8zM35.3 75.7h0.8v0.8h-0.8zM33.5 76.0h0.8v0.8h-0.8zM27.7 75.0h0.8v0.8h-0.8z" fill="#6a78ff" opacity="0.85"/><g filter="url(#fbl2)" fill="#2c34f4"><ellipse cx="33.6" cy="81.0" rx="13.8" ry="4.2" opacity="0.9"/><ellipse cx="33.2" cy="71.0" rx="5.9" ry="14.2" opacity="0.85"/><ellipse cx="32.7" cy="76.8" rx="9.0" ry="7.1" opacity="0.8"/></g><ellipse cx="32.2" cy="73.9" rx="3.2" ry="6.2" fill="url(#fc)" opacity="0.75" filter="url(#fbl)"/><g filter="url(#fbl)"><ellipse cx="31.9" cy="80.0" rx="11.9" ry="7.0" fill="url(#fb)"/><ellipse cx="30.5" cy="80.3" rx="10.0" ry="6.2" fill="url(#fc)" transform="rotate(-14 28.9 81.5)"/><ellipse cx="29.7" cy="81.0" rx="7.0" ry="4.0" fill="url(#fg)" transform="rotate(-14 28.9 81.5)"/><ellipse cx="28.9" cy="81.5" rx="4.4" ry="2.2" fill="url(#fy)" transform="rotate(-14 28.9 81.5)"/></g><path d="M0 0V98.5H94.8" fill="none" stroke="#6a6a72" stroke-width="0.8"/><text x="-3.2" y="4.0" font-size="4.6" font-weight="bold" fill="#223" text-anchor="end">500</text><text x="-3.2" y="22.8" font-size="4.6" font-weight="bold" fill="#223" text-anchor="end">400</text><text x="-3.2" y="41.5" font-size="4.6" font-weight="bold" fill="#223" text-anchor="end">300</text><text x="-3.2" y="60.2" font-size="4.6" font-weight="bold" fill="#223" text-anchor="end">200</text><text x="-3.2" y="79.0" font-size="4.6" font-weight="bold" fill="#223" text-anchor="end">100</text><text x="-3.2" y="97.8" font-size="4.6" font-weight="bold" fill="#223" text-anchor="end">0</text><text x="6.2" y="107.1" font-size="4.6" font-weight="bold" fill="#223" text-anchor="middle">10<tspan dy="-2" font-size="3.6">0</tspan></text><text x="27.6" y="107.1" font-size="4.6" font-weight="bold" fill="#223" text-anchor="middle">10<tspan dy="-2" font-size="3.6">1</tspan></text><text x="49.1" y="107.1" font-size="4.6" font-weight="bold" fill="#223" text-anchor="middle">10<tspan dy="-2" font-size="3.6">2</tspan></text><text x="70.5" y="107.1" font-size="4.6" font-weight="bold" fill="#223" text-anchor="middle">10<tspan dy="-2" font-size="3.6">3</tspan></text><text x="92.0" y="107.1" font-size="4.6" font-weight="bold" fill="#223" text-anchor="middle">10<tspan dy="-2" font-size="3.6">4</tspan></text><path d="M-2 2.4H0M-2 21.1H0M-2 39.9H0M-2 58.6H0M-2 77.4H0M-2 96.2H0M6.8 98.5v2.2M13.2 98.5v1.2M17.1 98.5v1.2M19.7 98.5v1.2M21.8 98.5v1.2M23.5 98.5v1.2M25.0 98.5v1.2M26.1 98.5v1.2M27.2 98.5v1.2M28.2 98.5v2.2M34.7 98.5v1.2M38.5 98.5v1.2M41.1 98.5v1.2M43.3 98.5v1.2M45.0 98.5v1.2M46.5 98.5v1.2M47.6 98.5v1.2M48.6 98.5v1.2M49.7 98.5v2.2M56.1 98.5v1.2M60.0 98.5v1.2M62.6 98.5v1.2M64.7 98.5v1.2M66.4 98.5v1.2M67.9 98.5v1.2M69.0 98.5v1.2M70.1 98.5v1.2M71.1 98.5v2.2M77.6 98.5v1.2M81.4 98.5v1.2M84.0 98.5v1.2M86.2 98.5v1.2M87.9 98.5v1.2M89.4 98.5v1.2M90.5 98.5v1.2M91.5 98.5v1.2M92.6 98.5v2.2" stroke="#556" stroke-width="0.5" fill="none"/></g>
<text x="285.7" y="810.6" font-size="15.3" text-anchor="middle">50.9<tspan font-size="18" dx="2" dy="0.6">±</tspan><tspan dx="2" dy="-0.6">4.3</tspan></text>
<g transform="translate(344.6 791.5)"><rect x="0" y="0" width="94.2" height="98.5" fill="#fff" stroke="#c4c4c8" stroke-width="0.7"/><path d="M23.1 98.5L42.4 19.7L94.2 13.8" fill="none" stroke="#d6d6da" stroke-width="0.6"/><path d="M32.2 73.2h0.8v0.8h-0.8zM21.5 77.9h0.8v0.8h-0.8zM32.9 82.0h0.8v0.8h-0.8zM13.4 80.9h0.8v0.8h-0.8zM38.4 74.9h0.8v0.8h-0.8zM22.7 73.0h0.8v0.8h-0.8zM30.8 79.3h0.8v0.8h-0.8zM34.2 74.4h0.8v0.8h-0.8zM33.7 74.7h0.8v0.8h-0.8zM30.1 82.5h0.8v0.8h-0.8zM26.0 44.2h0.8v0.8h-0.8zM46.3 75.4h0.8v0.8h-0.8zM19.9 72.2h0.8v0.8h-0.8zM18.5 73.2h0.8v0.8h-0.8zM40.3 78.3h0.8v0.8h-0.8zM24.8 80.4h0.8v0.8h-0.8zM55.4 79.4h0.8v0.8h-0.8zM18.8 77.5h0.8v0.8h-0.8zM24.6 67.9h0.8v0.8h-0.8zM47.5 80.9h0.8v0.8h-0.8zM32.0 70.4h0.8v0.8h-0.8zM29.4 61.6h0.8v0.8h-0.8zM31.9 71.3h0.8v0.8h-0.8zM24.0 78.1h0.8v0.8h-0.8zM36.2 52.5h0.8v0.8h-0.8zM22.4 69.0h0.8v0.8h-0.8zM28.7 80.5h0.8v0.8h-0.8zM35.1 67.4h0.8v0.8h-0.8zM25.7 65.4h0.8v0.8h-0.8zM10.0 79.3h0.8v0.8h-0.8zM24.8 66.4h0.8v0.8h-0.8zM27.9 63.9h0.8v0.8h-0.8zM24.5 76.9h0.8v0.8h-0.8zM21.0 78.0h0.8v0.8h-0.8zM16.3 76.8h0.8v0.8h-0.8zM37.7 81.9h0.8v0.8h-0.8zM20.8 76.2h0.8v0.8h-0.8zM36.6 77.4h0.8v0.8h-0.8zM41.2 81.3h0.8v0.8h-0.8zM27.5 76.0h0.8v0.8h-0.8zM24.4 72.1h0.8v0.8h-0.8zM15.5 70.6h0.8v0.8h-0.8zM31.9 80.6h0.8v0.8h-0.8zM33.4 80.1h0.8v0.8h-0.8zM36.6 78.0h0.8v0.8h-0.8zM19.0 71.9h0.8v0.8h-0.8zM23.8 46.7h0.8v0.8h-0.8zM33.0 69.4h0.8v0.8h-0.8zM32.4 79.2h0.8v0.8h-0.8zM38.6 81.8h0.8v0.8h-0.8zM27.8 30.1h0.8v0.8h-0.8zM17.2 77.3h0.8v0.8h-0.8zM38.7 74.9h0.8v0.8h-0.8zM33.7 79.5h0.8v0.8h-0.8zM42.2 79.8h0.8v0.8h-0.8zM26.5 49.6h0.8v0.8h-0.8zM28.6 56.5h0.8v0.8h-0.8zM25.9 76.7h0.8v0.8h-0.8zM64.1 73.4h0.8v0.8h-0.8zM21.1 80.8h0.8v0.8h-0.8zM22.2 62.6h0.8v0.8h-0.8zM29.6 80.9h0.8v0.8h-0.8zM29.4 64.6h0.8v0.8h-0.8zM31.3 73.6h0.8v0.8h-0.8zM37.4 74.9h0.8v0.8h-0.8zM25.7 76.3h0.8v0.8h-0.8zM22.0 70.5h0.8v0.8h-0.8zM11.5 76.9h0.8v0.8h-0.8zM26.5 83.7h0.8v0.8h-0.8zM37.6 73.8h0.8v0.8h-0.8zM29.7 81.7h0.8v0.8h-0.8zM1.3 72.2h0.8v0.8h-0.8zM13.3 81.6h0.8v0.8h-0.8zM30.3 78.2h0.8v0.8h-0.8zM26.3 40.8h0.8v0.8h-0.8zM24.5 66.5h0.8v0.8h-0.8zM29.2 51.4h0.8v0.8h-0.8zM26.3 73.2h0.8v0.8h-0.8zM24.9 77.3h0.8v0.8h-0.8zM27.5 42.9h0.8v0.8h-0.8zM27.6 53.7h0.8v0.8h-0.8zM34.4 78.5h0.8v0.8h-0.8zM31.3 77.8h0.8v0.8h-0.8zM36.4 80.0h0.8v0.8h-0.8zM20.5 81.3h0.8v0.8h-0.8zM35.0 81.2h0.8v0.8h-0.8zM18.5 71.0h0.8v0.8h-0.8zM30.2 45.7h0.8v0.8h-0.8zM33.8 77.9h0.8v0.8h-0.8zM26.0 75.1h0.8v0.8h-0.8zM27.1 79.9h0.8v0.8h-0.8zM23.7 80.6h0.8v0.8h-0.8zM36.3 81.2h0.8v0.8h-0.8zM47.8 80.6h0.8v0.8h-0.8zM15.2 74.4h0.8v0.8h-0.8zM25.0 37.6h0.8v0.8h-0.8zM43.7 83.5h0.8v0.8h-0.8zM29.6 74.8h0.8v0.8h-0.8zM31.1 75.2h0.8v0.8h-0.8zM33.0 75.2h0.8v0.8h-0.8zM18.9 78.3h0.8v0.8h-0.8zM35.8 75.1h0.8v0.8h-0.8zM25.6 70.1h0.8v0.8h-0.8zM28.7 79.3h0.8v0.8h-0.8zM20.7 76.5h0.8v0.8h-0.8zM8.5 80.3h0.8v0.8h-0.8zM43.6 79.3h0.8v0.8h-0.8zM28.2 60.4h0.8v0.8h-0.8zM33.4 81.0h0.8v0.8h-0.8zM30.1 78.0h0.8v0.8h-0.8zM19.1 74.1h0.8v0.8h-0.8zM52.3 79.5h0.8v0.8h-0.8zM29.2 78.5h0.8v0.8h-0.8zM28.9 75.0h0.8v0.8h-0.8zM26.8 80.4h0.8v0.8h-0.8zM35.9 76.0h0.8v0.8h-0.8zM25.9 67.8h0.8v0.8h-0.8zM17.8 81.8h0.8v0.8h-0.8zM54.8 75.3h0.8v0.8h-0.8zM28.7 80.2h0.8v0.8h-0.8zM23.4 55.8h0.8v0.8h-0.8zM22.5 77.9h0.8v0.8h-0.8zM34.3 78.2h0.8v0.8h-0.8zM26.4 59.4h0.8v0.8h-0.8zM45.0 69.8h0.8v0.8h-0.8zM27.9 75.4h0.8v0.8h-0.8zM32.9 68.2h0.8v0.8h-0.8zM30.8 76.3h0.8v0.8h-0.8zM35.0 79.9h0.8v0.8h-0.8zM27.8 64.0h0.8v0.8h-0.8zM30.8 71.9h0.8v0.8h-0.8zM23.7 76.7h0.8v0.8h-0.8zM39.5 75.5h0.8v0.8h-0.8zM26.8 71.2h0.8v0.8h-0.8zM23.2 72.0h0.8v0.8h-0.8zM27.9 39.7h0.8v0.8h-0.8zM23.9 79.6h0.8v0.8h-0.8zM58.0 79.9h0.8v0.8h-0.8zM33.9 63.2h0.8v0.8h-0.8zM33.8 79.6h0.8v0.8h-0.8zM17.3 78.1h0.8v0.8h-0.8zM22.5 80.8h0.8v0.8h-0.8zM23.4 67.2h0.8v0.8h-0.8zM29.6 76.8h0.8v0.8h-0.8zM28.8 69.4h0.8v0.8h-0.8zM27.9 74.9h0.8v0.8h-0.8zM30.2 47.4h0.8v0.8h-0.8zM34.2 81.1h0.8v0.8h-0.8zM14.2 66.6h0.8v0.8h-0.8zM25.6 69.9h0.8v0.8h-0.8zM16.5 73.9h0.8v0.8h-0.8zM44.6 80.0h0.8v0.8h-0.8zM28.5 70.4h0.8v0.8h-0.8zM26.1 66.9h0.8v0.8h-0.8zM27.7 49.8h0.8v0.8h-0.8zM6.8 77.4h0.8v0.8h-0.8zM22.6 80.5h0.8v0.8h-0.8zM23.1 70.3h0.8v0.8h-0.8zM27.8 82.3h0.8v0.8h-0.8zM28.7 80.3h0.8v0.8h-0.8zM30.5 71.5h0.8v0.8h-0.8zM24.4 72.5h0.8v0.8h-0.8zM31.5 81.7h0.8v0.8h-0.8zM4.1 80.3h0.8v0.8h-0.8zM27.1 77.3h0.8v0.8h-0.8zM48.8 79.2h0.8v0.8h-0.8zM28.8 79.6h0.8v0.8h-0.8zM28.1 76.2h0.8v0.8h-0.8zM23.6 32.7h0.8v0.8h-0.8zM50.3 78.3h0.8v0.8h-0.8zM29.0 81.7h0.8v0.8h-0.8zM26.9 64.8h0.8v0.8h-0.8zM14.5 81.3h0.8v0.8h-0.8zM24.7 66.8h0.8v0.8h-0.8zM39.2 58.2h0.8v0.8h-0.8zM43.9 79.0h0.8v0.8h-0.8zM22.9 77.6h0.8v0.8h-0.8zM27.4 63.2h0.8v0.8h-0.8zM32.3 62.2h0.8v0.8h-0.8zM27.6 36.8h0.8v0.8h-0.8zM18.8 79.9h0.8v0.8h-0.8zM28.6 79.0h0.8v0.8h-0.8zM12.8 69.1h0.8v0.8h-0.8zM20.9 80.1h0.8v0.8h-0.8zM29.1 81.9h0.8v0.8h-0.8zM29.8 67.1h0.8v0.8h-0.8zM23.4 81.9h0.8v0.8h-0.8zM29.4 73.4h0.8v0.8h-0.8zM21.6 80.6h0.8v0.8h-0.8zM35.4 70.6h0.8v0.8h-0.8zM20.8 75.0h0.8v0.8h-0.8zM33.0 79.2h0.8v0.8h-0.8zM56.7 78.6h0.8v0.8h-0.8zM32.9 81.2h0.8v0.8h-0.8zM28.5 80.5h0.8v0.8h-0.8zM21.0 79.1h0.8v0.8h-0.8zM31.7 78.7h0.8v0.8h-0.8zM29.0 50.5h0.8v0.8h-0.8zM27.7 81.8h0.8v0.8h-0.8zM39.2 70.8h0.8v0.8h-0.8zM19.7 72.8h0.8v0.8h-0.8zM24.0 80.2h0.8v0.8h-0.8zM22.0 81.4h0.8v0.8h-0.8zM44.1 71.2h0.8v0.8h-0.8zM20.1 79.0h0.8v0.8h-0.8zM24.7 41.5h0.8v0.8h-0.8zM27.4 35.0h0.8v0.8h-0.8zM27.3 69.9h0.8v0.8h-0.8zM36.8 75.6h0.8v0.8h-0.8zM21.1 77.3h0.8v0.8h-0.8zM27.3 78.2h0.8v0.8h-0.8zM29.5 77.1h0.8v0.8h-0.8zM44.0 79.1h0.8v0.8h-0.8zM41.5 81.2h0.8v0.8h-0.8zM28.9 80.1h0.8v0.8h-0.8zM24.9 68.6h0.8v0.8h-0.8zM33.9 71.2h0.8v0.8h-0.8zM32.7 59.2h0.8v0.8h-0.8zM20.4 80.2h0.8v0.8h-0.8zM36.2 77.4h0.8v0.8h-0.8zM27.1 78.9h0.8v0.8h-0.8zM32.9 71.5h0.8v0.8h-0.8zM19.6 77.4h0.8v0.8h-0.8zM28.2 49.9h0.8v0.8h-0.8zM19.1 72.7h0.8v0.8h-0.8zM30.6 69.1h0.8v0.8h-0.8zM29.7 75.7h0.8v0.8h-0.8zM27.9 67.4h0.8v0.8h-0.8zM34.6 53.2h0.8v0.8h-0.8zM31.1 82.3h0.8v0.8h-0.8zM20.2 51.9h0.8v0.8h-0.8zM28.0 71.5h0.8v0.8h-0.8zM32.1 68.9h0.8v0.8h-0.8zM4.5 79.5h0.8v0.8h-0.8zM23.5 81.6h0.8v0.8h-0.8zM28.7 49.1h0.8v0.8h-0.8zM27.4 75.3h0.8v0.8h-0.8zM29.9 74.4h0.8v0.8h-0.8zM29.3 78.0h0.8v0.8h-0.8zM33.7 75.2h0.8v0.8h-0.8zM28.8 79.7h0.8v0.8h-0.8zM22.7 78.9h0.8v0.8h-0.8zM22.0 67.0h0.8v0.8h-0.8zM33.7 56.9h0.8v0.8h-0.8zM18.5 80.4h0.8v0.8h-0.8zM20.6 74.3h0.8v0.8h-0.8zM24.7 59.3h0.8v0.8h-0.8zM21.5 79.4h0.8v0.8h-0.8zM26.1 77.3h0.8v0.8h-0.8zM29.5 75.9h0.8v0.8h-0.8zM20.3 70.2h0.8v0.8h-0.8zM21.4 80.8h0.8v0.8h-0.8zM25.9 81.8h0.8v0.8h-0.8zM30.6 77.7h0.8v0.8h-0.8zM30.9 79.2h0.8v0.8h-0.8zM24.4 81.4h0.8v0.8h-0.8zM31.5 77.9h0.8v0.8h-0.8zM22.9 59.0h0.8v0.8h-0.8zM30.6 70.0h0.8v0.8h-0.8zM31.3 71.2h0.8v0.8h-0.8zM19.6 80.9h0.8v0.8h-0.8zM30.3 82.9h0.8v0.8h-0.8zM23.2 76.4h0.8v0.8h-0.8zM30.8 76.1h0.8v0.8h-0.8zM12.0 77.6h0.8v0.8h-0.8zM36.3 77.6h0.8v0.8h-0.8zM18.5 78.4h0.8v0.8h-0.8zM31.8 67.6h0.8v0.8h-0.8zM41.4 77.2h0.8v0.8h-0.8zM32.2 79.9h0.8v0.8h-0.8zM28.9 80.2h0.8v0.8h-0.8zM4.0 71.4h0.8v0.8h-0.8zM21.2 77.1h0.8v0.8h-0.8zM26.4 54.0h0.8v0.8h-0.8zM29.7 69.6h0.8v0.8h-0.8zM31.3 74.3h0.8v0.8h-0.8zM24.3 76.3h0.8v0.8h-0.8zM40.7 81.5h0.8v0.8h-0.8zM33.2 80.4h0.8v0.8h-0.8zM18.4 80.5h0.8v0.8h-0.8zM34.1 70.2h0.8v0.8h-0.8zM40.5 68.5h0.8v0.8h-0.8zM24.6 77.0h0.8v0.8h-0.8zM32.9 80.0h0.8v0.8h-0.8zM13.1 72.8h0.8v0.8h-0.8zM33.5 62.1h0.8v0.8h-0.8zM30.9 49.1h0.8v0.8h-0.8zM46.8 68.8h0.8v0.8h-0.8zM23.6 84.1h0.8v0.8h-0.8zM27.9 64.6h0.8v0.8h-0.8zM27.5 77.2h0.8v0.8h-0.8zM16.7 81.6h0.8v0.8h-0.8zM36.0 78.4h0.8v0.8h-0.8zM27.9 81.5h0.8v0.8h-0.8zM29.5 68.0h0.8v0.8h-0.8zM33.9 81.5h0.8v0.8h-0.8zM23.4 74.7h0.8v0.8h-0.8zM43.6 75.2h0.8v0.8h-0.8zM19.6 80.0h0.8v0.8h-0.8zM27.4 38.0h0.8v0.8h-0.8zM19.0 81.7h0.8v0.8h-0.8zM42.9 78.9h0.8v0.8h-0.8zM31.8 73.4h0.8v0.8h-0.8zM27.6 27.9h0.8v0.8h-0.8zM27.2 45.1h0.8v0.8h-0.8zM45.8 80.7h0.8v0.8h-0.8zM35.0 74.1h0.8v0.8h-0.8zM23.3 73.0h0.8v0.8h-0.8zM26.7 79.4h0.8v0.8h-0.8zM38.4 75.2h0.8v0.8h-0.8zM20.8 70.7h0.8v0.8h-0.8zM19.8 77.6h0.8v0.8h-0.8zM36.4 80.6h0.8v0.8h-0.8zM29.0 81.8h0.8v0.8h-0.8zM19.2 80.5h0.8v0.8h-0.8zM28.2 71.4h0.8v0.8h-0.8zM28.1 52.4h0.8v0.8h-0.8zM25.3 43.0h0.8v0.8h-0.8zM25.7 69.3h0.8v0.8h-0.8zM51.6 80.7h0.8v0.8h-0.8zM17.8 76.1h0.8v0.8h-0.8zM25.7 80.5h0.8v0.8h-0.8zM14.2 70.3h0.8v0.8h-0.8zM36.8 77.1h0.8v0.8h-0.8zM23.5 77.7h0.8v0.8h-0.8zM31.3 44.0h0.8v0.8h-0.8zM8.1 73.6h0.8v0.8h-0.8zM25.3 72.2h0.8v0.8h-0.8zM24.5 71.5h0.8v0.8h-0.8zM28.4 26.7h0.8v0.8h-0.8zM15.6 81.4h0.8v0.8h-0.8zM36.1 73.9h0.8v0.8h-0.8zM30.0 69.5h0.8v0.8h-0.8zM32.2 71.8h0.8v0.8h-0.8zM23.2 78.7h0.8v0.8h-0.8zM6.9 79.8h0.8v0.8h-0.8zM28.8 38.9h0.8v0.8h-0.8zM17.7 76.8h0.8v0.8h-0.8zM7.0 74.5h0.8v0.8h-0.8zM24.6 77.0h0.8v0.8h-0.8zM18.2 71.5h0.8v0.8h-0.8zM30.1 24.8h0.8v0.8h-0.8zM29.7 73.3h0.8v0.8h-0.8zM20.3 78.8h0.8v0.8h-0.8zM32.9 76.6h0.8v0.8h-0.8zM32.9 77.5h0.8v0.8h-0.8zM27.2 76.3h0.8v0.8h-0.8zM20.5 81.4h0.8v0.8h-0.8zM29.6 81.6h0.8v0.8h-0.8zM30.8 78.5h0.8v0.8h-0.8zM28.2 71.0h0.8v0.8h-0.8zM24.2 79.5h0.8v0.8h-0.8zM31.2 77.9h0.8v0.8h-0.8zM21.8 52.6h0.8v0.8h-0.8zM43.8 75.8h0.8v0.8h-0.8zM32.4 80.1h0.8v0.8h-0.8zM36.6 80.5h0.8v0.8h-0.8zM12.2 77.2h0.8v0.8h-0.8zM34.5 64.5h0.8v0.8h-0.8zM33.8 66.4h0.8v0.8h-0.8zM12.6 81.8h0.8v0.8h-0.8zM45.1 78.1h0.8v0.8h-0.8zM26.1 37.7h0.8v0.8h-0.8zM36.4 79.4h0.8v0.8h-0.8zM13.2 79.8h0.8v0.8h-0.8zM44.9 80.2h0.8v0.8h-0.8zM11.0 80.0h0.8v0.8h-0.8zM25.0 52.1h0.8v0.8h-0.8zM29.1 79.8h0.8v0.8h-0.8zM23.3 65.2h0.8v0.8h-0.8zM25.4 79.6h0.8v0.8h-0.8zM2.9 78.9h0.8v0.8h-0.8zM19.1 75.9h0.8v0.8h-0.8zM45.8 79.5h0.8v0.8h-0.8zM26.2 80.9h0.8v0.8h-0.8zM18.1 80.3h0.8v0.8h-0.8zM24.1 76.9h0.8v0.8h-0.8zM31.1 80.6h0.8v0.8h-0.8zM25.9 75.9h0.8v0.8h-0.8zM31.8 64.5h0.8v0.8h-0.8zM19.5 80.6h0.8v0.8h-0.8zM26.7 63.3h0.8v0.8h-0.8zM28.4 81.0h0.8v0.8h-0.8zM39.0 79.3h0.8v0.8h-0.8zM31.8 79.1h0.8v0.8h-0.8zM15.6 75.9h0.8v0.8h-0.8zM28.8 51.4h0.8v0.8h-0.8zM14.9 76.0h0.8v0.8h-0.8zM26.2 59.9h0.8v0.8h-0.8zM19.4 69.2h0.8v0.8h-0.8zM7.4 80.4h0.8v0.8h-0.8zM29.4 37.8h0.8v0.8h-0.8zM28.5 80.1h0.8v0.8h-0.8zM15.4 79.1h0.8v0.8h-0.8zM32.6 52.9h0.8v0.8h-0.8zM32.1 74.0h0.8v0.8h-0.8zM32.7 65.2h0.8v0.8h-0.8zM57.0 80.4h0.8v0.8h-0.8zM24.0 77.1h0.8v0.8h-0.8zM36.2 77.5h0.8v0.8h-0.8zM44.8 80.0h0.8v0.8h-0.8zM23.8 67.0h0.8v0.8h-0.8zM50.0 79.6h0.8v0.8h-0.8zM24.4 68.3h0.8v0.8h-0.8zM36.4 73.8h0.8v0.8h-0.8zM30.7 72.3h0.8v0.8h-0.8zM34.7 69.7h0.8v0.8h-0.8zM25.9 42.7h0.8v0.8h-0.8zM29.7 61.4h0.8v0.8h-0.8zM25.3 80.2h0.8v0.8h-0.8zM25.1 78.7h0.8v0.8h-0.8zM27.6 79.1h0.8v0.8h-0.8zM21.0 77.3h0.8v0.8h-0.8zM35.0 81.4h0.8v0.8h-0.8zM29.1 68.8h0.8v0.8h-0.8zM61.2 81.2h0.8v0.8h-0.8zM27.4 36.9h0.8v0.8h-0.8zM22.5 80.7h0.8v0.8h-0.8zM27.2 63.8h0.8v0.8h-0.8zM12.2 81.8h0.8v0.8h-0.8zM18.9 78.9h0.8v0.8h-0.8zM35.9 79.2h0.8v0.8h-0.8zM37.9 73.2h0.8v0.8h-0.8zM35.3 81.1h0.8v0.8h-0.8zM13.7 79.6h0.8v0.8h-0.8zM29.9 80.5h0.8v0.8h-0.8zM36.6 79.7h0.8v0.8h-0.8zM26.3 80.6h0.8v0.8h-0.8zM23.0 45.1h0.8v0.8h-0.8zM29.4 66.1h0.8v0.8h-0.8zM32.3 55.1h0.8v0.8h-0.8zM22.7 70.6h0.8v0.8h-0.8zM22.0 75.1h0.8v0.8h-0.8zM31.4 75.7h0.8v0.8h-0.8zM44.7 75.2h0.8v0.8h-0.8zM23.9 79.5h0.8v0.8h-0.8zM20.5 78.4h0.8v0.8h-0.8zM13.3 75.7h0.8v0.8h-0.8zM32.5 47.6h0.8v0.8h-0.8zM28.1 78.0h0.8v0.8h-0.8zM29.0 66.5h0.8v0.8h-0.8zM28.1 50.5h0.8v0.8h-0.8zM18.8 76.3h0.8v0.8h-0.8zM29.3 25.4h0.8v0.8h-0.8zM24.3 71.6h0.8v0.8h-0.8zM23.4 76.7h0.8v0.8h-0.8zM16.4 76.7h0.8v0.8h-0.8zM26.9 81.2h0.8v0.8h-0.8zM31.1 78.0h0.8v0.8h-0.8zM38.3 77.2h0.8v0.8h-0.8zM29.5 75.3h0.8v0.8h-0.8zM32.6 72.8h0.8v0.8h-0.8zM28.9 32.6h0.8v0.8h-0.8zM26.4 80.2h0.8v0.8h-0.8zM28.3 62.2h0.8v0.8h-0.8zM20.3 60.8h0.8v0.8h-0.8zM23.5 62.2h0.8v0.8h-0.8zM32.2 80.4h0.8v0.8h-0.8zM19.8 66.4h0.8v0.8h-0.8zM29.7 73.5h0.8v0.8h-0.8zM24.3 75.8h0.8v0.8h-0.8zM23.6 28.1h0.8v0.8h-0.8zM30.0 50.3h0.8v0.8h-0.8zM31.2 70.1h0.8v0.8h-0.8zM27.8 77.5h0.8v0.8h-0.8zM41.9 82.0h0.8v0.8h-0.8zM28.2 68.9h0.8v0.8h-0.8zM23.1 53.3h0.8v0.8h-0.8zM35.8 78.7h0.8v0.8h-0.8zM12.1 81.5h0.8v0.8h-0.8zM30.5 79.2h0.8v0.8h-0.8zM28.7 68.8h0.8v0.8h-0.8zM27.7 72.8h0.8v0.8h-0.8zM28.3 3.6h0.8v0.8h-0.8zM29.0 72.0h0.8v0.8h-0.8zM27.3 69.9h0.8v0.8h-0.8zM46.1 80.8h0.8v0.8h-0.8zM27.0 73.0h0.8v0.8h-0.8zM29.2 78.4h0.8v0.8h-0.8zM41.2 70.8h0.8v0.8h-0.8zM27.1 59.2h0.8v0.8h-0.8zM30.7 48.3h0.8v0.8h-0.8zM48.4 81.3h0.8v0.8h-0.8zM23.3 77.5h0.8v0.8h-0.8zM12.5 76.0h0.8v0.8h-0.8zM32.7 80.8h0.8v0.8h-0.8zM13.8 79.8h0.8v0.8h-0.8zM22.7 79.8h0.8v0.8h-0.8zM31.3 71.0h0.8v0.8h-0.8zM26.5 46.8h0.8v0.8h-0.8zM28.2 46.5h0.8v0.8h-0.8zM25.5 60.5h0.8v0.8h-0.8zM38.9 78.9h0.8v0.8h-0.8zM40.6 74.9h0.8v0.8h-0.8zM33.6 80.7h0.8v0.8h-0.8zM28.5 78.8h0.8v0.8h-0.8zM44.2 79.2h0.8v0.8h-0.8zM25.5 78.7h0.8v0.8h-0.8zM22.6 79.6h0.8v0.8h-0.8zM40.6 81.3h0.8v0.8h-0.8zM35.4 81.7h0.8v0.8h-0.8zM28.1 54.4h0.8v0.8h-0.8zM26.4 67.6h0.8v0.8h-0.8zM16.5 79.4h0.8v0.8h-0.8zM22.9 64.7h0.8v0.8h-0.8zM30.3 71.2h0.8v0.8h-0.8zM16.9 63.9h0.8v0.8h-0.8zM32.4 74.8h0.8v0.8h-0.8zM48.4 81.7h0.8v0.8h-0.8zM22.2 39.7h0.8v0.8h-0.8zM42.1 76.2h0.8v0.8h-0.8zM27.9 80.4h0.8v0.8h-0.8zM40.0 76.8h0.8v0.8h-0.8zM25.2 73.7h0.8v0.8h-0.8zM7.5 73.9h0.8v0.8h-0.8zM27.2 79.0h0.8v0.8h-0.8zM37.8 74.5h0.8v0.8h-0.8zM20.0 72.3h0.8v0.8h-0.8zM24.7 46.8h0.8v0.8h-0.8zM32.8 75.6h0.8v0.8h-0.8zM28.2 71.0h0.8v0.8h-0.8zM21.8 78.4h0.8v0.8h-0.8zM22.9 56.2h0.8v0.8h-0.8zM27.8 77.3h0.8v0.8h-0.8zM28.1 67.4h0.8v0.8h-0.8zM31.9 71.1h0.8v0.8h-0.8zM22.7 71.7h0.8v0.8h-0.8zM27.8 49.7h0.8v0.8h-0.8zM30.9 59.5h0.8v0.8h-0.8zM41.1 72.3h0.8v0.8h-0.8zM19.9 80.5h0.8v0.8h-0.8zM40.3 75.0h0.8v0.8h-0.8zM19.8 75.8h0.8v0.8h-0.8zM29.9 78.3h0.8v0.8h-0.8zM27.8 76.6h0.8v0.8h-0.8zM30.9 76.5h0.8v0.8h-0.8zM25.6 77.6h0.8v0.8h-0.8zM35.8 69.4h0.8v0.8h-0.8zM35.1 83.4h0.8v0.8h-0.8zM38.3 81.0h0.8v0.8h-0.8zM43.0 79.6h0.8v0.8h-0.8zM22.3 78.6h0.8v0.8h-0.8zM21.6 79.3h0.8v0.8h-0.8zM41.0 78.5h0.8v0.8h-0.8zM25.8 77.7h0.8v0.8h-0.8zM37.9 74.4h0.8v0.8h-0.8zM23.6 74.2h0.8v0.8h-0.8zM24.7 66.0h0.8v0.8h-0.8zM35.1 68.9h0.8v0.8h-0.8zM31.7 77.7h0.8v0.8h-0.8zM24.0 78.5h0.8v0.8h-0.8zM23.5 56.0h0.8v0.8h-0.8zM28.5 78.5h0.8v0.8h-0.8zM28.9 52.2h0.8v0.8h-0.8zM37.8 75.7h0.8v0.8h-0.8zM19.7 76.7h0.8v0.8h-0.8zM30.5 75.9h0.8v0.8h-0.8zM24.9 75.5h0.8v0.8h-0.8zM27.2 9.1h0.8v0.8h-0.8zM23.2 74.1h0.8v0.8h-0.8zM44.2 73.8h0.8v0.8h-0.8zM41.6 73.7h0.8v0.8h-0.8zM26.6 33.4h0.8v0.8h-0.8zM29.2 77.1h0.8v0.8h-0.8zM25.1 76.9h0.8v0.8h-0.8zM38.6 67.4h0.8v0.8h-0.8zM28.7 72.7h0.8v0.8h-0.8zM41.9 75.0h0.8v0.8h-0.8zM23.2 42.2h0.8v0.8h-0.8zM16.8 75.8h0.8v0.8h-0.8zM18.3 82.8h0.8v0.8h-0.8zM14.0 69.6h0.8v0.8h-0.8zM39.4 79.1h0.8v0.8h-0.8zM41.8 75.9h0.8v0.8h-0.8zM47.5 77.3h0.8v0.8h-0.8zM23.1 73.9h0.8v0.8h-0.8zM30.6 84.1h0.8v0.8h-0.8zM33.5 79.9h0.8v0.8h-0.8zM25.6 78.2h0.8v0.8h-0.8zM19.1 80.0h0.8v0.8h-0.8zM29.1 71.5h0.8v0.8h-0.8zM35.0 81.2h0.8v0.8h-0.8zM21.2 79.1h0.8v0.8h-0.8zM22.6 58.9h0.8v0.8h-0.8zM22.6 81.6h0.8v0.8h-0.8zM24.5 59.7h0.8v0.8h-0.8zM20.2 74.2h0.8v0.8h-0.8zM26.0 74.5h0.8v0.8h-0.8zM29.7 69.9h0.8v0.8h-0.8zM20.4 62.7h0.8v0.8h-0.8zM17.2 74.8h0.8v0.8h-0.8zM37.9 72.2h0.8v0.8h-0.8zM26.7 67.2h0.8v0.8h-0.8zM33.0 75.8h0.8v0.8h-0.8zM18.1 77.9h0.8v0.8h-0.8zM42.2 80.8h0.8v0.8h-0.8zM18.8 71.2h0.8v0.8h-0.8zM28.5 78.5h0.8v0.8h-0.8zM19.4 74.1h0.8v0.8h-0.8zM28.2 75.0h0.8v0.8h-0.8zM26.1 77.1h0.8v0.8h-0.8zM27.2 79.5h0.8v0.8h-0.8zM8.9 76.2h0.8v0.8h-0.8zM32.4 68.7h0.8v0.8h-0.8zM25.9 26.4h0.8v0.8h-0.8zM24.7 76.3h0.8v0.8h-0.8zM35.7 69.8h0.8v0.8h-0.8zM30.5 75.7h0.8v0.8h-0.8zM28.6 78.8h0.8v0.8h-0.8zM15.9 75.8h0.8v0.8h-0.8zM25.6 66.3h0.8v0.8h-0.8zM30.5 80.2h0.8v0.8h-0.8zM36.5 61.5h0.8v0.8h-0.8zM38.0 80.6h0.8v0.8h-0.8zM27.8 80.0h0.8v0.8h-0.8zM51.5 72.8h0.8v0.8h-0.8zM11.9 79.1h0.8v0.8h-0.8zM21.9 78.3h0.8v0.8h-0.8zM26.9 83.1h0.8v0.8h-0.8zM31.8 72.7h0.8v0.8h-0.8zM22.3 77.0h0.8v0.8h-0.8zM21.0 48.5h0.8v0.8h-0.8zM28.0 77.2h0.8v0.8h-0.8zM30.6 75.3h0.8v0.8h-0.8zM34.0 81.9h0.8v0.8h-0.8zM27.4 39.2h0.8v0.8h-0.8zM32.6 77.3h0.8v0.8h-0.8zM9.7 75.9h0.8v0.8h-0.8z" fill="#2a2cf0" opacity="0.85"/><path d="M24.3 76.1h0.8v0.8h-0.8zM33.0 78.2h0.8v0.8h-0.8zM31.9 64.8h0.8v0.8h-0.8zM32.7 56.9h0.8v0.8h-0.8zM13.0 79.1h0.8v0.8h-0.8zM41.6 77.3h0.8v0.8h-0.8zM35.7 79.8h0.8v0.8h-0.8zM21.2 55.4h0.8v0.8h-0.8zM29.0 73.9h0.8v0.8h-0.8zM24.7 21.5h0.8v0.8h-0.8zM13.3 73.8h0.8v0.8h-0.8zM14.9 75.5h0.8v0.8h-0.8zM32.0 81.5h0.8v0.8h-0.8zM14.4 77.7h0.8v0.8h-0.8zM26.2 73.7h0.8v0.8h-0.8zM28.2 72.3h0.8v0.8h-0.8zM17.2 79.3h0.8v0.8h-0.8zM21.2 73.4h0.8v0.8h-0.8zM23.5 61.3h0.8v0.8h-0.8zM25.7 81.2h0.8v0.8h-0.8zM40.0 75.1h0.8v0.8h-0.8zM18.5 67.1h0.8v0.8h-0.8zM32.6 81.6h0.8v0.8h-0.8zM8.5 80.2h0.8v0.8h-0.8zM25.8 77.9h0.8v0.8h-0.8zM50.4 73.1h0.8v0.8h-0.8zM29.4 72.9h0.8v0.8h-0.8zM31.2 76.8h0.8v0.8h-0.8zM33.1 78.9h0.8v0.8h-0.8zM26.8 63.3h0.8v0.8h-0.8zM23.6 33.0h0.8v0.8h-0.8zM38.3 80.7h0.8v0.8h-0.8zM33.1 79.6h0.8v0.8h-0.8zM42.8 79.8h0.8v0.8h-0.8zM30.0 74.6h0.8v0.8h-0.8zM35.1 80.2h0.8v0.8h-0.8zM41.1 80.6h0.8v0.8h-0.8zM8.4 73.1h0.8v0.8h-0.8zM25.7 75.2h0.8v0.8h-0.8zM26.8 78.7h0.8v0.8h-0.8zM31.1 75.0h0.8v0.8h-0.8zM21.7 81.8h0.8v0.8h-0.8zM11.6 67.7h0.8v0.8h-0.8zM11.0 80.5h0.8v0.8h-0.8zM51.1 81.2h0.8v0.8h-0.8zM24.6 65.1h0.8v0.8h-0.8zM8.3 78.6h0.8v0.8h-0.8zM24.6 80.9h0.8v0.8h-0.8zM31.6 82.4h0.8v0.8h-0.8zM9.6 71.3h0.8v0.8h-0.8zM29.6 73.6h0.8v0.8h-0.8zM21.2 51.3h0.8v0.8h-0.8zM35.5 83.2h0.8v0.8h-0.8zM37.7 75.0h0.8v0.8h-0.8zM23.3 79.2h0.8v0.8h-0.8zM32.0 79.3h0.8v0.8h-0.8zM24.5 81.0h0.8v0.8h-0.8zM28.7 83.2h0.8v0.8h-0.8zM32.8 65.0h0.8v0.8h-0.8zM33.2 78.2h0.8v0.8h-0.8zM28.6 77.1h0.8v0.8h-0.8zM20.2 78.2h0.8v0.8h-0.8zM27.4 47.6h0.8v0.8h-0.8zM45.3 69.1h0.8v0.8h-0.8zM32.2 77.2h0.8v0.8h-0.8zM21.7 81.0h0.8v0.8h-0.8zM28.5 76.0h0.8v0.8h-0.8zM24.6 50.8h0.8v0.8h-0.8zM28.5 74.8h0.8v0.8h-0.8zM28.7 81.6h0.8v0.8h-0.8zM24.4 65.2h0.8v0.8h-0.8zM23.0 81.4h0.8v0.8h-0.8zM17.2 78.0h0.8v0.8h-0.8zM6.9 78.3h0.8v0.8h-0.8zM23.8 75.8h0.8v0.8h-0.8zM63.2 71.0h0.8v0.8h-0.8zM33.9 79.3h0.8v0.8h-0.8zM43.6 78.1h0.8v0.8h-0.8zM27.2 58.3h0.8v0.8h-0.8zM20.7 81.0h0.8v0.8h-0.8zM10.1 78.0h0.8v0.8h-0.8zM23.0 74.5h0.8v0.8h-0.8zM23.5 81.6h0.8v0.8h-0.8zM42.9 78.8h0.8v0.8h-0.8zM32.1 78.3h0.8v0.8h-0.8zM21.1 78.9h0.8v0.8h-0.8zM25.4 62.2h0.8v0.8h-0.8zM29.6 76.6h0.8v0.8h-0.8zM26.4 59.9h0.8v0.8h-0.8zM38.0 80.2h0.8v0.8h-0.8zM43.2 76.9h0.8v0.8h-0.8zM28.0 77.5h0.8v0.8h-0.8zM23.7 52.9h0.8v0.8h-0.8zM32.9 77.5h0.8v0.8h-0.8zM37.6 75.7h0.8v0.8h-0.8zM29.0 51.1h0.8v0.8h-0.8zM36.5 80.1h0.8v0.8h-0.8zM31.0 78.3h0.8v0.8h-0.8zM25.0 81.5h0.8v0.8h-0.8zM57.4 75.7h0.8v0.8h-0.8zM48.5 77.3h0.8v0.8h-0.8zM19.9 75.6h0.8v0.8h-0.8zM12.1 75.6h0.8v0.8h-0.8zM24.9 80.7h0.8v0.8h-0.8zM24.3 66.8h0.8v0.8h-0.8zM25.0 37.2h0.8v0.8h-0.8zM12.3 71.0h0.8v0.8h-0.8zM39.1 77.0h0.8v0.8h-0.8zM30.0 69.8h0.8v0.8h-0.8zM35.8 69.3h0.8v0.8h-0.8zM44.1 80.4h0.8v0.8h-0.8zM24.7 74.1h0.8v0.8h-0.8zM12.3 77.6h0.8v0.8h-0.8zM24.9 78.1h0.8v0.8h-0.8zM21.4 62.6h0.8v0.8h-0.8zM30.0 77.6h0.8v0.8h-0.8zM28.5 74.1h0.8v0.8h-0.8zM47.3 76.0h0.8v0.8h-0.8zM38.8 79.2h0.8v0.8h-0.8zM44.2 72.6h0.8v0.8h-0.8zM37.0 84.1h0.8v0.8h-0.8zM19.8 71.0h0.8v0.8h-0.8zM35.5 70.6h0.8v0.8h-0.8zM30.1 72.9h0.8v0.8h-0.8zM28.7 54.4h0.8v0.8h-0.8zM24.9 77.2h0.8v0.8h-0.8zM45.6 80.1h0.8v0.8h-0.8zM34.9 76.2h0.8v0.8h-0.8zM32.1 66.7h0.8v0.8h-0.8zM30.3 74.3h0.8v0.8h-0.8zM31.1 81.4h0.8v0.8h-0.8zM27.6 49.1h0.8v0.8h-0.8zM30.0 78.3h0.8v0.8h-0.8zM35.6 77.9h0.8v0.8h-0.8zM37.9 79.7h0.8v0.8h-0.8zM25.7 76.9h0.8v0.8h-0.8zM30.3 80.1h0.8v0.8h-0.8zM30.5 80.1h0.8v0.8h-0.8zM49.7 80.8h0.8v0.8h-0.8zM29.9 79.0h0.8v0.8h-0.8zM22.0 81.3h0.8v0.8h-0.8zM34.4 75.1h0.8v0.8h-0.8zM21.6 79.8h0.8v0.8h-0.8zM51.5 79.4h0.8v0.8h-0.8zM27.4 62.6h0.8v0.8h-0.8zM28.2 65.0h0.8v0.8h-0.8zM19.6 78.0h0.8v0.8h-0.8zM23.2 72.4h0.8v0.8h-0.8zM17.6 73.9h0.8v0.8h-0.8zM34.1 77.2h0.8v0.8h-0.8zM29.1 74.0h0.8v0.8h-0.8zM31.0 67.8h0.8v0.8h-0.8zM23.8 79.6h0.8v0.8h-0.8zM14.2 77.7h0.8v0.8h-0.8zM22.7 19.8h0.8v0.8h-0.8zM34.7 78.1h0.8v0.8h-0.8zM26.8 67.4h0.8v0.8h-0.8zM26.4 69.7h0.8v0.8h-0.8zM25.2 77.7h0.8v0.8h-0.8zM31.6 77.4h0.8v0.8h-0.8zM19.5 76.2h0.8v0.8h-0.8zM36.4 79.2h0.8v0.8h-0.8zM22.6 77.6h0.8v0.8h-0.8zM13.3 76.3h0.8v0.8h-0.8zM25.7 60.5h0.8v0.8h-0.8zM20.3 81.8h0.8v0.8h-0.8zM25.8 78.7h0.8v0.8h-0.8zM34.9 79.7h0.8v0.8h-0.8zM22.1 78.2h0.8v0.8h-0.8zM32.2 74.3h0.8v0.8h-0.8zM32.4 76.0h0.8v0.8h-0.8zM25.9 51.4h0.8v0.8h-0.8zM10.4 80.5h0.8v0.8h-0.8zM30.2 74.0h0.8v0.8h-0.8zM4.2 76.9h0.8v0.8h-0.8zM33.3 79.4h0.8v0.8h-0.8zM30.9 79.6h0.8v0.8h-0.8zM21.9 79.3h0.8v0.8h-0.8zM12.2 77.2h0.8v0.8h-0.8zM31.0 61.2h0.8v0.8h-0.8zM32.9 84.1h0.8v0.8h-0.8zM26.1 74.4h0.8v0.8h-0.8zM25.8 68.4h0.8v0.8h-0.8zM30.5 81.2h0.8v0.8h-0.8zM27.8 72.5h0.8v0.8h-0.8zM17.3 79.8h0.8v0.8h-0.8zM44.4 78.3h0.8v0.8h-0.8zM26.7 24.7h0.8v0.8h-0.8zM34.4 75.6h0.8v0.8h-0.8zM31.7 78.4h0.8v0.8h-0.8zM25.7 78.1h0.8v0.8h-0.8zM32.6 78.1h0.8v0.8h-0.8zM31.2 76.4h0.8v0.8h-0.8zM25.7 80.3h0.8v0.8h-0.8zM26.0 60.2h0.8v0.8h-0.8zM29.5 65.2h0.8v0.8h-0.8zM29.5 49.1h0.8v0.8h-0.8zM24.5 80.5h0.8v0.8h-0.8zM32.5 80.5h0.8v0.8h-0.8zM56.4 81.1h0.8v0.8h-0.8zM7.7 78.4h0.8v0.8h-0.8zM22.0 70.8h0.8v0.8h-0.8zM30.6 74.0h0.8v0.8h-0.8zM30.1 71.0h0.8v0.8h-0.8zM25.2 58.9h0.8v0.8h-0.8zM37.8 76.7h0.8v0.8h-0.8zM19.0 66.7h0.8v0.8h-0.8zM32.1 70.2h0.8v0.8h-0.8zM40.7 79.2h0.8v0.8h-0.8zM34.5 78.4h0.8v0.8h-0.8zM21.9 77.7h0.8v0.8h-0.8zM28.5 72.2h0.8v0.8h-0.8zM37.7 77.4h0.8v0.8h-0.8zM25.6 69.0h0.8v0.8h-0.8zM29.3 68.5h0.8v0.8h-0.8zM23.0 58.3h0.8v0.8h-0.8zM27.5 61.4h0.8v0.8h-0.8zM18.6 74.0h0.8v0.8h-0.8zM22.4 60.9h0.8v0.8h-0.8zM20.6 80.2h0.8v0.8h-0.8zM30.2 78.7h0.8v0.8h-0.8zM30.0 79.4h0.8v0.8h-0.8zM22.7 74.0h0.8v0.8h-0.8zM25.7 76.9h0.8v0.8h-0.8zM20.8 80.8h0.8v0.8h-0.8zM29.7 78.1h0.8v0.8h-0.8zM40.2 76.9h0.8v0.8h-0.8zM27.4 70.0h0.8v0.8h-0.8zM28.1 65.5h0.8v0.8h-0.8zM32.7 76.5h0.8v0.8h-0.8zM24.4 80.9h0.8v0.8h-0.8zM44.6 78.8h0.8v0.8h-0.8zM20.1 72.6h0.8v0.8h-0.8zM19.1 59.4h0.8v0.8h-0.8zM15.5 80.7h0.8v0.8h-0.8zM21.2 79.4h0.8v0.8h-0.8zM37.1 76.7h0.8v0.8h-0.8zM23.7 61.4h0.8v0.8h-0.8zM47.4 77.1h0.8v0.8h-0.8zM25.2 66.7h0.8v0.8h-0.8zM39.6 81.8h0.8v0.8h-0.8zM34.9 77.2h0.8v0.8h-0.8zM27.8 71.1h0.8v0.8h-0.8zM32.2 74.2h0.8v0.8h-0.8zM25.1 69.2h0.8v0.8h-0.8zM27.5 75.8h0.8v0.8h-0.8zM27.9 78.8h0.8v0.8h-0.8zM30.8 79.2h0.8v0.8h-0.8zM44.0 81.1h0.8v0.8h-0.8z" fill="#6a78ff" opacity="0.85"/><g filter="url(#fbl2)" fill="#2c34f4"><ellipse cx="28.6" cy="80.0" rx="18.1" ry="4.2" opacity="0.9"/><ellipse cx="28.0" cy="66.8" rx="7.8" ry="18.8" opacity="0.85"/><ellipse cx="27.4" cy="74.2" rx="11.9" ry="9.4" opacity="0.8"/></g><ellipse cx="26.8" cy="70.5" rx="4.2" ry="8.1" fill="url(#fc)" opacity="0.75" filter="url(#fbl)"/><g filter="url(#fbl)"><ellipse cx="25.4" cy="79.0" rx="15.6" ry="7.0" fill="url(#fb)"/><ellipse cx="24.0" cy="79.3" rx="13.1" ry="6.2" fill="url(#fc)" transform="rotate(-14 22.4 80.5)"/><ellipse cx="23.2" cy="80.0" rx="9.2" ry="4.0" fill="url(#fg)" transform="rotate(-14 22.4 80.5)"/><ellipse cx="22.4" cy="80.5" rx="5.8" ry="2.2" fill="url(#fy)" transform="rotate(-14 22.4 80.5)"/></g><path d="M0 0V98.5H94.2" fill="none" stroke="#6a6a72" stroke-width="0.8"/><text x="-3.2" y="4.0" font-size="4.6" font-weight="bold" fill="#223" text-anchor="end">500</text><text x="-3.2" y="22.8" font-size="4.6" font-weight="bold" fill="#223" text-anchor="end">400</text><text x="-3.2" y="41.5" font-size="4.6" font-weight="bold" fill="#223" text-anchor="end">300</text><text x="-3.2" y="60.2" font-size="4.6" font-weight="bold" fill="#223" text-anchor="end">200</text><text x="-3.2" y="79.0" font-size="4.6" font-weight="bold" fill="#223" text-anchor="end">100</text><text x="-3.2" y="97.8" font-size="4.6" font-weight="bold" fill="#223" text-anchor="end">0</text><text x="6.2" y="107.1" font-size="4.6" font-weight="bold" fill="#223" text-anchor="middle">10<tspan dy="-2" font-size="3.6">0</tspan></text><text x="27.6" y="107.1" font-size="4.6" font-weight="bold" fill="#223" text-anchor="middle">10<tspan dy="-2" font-size="3.6">1</tspan></text><text x="49.1" y="107.1" font-size="4.6" font-weight="bold" fill="#223" text-anchor="middle">10<tspan dy="-2" font-size="3.6">2</tspan></text><text x="70.5" y="107.1" font-size="4.6" font-weight="bold" fill="#223" text-anchor="middle">10<tspan dy="-2" font-size="3.6">3</tspan></text><text x="92.0" y="107.1" font-size="4.6" font-weight="bold" fill="#223" text-anchor="middle">10<tspan dy="-2" font-size="3.6">4</tspan></text><path d="M-2 2.4H0M-2 21.1H0M-2 39.9H0M-2 58.6H0M-2 77.4H0M-2 96.2H0M6.8 98.5v2.2M13.2 98.5v1.2M17.1 98.5v1.2M19.7 98.5v1.2M21.8 98.5v1.2M23.5 98.5v1.2M25.0 98.5v1.2M26.1 98.5v1.2M27.2 98.5v1.2M28.2 98.5v2.2M34.7 98.5v1.2M38.5 98.5v1.2M41.1 98.5v1.2M43.3 98.5v1.2M45.0 98.5v1.2M46.5 98.5v1.2M47.6 98.5v1.2M48.6 98.5v1.2M49.7 98.5v2.2M56.1 98.5v1.2M60.0 98.5v1.2M62.6 98.5v1.2M64.7 98.5v1.2M66.4 98.5v1.2M67.9 98.5v1.2M69.0 98.5v1.2M70.1 98.5v1.2M71.1 98.5v2.2M77.6 98.5v1.2M81.4 98.5v1.2M84.0 98.5v1.2M86.2 98.5v1.2M87.9 98.5v1.2M89.4 98.5v1.2M90.5 98.5v1.2M91.5 98.5v1.2M92.6 98.5v2.2" stroke="#556" stroke-width="0.5" fill="none"/></g>
<text x="400.9" y="810.6" font-size="15.3" text-anchor="middle">8.8<tspan font-size="18" dx="2" dy="0.6">±</tspan><tspan dx="2" dy="-0.6">1.3</tspan></text>
<g transform="translate(455.8 791.5)"><rect x="0" y="0" width="95.4" height="98.5" fill="#fff" stroke="#c4c4c8" stroke-width="0.7"/><path d="M23.4 98.5L42.9 19.7L95.4 13.8" fill="none" stroke="#d6d6da" stroke-width="0.6"/><path d="M37.5 69.8h0.8v0.8h-0.8zM39.2 78.0h0.8v0.8h-0.8zM37.6 79.4h0.8v0.8h-0.8zM28.1 65.5h0.8v0.8h-0.8zM32.5 83.0h0.8v0.8h-0.8zM32.0 65.6h0.8v0.8h-0.8zM38.2 76.6h0.8v0.8h-0.8zM19.2 81.8h0.8v0.8h-0.8zM32.7 70.7h0.8v0.8h-0.8zM38.0 74.8h0.8v0.8h-0.8zM25.2 80.7h0.8v0.8h-0.8zM33.6 78.2h0.8v0.8h-0.8zM33.8 62.3h0.8v0.8h-0.8zM27.5 79.1h0.8v0.8h-0.8zM34.6 75.6h0.8v0.8h-0.8zM32.0 61.8h0.8v0.8h-0.8zM30.8 71.2h0.8v0.8h-0.8zM25.3 75.9h0.8v0.8h-0.8zM31.5 77.0h0.8v0.8h-0.8zM34.5 59.9h0.8v0.8h-0.8zM29.4 80.1h0.8v0.8h-0.8zM35.6 73.1h0.8v0.8h-0.8zM34.7 77.8h0.8v0.8h-0.8zM41.3 78.0h0.8v0.8h-0.8zM44.8 78.6h0.8v0.8h-0.8zM41.7 75.6h0.8v0.8h-0.8zM38.0 77.7h0.8v0.8h-0.8zM28.5 81.0h0.8v0.8h-0.8zM39.1 79.3h0.8v0.8h-0.8zM35.8 63.6h0.8v0.8h-0.8zM22.4 79.5h0.8v0.8h-0.8zM35.7 79.1h0.8v0.8h-0.8zM38.8 76.8h0.8v0.8h-0.8zM35.6 69.1h0.8v0.8h-0.8zM48.3 80.0h0.8v0.8h-0.8zM41.8 81.9h0.8v0.8h-0.8zM32.9 63.0h0.8v0.8h-0.8zM28.4 80.9h0.8v0.8h-0.8zM31.1 63.4h0.8v0.8h-0.8zM30.3 79.3h0.8v0.8h-0.8zM32.9 69.2h0.8v0.8h-0.8zM49.8 77.4h0.8v0.8h-0.8zM25.8 71.5h0.8v0.8h-0.8zM24.8 77.6h0.8v0.8h-0.8zM38.4 75.1h0.8v0.8h-0.8zM28.8 81.7h0.8v0.8h-0.8zM34.6 67.6h0.8v0.8h-0.8zM38.5 79.6h0.8v0.8h-0.8zM39.6 81.2h0.8v0.8h-0.8zM29.3 76.6h0.8v0.8h-0.8zM37.6 74.7h0.8v0.8h-0.8zM49.7 73.7h0.8v0.8h-0.8zM21.0 81.0h0.8v0.8h-0.8zM23.1 76.0h0.8v0.8h-0.8zM35.6 71.2h0.8v0.8h-0.8zM36.4 78.7h0.8v0.8h-0.8zM28.0 81.2h0.8v0.8h-0.8zM31.0 61.4h0.8v0.8h-0.8zM31.4 43.7h0.8v0.8h-0.8zM30.5 78.9h0.8v0.8h-0.8zM22.3 74.6h0.8v0.8h-0.8zM29.3 81.3h0.8v0.8h-0.8zM34.0 72.5h0.8v0.8h-0.8zM23.7 79.6h0.8v0.8h-0.8zM32.6 72.7h0.8v0.8h-0.8zM28.1 62.4h0.8v0.8h-0.8zM26.1 77.3h0.8v0.8h-0.8zM37.7 78.6h0.8v0.8h-0.8zM33.3 73.4h0.8v0.8h-0.8zM31.7 36.0h0.8v0.8h-0.8zM18.5 74.5h0.8v0.8h-0.8zM39.4 76.0h0.8v0.8h-0.8zM33.7 80.4h0.8v0.8h-0.8zM36.8 55.9h0.8v0.8h-0.8zM29.4 78.2h0.8v0.8h-0.8zM35.8 75.2h0.8v0.8h-0.8zM30.6 74.5h0.8v0.8h-0.8zM33.5 68.2h0.8v0.8h-0.8zM32.7 82.2h0.8v0.8h-0.8zM18.8 79.3h0.8v0.8h-0.8zM35.6 82.2h0.8v0.8h-0.8zM30.4 76.4h0.8v0.8h-0.8zM43.9 80.0h0.8v0.8h-0.8zM34.7 80.0h0.8v0.8h-0.8zM30.6 61.9h0.8v0.8h-0.8zM15.3 80.0h0.8v0.8h-0.8zM30.1 73.9h0.8v0.8h-0.8zM33.0 79.5h0.8v0.8h-0.8zM37.8 80.0h0.8v0.8h-0.8zM26.1 80.6h0.8v0.8h-0.8zM12.6 68.0h0.8v0.8h-0.8zM33.9 76.2h0.8v0.8h-0.8zM25.6 80.2h0.8v0.8h-0.8zM24.6 70.8h0.8v0.8h-0.8zM34.7 65.5h0.8v0.8h-0.8zM45.1 81.2h0.8v0.8h-0.8zM35.0 77.7h0.8v0.8h-0.8zM26.4 71.8h0.8v0.8h-0.8zM30.4 74.3h0.8v0.8h-0.8zM39.9 80.8h0.8v0.8h-0.8zM31.9 78.3h0.8v0.8h-0.8zM29.3 67.3h0.8v0.8h-0.8zM32.8 65.7h0.8v0.8h-0.8zM33.4 74.2h0.8v0.8h-0.8zM27.3 81.9h0.8v0.8h-0.8zM38.3 78.8h0.8v0.8h-0.8zM42.3 71.7h0.8v0.8h-0.8zM35.4 80.1h0.8v0.8h-0.8zM32.9 62.1h0.8v0.8h-0.8zM27.9 74.2h0.8v0.8h-0.8zM35.8 45.8h0.8v0.8h-0.8zM27.7 74.7h0.8v0.8h-0.8zM34.5 72.8h0.8v0.8h-0.8zM26.4 82.0h0.8v0.8h-0.8zM29.9 70.4h0.8v0.8h-0.8zM31.0 79.5h0.8v0.8h-0.8zM35.3 79.0h0.8v0.8h-0.8zM40.0 80.9h0.8v0.8h-0.8zM38.4 80.5h0.8v0.8h-0.8zM38.0 79.2h0.8v0.8h-0.8zM30.1 74.8h0.8v0.8h-0.8zM32.2 76.7h0.8v0.8h-0.8zM24.8 81.0h0.8v0.8h-0.8zM38.7 74.9h0.8v0.8h-0.8zM43.6 69.4h0.8v0.8h-0.8zM42.7 77.3h0.8v0.8h-0.8zM36.1 77.5h0.8v0.8h-0.8zM35.1 79.1h0.8v0.8h-0.8zM28.5 75.1h0.8v0.8h-0.8zM34.7 72.6h0.8v0.8h-0.8zM29.3 81.1h0.8v0.8h-0.8zM27.7 75.7h0.8v0.8h-0.8zM39.0 80.3h0.8v0.8h-0.8zM34.6 77.7h0.8v0.8h-0.8zM37.0 66.2h0.8v0.8h-0.8zM17.6 81.5h0.8v0.8h-0.8zM27.4 78.7h0.8v0.8h-0.8zM28.7 70.6h0.8v0.8h-0.8zM43.3 79.1h0.8v0.8h-0.8zM25.0 80.4h0.8v0.8h-0.8zM32.7 60.3h0.8v0.8h-0.8zM33.0 81.5h0.8v0.8h-0.8zM28.8 44.3h0.8v0.8h-0.8zM35.3 64.5h0.8v0.8h-0.8zM33.0 78.0h0.8v0.8h-0.8zM37.5 69.7h0.8v0.8h-0.8zM11.2 77.0h0.8v0.8h-0.8zM24.0 78.4h0.8v0.8h-0.8zM35.7 64.1h0.8v0.8h-0.8zM32.0 62.5h0.8v0.8h-0.8zM36.5 80.7h0.8v0.8h-0.8zM31.1 10.7h0.8v0.8h-0.8zM31.1 73.9h0.8v0.8h-0.8zM38.7 79.3h0.8v0.8h-0.8zM32.2 76.6h0.8v0.8h-0.8zM33.1 75.4h0.8v0.8h-0.8zM26.9 81.5h0.8v0.8h-0.8zM30.4 68.6h0.8v0.8h-0.8zM31.4 68.0h0.8v0.8h-0.8zM50.4 74.5h0.8v0.8h-0.8zM33.8 63.6h0.8v0.8h-0.8zM26.8 79.0h0.8v0.8h-0.8zM30.4 80.0h0.8v0.8h-0.8zM29.9 79.2h0.8v0.8h-0.8zM49.5 77.4h0.8v0.8h-0.8zM40.1 78.6h0.8v0.8h-0.8zM27.1 79.9h0.8v0.8h-0.8zM34.2 45.2h0.8v0.8h-0.8zM31.2 82.5h0.8v0.8h-0.8zM33.3 80.0h0.8v0.8h-0.8zM29.6 36.6h0.8v0.8h-0.8zM29.3 75.3h0.8v0.8h-0.8zM31.9 64.4h0.8v0.8h-0.8zM32.7 65.9h0.8v0.8h-0.8zM34.9 80.5h0.8v0.8h-0.8zM26.7 77.7h0.8v0.8h-0.8zM19.2 79.9h0.8v0.8h-0.8zM34.2 82.4h0.8v0.8h-0.8zM37.8 80.3h0.8v0.8h-0.8zM33.5 81.6h0.8v0.8h-0.8zM50.7 75.9h0.8v0.8h-0.8zM31.8 73.2h0.8v0.8h-0.8zM31.1 76.8h0.8v0.8h-0.8zM32.2 79.6h0.8v0.8h-0.8zM36.1 78.4h0.8v0.8h-0.8zM32.3 42.4h0.8v0.8h-0.8zM36.6 76.4h0.8v0.8h-0.8zM30.8 80.5h0.8v0.8h-0.8zM31.6 40.7h0.8v0.8h-0.8zM31.2 74.8h0.8v0.8h-0.8zM28.3 20.2h0.8v0.8h-0.8zM32.7 74.7h0.8v0.8h-0.8zM30.1 81.3h0.8v0.8h-0.8zM31.6 70.6h0.8v0.8h-0.8zM34.8 68.2h0.8v0.8h-0.8zM34.0 82.3h0.8v0.8h-0.8zM24.0 80.4h0.8v0.8h-0.8zM30.6 75.1h0.8v0.8h-0.8zM32.8 72.9h0.8v0.8h-0.8zM33.7 75.0h0.8v0.8h-0.8zM38.3 77.6h0.8v0.8h-0.8zM30.0 54.2h0.8v0.8h-0.8zM25.4 70.2h0.8v0.8h-0.8zM30.8 80.1h0.8v0.8h-0.8zM37.6 72.5h0.8v0.8h-0.8zM33.2 83.3h0.8v0.8h-0.8zM32.7 80.5h0.8v0.8h-0.8zM24.7 81.4h0.8v0.8h-0.8zM28.2 81.6h0.8v0.8h-0.8zM38.8 78.5h0.8v0.8h-0.8zM37.1 71.2h0.8v0.8h-0.8zM35.3 62.9h0.8v0.8h-0.8zM28.4 57.3h0.8v0.8h-0.8zM41.6 79.3h0.8v0.8h-0.8zM61.4 74.9h0.8v0.8h-0.8zM37.7 76.9h0.8v0.8h-0.8zM33.2 82.3h0.8v0.8h-0.8zM34.3 61.8h0.8v0.8h-0.8zM30.4 81.5h0.8v0.8h-0.8zM31.5 77.7h0.8v0.8h-0.8zM30.0 80.1h0.8v0.8h-0.8zM20.8 72.1h0.8v0.8h-0.8zM39.6 78.9h0.8v0.8h-0.8zM31.6 46.1h0.8v0.8h-0.8zM33.7 44.6h0.8v0.8h-0.8zM42.1 80.4h0.8v0.8h-0.8zM40.6 78.5h0.8v0.8h-0.8zM32.2 74.5h0.8v0.8h-0.8zM33.7 74.3h0.8v0.8h-0.8zM44.5 77.4h0.8v0.8h-0.8zM30.2 81.2h0.8v0.8h-0.8zM32.3 81.0h0.8v0.8h-0.8zM34.5 65.3h0.8v0.8h-0.8zM39.4 73.5h0.8v0.8h-0.8zM45.3 76.0h0.8v0.8h-0.8zM27.2 80.4h0.8v0.8h-0.8zM20.2 73.0h0.8v0.8h-0.8zM32.0 74.7h0.8v0.8h-0.8zM38.0 82.0h0.8v0.8h-0.8zM23.5 74.5h0.8v0.8h-0.8zM8.2 77.9h0.8v0.8h-0.8zM30.8 73.4h0.8v0.8h-0.8zM30.7 80.8h0.8v0.8h-0.8zM34.1 66.3h0.8v0.8h-0.8zM35.8 73.9h0.8v0.8h-0.8zM32.3 82.5h0.8v0.8h-0.8zM40.7 81.4h0.8v0.8h-0.8zM31.0 81.1h0.8v0.8h-0.8zM39.4 72.1h0.8v0.8h-0.8zM29.9 76.8h0.8v0.8h-0.8zM31.8 81.9h0.8v0.8h-0.8zM41.8 77.4h0.8v0.8h-0.8zM30.7 61.9h0.8v0.8h-0.8zM33.7 76.7h0.8v0.8h-0.8zM26.6 81.9h0.8v0.8h-0.8zM43.7 77.6h0.8v0.8h-0.8zM30.5 70.0h0.8v0.8h-0.8zM33.2 75.9h0.8v0.8h-0.8zM50.2 81.0h0.8v0.8h-0.8zM33.7 41.9h0.8v0.8h-0.8zM16.0 74.8h0.8v0.8h-0.8zM25.6 81.4h0.8v0.8h-0.8zM22.3 77.6h0.8v0.8h-0.8zM22.5 70.7h0.8v0.8h-0.8zM30.2 78.0h0.8v0.8h-0.8zM29.0 58.6h0.8v0.8h-0.8zM37.7 63.6h0.8v0.8h-0.8zM25.2 78.9h0.8v0.8h-0.8zM29.1 23.4h0.8v0.8h-0.8zM33.5 77.8h0.8v0.8h-0.8zM35.6 76.1h0.8v0.8h-0.8zM33.1 80.8h0.8v0.8h-0.8zM27.1 76.2h0.8v0.8h-0.8zM33.4 48.3h0.8v0.8h-0.8zM33.7 75.5h0.8v0.8h-0.8zM27.9 76.0h0.8v0.8h-0.8zM26.1 67.1h0.8v0.8h-0.8zM38.2 75.6h0.8v0.8h-0.8zM36.5 77.6h0.8v0.8h-0.8zM41.6 79.9h0.8v0.8h-0.8zM32.0 79.8h0.8v0.8h-0.8zM35.6 79.1h0.8v0.8h-0.8zM34.1 77.2h0.8v0.8h-0.8zM21.2 75.9h0.8v0.8h-0.8zM36.5 81.1h0.8v0.8h-0.8zM37.7 78.1h0.8v0.8h-0.8zM29.2 72.0h0.8v0.8h-0.8zM37.2 80.6h0.8v0.8h-0.8zM20.3 81.9h0.8v0.8h-0.8zM47.7 81.3h0.8v0.8h-0.8zM33.6 54.5h0.8v0.8h-0.8zM30.7 71.1h0.8v0.8h-0.8zM35.6 57.5h0.8v0.8h-0.8zM33.7 71.5h0.8v0.8h-0.8zM39.5 78.4h0.8v0.8h-0.8zM34.8 80.0h0.8v0.8h-0.8zM29.6 77.2h0.8v0.8h-0.8zM35.7 82.0h0.8v0.8h-0.8zM29.0 77.4h0.8v0.8h-0.8zM29.0 63.3h0.8v0.8h-0.8zM34.9 77.7h0.8v0.8h-0.8zM27.1 74.9h0.8v0.8h-0.8zM33.6 68.9h0.8v0.8h-0.8zM38.4 73.5h0.8v0.8h-0.8zM33.2 80.0h0.8v0.8h-0.8zM30.0 78.9h0.8v0.8h-0.8zM33.2 36.4h0.8v0.8h-0.8zM22.2 79.4h0.8v0.8h-0.8zM38.5 79.4h0.8v0.8h-0.8zM31.7 79.8h0.8v0.8h-0.8zM43.8 78.3h0.8v0.8h-0.8zM27.6 78.9h0.8v0.8h-0.8zM37.2 79.8h0.8v0.8h-0.8zM35.8 81.3h0.8v0.8h-0.8zM23.3 70.1h0.8v0.8h-0.8zM33.0 77.9h0.8v0.8h-0.8zM34.2 82.3h0.8v0.8h-0.8zM34.0 74.1h0.8v0.8h-0.8zM34.5 78.5h0.8v0.8h-0.8zM33.9 73.8h0.8v0.8h-0.8zM22.1 78.9h0.8v0.8h-0.8zM30.3 78.2h0.8v0.8h-0.8zM38.0 81.8h0.8v0.8h-0.8zM33.0 78.7h0.8v0.8h-0.8zM34.0 19.9h0.8v0.8h-0.8zM32.1 81.0h0.8v0.8h-0.8zM30.3 74.4h0.8v0.8h-0.8zM23.8 79.1h0.8v0.8h-0.8zM51.4 79.4h0.8v0.8h-0.8zM34.6 32.9h0.8v0.8h-0.8zM30.8 71.9h0.8v0.8h-0.8zM32.0 64.3h0.8v0.8h-0.8zM39.0 79.1h0.8v0.8h-0.8zM29.5 78.0h0.8v0.8h-0.8zM40.1 73.2h0.8v0.8h-0.8zM32.7 69.4h0.8v0.8h-0.8zM30.3 72.7h0.8v0.8h-0.8zM20.2 81.0h0.8v0.8h-0.8zM36.4 80.5h0.8v0.8h-0.8zM30.4 77.2h0.8v0.8h-0.8zM24.7 81.0h0.8v0.8h-0.8zM34.0 76.8h0.8v0.8h-0.8zM39.5 76.9h0.8v0.8h-0.8zM30.1 74.7h0.8v0.8h-0.8zM33.3 74.9h0.8v0.8h-0.8zM31.0 67.3h0.8v0.8h-0.8zM30.8 78.1h0.8v0.8h-0.8zM29.5 66.9h0.8v0.8h-0.8zM32.5 75.6h0.8v0.8h-0.8zM35.8 80.0h0.8v0.8h-0.8zM34.6 77.4h0.8v0.8h-0.8zM11.9 77.3h0.8v0.8h-0.8zM32.9 49.4h0.8v0.8h-0.8zM36.3 82.8h0.8v0.8h-0.8zM27.9 74.6h0.8v0.8h-0.8zM28.5 77.3h0.8v0.8h-0.8zM33.5 76.1h0.8v0.8h-0.8zM29.3 81.8h0.8v0.8h-0.8zM52.0 81.2h0.8v0.8h-0.8zM26.2 77.1h0.8v0.8h-0.8zM26.2 74.7h0.8v0.8h-0.8zM37.4 79.0h0.8v0.8h-0.8zM33.6 75.4h0.8v0.8h-0.8zM30.8 69.0h0.8v0.8h-0.8zM32.2 79.6h0.8v0.8h-0.8zM31.5 74.5h0.8v0.8h-0.8zM33.4 68.1h0.8v0.8h-0.8zM36.1 81.4h0.8v0.8h-0.8zM33.2 70.8h0.8v0.8h-0.8zM29.7 81.6h0.8v0.8h-0.8zM31.0 29.9h0.8v0.8h-0.8zM35.5 62.2h0.8v0.8h-0.8z" fill="#2a2cf0" opacity="0.85"/><path d="M29.1 76.1h0.8v0.8h-0.8zM31.8 66.9h0.8v0.8h-0.8zM28.5 79.6h0.8v0.8h-0.8zM21.2 78.9h0.8v0.8h-0.8zM32.0 74.1h0.8v0.8h-0.8zM21.8 75.5h0.8v0.8h-0.8zM22.8 80.4h0.8v0.8h-0.8zM35.7 74.5h0.8v0.8h-0.8zM29.1 75.4h0.8v0.8h-0.8zM36.6 79.8h0.8v0.8h-0.8zM24.6 81.6h0.8v0.8h-0.8zM31.6 76.8h0.8v0.8h-0.8zM29.7 66.8h0.8v0.8h-0.8zM7.3 75.5h0.8v0.8h-0.8zM24.1 76.3h0.8v0.8h-0.8zM35.3 63.8h0.8v0.8h-0.8zM25.6 78.8h0.8v0.8h-0.8zM39.3 71.1h0.8v0.8h-0.8zM31.7 67.9h0.8v0.8h-0.8zM29.4 80.1h0.8v0.8h-0.8zM35.0 80.5h0.8v0.8h-0.8zM19.8 79.6h0.8v0.8h-0.8zM42.9 78.9h0.8v0.8h-0.8zM33.4 81.7h0.8v0.8h-0.8zM37.5 76.0h0.8v0.8h-0.8zM33.0 81.8h0.8v0.8h-0.8zM36.2 75.5h0.8v0.8h-0.8zM32.8 70.2h0.8v0.8h-0.8zM29.0 80.5h0.8v0.8h-0.8zM35.1 71.8h0.8v0.8h-0.8zM34.1 41.4h0.8v0.8h-0.8zM34.0 76.6h0.8v0.8h-0.8zM37.4 75.8h0.8v0.8h-0.8zM32.0 74.6h0.8v0.8h-0.8zM23.6 81.6h0.8v0.8h-0.8zM36.3 77.5h0.8v0.8h-0.8zM27.0 79.5h0.8v0.8h-0.8zM24.0 79.0h0.8v0.8h-0.8zM20.7 77.4h0.8v0.8h-0.8zM31.2 72.9h0.8v0.8h-0.8zM32.5 76.3h0.8v0.8h-0.8zM46.8 78.3h0.8v0.8h-0.8zM33.1 68.2h0.8v0.8h-0.8zM31.4 78.9h0.8v0.8h-0.8zM24.6 79.3h0.8v0.8h-0.8zM33.7 81.1h0.8v0.8h-0.8zM21.7 77.2h0.8v0.8h-0.8zM31.8 66.9h0.8v0.8h-0.8zM33.0 80.6h0.8v0.8h-0.8zM35.8 70.7h0.8v0.8h-0.8zM34.7 61.9h0.8v0.8h-0.8zM32.4 79.1h0.8v0.8h-0.8zM33.1 69.8h0.8v0.8h-0.8zM36.3 80.3h0.8v0.8h-0.8zM28.4 77.7h0.8v0.8h-0.8zM43.9 79.0h0.8v0.8h-0.8zM27.1 75.3h0.8v0.8h-0.8zM35.1 80.9h0.8v0.8h-0.8zM34.1 82.5h0.8v0.8h-0.8zM36.5 77.1h0.8v0.8h-0.8zM21.7 80.9h0.8v0.8h-0.8zM29.4 71.0h0.8v0.8h-0.8zM40.8 80.6h0.8v0.8h-0.8zM40.6 82.0h0.8v0.8h-0.8zM29.2 79.9h0.8v0.8h-0.8zM29.7 41.3h0.8v0.8h-0.8zM35.4 77.8h0.8v0.8h-0.8zM16.0 76.5h0.8v0.8h-0.8zM17.1 70.7h0.8v0.8h-0.8zM30.3 77.6h0.8v0.8h-0.8zM31.3 54.3h0.8v0.8h-0.8zM25.8 78.9h0.8v0.8h-0.8zM30.7 79.5h0.8v0.8h-0.8zM34.4 76.3h0.8v0.8h-0.8zM33.5 83.4h0.8v0.8h-0.8zM39.3 80.5h0.8v0.8h-0.8zM33.6 81.8h0.8v0.8h-0.8zM39.5 77.3h0.8v0.8h-0.8zM29.2 83.0h0.8v0.8h-0.8zM31.2 64.9h0.8v0.8h-0.8zM31.2 74.4h0.8v0.8h-0.8zM35.8 78.5h0.8v0.8h-0.8zM34.7 54.0h0.8v0.8h-0.8zM38.7 76.4h0.8v0.8h-0.8zM21.7 78.3h0.8v0.8h-0.8zM27.7 74.1h0.8v0.8h-0.8zM35.3 72.1h0.8v0.8h-0.8zM32.6 77.4h0.8v0.8h-0.8zM50.2 80.0h0.8v0.8h-0.8zM23.4 77.4h0.8v0.8h-0.8zM17.4 80.6h0.8v0.8h-0.8zM38.9 75.9h0.8v0.8h-0.8zM45.3 77.1h0.8v0.8h-0.8zM27.1 81.4h0.8v0.8h-0.8zM31.1 80.6h0.8v0.8h-0.8zM37.0 72.9h0.8v0.8h-0.8zM41.6 70.2h0.8v0.8h-0.8zM38.6 81.6h0.8v0.8h-0.8zM48.7 78.6h0.8v0.8h-0.8zM34.6 78.0h0.8v0.8h-0.8zM33.6 77.1h0.8v0.8h-0.8zM33.3 81.6h0.8v0.8h-0.8zM27.0 79.4h0.8v0.8h-0.8zM33.3 44.5h0.8v0.8h-0.8zM35.7 70.0h0.8v0.8h-0.8zM35.1 81.7h0.8v0.8h-0.8zM31.5 83.6h0.8v0.8h-0.8zM41.6 76.2h0.8v0.8h-0.8zM28.8 74.4h0.8v0.8h-0.8zM26.5 71.3h0.8v0.8h-0.8zM36.8 76.5h0.8v0.8h-0.8zM33.3 44.9h0.8v0.8h-0.8zM36.5 78.1h0.8v0.8h-0.8zM38.3 74.8h0.8v0.8h-0.8zM19.6 81.9h0.8v0.8h-0.8zM42.5 81.8h0.8v0.8h-0.8zM29.7 76.8h0.8v0.8h-0.8zM40.0 75.1h0.8v0.8h-0.8zM27.4 79.5h0.8v0.8h-0.8zM42.2 80.1h0.8v0.8h-0.8zM41.3 76.4h0.8v0.8h-0.8zM41.2 80.3h0.8v0.8h-0.8zM17.2 80.3h0.8v0.8h-0.8zM30.7 81.4h0.8v0.8h-0.8zM41.6 81.4h0.8v0.8h-0.8zM35.2 81.8h0.8v0.8h-0.8zM33.6 59.4h0.8v0.8h-0.8zM28.1 70.9h0.8v0.8h-0.8zM36.8 83.6h0.8v0.8h-0.8zM31.8 61.0h0.8v0.8h-0.8zM29.0 71.2h0.8v0.8h-0.8zM50.6 81.3h0.8v0.8h-0.8zM38.4 80.3h0.8v0.8h-0.8zM24.6 79.0h0.8v0.8h-0.8zM34.3 61.0h0.8v0.8h-0.8zM26.7 73.2h0.8v0.8h-0.8zM36.5 76.4h0.8v0.8h-0.8zM28.6 81.2h0.8v0.8h-0.8zM31.3 81.1h0.8v0.8h-0.8zM30.6 51.3h0.8v0.8h-0.8zM34.0 72.6h0.8v0.8h-0.8zM35.0 78.1h0.8v0.8h-0.8zM24.4 80.0h0.8v0.8h-0.8zM36.7 79.4h0.8v0.8h-0.8zM38.5 73.5h0.8v0.8h-0.8zM39.0 81.5h0.8v0.8h-0.8zM38.8 77.5h0.8v0.8h-0.8zM21.3 78.8h0.8v0.8h-0.8zM29.0 79.0h0.8v0.8h-0.8zM26.6 80.7h0.8v0.8h-0.8zM29.5 75.7h0.8v0.8h-0.8zM37.7 79.7h0.8v0.8h-0.8zM36.6 76.1h0.8v0.8h-0.8zM28.9 81.1h0.8v0.8h-0.8zM22.2 81.6h0.8v0.8h-0.8zM35.8 77.8h0.8v0.8h-0.8zM41.1 77.5h0.8v0.8h-0.8zM36.4 80.0h0.8v0.8h-0.8zM27.7 80.1h0.8v0.8h-0.8zM32.3 72.5h0.8v0.8h-0.8zM34.4 82.5h0.8v0.8h-0.8zM30.6 78.6h0.8v0.8h-0.8zM34.8 77.1h0.8v0.8h-0.8zM35.5 79.4h0.8v0.8h-0.8zM40.7 78.7h0.8v0.8h-0.8zM31.9 49.0h0.8v0.8h-0.8zM38.1 76.6h0.8v0.8h-0.8zM17.8 73.5h0.8v0.8h-0.8zM32.9 75.8h0.8v0.8h-0.8zM29.7 57.6h0.8v0.8h-0.8zM23.9 80.6h0.8v0.8h-0.8zM29.6 79.7h0.8v0.8h-0.8zM27.1 78.5h0.8v0.8h-0.8zM34.3 70.9h0.8v0.8h-0.8zM30.3 76.7h0.8v0.8h-0.8zM32.9 78.7h0.8v0.8h-0.8zM37.4 70.2h0.8v0.8h-0.8zM32.6 79.8h0.8v0.8h-0.8zM28.3 63.7h0.8v0.8h-0.8zM36.7 77.9h0.8v0.8h-0.8zM28.9 77.6h0.8v0.8h-0.8zM32.3 57.6h0.8v0.8h-0.8zM31.3 73.2h0.8v0.8h-0.8zM33.3 81.1h0.8v0.8h-0.8zM45.1 79.3h0.8v0.8h-0.8zM34.4 67.6h0.8v0.8h-0.8zM23.1 73.8h0.8v0.8h-0.8z" fill="#6a78ff" opacity="0.85"/><g filter="url(#fbl2)" fill="#2c34f4"><ellipse cx="33.1" cy="80.0" rx="13.1" ry="4.2" opacity="0.9"/><ellipse cx="32.6" cy="70.6" rx="5.6" ry="13.5" opacity="0.85"/><ellipse cx="32.2" cy="76.0" rx="8.6" ry="6.8" opacity="0.8"/></g><ellipse cx="31.8" cy="73.3" rx="3.1" ry="5.9" fill="url(#fc)" opacity="0.75" filter="url(#fbl)"/><g filter="url(#fbl)"><ellipse cx="31.6" cy="79.0" rx="11.2" ry="7.0" fill="url(#fb)"/><ellipse cx="30.2" cy="79.3" rx="9.5" ry="6.2" fill="url(#fc)" transform="rotate(-14 28.6 80.5)"/><ellipse cx="29.4" cy="80.0" rx="6.7" ry="4.0" fill="url(#fg)" transform="rotate(-14 28.6 80.5)"/><ellipse cx="28.6" cy="80.5" rx="4.1" ry="2.2" fill="url(#fy)" transform="rotate(-14 28.6 80.5)"/></g><path d="M0 0V98.5H95.4" fill="none" stroke="#6a6a72" stroke-width="0.8"/><text x="-3.2" y="4.0" font-size="4.6" font-weight="bold" fill="#223" text-anchor="end">500</text><text x="-3.2" y="22.8" font-size="4.6" font-weight="bold" fill="#223" text-anchor="end">400</text><text x="-3.2" y="41.5" font-size="4.6" font-weight="bold" fill="#223" text-anchor="end">300</text><text x="-3.2" y="60.2" font-size="4.6" font-weight="bold" fill="#223" text-anchor="end">200</text><text x="-3.2" y="79.0" font-size="4.6" font-weight="bold" fill="#223" text-anchor="end">100</text><text x="-3.2" y="97.8" font-size="4.6" font-weight="bold" fill="#223" text-anchor="end">0</text><text x="6.2" y="107.1" font-size="4.6" font-weight="bold" fill="#223" text-anchor="middle">10<tspan dy="-2" font-size="3.6">0</tspan></text><text x="27.6" y="107.1" font-size="4.6" font-weight="bold" fill="#223" text-anchor="middle">10<tspan dy="-2" font-size="3.6">1</tspan></text><text x="49.1" y="107.1" font-size="4.6" font-weight="bold" fill="#223" text-anchor="middle">10<tspan dy="-2" font-size="3.6">2</tspan></text><text x="70.5" y="107.1" font-size="4.6" font-weight="bold" fill="#223" text-anchor="middle">10<tspan dy="-2" font-size="3.6">3</tspan></text><text x="92.0" y="107.1" font-size="4.6" font-weight="bold" fill="#223" text-anchor="middle">10<tspan dy="-2" font-size="3.6">4</tspan></text><path d="M-2 2.4H0M-2 21.1H0M-2 39.9H0M-2 58.6H0M-2 77.4H0M-2 96.2H0M6.8 98.5v2.2M13.2 98.5v1.2M17.1 98.5v1.2M19.7 98.5v1.2M21.8 98.5v1.2M23.5 98.5v1.2M25.0 98.5v1.2M26.1 98.5v1.2M27.2 98.5v1.2M28.2 98.5v2.2M34.7 98.5v1.2M38.5 98.5v1.2M41.1 98.5v1.2M43.3 98.5v1.2M45.0 98.5v1.2M46.5 98.5v1.2M47.6 98.5v1.2M48.6 98.5v1.2M49.7 98.5v2.2M56.1 98.5v1.2M60.0 98.5v1.2M62.6 98.5v1.2M64.7 98.5v1.2M66.4 98.5v1.2M67.9 98.5v1.2M69.0 98.5v1.2M70.1 98.5v1.2M71.1 98.5v2.2M77.6 98.5v1.2M81.4 98.5v1.2M84.0 98.5v1.2M86.2 98.5v1.2M87.9 98.5v1.2M89.4 98.5v1.2M90.5 98.5v1.2M91.5 98.5v1.2M92.6 98.5v2.2" stroke="#556" stroke-width="0.5" fill="none"/></g>
<text x="507.7" y="813.9" font-size="15.3" text-anchor="middle">46.7<tspan font-size="18" dx="2" dy="0.6">±</tspan><tspan dx="2" dy="-0.6">5.9</tspan></text>
<g transform="translate(121.5 913.8)"><rect x="0" y="0" width="95.1" height="98.2" fill="#fff" stroke="#c4c4c8" stroke-width="0.7"/><path d="M23.3 98.2L42.8 19.6L95.1 13.7" fill="none" stroke="#d6d6da" stroke-width="0.6"/><path d="M15.3 73.5h0.8v0.8h-0.8zM12.8 75.9h0.8v0.8h-0.8zM4.5 73.0h0.8v0.8h-0.8zM12.9 76.7h0.8v0.8h-0.8zM17.9 79.6h0.8v0.8h-0.8zM11.1 81.4h0.8v0.8h-0.8zM19.6 65.0h0.8v0.8h-0.8zM15.8 71.7h0.8v0.8h-0.8zM7.7 78.9h0.8v0.8h-0.8zM9.2 75.1h0.8v0.8h-0.8zM11.4 56.3h0.8v0.8h-0.8zM11.6 79.1h0.8v0.8h-0.8zM14.6 74.8h0.8v0.8h-0.8zM10.2 79.4h0.8v0.8h-0.8zM24.9 73.3h0.8v0.8h-0.8zM10.8 76.8h0.8v0.8h-0.8zM9.6 79.0h0.8v0.8h-0.8zM16.5 76.9h0.8v0.8h-0.8zM10.5 63.7h0.8v0.8h-0.8zM6.7 62.9h0.8v0.8h-0.8zM17.2 74.3h0.8v0.8h-0.8zM13.5 40.7h0.8v0.8h-0.8zM16.2 71.7h0.8v0.8h-0.8zM18.3 66.3h0.8v0.8h-0.8zM16.2 80.2h0.8v0.8h-0.8zM19.7 69.4h0.8v0.8h-0.8zM8.7 55.8h0.8v0.8h-0.8zM11.8 31.5h0.8v0.8h-0.8zM11.0 77.5h0.8v0.8h-0.8zM13.4 63.9h0.8v0.8h-0.8zM9.8 61.4h0.8v0.8h-0.8zM28.0 79.4h0.8v0.8h-0.8zM6.7 76.8h0.8v0.8h-0.8zM11.6 49.0h0.8v0.8h-0.8zM13.3 73.5h0.8v0.8h-0.8zM15.8 73.0h0.8v0.8h-0.8zM12.4 51.6h0.8v0.8h-0.8zM10.3 22.1h0.8v0.8h-0.8zM15.8 79.9h0.8v0.8h-0.8zM11.5 66.1h0.8v0.8h-0.8zM11.5 78.0h0.8v0.8h-0.8zM4.4 74.7h0.8v0.8h-0.8zM9.1 75.6h0.8v0.8h-0.8zM10.8 79.7h0.8v0.8h-0.8zM7.9 79.7h0.8v0.8h-0.8zM12.7 57.4h0.8v0.8h-0.8zM14.3 54.4h0.8v0.8h-0.8zM12.1 56.8h0.8v0.8h-0.8zM10.6 29.8h0.8v0.8h-0.8zM27.0 75.3h0.8v0.8h-0.8zM18.0 80.7h0.8v0.8h-0.8zM19.3 75.9h0.8v0.8h-0.8zM9.2 73.2h0.8v0.8h-0.8zM14.5 72.1h0.8v0.8h-0.8zM10.5 76.5h0.8v0.8h-0.8zM9.5 73.8h0.8v0.8h-0.8zM23.3 70.7h0.8v0.8h-0.8zM12.0 27.3h0.8v0.8h-0.8zM17.1 71.2h0.8v0.8h-0.8zM12.0 73.5h0.8v0.8h-0.8zM8.1 75.7h0.8v0.8h-0.8zM8.2 40.2h0.8v0.8h-0.8zM3.3 78.6h0.8v0.8h-0.8zM2.6 79.3h0.8v0.8h-0.8zM16.0 69.3h0.8v0.8h-0.8zM17.0 78.4h0.8v0.8h-0.8zM12.6 76.4h0.8v0.8h-0.8zM12.5 72.5h0.8v0.8h-0.8zM2.3 79.1h0.8v0.8h-0.8zM9.0 70.8h0.8v0.8h-0.8zM14.0 73.6h0.8v0.8h-0.8zM12.4 76.2h0.8v0.8h-0.8zM7.1 60.6h0.8v0.8h-0.8zM22.2 75.9h0.8v0.8h-0.8zM11.3 74.4h0.8v0.8h-0.8zM23.8 79.8h0.8v0.8h-0.8zM1.1 69.1h0.8v0.8h-0.8zM13.8 77.7h0.8v0.8h-0.8zM9.9 55.2h0.8v0.8h-0.8zM14.5 81.1h0.8v0.8h-0.8zM13.0 79.8h0.8v0.8h-0.8zM10.3 75.4h0.8v0.8h-0.8zM10.6 75.5h0.8v0.8h-0.8zM15.5 77.7h0.8v0.8h-0.8zM5.3 78.6h0.8v0.8h-0.8zM14.4 77.2h0.8v0.8h-0.8zM4.5 73.0h0.8v0.8h-0.8zM11.7 76.3h0.8v0.8h-0.8zM10.8 72.2h0.8v0.8h-0.8zM11.2 70.6h0.8v0.8h-0.8zM9.6 65.2h0.8v0.8h-0.8zM6.1 74.7h0.8v0.8h-0.8zM2.4 64.6h0.8v0.8h-0.8zM6.0 79.2h0.8v0.8h-0.8zM13.4 79.1h0.8v0.8h-0.8zM27.7 77.7h0.8v0.8h-0.8zM7.4 74.0h0.8v0.8h-0.8zM17.0 58.2h0.8v0.8h-0.8zM13.3 73.4h0.8v0.8h-0.8zM3.6 75.9h0.8v0.8h-0.8zM10.7 75.3h0.8v0.8h-0.8zM16.2 76.6h0.8v0.8h-0.8zM15.1 76.8h0.8v0.8h-0.8zM9.5 73.4h0.8v0.8h-0.8zM12.7 77.9h0.8v0.8h-0.8zM18.7 71.6h0.8v0.8h-0.8zM7.3 78.9h0.8v0.8h-0.8zM31.6 77.6h0.8v0.8h-0.8zM12.4 21.4h0.8v0.8h-0.8zM15.3 61.3h0.8v0.8h-0.8zM12.1 52.6h0.8v0.8h-0.8zM16.6 75.6h0.8v0.8h-0.8zM10.6 55.9h0.8v0.8h-0.8zM11.0 17.7h0.8v0.8h-0.8zM15.3 74.0h0.8v0.8h-0.8zM10.7 49.6h0.8v0.8h-0.8zM17.5 76.5h0.8v0.8h-0.8zM19.1 74.7h0.8v0.8h-0.8zM13.2 73.6h0.8v0.8h-0.8zM12.0 68.0h0.8v0.8h-0.8zM13.7 75.1h0.8v0.8h-0.8zM11.0 79.7h0.8v0.8h-0.8zM6.9 75.5h0.8v0.8h-0.8zM11.9 74.6h0.8v0.8h-0.8zM21.4 77.9h0.8v0.8h-0.8zM16.2 76.8h0.8v0.8h-0.8zM19.4 77.3h0.8v0.8h-0.8zM11.1 69.1h0.8v0.8h-0.8zM8.2 56.0h0.8v0.8h-0.8zM2.7 79.9h0.8v0.8h-0.8zM11.5 72.4h0.8v0.8h-0.8zM13.1 70.0h0.8v0.8h-0.8zM19.2 76.7h0.8v0.8h-0.8zM14.8 73.7h0.8v0.8h-0.8zM23.3 73.5h0.8v0.8h-0.8zM11.8 72.8h0.8v0.8h-0.8zM10.0 69.8h0.8v0.8h-0.8zM16.3 76.5h0.8v0.8h-0.8zM12.6 66.5h0.8v0.8h-0.8zM5.9 64.9h0.8v0.8h-0.8zM11.4 79.5h0.8v0.8h-0.8zM3.8 76.3h0.8v0.8h-0.8zM7.9 72.6h0.8v0.8h-0.8zM12.3 50.0h0.8v0.8h-0.8zM13.2 76.0h0.8v0.8h-0.8zM15.4 76.8h0.8v0.8h-0.8zM4.5 74.4h0.8v0.8h-0.8zM18.9 72.5h0.8v0.8h-0.8zM22.2 76.4h0.8v0.8h-0.8zM12.8 76.9h0.8v0.8h-0.8zM10.6 56.0h0.8v0.8h-0.8zM14.6 73.4h0.8v0.8h-0.8zM9.8 62.1h0.8v0.8h-0.8zM9.9 75.9h0.8v0.8h-0.8zM10.0 27.2h0.8v0.8h-0.8zM10.4 62.2h0.8v0.8h-0.8zM8.3 77.9h0.8v0.8h-0.8zM17.1 74.1h0.8v0.8h-0.8zM14.2 75.3h0.8v0.8h-0.8zM9.6 72.2h0.8v0.8h-0.8zM9.0 64.7h0.8v0.8h-0.8zM8.0 75.8h0.8v0.8h-0.8zM22.4 75.3h0.8v0.8h-0.8zM12.6 61.9h0.8v0.8h-0.8zM6.1 68.2h0.8v0.8h-0.8zM4.3 78.4h0.8v0.8h-0.8zM6.4 77.8h0.8v0.8h-0.8zM12.4 75.4h0.8v0.8h-0.8zM11.2 69.8h0.8v0.8h-0.8zM5.7 58.0h0.8v0.8h-0.8zM10.6 79.2h0.8v0.8h-0.8zM21.9 76.0h0.8v0.8h-0.8zM11.5 69.3h0.8v0.8h-0.8zM12.1 79.3h0.8v0.8h-0.8zM8.7 55.9h0.8v0.8h-0.8zM13.6 76.1h0.8v0.8h-0.8zM9.0 79.0h0.8v0.8h-0.8zM3.4 71.3h0.8v0.8h-0.8zM8.9 78.4h0.8v0.8h-0.8zM26.7 77.6h0.8v0.8h-0.8zM16.3 69.9h0.8v0.8h-0.8zM8.0 74.0h0.8v0.8h-0.8zM7.9 81.7h0.8v0.8h-0.8zM19.8 73.6h0.8v0.8h-0.8zM9.5 66.8h0.8v0.8h-0.8zM18.3 52.1h0.8v0.8h-0.8zM20.6 77.1h0.8v0.8h-0.8zM13.4 70.1h0.8v0.8h-0.8zM6.3 79.3h0.8v0.8h-0.8zM17.2 79.2h0.8v0.8h-0.8zM11.2 68.0h0.8v0.8h-0.8zM5.2 79.0h0.8v0.8h-0.8zM15.2 70.9h0.8v0.8h-0.8zM10.7 42.6h0.8v0.8h-0.8zM9.5 56.5h0.8v0.8h-0.8zM14.6 54.1h0.8v0.8h-0.8zM24.9 79.7h0.8v0.8h-0.8zM8.3 80.9h0.8v0.8h-0.8zM3.0 79.1h0.8v0.8h-0.8zM10.5 59.6h0.8v0.8h-0.8zM11.7 73.1h0.8v0.8h-0.8zM13.9 78.0h0.8v0.8h-0.8zM12.1 79.0h0.8v0.8h-0.8zM12.6 57.5h0.8v0.8h-0.8zM15.0 78.6h0.8v0.8h-0.8zM6.6 73.3h0.8v0.8h-0.8zM16.9 76.8h0.8v0.8h-0.8zM20.1 79.9h0.8v0.8h-0.8zM21.0 75.8h0.8v0.8h-0.8zM15.6 78.6h0.8v0.8h-0.8zM10.7 75.8h0.8v0.8h-0.8zM8.2 67.0h0.8v0.8h-0.8zM11.2 78.6h0.8v0.8h-0.8zM13.5 70.3h0.8v0.8h-0.8zM8.5 54.9h0.8v0.8h-0.8zM4.6 77.1h0.8v0.8h-0.8zM12.9 8.5h0.8v0.8h-0.8zM17.5 78.1h0.8v0.8h-0.8zM10.7 71.8h0.8v0.8h-0.8zM7.9 79.6h0.8v0.8h-0.8zM3.9 78.1h0.8v0.8h-0.8zM10.9 67.9h0.8v0.8h-0.8zM10.5 75.8h0.8v0.8h-0.8zM18.3 78.6h0.8v0.8h-0.8zM10.5 59.2h0.8v0.8h-0.8zM15.1 71.9h0.8v0.8h-0.8zM16.0 73.9h0.8v0.8h-0.8zM25.3 78.1h0.8v0.8h-0.8zM3.8 71.3h0.8v0.8h-0.8zM10.1 58.2h0.8v0.8h-0.8zM9.6 70.6h0.8v0.8h-0.8zM9.8 72.8h0.8v0.8h-0.8zM6.9 79.5h0.8v0.8h-0.8zM3.4 75.1h0.8v0.8h-0.8zM13.3 78.6h0.8v0.8h-0.8zM16.9 76.8h0.8v0.8h-0.8zM11.5 80.3h0.8v0.8h-0.8zM7.5 72.5h0.8v0.8h-0.8zM12.8 77.7h0.8v0.8h-0.8zM20.8 79.5h0.8v0.8h-0.8zM13.1 75.3h0.8v0.8h-0.8zM14.5 77.6h0.8v0.8h-0.8zM30.3 75.5h0.8v0.8h-0.8zM11.2 80.7h0.8v0.8h-0.8zM17.0 76.5h0.8v0.8h-0.8zM9.8 69.8h0.8v0.8h-0.8zM8.0 68.7h0.8v0.8h-0.8zM12.4 78.9h0.8v0.8h-0.8zM27.5 77.6h0.8v0.8h-0.8zM27.3 78.2h0.8v0.8h-0.8zM7.4 63.3h0.8v0.8h-0.8zM9.6 65.7h0.8v0.8h-0.8zM30.0 74.8h0.8v0.8h-0.8zM10.7 66.6h0.8v0.8h-0.8zM7.4 74.3h0.8v0.8h-0.8zM15.8 78.0h0.8v0.8h-0.8zM8.3 77.6h0.8v0.8h-0.8zM20.1 79.2h0.8v0.8h-0.8zM11.2 79.2h0.8v0.8h-0.8zM8.9 69.3h0.8v0.8h-0.8zM9.3 68.2h0.8v0.8h-0.8zM16.8 78.1h0.8v0.8h-0.8zM6.9 70.8h0.8v0.8h-0.8zM9.0 59.8h0.8v0.8h-0.8zM17.3 78.2h0.8v0.8h-0.8zM8.7 69.9h0.8v0.8h-0.8zM7.1 77.3h0.8v0.8h-0.8zM6.6 69.8h0.8v0.8h-0.8zM15.8 79.4h0.8v0.8h-0.8zM2.1 77.7h0.8v0.8h-0.8zM12.8 71.4h0.8v0.8h-0.8zM1.8 73.5h0.8v0.8h-0.8zM32.2 75.6h0.8v0.8h-0.8zM7.2 71.8h0.8v0.8h-0.8zM15.5 61.2h0.8v0.8h-0.8zM15.3 76.8h0.8v0.8h-0.8zM13.6 77.5h0.8v0.8h-0.8zM8.9 75.4h0.8v0.8h-0.8zM17.5 74.4h0.8v0.8h-0.8zM10.0 78.2h0.8v0.8h-0.8zM11.7 70.4h0.8v0.8h-0.8zM4.3 74.1h0.8v0.8h-0.8zM14.9 75.0h0.8v0.8h-0.8zM4.3 76.7h0.8v0.8h-0.8zM12.9 79.1h0.8v0.8h-0.8zM10.3 67.2h0.8v0.8h-0.8zM7.9 75.9h0.8v0.8h-0.8zM18.6 80.6h0.8v0.8h-0.8zM7.6 79.5h0.8v0.8h-0.8zM6.4 78.1h0.8v0.8h-0.8zM16.7 76.3h0.8v0.8h-0.8zM8.1 74.9h0.8v0.8h-0.8zM11.7 8.4h0.8v0.8h-0.8zM6.0 64.8h0.8v0.8h-0.8zM11.8 79.0h0.8v0.8h-0.8zM11.9 62.5h0.8v0.8h-0.8zM8.5 61.7h0.8v0.8h-0.8zM6.6 68.4h0.8v0.8h-0.8zM17.3 72.2h0.8v0.8h-0.8zM20.3 77.8h0.8v0.8h-0.8zM19.3 76.5h0.8v0.8h-0.8zM15.9 78.7h0.8v0.8h-0.8zM6.5 73.8h0.8v0.8h-0.8zM17.4 79.2h0.8v0.8h-0.8zM28.6 74.5h0.8v0.8h-0.8zM10.2 74.8h0.8v0.8h-0.8zM11.7 67.0h0.8v0.8h-0.8zM15.4 72.1h0.8v0.8h-0.8zM11.6 74.1h0.8v0.8h-0.8zM15.5 80.5h0.8v0.8h-0.8zM8.0 60.3h0.8v0.8h-0.8zM20.9 75.0h0.8v0.8h-0.8zM30.7 77.3h0.8v0.8h-0.8zM13.4 46.2h0.8v0.8h-0.8zM15.0 78.0h0.8v0.8h-0.8zM10.3 79.0h0.8v0.8h-0.8zM22.8 69.0h0.8v0.8h-0.8zM27.0 77.6h0.8v0.8h-0.8zM8.7 76.5h0.8v0.8h-0.8zM6.7 76.4h0.8v0.8h-0.8zM23.2 77.1h0.8v0.8h-0.8zM39.2 79.5h0.8v0.8h-0.8zM11.5 70.2h0.8v0.8h-0.8zM10.7 75.0h0.8v0.8h-0.8zM13.7 59.5h0.8v0.8h-0.8zM8.7 72.0h0.8v0.8h-0.8zM10.5 76.0h0.8v0.8h-0.8zM11.3 56.8h0.8v0.8h-0.8zM11.7 78.6h0.8v0.8h-0.8zM8.5 75.6h0.8v0.8h-0.8zM9.6 77.8h0.8v0.8h-0.8zM18.2 75.8h0.8v0.8h-0.8zM8.5 77.0h0.8v0.8h-0.8zM15.3 66.5h0.8v0.8h-0.8zM11.4 76.5h0.8v0.8h-0.8zM2.0 77.0h0.8v0.8h-0.8zM11.2 76.0h0.8v0.8h-0.8zM10.2 71.8h0.8v0.8h-0.8zM17.4 77.7h0.8v0.8h-0.8zM2.6 72.9h0.8v0.8h-0.8zM10.4 50.1h0.8v0.8h-0.8zM7.9 75.3h0.8v0.8h-0.8zM9.2 73.2h0.8v0.8h-0.8zM12.8 71.5h0.8v0.8h-0.8zM9.9 79.6h0.8v0.8h-0.8zM17.5 79.4h0.8v0.8h-0.8zM6.5 70.2h0.8v0.8h-0.8zM13.9 59.9h0.8v0.8h-0.8zM15.1 73.7h0.8v0.8h-0.8zM11.0 78.9h0.8v0.8h-0.8zM13.0 78.3h0.8v0.8h-0.8zM13.0 74.8h0.8v0.8h-0.8zM21.5 75.3h0.8v0.8h-0.8zM6.9 76.6h0.8v0.8h-0.8zM13.5 73.9h0.8v0.8h-0.8zM13.5 59.9h0.8v0.8h-0.8zM32.6 73.2h0.8v0.8h-0.8zM19.7 77.4h0.8v0.8h-0.8zM3.0 71.9h0.8v0.8h-0.8zM14.6 72.7h0.8v0.8h-0.8zM17.8 79.6h0.8v0.8h-0.8zM24.0 70.6h0.8v0.8h-0.8zM36.7 79.2h0.8v0.8h-0.8zM14.7 70.5h0.8v0.8h-0.8zM11.4 56.7h0.8v0.8h-0.8zM13.8 76.9h0.8v0.8h-0.8zM15.9 78.5h0.8v0.8h-0.8zM17.6 73.3h0.8v0.8h-0.8zM21.4 73.6h0.8v0.8h-0.8zM16.7 77.5h0.8v0.8h-0.8zM16.9 75.9h0.8v0.8h-0.8zM13.5 67.6h0.8v0.8h-0.8zM15.4 79.9h0.8v0.8h-0.8zM1.7 78.6h0.8v0.8h-0.8zM8.7 72.0h0.8v0.8h-0.8zM14.6 63.4h0.8v0.8h-0.8zM11.2 64.3h0.8v0.8h-0.8zM16.9 78.3h0.8v0.8h-0.8zM20.2 76.6h0.8v0.8h-0.8zM10.9 53.4h0.8v0.8h-0.8zM9.4 69.9h0.8v0.8h-0.8zM12.4 73.3h0.8v0.8h-0.8zM7.8 76.1h0.8v0.8h-0.8zM12.7 68.3h0.8v0.8h-0.8zM5.1 73.1h0.8v0.8h-0.8zM14.6 79.9h0.8v0.8h-0.8zM18.0 70.9h0.8v0.8h-0.8zM22.7 78.6h0.8v0.8h-0.8zM4.1 71.2h0.8v0.8h-0.8zM9.8 76.7h0.8v0.8h-0.8zM2.4 78.1h0.8v0.8h-0.8zM10.7 76.7h0.8v0.8h-0.8zM20.5 75.7h0.8v0.8h-0.8zM6.4 78.5h0.8v0.8h-0.8zM6.2 72.6h0.8v0.8h-0.8zM9.6 42.0h0.8v0.8h-0.8zM12.0 72.3h0.8v0.8h-0.8zM2.5 76.8h0.8v0.8h-0.8zM9.3 76.9h0.8v0.8h-0.8zM16.7 73.3h0.8v0.8h-0.8zM11.0 74.7h0.8v0.8h-0.8zM16.2 78.0h0.8v0.8h-0.8zM11.2 74.9h0.8v0.8h-0.8zM12.9 61.0h0.8v0.8h-0.8zM8.4 56.0h0.8v0.8h-0.8zM11.6 71.1h0.8v0.8h-0.8zM12.9 78.5h0.8v0.8h-0.8zM19.8 75.8h0.8v0.8h-0.8zM8.0 81.9h0.8v0.8h-0.8zM30.3 79.3h0.8v0.8h-0.8zM9.3 73.6h0.8v0.8h-0.8zM9.6 45.8h0.8v0.8h-0.8zM14.2 75.6h0.8v0.8h-0.8zM11.4 72.6h0.8v0.8h-0.8zM15.0 74.8h0.8v0.8h-0.8zM11.8 50.6h0.8v0.8h-0.8zM1.9 77.3h0.8v0.8h-0.8zM10.5 77.5h0.8v0.8h-0.8zM7.4 77.2h0.8v0.8h-0.8zM10.8 64.0h0.8v0.8h-0.8zM8.4 74.6h0.8v0.8h-0.8zM7.1 70.4h0.8v0.8h-0.8zM9.4 72.5h0.8v0.8h-0.8zM24.4 77.6h0.8v0.8h-0.8zM6.0 71.0h0.8v0.8h-0.8zM13.8 73.6h0.8v0.8h-0.8zM19.1 78.4h0.8v0.8h-0.8zM13.0 73.3h0.8v0.8h-0.8z" fill="#2a2cf0" opacity="0.85"/><path d="M10.1 49.0h0.8v0.8h-0.8zM19.3 75.4h0.8v0.8h-0.8zM11.0 37.5h0.8v0.8h-0.8zM12.3 73.9h0.8v0.8h-0.8zM14.4 65.3h0.8v0.8h-0.8zM9.5 82.0h0.8v0.8h-0.8zM14.6 80.3h0.8v0.8h-0.8zM22.5 78.6h0.8v0.8h-0.8zM14.0 75.4h0.8v0.8h-0.8zM15.4 72.9h0.8v0.8h-0.8zM9.1 59.9h0.8v0.8h-0.8zM12.1 70.0h0.8v0.8h-0.8zM11.8 71.3h0.8v0.8h-0.8zM11.9 48.2h0.8v0.8h-0.8zM19.7 76.6h0.8v0.8h-0.8zM17.1 55.6h0.8v0.8h-0.8zM16.3 73.0h0.8v0.8h-0.8zM12.0 63.2h0.8v0.8h-0.8zM8.4 77.1h0.8v0.8h-0.8zM9.2 74.0h0.8v0.8h-0.8zM15.2 77.5h0.8v0.8h-0.8zM18.7 74.6h0.8v0.8h-0.8zM12.6 40.9h0.8v0.8h-0.8zM23.9 76.6h0.8v0.8h-0.8zM14.0 59.3h0.8v0.8h-0.8zM17.6 76.1h0.8v0.8h-0.8zM14.6 78.4h0.8v0.8h-0.8zM17.6 75.9h0.8v0.8h-0.8zM9.8 76.2h0.8v0.8h-0.8zM3.6 79.5h0.8v0.8h-0.8zM16.9 79.3h0.8v0.8h-0.8zM7.3 61.1h0.8v0.8h-0.8zM17.7 79.5h0.8v0.8h-0.8zM12.2 55.0h0.8v0.8h-0.8zM13.7 58.4h0.8v0.8h-0.8zM12.9 75.1h0.8v0.8h-0.8zM17.0 71.6h0.8v0.8h-0.8zM8.8 44.4h0.8v0.8h-0.8zM15.1 74.8h0.8v0.8h-0.8zM8.4 75.8h0.8v0.8h-0.8zM2.8 68.6h0.8v0.8h-0.8zM11.0 70.3h0.8v0.8h-0.8zM14.1 78.9h0.8v0.8h-0.8zM8.3 69.0h0.8v0.8h-0.8zM6.3 79.3h0.8v0.8h-0.8zM14.6 74.5h0.8v0.8h-0.8zM15.1 60.9h0.8v0.8h-0.8zM14.2 74.5h0.8v0.8h-0.8zM13.7 75.8h0.8v0.8h-0.8zM8.5 73.0h0.8v0.8h-0.8zM12.7 42.1h0.8v0.8h-0.8zM5.8 78.1h0.8v0.8h-0.8zM8.2 81.4h0.8v0.8h-0.8zM15.5 76.4h0.8v0.8h-0.8zM16.5 73.1h0.8v0.8h-0.8zM6.4 79.0h0.8v0.8h-0.8zM14.5 48.6h0.8v0.8h-0.8zM18.4 76.8h0.8v0.8h-0.8zM14.9 77.9h0.8v0.8h-0.8zM14.2 74.7h0.8v0.8h-0.8zM16.3 71.8h0.8v0.8h-0.8zM14.1 76.4h0.8v0.8h-0.8zM1.0 73.5h0.8v0.8h-0.8zM5.2 76.3h0.8v0.8h-0.8zM16.1 78.9h0.8v0.8h-0.8zM7.8 61.5h0.8v0.8h-0.8zM19.0 67.4h0.8v0.8h-0.8zM4.3 79.1h0.8v0.8h-0.8zM26.9 75.6h0.8v0.8h-0.8zM10.8 60.7h0.8v0.8h-0.8zM9.3 79.1h0.8v0.8h-0.8zM5.1 72.4h0.8v0.8h-0.8zM10.1 77.1h0.8v0.8h-0.8zM10.6 17.4h0.8v0.8h-0.8zM17.7 75.2h0.8v0.8h-0.8zM13.6 68.8h0.8v0.8h-0.8zM12.9 78.9h0.8v0.8h-0.8zM12.1 80.0h0.8v0.8h-0.8zM10.6 69.2h0.8v0.8h-0.8zM13.1 78.3h0.8v0.8h-0.8zM7.4 73.3h0.8v0.8h-0.8zM13.0 55.9h0.8v0.8h-0.8zM16.2 74.3h0.8v0.8h-0.8zM12.4 71.1h0.8v0.8h-0.8zM16.8 57.0h0.8v0.8h-0.8zM10.1 60.0h0.8v0.8h-0.8zM3.5 76.7h0.8v0.8h-0.8zM19.1 77.5h0.8v0.8h-0.8zM6.6 77.1h0.8v0.8h-0.8zM17.8 74.2h0.8v0.8h-0.8zM37.0 73.2h0.8v0.8h-0.8zM13.0 75.4h0.8v0.8h-0.8zM9.2 69.4h0.8v0.8h-0.8zM8.9 77.8h0.8v0.8h-0.8zM11.2 79.8h0.8v0.8h-0.8zM16.5 79.9h0.8v0.8h-0.8zM14.1 78.4h0.8v0.8h-0.8zM8.6 75.1h0.8v0.8h-0.8zM7.8 67.4h0.8v0.8h-0.8zM11.8 75.0h0.8v0.8h-0.8zM10.1 72.2h0.8v0.8h-0.8zM6.1 69.9h0.8v0.8h-0.8zM15.2 76.6h0.8v0.8h-0.8zM13.1 72.8h0.8v0.8h-0.8zM12.6 75.4h0.8v0.8h-0.8zM8.6 76.7h0.8v0.8h-0.8zM9.1 77.1h0.8v0.8h-0.8zM12.4 74.1h0.8v0.8h-0.8zM18.5 75.5h0.8v0.8h-0.8zM7.3 76.1h0.8v0.8h-0.8zM14.0 63.7h0.8v0.8h-0.8zM8.8 72.6h0.8v0.8h-0.8zM9.9 72.4h0.8v0.8h-0.8zM1.0 77.5h0.8v0.8h-0.8zM12.4 78.5h0.8v0.8h-0.8zM13.7 79.6h0.8v0.8h-0.8zM18.5 75.3h0.8v0.8h-0.8zM5.9 78.7h0.8v0.8h-0.8zM2.0 79.0h0.8v0.8h-0.8zM12.9 75.4h0.8v0.8h-0.8zM12.4 79.0h0.8v0.8h-0.8zM10.9 62.4h0.8v0.8h-0.8zM13.0 62.9h0.8v0.8h-0.8zM11.1 36.8h0.8v0.8h-0.8zM6.6 54.7h0.8v0.8h-0.8zM15.2 77.1h0.8v0.8h-0.8zM13.4 54.8h0.8v0.8h-0.8zM21.5 74.3h0.8v0.8h-0.8zM8.9 76.4h0.8v0.8h-0.8zM15.0 78.8h0.8v0.8h-0.8zM14.1 73.8h0.8v0.8h-0.8zM15.5 53.5h0.8v0.8h-0.8zM9.6 75.6h0.8v0.8h-0.8zM1.9 78.0h0.8v0.8h-0.8zM4.1 78.5h0.8v0.8h-0.8zM13.9 79.9h0.8v0.8h-0.8zM22.7 75.6h0.8v0.8h-0.8zM9.2 65.6h0.8v0.8h-0.8zM12.2 77.7h0.8v0.8h-0.8zM13.2 79.1h0.8v0.8h-0.8zM10.0 46.4h0.8v0.8h-0.8zM10.2 77.1h0.8v0.8h-0.8zM6.3 77.6h0.8v0.8h-0.8zM15.7 72.2h0.8v0.8h-0.8zM19.5 76.5h0.8v0.8h-0.8zM10.7 81.9h0.8v0.8h-0.8zM19.5 78.0h0.8v0.8h-0.8zM11.2 40.9h0.8v0.8h-0.8zM14.4 74.6h0.8v0.8h-0.8zM11.0 68.0h0.8v0.8h-0.8zM9.9 47.1h0.8v0.8h-0.8zM15.2 81.8h0.8v0.8h-0.8zM11.5 57.0h0.8v0.8h-0.8zM7.0 73.2h0.8v0.8h-0.8zM12.1 28.1h0.8v0.8h-0.8zM16.4 75.8h0.8v0.8h-0.8zM13.2 76.2h0.8v0.8h-0.8zM4.3 61.3h0.8v0.8h-0.8zM11.4 74.5h0.8v0.8h-0.8zM9.9 64.8h0.8v0.8h-0.8zM12.6 76.8h0.8v0.8h-0.8zM12.5 65.0h0.8v0.8h-0.8zM6.9 78.4h0.8v0.8h-0.8zM12.3 47.3h0.8v0.8h-0.8zM12.2 78.0h0.8v0.8h-0.8zM15.6 69.3h0.8v0.8h-0.8zM18.7 80.7h0.8v0.8h-0.8zM32.3 78.9h0.8v0.8h-0.8zM8.7 55.1h0.8v0.8h-0.8zM13.4 72.0h0.8v0.8h-0.8zM13.7 80.6h0.8v0.8h-0.8zM17.8 62.9h0.8v0.8h-0.8zM10.0 72.2h0.8v0.8h-0.8zM11.6 54.0h0.8v0.8h-0.8zM9.3 22.1h0.8v0.8h-0.8zM4.8 76.2h0.8v0.8h-0.8zM9.1 64.7h0.8v0.8h-0.8zM12.5 78.0h0.8v0.8h-0.8zM12.8 71.5h0.8v0.8h-0.8z" fill="#6a78ff" opacity="0.85"/><g filter="url(#fbl2)" fill="#2c34f4"><ellipse cx="12.7" cy="78.0" rx="13.8" ry="4.2" opacity="0.9"/><ellipse cx="12.2" cy="68.0" rx="5.9" ry="14.2" opacity="0.85"/><ellipse cx="11.7" cy="73.8" rx="9.0" ry="7.1" opacity="0.8"/></g><ellipse cx="11.2" cy="70.9" rx="3.2" ry="6.2" fill="url(#fc)" opacity="0.75" filter="url(#fbl)"/><g filter="url(#fbl)"><ellipse cx="10.9" cy="77.0" rx="11.9" ry="7.0" fill="url(#fb)"/><ellipse cx="9.5" cy="77.3" rx="10.0" ry="6.2" fill="url(#fc)" transform="rotate(-14 7.9 78.5)"/><ellipse cx="8.7" cy="78.0" rx="7.0" ry="4.0" fill="url(#fg)" transform="rotate(-14 7.9 78.5)"/><ellipse cx="7.9" cy="78.5" rx="4.4" ry="2.2" fill="url(#fy)" transform="rotate(-14 7.9 78.5)"/></g><path d="M0 0V98.2H95.1" fill="none" stroke="#6a6a72" stroke-width="0.8"/><text x="-3.2" y="4.0" font-size="4.6" font-weight="bold" fill="#223" text-anchor="end">500</text><text x="-3.2" y="22.8" font-size="4.6" font-weight="bold" fill="#223" text-anchor="end">400</text><text x="-3.2" y="41.5" font-size="4.6" font-weight="bold" fill="#223" text-anchor="end">300</text><text x="-3.2" y="60.2" font-size="4.6" font-weight="bold" fill="#223" text-anchor="end">200</text><text x="-3.2" y="79.0" font-size="4.6" font-weight="bold" fill="#223" text-anchor="end">100</text><text x="-3.2" y="97.8" font-size="4.6" font-weight="bold" fill="#223" text-anchor="end">0</text><text x="6.2" y="106.8" font-size="4.6" font-weight="bold" fill="#223" text-anchor="middle">10<tspan dy="-2" font-size="3.6">0</tspan></text><text x="27.6" y="106.8" font-size="4.6" font-weight="bold" fill="#223" text-anchor="middle">10<tspan dy="-2" font-size="3.6">1</tspan></text><text x="49.1" y="106.8" font-size="4.6" font-weight="bold" fill="#223" text-anchor="middle">10<tspan dy="-2" font-size="3.6">2</tspan></text><text x="70.5" y="106.8" font-size="4.6" font-weight="bold" fill="#223" text-anchor="middle">10<tspan dy="-2" font-size="3.6">3</tspan></text><text x="92.0" y="106.8" font-size="4.6" font-weight="bold" fill="#223" text-anchor="middle">10<tspan dy="-2" font-size="3.6">4</tspan></text><path d="M-2 2.4H0M-2 21.1H0M-2 39.9H0M-2 58.6H0M-2 77.4H0M-2 96.2H0M6.8 98.2v2.2M13.2 98.2v1.2M17.1 98.2v1.2M19.7 98.2v1.2M21.8 98.2v1.2M23.5 98.2v1.2M25.0 98.2v1.2M26.1 98.2v1.2M27.2 98.2v1.2M28.2 98.2v2.2M34.7 98.2v1.2M38.5 98.2v1.2M41.1 98.2v1.2M43.3 98.2v1.2M45.0 98.2v1.2M46.5 98.2v1.2M47.6 98.2v1.2M48.6 98.2v1.2M49.7 98.2v2.2M56.1 98.2v1.2M60.0 98.2v1.2M62.6 98.2v1.2M64.7 98.2v1.2M66.4 98.2v1.2M67.9 98.2v1.2M69.0 98.2v1.2M70.1 98.2v1.2M71.1 98.2v2.2M77.6 98.2v1.2M81.4 98.2v1.2M84.0 98.2v1.2M86.2 98.2v1.2M87.9 98.2v1.2M89.4 98.2v1.2M90.5 98.2v1.2M91.5 98.2v1.2M92.6 98.2v2.2" stroke="#556" stroke-width="0.5" fill="none"/></g>
<text x="166.5" y="928.5" font-size="15.3" text-anchor="middle">0.25<tspan font-size="18" dx="2" dy="0.6">±</tspan><tspan dx="2" dy="-0.6">0.06</tspan></text>
<g transform="translate(234.6 913.8)"><rect x="0" y="0" width="94.8" height="98.2" fill="#fff" stroke="#c4c4c8" stroke-width="0.7"/><path d="M23.2 98.2L42.7 19.6L94.8 13.7" fill="none" stroke="#d6d6da" stroke-width="0.6"/><path d="M26.4 78.9h0.8v0.8h-0.8zM38.8 78.9h0.8v0.8h-0.8zM26.5 59.2h0.8v0.8h-0.8zM30.3 57.3h0.8v0.8h-0.8zM30.6 73.3h0.8v0.8h-0.8zM47.9 76.8h0.8v0.8h-0.8zM30.2 78.7h0.8v0.8h-0.8zM30.6 71.5h0.8v0.8h-0.8zM39.7 73.0h0.8v0.8h-0.8zM27.7 62.5h0.8v0.8h-0.8zM20.8 75.7h0.8v0.8h-0.8zM29.5 79.1h0.8v0.8h-0.8zM26.2 77.1h0.8v0.8h-0.8zM41.8 78.2h0.8v0.8h-0.8zM19.4 69.0h0.8v0.8h-0.8zM37.3 74.4h0.8v0.8h-0.8zM33.2 67.1h0.8v0.8h-0.8zM27.9 79.3h0.8v0.8h-0.8zM31.5 77.6h0.8v0.8h-0.8zM36.3 71.8h0.8v0.8h-0.8zM28.2 70.6h0.8v0.8h-0.8zM29.7 72.6h0.8v0.8h-0.8zM30.1 52.2h0.8v0.8h-0.8zM29.3 70.9h0.8v0.8h-0.8zM26.9 72.8h0.8v0.8h-0.8zM36.3 71.7h0.8v0.8h-0.8zM17.1 72.5h0.8v0.8h-0.8zM26.1 74.3h0.8v0.8h-0.8zM28.8 73.7h0.8v0.8h-0.8zM13.0 77.7h0.8v0.8h-0.8zM26.5 77.7h0.8v0.8h-0.8zM23.5 74.9h0.8v0.8h-0.8zM28.7 57.1h0.8v0.8h-0.8zM34.6 67.4h0.8v0.8h-0.8zM29.3 31.5h0.8v0.8h-0.8zM30.2 77.7h0.8v0.8h-0.8zM32.2 74.0h0.8v0.8h-0.8zM27.7 41.8h0.8v0.8h-0.8zM28.1 74.0h0.8v0.8h-0.8zM25.5 77.2h0.8v0.8h-0.8zM28.1 76.5h0.8v0.8h-0.8zM23.7 74.6h0.8v0.8h-0.8zM27.1 78.0h0.8v0.8h-0.8zM20.6 71.7h0.8v0.8h-0.8zM28.0 76.7h0.8v0.8h-0.8zM28.3 73.2h0.8v0.8h-0.8zM22.6 73.5h0.8v0.8h-0.8zM25.3 62.8h0.8v0.8h-0.8zM23.1 74.9h0.8v0.8h-0.8zM26.2 59.1h0.8v0.8h-0.8zM33.0 74.2h0.8v0.8h-0.8zM14.2 79.0h0.8v0.8h-0.8zM34.0 72.4h0.8v0.8h-0.8zM38.8 75.6h0.8v0.8h-0.8zM25.8 73.7h0.8v0.8h-0.8zM23.6 77.4h0.8v0.8h-0.8zM41.2 77.7h0.8v0.8h-0.8zM31.2 76.7h0.8v0.8h-0.8zM28.9 70.8h0.8v0.8h-0.8zM27.3 76.3h0.8v0.8h-0.8zM22.0 77.0h0.8v0.8h-0.8zM26.8 73.8h0.8v0.8h-0.8zM35.4 72.1h0.8v0.8h-0.8zM27.5 64.0h0.8v0.8h-0.8zM30.0 70.2h0.8v0.8h-0.8zM27.3 65.9h0.8v0.8h-0.8zM29.5 51.8h0.8v0.8h-0.8zM18.1 75.2h0.8v0.8h-0.8zM47.8 77.8h0.8v0.8h-0.8zM27.3 79.3h0.8v0.8h-0.8zM43.7 77.6h0.8v0.8h-0.8zM33.8 79.7h0.8v0.8h-0.8zM33.7 75.8h0.8v0.8h-0.8zM26.0 80.2h0.8v0.8h-0.8zM29.0 75.6h0.8v0.8h-0.8zM32.3 78.3h0.8v0.8h-0.8zM24.9 77.0h0.8v0.8h-0.8zM29.2 78.1h0.8v0.8h-0.8zM26.0 77.9h0.8v0.8h-0.8zM21.0 58.0h0.8v0.8h-0.8zM25.7 78.2h0.8v0.8h-0.8zM30.8 74.1h0.8v0.8h-0.8zM26.8 74.8h0.8v0.8h-0.8zM31.4 55.4h0.8v0.8h-0.8zM38.3 78.4h0.8v0.8h-0.8zM34.6 79.4h0.8v0.8h-0.8zM25.0 81.0h0.8v0.8h-0.8zM30.1 73.8h0.8v0.8h-0.8zM23.9 63.9h0.8v0.8h-0.8zM27.9 77.1h0.8v0.8h-0.8zM29.1 79.6h0.8v0.8h-0.8zM27.1 62.2h0.8v0.8h-0.8zM28.7 58.5h0.8v0.8h-0.8zM29.4 67.7h0.8v0.8h-0.8zM23.3 51.2h0.8v0.8h-0.8zM36.0 78.2h0.8v0.8h-0.8zM28.5 77.0h0.8v0.8h-0.8zM35.3 77.4h0.8v0.8h-0.8zM23.0 77.7h0.8v0.8h-0.8zM13.2 75.3h0.8v0.8h-0.8zM11.7 72.3h0.8v0.8h-0.8zM23.2 73.5h0.8v0.8h-0.8zM30.0 76.6h0.8v0.8h-0.8zM30.7 69.4h0.8v0.8h-0.8zM32.8 76.3h0.8v0.8h-0.8zM44.6 70.9h0.8v0.8h-0.8zM34.8 77.1h0.8v0.8h-0.8zM30.8 74.0h0.8v0.8h-0.8zM25.0 76.1h0.8v0.8h-0.8zM16.3 76.4h0.8v0.8h-0.8zM20.1 75.1h0.8v0.8h-0.8zM29.0 78.9h0.8v0.8h-0.8zM32.9 72.7h0.8v0.8h-0.8zM25.6 78.3h0.8v0.8h-0.8zM27.1 75.5h0.8v0.8h-0.8zM28.3 76.2h0.8v0.8h-0.8zM32.7 52.6h0.8v0.8h-0.8zM29.9 66.9h0.8v0.8h-0.8zM12.8 77.1h0.8v0.8h-0.8zM15.0 70.7h0.8v0.8h-0.8zM16.6 70.4h0.8v0.8h-0.8zM23.1 76.3h0.8v0.8h-0.8zM35.8 67.1h0.8v0.8h-0.8zM29.8 76.7h0.8v0.8h-0.8zM24.8 71.1h0.8v0.8h-0.8zM22.5 79.1h0.8v0.8h-0.8zM27.7 33.3h0.8v0.8h-0.8zM30.1 78.8h0.8v0.8h-0.8zM32.0 74.3h0.8v0.8h-0.8zM23.9 78.7h0.8v0.8h-0.8zM28.6 78.6h0.8v0.8h-0.8zM39.1 79.1h0.8v0.8h-0.8zM58.8 76.1h0.8v0.8h-0.8zM26.9 70.1h0.8v0.8h-0.8zM33.0 61.1h0.8v0.8h-0.8zM24.2 74.7h0.8v0.8h-0.8zM24.5 80.0h0.8v0.8h-0.8zM29.9 68.1h0.8v0.8h-0.8zM27.7 67.8h0.8v0.8h-0.8zM41.7 74.6h0.8v0.8h-0.8zM11.5 79.5h0.8v0.8h-0.8zM22.6 74.3h0.8v0.8h-0.8zM29.3 55.6h0.8v0.8h-0.8zM19.1 71.2h0.8v0.8h-0.8zM34.5 74.2h0.8v0.8h-0.8zM31.0 64.1h0.8v0.8h-0.8zM35.8 62.8h0.8v0.8h-0.8zM30.9 77.6h0.8v0.8h-0.8zM22.2 78.2h0.8v0.8h-0.8zM30.5 77.7h0.8v0.8h-0.8zM33.1 72.4h0.8v0.8h-0.8zM25.4 68.9h0.8v0.8h-0.8zM28.9 56.0h0.8v0.8h-0.8zM33.0 79.0h0.8v0.8h-0.8zM28.3 78.1h0.8v0.8h-0.8zM25.7 68.4h0.8v0.8h-0.8zM29.1 78.4h0.8v0.8h-0.8zM19.5 73.7h0.8v0.8h-0.8zM30.7 79.7h0.8v0.8h-0.8zM24.6 3.8h0.8v0.8h-0.8zM15.6 76.2h0.8v0.8h-0.8zM42.0 69.6h0.8v0.8h-0.8zM34.7 68.4h0.8v0.8h-0.8zM29.3 76.4h0.8v0.8h-0.8zM23.8 73.6h0.8v0.8h-0.8zM29.7 78.6h0.8v0.8h-0.8zM28.4 58.1h0.8v0.8h-0.8zM44.7 75.1h0.8v0.8h-0.8zM18.2 72.3h0.8v0.8h-0.8zM28.5 75.5h0.8v0.8h-0.8zM26.3 79.5h0.8v0.8h-0.8zM31.3 59.8h0.8v0.8h-0.8zM20.5 75.1h0.8v0.8h-0.8zM21.9 78.8h0.8v0.8h-0.8zM24.9 77.7h0.8v0.8h-0.8zM28.2 79.4h0.8v0.8h-0.8zM10.3 79.0h0.8v0.8h-0.8zM15.2 78.9h0.8v0.8h-0.8zM31.4 64.0h0.8v0.8h-0.8zM26.2 73.7h0.8v0.8h-0.8zM19.5 74.8h0.8v0.8h-0.8zM38.3 71.2h0.8v0.8h-0.8zM40.7 78.9h0.8v0.8h-0.8zM28.5 60.2h0.8v0.8h-0.8zM23.3 77.9h0.8v0.8h-0.8zM28.7 75.3h0.8v0.8h-0.8zM24.1 79.0h0.8v0.8h-0.8zM39.6 74.3h0.8v0.8h-0.8zM22.3 77.4h0.8v0.8h-0.8zM45.6 79.2h0.8v0.8h-0.8zM27.3 76.4h0.8v0.8h-0.8zM29.0 70.8h0.8v0.8h-0.8zM38.2 71.7h0.8v0.8h-0.8zM18.6 76.4h0.8v0.8h-0.8zM28.0 62.5h0.8v0.8h-0.8zM26.6 43.8h0.8v0.8h-0.8zM34.9 78.7h0.8v0.8h-0.8zM26.1 69.6h0.8v0.8h-0.8zM27.9 52.9h0.8v0.8h-0.8zM31.8 78.5h0.8v0.8h-0.8zM27.5 47.4h0.8v0.8h-0.8zM36.0 66.9h0.8v0.8h-0.8zM38.3 70.3h0.8v0.8h-0.8zM25.0 79.9h0.8v0.8h-0.8zM4.0 75.6h0.8v0.8h-0.8zM32.7 75.1h0.8v0.8h-0.8zM22.4 78.8h0.8v0.8h-0.8zM34.1 78.0h0.8v0.8h-0.8zM26.5 40.2h0.8v0.8h-0.8zM24.3 76.1h0.8v0.8h-0.8zM34.5 75.5h0.8v0.8h-0.8zM31.1 77.1h0.8v0.8h-0.8zM26.6 72.7h0.8v0.8h-0.8zM35.1 74.5h0.8v0.8h-0.8zM27.0 58.0h0.8v0.8h-0.8zM18.2 75.7h0.8v0.8h-0.8zM14.6 76.6h0.8v0.8h-0.8zM31.8 75.8h0.8v0.8h-0.8zM17.1 72.9h0.8v0.8h-0.8zM28.2 70.6h0.8v0.8h-0.8zM39.4 70.9h0.8v0.8h-0.8zM31.2 63.8h0.8v0.8h-0.8zM30.0 65.3h0.8v0.8h-0.8zM30.9 64.5h0.8v0.8h-0.8zM26.3 78.1h0.8v0.8h-0.8zM25.1 81.3h0.8v0.8h-0.8zM35.9 75.7h0.8v0.8h-0.8zM30.4 64.7h0.8v0.8h-0.8zM24.0 74.7h0.8v0.8h-0.8zM26.0 77.4h0.8v0.8h-0.8zM21.5 79.5h0.8v0.8h-0.8zM32.9 76.8h0.8v0.8h-0.8zM40.3 77.9h0.8v0.8h-0.8zM10.6 78.6h0.8v0.8h-0.8zM28.4 73.0h0.8v0.8h-0.8zM25.6 73.6h0.8v0.8h-0.8zM34.7 76.3h0.8v0.8h-0.8zM26.7 75.7h0.8v0.8h-0.8zM26.3 74.8h0.8v0.8h-0.8zM28.3 79.5h0.8v0.8h-0.8zM40.5 75.4h0.8v0.8h-0.8zM42.2 77.6h0.8v0.8h-0.8zM30.5 57.7h0.8v0.8h-0.8zM32.7 52.7h0.8v0.8h-0.8zM24.7 71.6h0.8v0.8h-0.8zM25.4 60.1h0.8v0.8h-0.8zM35.0 70.9h0.8v0.8h-0.8zM28.9 72.2h0.8v0.8h-0.8zM32.7 75.2h0.8v0.8h-0.8zM34.3 73.3h0.8v0.8h-0.8zM25.0 77.4h0.8v0.8h-0.8zM30.6 43.8h0.8v0.8h-0.8zM31.2 76.8h0.8v0.8h-0.8zM28.1 72.3h0.8v0.8h-0.8zM36.7 74.1h0.8v0.8h-0.8zM31.9 75.4h0.8v0.8h-0.8zM36.9 76.2h0.8v0.8h-0.8zM35.4 76.7h0.8v0.8h-0.8zM21.5 73.3h0.8v0.8h-0.8zM26.0 70.2h0.8v0.8h-0.8zM35.4 53.3h0.8v0.8h-0.8zM30.8 69.7h0.8v0.8h-0.8zM45.8 73.7h0.8v0.8h-0.8zM43.1 79.1h0.8v0.8h-0.8zM24.3 79.4h0.8v0.8h-0.8zM29.2 32.1h0.8v0.8h-0.8zM36.0 74.5h0.8v0.8h-0.8zM33.9 70.6h0.8v0.8h-0.8zM21.9 79.6h0.8v0.8h-0.8zM25.9 60.6h0.8v0.8h-0.8zM27.9 63.3h0.8v0.8h-0.8zM18.6 69.6h0.8v0.8h-0.8zM21.5 71.3h0.8v0.8h-0.8zM27.7 77.9h0.8v0.8h-0.8zM49.4 76.0h0.8v0.8h-0.8zM15.9 77.2h0.8v0.8h-0.8zM16.4 69.9h0.8v0.8h-0.8zM33.4 65.8h0.8v0.8h-0.8zM35.1 71.0h0.8v0.8h-0.8zM28.2 79.5h0.8v0.8h-0.8zM15.3 76.4h0.8v0.8h-0.8zM32.4 75.9h0.8v0.8h-0.8zM27.6 72.5h0.8v0.8h-0.8zM11.6 72.2h0.8v0.8h-0.8zM32.6 69.7h0.8v0.8h-0.8zM22.1 73.1h0.8v0.8h-0.8zM42.3 78.3h0.8v0.8h-0.8zM35.4 79.7h0.8v0.8h-0.8zM27.5 79.3h0.8v0.8h-0.8zM32.7 78.3h0.8v0.8h-0.8zM22.4 76.3h0.8v0.8h-0.8zM31.9 79.3h0.8v0.8h-0.8zM26.2 78.1h0.8v0.8h-0.8zM34.1 62.3h0.8v0.8h-0.8zM25.3 76.6h0.8v0.8h-0.8zM15.5 78.8h0.8v0.8h-0.8zM31.0 79.2h0.8v0.8h-0.8zM26.0 34.6h0.8v0.8h-0.8zM30.4 71.6h0.8v0.8h-0.8zM23.0 74.6h0.8v0.8h-0.8zM38.2 74.2h0.8v0.8h-0.8zM24.8 78.0h0.8v0.8h-0.8zM5.1 78.9h0.8v0.8h-0.8zM38.3 79.0h0.8v0.8h-0.8zM29.4 77.7h0.8v0.8h-0.8zM26.4 79.6h0.8v0.8h-0.8zM35.8 77.0h0.8v0.8h-0.8zM29.1 77.5h0.8v0.8h-0.8zM23.4 76.9h0.8v0.8h-0.8zM21.8 72.8h0.8v0.8h-0.8zM31.5 78.4h0.8v0.8h-0.8zM33.2 75.2h0.8v0.8h-0.8zM25.6 72.0h0.8v0.8h-0.8zM38.1 78.6h0.8v0.8h-0.8zM27.9 74.0h0.8v0.8h-0.8zM28.2 72.7h0.8v0.8h-0.8zM26.3 76.5h0.8v0.8h-0.8zM9.4 71.9h0.8v0.8h-0.8zM44.4 71.6h0.8v0.8h-0.8zM23.7 71.2h0.8v0.8h-0.8zM35.2 74.7h0.8v0.8h-0.8zM27.5 44.0h0.8v0.8h-0.8zM23.5 43.3h0.8v0.8h-0.8zM41.7 78.4h0.8v0.8h-0.8zM29.4 26.3h0.8v0.8h-0.8zM29.1 58.7h0.8v0.8h-0.8zM43.2 78.7h0.8v0.8h-0.8zM19.0 79.1h0.8v0.8h-0.8zM14.6 79.7h0.8v0.8h-0.8zM25.5 76.5h0.8v0.8h-0.8zM18.5 67.4h0.8v0.8h-0.8zM27.5 77.0h0.8v0.8h-0.8zM33.5 76.3h0.8v0.8h-0.8zM26.1 73.0h0.8v0.8h-0.8zM37.2 76.1h0.8v0.8h-0.8zM47.5 68.1h0.8v0.8h-0.8zM23.8 75.9h0.8v0.8h-0.8zM33.4 78.4h0.8v0.8h-0.8zM37.4 78.2h0.8v0.8h-0.8zM28.9 70.7h0.8v0.8h-0.8zM28.9 70.3h0.8v0.8h-0.8zM30.9 51.4h0.8v0.8h-0.8zM33.1 79.5h0.8v0.8h-0.8zM45.1 72.8h0.8v0.8h-0.8zM31.1 76.0h0.8v0.8h-0.8zM26.3 77.7h0.8v0.8h-0.8zM35.6 60.0h0.8v0.8h-0.8zM23.8 73.0h0.8v0.8h-0.8zM29.7 65.5h0.8v0.8h-0.8zM34.0 70.1h0.8v0.8h-0.8zM30.2 76.4h0.8v0.8h-0.8zM26.2 42.4h0.8v0.8h-0.8zM32.0 53.3h0.8v0.8h-0.8zM32.7 78.7h0.8v0.8h-0.8zM34.9 74.1h0.8v0.8h-0.8zM27.7 75.4h0.8v0.8h-0.8zM43.3 77.1h0.8v0.8h-0.8zM31.4 40.1h0.8v0.8h-0.8zM26.7 73.0h0.8v0.8h-0.8zM24.4 79.0h0.8v0.8h-0.8zM18.6 71.5h0.8v0.8h-0.8zM34.1 75.3h0.8v0.8h-0.8zM36.9 74.1h0.8v0.8h-0.8zM29.5 57.3h0.8v0.8h-0.8zM23.3 77.4h0.8v0.8h-0.8zM23.3 71.0h0.8v0.8h-0.8zM24.6 71.1h0.8v0.8h-0.8zM27.4 56.2h0.8v0.8h-0.8zM30.4 61.2h0.8v0.8h-0.8zM26.8 68.0h0.8v0.8h-0.8zM27.3 49.0h0.8v0.8h-0.8zM27.4 68.2h0.8v0.8h-0.8zM44.9 71.7h0.8v0.8h-0.8zM32.0 78.0h0.8v0.8h-0.8zM26.2 78.6h0.8v0.8h-0.8zM31.1 76.0h0.8v0.8h-0.8zM30.8 72.7h0.8v0.8h-0.8zM37.9 77.4h0.8v0.8h-0.8zM41.0 75.5h0.8v0.8h-0.8zM23.7 75.5h0.8v0.8h-0.8zM29.1 79.6h0.8v0.8h-0.8zM21.8 75.7h0.8v0.8h-0.8zM23.9 80.5h0.8v0.8h-0.8zM28.4 71.8h0.8v0.8h-0.8zM29.4 64.6h0.8v0.8h-0.8zM35.2 73.9h0.8v0.8h-0.8zM27.3 60.8h0.8v0.8h-0.8zM49.4 77.0h0.8v0.8h-0.8zM34.2 74.3h0.8v0.8h-0.8zM27.3 75.8h0.8v0.8h-0.8zM35.3 74.8h0.8v0.8h-0.8zM52.9 78.4h0.8v0.8h-0.8zM51.5 74.4h0.8v0.8h-0.8zM27.0 53.8h0.8v0.8h-0.8zM22.4 71.7h0.8v0.8h-0.8zM32.2 75.0h0.8v0.8h-0.8zM31.8 74.6h0.8v0.8h-0.8zM27.3 63.1h0.8v0.8h-0.8zM40.9 78.2h0.8v0.8h-0.8zM14.2 75.4h0.8v0.8h-0.8zM29.8 80.0h0.8v0.8h-0.8zM23.3 65.9h0.8v0.8h-0.8zM17.7 67.8h0.8v0.8h-0.8zM23.5 73.6h0.8v0.8h-0.8zM36.4 79.5h0.8v0.8h-0.8zM39.5 74.8h0.8v0.8h-0.8zM29.6 39.0h0.8v0.8h-0.8zM29.8 79.5h0.8v0.8h-0.8zM27.0 78.6h0.8v0.8h-0.8zM29.3 70.1h0.8v0.8h-0.8zM31.2 39.3h0.8v0.8h-0.8zM28.8 71.2h0.8v0.8h-0.8zM42.1 72.8h0.8v0.8h-0.8zM25.3 65.8h0.8v0.8h-0.8zM35.5 66.8h0.8v0.8h-0.8zM35.5 78.3h0.8v0.8h-0.8zM29.8 64.5h0.8v0.8h-0.8zM35.1 79.1h0.8v0.8h-0.8zM28.5 61.8h0.8v0.8h-0.8zM29.3 65.8h0.8v0.8h-0.8zM18.2 75.8h0.8v0.8h-0.8zM33.2 71.6h0.8v0.8h-0.8zM31.8 78.1h0.8v0.8h-0.8zM27.4 67.3h0.8v0.8h-0.8zM31.4 75.5h0.8v0.8h-0.8zM35.7 65.0h0.8v0.8h-0.8zM25.2 72.8h0.8v0.8h-0.8zM31.5 78.7h0.8v0.8h-0.8zM33.7 78.8h0.8v0.8h-0.8zM39.2 74.3h0.8v0.8h-0.8zM44.5 74.8h0.8v0.8h-0.8zM24.7 79.0h0.8v0.8h-0.8zM29.0 72.9h0.8v0.8h-0.8zM5.3 72.1h0.8v0.8h-0.8zM35.3 67.9h0.8v0.8h-0.8zM24.5 65.2h0.8v0.8h-0.8zM31.1 65.7h0.8v0.8h-0.8zM15.8 79.4h0.8v0.8h-0.8zM29.7 77.6h0.8v0.8h-0.8zM19.8 74.0h0.8v0.8h-0.8zM28.1 13.8h0.8v0.8h-0.8zM34.0 73.8h0.8v0.8h-0.8zM25.7 49.7h0.8v0.8h-0.8zM28.7 74.3h0.8v0.8h-0.8zM18.8 78.2h0.8v0.8h-0.8zM31.0 66.3h0.8v0.8h-0.8zM39.8 78.2h0.8v0.8h-0.8zM25.1 79.3h0.8v0.8h-0.8zM26.5 76.9h0.8v0.8h-0.8zM27.3 70.3h0.8v0.8h-0.8zM23.9 79.5h0.8v0.8h-0.8zM34.0 71.4h0.8v0.8h-0.8zM31.5 70.9h0.8v0.8h-0.8zM33.5 70.5h0.8v0.8h-0.8zM38.0 71.3h0.8v0.8h-0.8zM28.1 76.5h0.8v0.8h-0.8zM24.4 76.7h0.8v0.8h-0.8zM48.6 67.0h0.8v0.8h-0.8zM30.6 57.2h0.8v0.8h-0.8zM20.5 77.7h0.8v0.8h-0.8zM13.6 78.0h0.8v0.8h-0.8zM28.4 73.7h0.8v0.8h-0.8zM30.0 74.3h0.8v0.8h-0.8zM20.4 59.8h0.8v0.8h-0.8zM38.7 77.7h0.8v0.8h-0.8zM29.1 77.1h0.8v0.8h-0.8zM33.2 76.7h0.8v0.8h-0.8zM43.0 75.7h0.8v0.8h-0.8zM32.5 76.2h0.8v0.8h-0.8zM29.1 74.6h0.8v0.8h-0.8zM30.1 78.7h0.8v0.8h-0.8zM41.0 76.2h0.8v0.8h-0.8zM24.9 70.4h0.8v0.8h-0.8zM22.0 64.5h0.8v0.8h-0.8zM23.5 78.3h0.8v0.8h-0.8zM27.9 64.6h0.8v0.8h-0.8zM30.8 80.2h0.8v0.8h-0.8zM21.1 77.3h0.8v0.8h-0.8zM33.6 73.7h0.8v0.8h-0.8zM27.7 78.3h0.8v0.8h-0.8zM27.7 74.1h0.8v0.8h-0.8zM26.3 72.2h0.8v0.8h-0.8zM21.2 79.2h0.8v0.8h-0.8zM27.3 78.1h0.8v0.8h-0.8zM31.8 79.1h0.8v0.8h-0.8zM27.2 75.7h0.8v0.8h-0.8zM27.9 57.7h0.8v0.8h-0.8zM31.6 36.3h0.8v0.8h-0.8zM27.7 77.8h0.8v0.8h-0.8zM28.4 72.8h0.8v0.8h-0.8zM31.0 78.7h0.8v0.8h-0.8zM25.0 60.3h0.8v0.8h-0.8zM18.4 73.5h0.8v0.8h-0.8zM25.0 71.7h0.8v0.8h-0.8zM26.5 79.5h0.8v0.8h-0.8zM27.8 78.1h0.8v0.8h-0.8zM33.8 71.5h0.8v0.8h-0.8zM29.9 66.9h0.8v0.8h-0.8z" fill="#2a2cf0" opacity="0.85"/><path d="M29.6 77.7h0.8v0.8h-0.8zM24.0 66.1h0.8v0.8h-0.8zM32.5 70.4h0.8v0.8h-0.8zM27.4 69.5h0.8v0.8h-0.8zM29.1 79.7h0.8v0.8h-0.8zM29.9 67.2h0.8v0.8h-0.8zM27.1 76.6h0.8v0.8h-0.8zM15.2 75.8h0.8v0.8h-0.8zM23.3 74.1h0.8v0.8h-0.8zM31.2 75.2h0.8v0.8h-0.8zM28.8 61.2h0.8v0.8h-0.8zM21.3 66.9h0.8v0.8h-0.8zM31.1 80.3h0.8v0.8h-0.8zM11.1 77.9h0.8v0.8h-0.8zM25.5 67.0h0.8v0.8h-0.8zM32.1 63.8h0.8v0.8h-0.8zM30.3 76.6h0.8v0.8h-0.8zM21.3 78.0h0.8v0.8h-0.8zM39.0 73.1h0.8v0.8h-0.8zM27.1 78.6h0.8v0.8h-0.8zM36.4 72.6h0.8v0.8h-0.8zM30.3 38.0h0.8v0.8h-0.8zM28.2 73.1h0.8v0.8h-0.8zM24.9 55.9h0.8v0.8h-0.8zM32.1 65.6h0.8v0.8h-0.8zM47.5 72.3h0.8v0.8h-0.8zM26.1 70.1h0.8v0.8h-0.8zM44.2 78.2h0.8v0.8h-0.8zM36.3 71.9h0.8v0.8h-0.8zM46.3 79.4h0.8v0.8h-0.8zM62.0 75.1h0.8v0.8h-0.8zM42.3 72.5h0.8v0.8h-0.8zM25.7 63.4h0.8v0.8h-0.8zM22.0 76.7h0.8v0.8h-0.8zM12.5 71.5h0.8v0.8h-0.8zM28.1 60.5h0.8v0.8h-0.8zM28.3 78.4h0.8v0.8h-0.8zM31.0 75.6h0.8v0.8h-0.8zM27.7 67.3h0.8v0.8h-0.8zM26.4 39.3h0.8v0.8h-0.8zM10.8 77.9h0.8v0.8h-0.8zM36.1 72.3h0.8v0.8h-0.8zM34.8 71.1h0.8v0.8h-0.8zM32.4 78.4h0.8v0.8h-0.8zM21.1 69.8h0.8v0.8h-0.8zM15.2 79.2h0.8v0.8h-0.8zM23.1 77.6h0.8v0.8h-0.8zM43.7 79.5h0.8v0.8h-0.8zM29.7 79.2h0.8v0.8h-0.8zM34.8 70.4h0.8v0.8h-0.8zM29.7 66.7h0.8v0.8h-0.8zM30.4 53.9h0.8v0.8h-0.8zM7.1 75.4h0.8v0.8h-0.8zM28.9 38.3h0.8v0.8h-0.8zM28.5 66.4h0.8v0.8h-0.8zM25.6 66.2h0.8v0.8h-0.8zM31.1 79.3h0.8v0.8h-0.8zM44.0 78.4h0.8v0.8h-0.8zM27.9 10.1h0.8v0.8h-0.8zM30.1 75.0h0.8v0.8h-0.8zM30.4 50.6h0.8v0.8h-0.8zM31.4 69.3h0.8v0.8h-0.8zM28.9 75.2h0.8v0.8h-0.8zM24.0 81.5h0.8v0.8h-0.8zM11.8 79.4h0.8v0.8h-0.8zM27.6 71.0h0.8v0.8h-0.8zM22.1 77.4h0.8v0.8h-0.8zM32.0 69.3h0.8v0.8h-0.8zM31.6 73.1h0.8v0.8h-0.8zM21.2 74.8h0.8v0.8h-0.8zM23.6 76.8h0.8v0.8h-0.8zM40.2 72.6h0.8v0.8h-0.8zM27.0 41.2h0.8v0.8h-0.8zM41.2 68.2h0.8v0.8h-0.8zM31.3 78.6h0.8v0.8h-0.8zM35.2 72.4h0.8v0.8h-0.8zM40.0 73.8h0.8v0.8h-0.8zM26.3 52.5h0.8v0.8h-0.8zM23.3 78.9h0.8v0.8h-0.8zM29.9 73.7h0.8v0.8h-0.8zM35.4 77.1h0.8v0.8h-0.8zM33.2 72.1h0.8v0.8h-0.8zM31.4 69.7h0.8v0.8h-0.8zM29.5 63.2h0.8v0.8h-0.8zM23.0 78.2h0.8v0.8h-0.8zM29.7 59.6h0.8v0.8h-0.8zM29.4 76.8h0.8v0.8h-0.8zM30.1 71.2h0.8v0.8h-0.8zM52.7 78.7h0.8v0.8h-0.8zM27.3 66.8h0.8v0.8h-0.8zM39.1 75.6h0.8v0.8h-0.8zM29.6 77.6h0.8v0.8h-0.8zM28.5 55.6h0.8v0.8h-0.8zM34.9 75.8h0.8v0.8h-0.8zM22.1 77.3h0.8v0.8h-0.8zM25.1 56.3h0.8v0.8h-0.8zM26.8 71.9h0.8v0.8h-0.8zM33.2 74.1h0.8v0.8h-0.8zM22.3 76.9h0.8v0.8h-0.8zM28.1 60.6h0.8v0.8h-0.8zM30.1 62.5h0.8v0.8h-0.8zM41.6 76.9h0.8v0.8h-0.8zM20.5 74.1h0.8v0.8h-0.8zM28.0 50.8h0.8v0.8h-0.8zM26.7 74.0h0.8v0.8h-0.8zM27.5 64.5h0.8v0.8h-0.8zM23.5 74.3h0.8v0.8h-0.8zM25.8 79.4h0.8v0.8h-0.8zM30.0 65.3h0.8v0.8h-0.8zM20.4 71.2h0.8v0.8h-0.8zM28.7 74.5h0.8v0.8h-0.8zM27.4 10.7h0.8v0.8h-0.8zM32.7 70.1h0.8v0.8h-0.8zM50.5 73.1h0.8v0.8h-0.8zM32.6 72.4h0.8v0.8h-0.8zM22.4 69.1h0.8v0.8h-0.8zM37.9 79.5h0.8v0.8h-0.8zM17.4 79.3h0.8v0.8h-0.8zM18.1 73.0h0.8v0.8h-0.8zM23.6 75.7h0.8v0.8h-0.8zM24.6 50.8h0.8v0.8h-0.8zM36.6 71.9h0.8v0.8h-0.8zM30.1 73.2h0.8v0.8h-0.8zM15.2 75.8h0.8v0.8h-0.8zM39.8 71.4h0.8v0.8h-0.8zM29.7 71.6h0.8v0.8h-0.8zM27.1 77.5h0.8v0.8h-0.8zM29.3 77.5h0.8v0.8h-0.8zM23.3 75.2h0.8v0.8h-0.8zM44.8 74.5h0.8v0.8h-0.8zM22.3 69.5h0.8v0.8h-0.8zM15.4 74.0h0.8v0.8h-0.8zM13.7 77.7h0.8v0.8h-0.8zM47.3 69.9h0.8v0.8h-0.8zM31.5 64.8h0.8v0.8h-0.8zM19.4 72.7h0.8v0.8h-0.8zM27.3 74.2h0.8v0.8h-0.8zM27.5 74.0h0.8v0.8h-0.8zM31.9 72.7h0.8v0.8h-0.8zM29.5 41.0h0.8v0.8h-0.8zM29.0 62.5h0.8v0.8h-0.8zM31.8 77.4h0.8v0.8h-0.8zM30.0 50.9h0.8v0.8h-0.8zM21.8 73.3h0.8v0.8h-0.8zM29.6 76.9h0.8v0.8h-0.8zM31.6 73.1h0.8v0.8h-0.8zM48.7 77.5h0.8v0.8h-0.8zM33.3 77.9h0.8v0.8h-0.8zM23.9 38.1h0.8v0.8h-0.8zM29.1 65.5h0.8v0.8h-0.8zM18.4 75.4h0.8v0.8h-0.8zM18.3 72.8h0.8v0.8h-0.8zM28.0 76.3h0.8v0.8h-0.8zM27.6 67.2h0.8v0.8h-0.8zM37.3 69.4h0.8v0.8h-0.8zM25.2 81.6h0.8v0.8h-0.8zM25.9 73.8h0.8v0.8h-0.8zM30.5 72.2h0.8v0.8h-0.8zM33.8 75.3h0.8v0.8h-0.8zM34.2 71.5h0.8v0.8h-0.8zM33.0 77.2h0.8v0.8h-0.8zM29.9 79.8h0.8v0.8h-0.8zM33.7 78.5h0.8v0.8h-0.8zM17.3 73.6h0.8v0.8h-0.8zM24.8 77.7h0.8v0.8h-0.8zM39.8 77.7h0.8v0.8h-0.8zM19.7 75.8h0.8v0.8h-0.8zM7.8 78.9h0.8v0.8h-0.8zM20.7 74.4h0.8v0.8h-0.8zM31.4 63.6h0.8v0.8h-0.8zM29.3 71.9h0.8v0.8h-0.8zM30.1 77.4h0.8v0.8h-0.8zM40.7 73.9h0.8v0.8h-0.8zM25.3 58.4h0.8v0.8h-0.8zM30.5 74.0h0.8v0.8h-0.8zM26.2 28.1h0.8v0.8h-0.8zM29.5 30.1h0.8v0.8h-0.8zM17.9 79.1h0.8v0.8h-0.8zM13.6 74.7h0.8v0.8h-0.8zM33.7 76.1h0.8v0.8h-0.8zM35.5 76.9h0.8v0.8h-0.8zM25.5 77.8h0.8v0.8h-0.8zM27.2 76.1h0.8v0.8h-0.8zM29.0 55.1h0.8v0.8h-0.8zM28.8 75.0h0.8v0.8h-0.8zM32.3 74.8h0.8v0.8h-0.8zM40.0 79.0h0.8v0.8h-0.8zM24.7 75.9h0.8v0.8h-0.8zM29.9 78.8h0.8v0.8h-0.8zM26.7 63.1h0.8v0.8h-0.8zM29.1 67.6h0.8v0.8h-0.8zM25.0 77.6h0.8v0.8h-0.8zM25.7 69.7h0.8v0.8h-0.8zM13.7 79.5h0.8v0.8h-0.8zM22.3 73.3h0.8v0.8h-0.8zM28.5 67.4h0.8v0.8h-0.8zM27.0 79.6h0.8v0.8h-0.8zM20.1 76.5h0.8v0.8h-0.8zM28.1 71.2h0.8v0.8h-0.8zM42.2 71.5h0.8v0.8h-0.8zM24.6 45.9h0.8v0.8h-0.8zM32.4 66.4h0.8v0.8h-0.8zM24.3 79.4h0.8v0.8h-0.8zM30.6 77.7h0.8v0.8h-0.8zM16.7 74.2h0.8v0.8h-0.8zM23.5 78.5h0.8v0.8h-0.8zM26.2 61.6h0.8v0.8h-0.8zM33.1 76.3h0.8v0.8h-0.8zM13.4 72.1h0.8v0.8h-0.8zM29.5 79.5h0.8v0.8h-0.8zM26.7 56.6h0.8v0.8h-0.8zM28.7 63.8h0.8v0.8h-0.8zM30.6 77.1h0.8v0.8h-0.8zM31.8 80.7h0.8v0.8h-0.8z" fill="#6a78ff" opacity="0.85"/><g filter="url(#fbl2)" fill="#2c34f4"><ellipse cx="29.4" cy="77.7" rx="15.2" ry="4.2" opacity="0.9"/><ellipse cx="28.8" cy="66.7" rx="6.5" ry="15.8" opacity="0.85"/><ellipse cx="28.3" cy="73.0" rx="10.0" ry="7.9" opacity="0.8"/></g><ellipse cx="27.8" cy="69.8" rx="3.6" ry="6.8" fill="url(#fc)" opacity="0.75" filter="url(#fbl)"/><g filter="url(#fbl)"><ellipse cx="27.1" cy="76.7" rx="13.1" ry="7.0" fill="url(#fb)"/><ellipse cx="25.7" cy="77.0" rx="11.0" ry="6.2" fill="url(#fc)" transform="rotate(-14 24.1 78.2)"/><ellipse cx="24.9" cy="77.7" rx="7.8" ry="4.0" fill="url(#fg)" transform="rotate(-14 24.1 78.2)"/><ellipse cx="24.1" cy="78.2" rx="4.8" ry="2.2" fill="url(#fy)" transform="rotate(-14 24.1 78.2)"/></g><path d="M0 0V98.2H94.8" fill="none" stroke="#6a6a72" stroke-width="0.8"/><text x="-3.2" y="4.0" font-size="4.6" font-weight="bold" fill="#223" text-anchor="end">500</text><text x="-3.2" y="22.8" font-size="4.6" font-weight="bold" fill="#223" text-anchor="end">400</text><text x="-3.2" y="41.5" font-size="4.6" font-weight="bold" fill="#223" text-anchor="end">300</text><text x="-3.2" y="60.2" font-size="4.6" font-weight="bold" fill="#223" text-anchor="end">200</text><text x="-3.2" y="79.0" font-size="4.6" font-weight="bold" fill="#223" text-anchor="end">100</text><text x="-3.2" y="97.8" font-size="4.6" font-weight="bold" fill="#223" text-anchor="end">0</text><text x="6.2" y="106.8" font-size="4.6" font-weight="bold" fill="#223" text-anchor="middle">10<tspan dy="-2" font-size="3.6">0</tspan></text><text x="27.6" y="106.8" font-size="4.6" font-weight="bold" fill="#223" text-anchor="middle">10<tspan dy="-2" font-size="3.6">1</tspan></text><text x="49.1" y="106.8" font-size="4.6" font-weight="bold" fill="#223" text-anchor="middle">10<tspan dy="-2" font-size="3.6">2</tspan></text><text x="70.5" y="106.8" font-size="4.6" font-weight="bold" fill="#223" text-anchor="middle">10<tspan dy="-2" font-size="3.6">3</tspan></text><text x="92.0" y="106.8" font-size="4.6" font-weight="bold" fill="#223" text-anchor="middle">10<tspan dy="-2" font-size="3.6">4</tspan></text><path d="M-2 2.4H0M-2 21.1H0M-2 39.9H0M-2 58.6H0M-2 77.4H0M-2 96.2H0M6.8 98.2v2.2M13.2 98.2v1.2M17.1 98.2v1.2M19.7 98.2v1.2M21.8 98.2v1.2M23.5 98.2v1.2M25.0 98.2v1.2M26.1 98.2v1.2M27.2 98.2v1.2M28.2 98.2v2.2M34.7 98.2v1.2M38.5 98.2v1.2M41.1 98.2v1.2M43.3 98.2v1.2M45.0 98.2v1.2M46.5 98.2v1.2M47.6 98.2v1.2M48.6 98.2v1.2M49.7 98.2v2.2M56.1 98.2v1.2M60.0 98.2v1.2M62.6 98.2v1.2M64.7 98.2v1.2M66.4 98.2v1.2M67.9 98.2v1.2M69.0 98.2v1.2M70.1 98.2v1.2M71.1 98.2v2.2M77.6 98.2v1.2M81.4 98.2v1.2M84.0 98.2v1.2M86.2 98.2v1.2M87.9 98.2v1.2M89.4 98.2v1.2M90.5 98.2v1.2M91.5 98.2v1.2M92.6 98.2v2.2" stroke="#556" stroke-width="0.5" fill="none"/></g>
<text x="285.7" y="928.5" font-size="15.3" text-anchor="middle">23.4<tspan font-size="18" dx="2" dy="0.6">±</tspan><tspan dx="2" dy="-0.6">5.2</tspan></text>
<g transform="translate(344.6 913.8)"><rect x="0" y="0" width="94.2" height="98.2" fill="#fff" stroke="#c4c4c8" stroke-width="0.7"/><path d="M23.1 98.2L42.4 19.6L94.2 13.7" fill="none" stroke="#d6d6da" stroke-width="0.6"/><path d="M25.6 43.9h0.8v0.8h-0.8zM31.5 72.6h0.8v0.8h-0.8zM53.6 71.4h0.8v0.8h-0.8zM15.3 72.2h0.8v0.8h-0.8zM28.2 51.3h0.8v0.8h-0.8zM26.4 70.5h0.8v0.8h-0.8zM26.1 76.1h0.8v0.8h-0.8zM22.5 77.3h0.8v0.8h-0.8zM28.9 78.0h0.8v0.8h-0.8zM26.2 75.2h0.8v0.8h-0.8zM24.3 46.7h0.8v0.8h-0.8zM29.3 79.3h0.8v0.8h-0.8zM25.0 67.6h0.8v0.8h-0.8zM30.2 79.5h0.8v0.8h-0.8zM20.5 68.6h0.8v0.8h-0.8zM26.4 57.3h0.8v0.8h-0.8zM37.8 66.1h0.8v0.8h-0.8zM23.3 78.4h0.8v0.8h-0.8zM23.2 58.7h0.8v0.8h-0.8zM26.2 66.3h0.8v0.8h-0.8zM26.9 70.2h0.8v0.8h-0.8zM25.0 74.6h0.8v0.8h-0.8zM25.4 70.2h0.8v0.8h-0.8zM23.7 58.2h0.8v0.8h-0.8zM31.6 70.4h0.8v0.8h-0.8zM25.3 69.4h0.8v0.8h-0.8zM24.6 76.3h0.8v0.8h-0.8zM24.4 77.4h0.8v0.8h-0.8zM35.3 73.5h0.8v0.8h-0.8zM43.0 79.4h0.8v0.8h-0.8zM26.1 46.7h0.8v0.8h-0.8zM32.6 78.9h0.8v0.8h-0.8zM27.0 78.5h0.8v0.8h-0.8zM29.8 72.0h0.8v0.8h-0.8zM21.6 79.1h0.8v0.8h-0.8zM25.9 77.9h0.8v0.8h-0.8zM16.9 71.9h0.8v0.8h-0.8zM26.5 80.0h0.8v0.8h-0.8zM27.8 77.4h0.8v0.8h-0.8zM27.1 72.4h0.8v0.8h-0.8zM28.3 78.1h0.8v0.8h-0.8zM25.1 67.9h0.8v0.8h-0.8zM28.1 72.6h0.8v0.8h-0.8zM27.9 64.3h0.8v0.8h-0.8zM22.5 78.1h0.8v0.8h-0.8zM24.6 77.1h0.8v0.8h-0.8zM30.6 75.6h0.8v0.8h-0.8zM31.6 77.2h0.8v0.8h-0.8zM35.6 75.3h0.8v0.8h-0.8zM28.1 75.3h0.8v0.8h-0.8zM24.5 64.0h0.8v0.8h-0.8zM26.1 31.2h0.8v0.8h-0.8zM23.3 75.0h0.8v0.8h-0.8zM31.9 71.6h0.8v0.8h-0.8zM22.0 75.3h0.8v0.8h-0.8zM30.5 61.1h0.8v0.8h-0.8zM43.8 75.7h0.8v0.8h-0.8zM26.9 73.2h0.8v0.8h-0.8zM33.1 66.1h0.8v0.8h-0.8zM19.3 79.3h0.8v0.8h-0.8zM24.6 75.8h0.8v0.8h-0.8zM21.9 70.4h0.8v0.8h-0.8zM30.2 78.4h0.8v0.8h-0.8zM25.8 78.2h0.8v0.8h-0.8zM14.7 77.6h0.8v0.8h-0.8zM19.7 66.4h0.8v0.8h-0.8zM39.2 75.5h0.8v0.8h-0.8zM24.8 75.5h0.8v0.8h-0.8zM22.2 68.6h0.8v0.8h-0.8zM41.1 76.3h0.8v0.8h-0.8zM28.6 71.0h0.8v0.8h-0.8zM25.0 77.8h0.8v0.8h-0.8zM28.1 42.2h0.8v0.8h-0.8zM29.8 75.5h0.8v0.8h-0.8zM22.7 39.6h0.8v0.8h-0.8zM32.5 69.5h0.8v0.8h-0.8zM42.7 75.2h0.8v0.8h-0.8zM29.5 71.3h0.8v0.8h-0.8zM26.9 73.1h0.8v0.8h-0.8zM34.6 79.7h0.8v0.8h-0.8zM21.1 76.8h0.8v0.8h-0.8zM20.4 77.6h0.8v0.8h-0.8zM29.4 59.9h0.8v0.8h-0.8zM24.8 75.9h0.8v0.8h-0.8zM32.2 66.7h0.8v0.8h-0.8zM23.7 66.7h0.8v0.8h-0.8zM30.3 70.6h0.8v0.8h-0.8zM26.9 47.8h0.8v0.8h-0.8zM35.5 78.4h0.8v0.8h-0.8zM34.4 78.8h0.8v0.8h-0.8zM33.8 77.7h0.8v0.8h-0.8zM32.2 66.1h0.8v0.8h-0.8zM36.4 75.2h0.8v0.8h-0.8zM23.6 79.6h0.8v0.8h-0.8zM40.6 77.1h0.8v0.8h-0.8zM31.8 73.5h0.8v0.8h-0.8zM35.7 76.8h0.8v0.8h-0.8zM16.7 77.9h0.8v0.8h-0.8zM27.2 53.4h0.8v0.8h-0.8zM20.2 78.1h0.8v0.8h-0.8zM27.4 69.3h0.8v0.8h-0.8zM32.7 66.0h0.8v0.8h-0.8zM29.7 75.7h0.8v0.8h-0.8zM35.8 77.5h0.8v0.8h-0.8zM28.4 66.3h0.8v0.8h-0.8zM25.1 70.9h0.8v0.8h-0.8zM35.3 73.4h0.8v0.8h-0.8zM30.0 49.9h0.8v0.8h-0.8zM43.6 78.4h0.8v0.8h-0.8zM30.8 77.9h0.8v0.8h-0.8zM38.7 71.1h0.8v0.8h-0.8zM24.7 38.4h0.8v0.8h-0.8zM23.4 61.9h0.8v0.8h-0.8zM24.3 75.8h0.8v0.8h-0.8zM24.8 64.3h0.8v0.8h-0.8zM25.9 70.3h0.8v0.8h-0.8zM36.8 76.1h0.8v0.8h-0.8zM23.6 62.7h0.8v0.8h-0.8zM28.8 76.0h0.8v0.8h-0.8zM44.0 76.9h0.8v0.8h-0.8zM24.8 78.4h0.8v0.8h-0.8zM19.7 77.6h0.8v0.8h-0.8zM26.3 73.3h0.8v0.8h-0.8zM20.1 77.4h0.8v0.8h-0.8zM30.4 69.7h0.8v0.8h-0.8zM21.2 67.3h0.8v0.8h-0.8zM19.2 76.1h0.8v0.8h-0.8zM26.7 54.9h0.8v0.8h-0.8zM26.1 69.9h0.8v0.8h-0.8zM27.1 71.9h0.8v0.8h-0.8zM26.4 46.3h0.8v0.8h-0.8zM19.0 51.8h0.8v0.8h-0.8zM31.0 78.6h0.8v0.8h-0.8zM27.5 78.4h0.8v0.8h-0.8zM34.1 78.4h0.8v0.8h-0.8zM25.5 70.9h0.8v0.8h-0.8zM24.4 57.3h0.8v0.8h-0.8zM26.5 72.3h0.8v0.8h-0.8zM32.6 77.8h0.8v0.8h-0.8zM22.5 75.6h0.8v0.8h-0.8zM26.5 68.6h0.8v0.8h-0.8zM26.0 75.2h0.8v0.8h-0.8zM30.6 62.7h0.8v0.8h-0.8zM27.2 73.6h0.8v0.8h-0.8zM28.0 77.6h0.8v0.8h-0.8zM22.3 78.0h0.8v0.8h-0.8zM25.3 72.0h0.8v0.8h-0.8zM25.2 75.3h0.8v0.8h-0.8zM26.6 63.6h0.8v0.8h-0.8zM25.4 77.8h0.8v0.8h-0.8zM25.3 75.4h0.8v0.8h-0.8zM24.8 76.7h0.8v0.8h-0.8zM18.8 72.8h0.8v0.8h-0.8zM27.3 62.9h0.8v0.8h-0.8zM36.1 75.1h0.8v0.8h-0.8zM25.9 72.2h0.8v0.8h-0.8zM23.3 75.0h0.8v0.8h-0.8zM24.8 62.6h0.8v0.8h-0.8zM22.7 72.1h0.8v0.8h-0.8zM31.1 68.6h0.8v0.8h-0.8zM26.7 75.3h0.8v0.8h-0.8zM18.7 70.9h0.8v0.8h-0.8zM20.7 66.9h0.8v0.8h-0.8zM18.1 74.5h0.8v0.8h-0.8zM25.8 78.1h0.8v0.8h-0.8zM28.4 79.8h0.8v0.8h-0.8zM37.5 70.6h0.8v0.8h-0.8zM21.2 77.9h0.8v0.8h-0.8zM24.6 35.0h0.8v0.8h-0.8zM19.0 77.4h0.8v0.8h-0.8zM17.5 76.0h0.8v0.8h-0.8zM27.2 53.1h0.8v0.8h-0.8zM29.3 76.6h0.8v0.8h-0.8zM44.8 76.4h0.8v0.8h-0.8zM29.3 76.4h0.8v0.8h-0.8zM35.3 64.9h0.8v0.8h-0.8zM31.9 56.8h0.8v0.8h-0.8zM22.2 76.3h0.8v0.8h-0.8zM29.1 73.0h0.8v0.8h-0.8zM19.0 78.7h0.8v0.8h-0.8zM35.7 73.5h0.8v0.8h-0.8zM22.3 76.3h0.8v0.8h-0.8zM44.5 72.8h0.8v0.8h-0.8zM33.2 71.3h0.8v0.8h-0.8zM23.0 76.1h0.8v0.8h-0.8zM35.3 76.7h0.8v0.8h-0.8zM29.0 80.0h0.8v0.8h-0.8zM27.7 74.1h0.8v0.8h-0.8zM17.9 78.9h0.8v0.8h-0.8zM25.7 76.5h0.8v0.8h-0.8zM23.5 40.3h0.8v0.8h-0.8zM27.4 58.0h0.8v0.8h-0.8zM18.5 75.9h0.8v0.8h-0.8zM27.7 77.0h0.8v0.8h-0.8zM24.4 75.6h0.8v0.8h-0.8zM30.5 77.1h0.8v0.8h-0.8zM22.2 61.3h0.8v0.8h-0.8zM35.8 75.7h0.8v0.8h-0.8zM24.7 68.7h0.8v0.8h-0.8zM40.6 78.1h0.8v0.8h-0.8zM25.8 76.5h0.8v0.8h-0.8zM47.8 67.5h0.8v0.8h-0.8zM28.6 79.3h0.8v0.8h-0.8zM29.8 75.7h0.8v0.8h-0.8zM25.6 49.2h0.8v0.8h-0.8zM30.2 78.5h0.8v0.8h-0.8zM35.0 70.2h0.8v0.8h-0.8zM31.3 80.5h0.8v0.8h-0.8zM25.9 57.0h0.8v0.8h-0.8zM24.8 74.9h0.8v0.8h-0.8zM26.9 63.2h0.8v0.8h-0.8zM30.4 78.7h0.8v0.8h-0.8zM24.3 77.3h0.8v0.8h-0.8zM27.5 75.9h0.8v0.8h-0.8zM27.5 57.7h0.8v0.8h-0.8zM35.1 75.4h0.8v0.8h-0.8zM30.7 76.2h0.8v0.8h-0.8zM27.6 62.0h0.8v0.8h-0.8zM41.3 71.5h0.8v0.8h-0.8zM25.4 75.6h0.8v0.8h-0.8zM18.1 74.5h0.8v0.8h-0.8zM18.6 76.5h0.8v0.8h-0.8zM34.6 78.9h0.8v0.8h-0.8zM31.6 70.9h0.8v0.8h-0.8zM16.6 76.4h0.8v0.8h-0.8zM14.0 75.0h0.8v0.8h-0.8zM32.9 72.3h0.8v0.8h-0.8zM9.3 76.5h0.8v0.8h-0.8zM20.0 76.4h0.8v0.8h-0.8zM25.8 39.0h0.8v0.8h-0.8zM37.4 75.7h0.8v0.8h-0.8zM30.6 53.9h0.8v0.8h-0.8zM3.7 78.0h0.8v0.8h-0.8zM28.1 73.2h0.8v0.8h-0.8zM27.0 74.9h0.8v0.8h-0.8zM26.7 45.7h0.8v0.8h-0.8zM25.1 69.7h0.8v0.8h-0.8zM34.7 71.2h0.8v0.8h-0.8zM31.2 71.3h0.8v0.8h-0.8zM30.9 71.5h0.8v0.8h-0.8zM24.8 78.9h0.8v0.8h-0.8zM33.7 73.5h0.8v0.8h-0.8zM25.7 77.5h0.8v0.8h-0.8zM48.1 75.9h0.8v0.8h-0.8zM34.2 69.9h0.8v0.8h-0.8zM22.6 70.6h0.8v0.8h-0.8zM22.8 79.4h0.8v0.8h-0.8zM27.6 65.4h0.8v0.8h-0.8zM36.9 79.4h0.8v0.8h-0.8zM34.6 71.7h0.8v0.8h-0.8zM25.1 49.4h0.8v0.8h-0.8zM25.9 78.7h0.8v0.8h-0.8zM26.0 57.5h0.8v0.8h-0.8zM24.4 50.0h0.8v0.8h-0.8zM25.4 53.7h0.8v0.8h-0.8zM30.2 72.1h0.8v0.8h-0.8zM39.3 77.2h0.8v0.8h-0.8zM28.8 54.2h0.8v0.8h-0.8zM29.1 73.1h0.8v0.8h-0.8zM24.0 79.5h0.8v0.8h-0.8zM26.4 37.9h0.8v0.8h-0.8zM27.9 74.9h0.8v0.8h-0.8zM26.6 58.1h0.8v0.8h-0.8zM31.3 70.8h0.8v0.8h-0.8zM33.6 75.8h0.8v0.8h-0.8zM4.2 75.6h0.8v0.8h-0.8zM23.1 71.6h0.8v0.8h-0.8zM25.1 32.5h0.8v0.8h-0.8zM35.3 78.2h0.8v0.8h-0.8zM27.9 58.0h0.8v0.8h-0.8zM28.4 77.0h0.8v0.8h-0.8zM19.6 63.6h0.8v0.8h-0.8zM23.7 70.6h0.8v0.8h-0.8zM32.4 76.3h0.8v0.8h-0.8zM34.3 76.5h0.8v0.8h-0.8zM29.1 77.1h0.8v0.8h-0.8zM22.9 79.3h0.8v0.8h-0.8zM36.9 79.0h0.8v0.8h-0.8zM20.5 79.4h0.8v0.8h-0.8zM32.5 70.9h0.8v0.8h-0.8zM40.4 68.6h0.8v0.8h-0.8zM26.8 55.7h0.8v0.8h-0.8zM30.9 77.8h0.8v0.8h-0.8zM38.3 75.9h0.8v0.8h-0.8zM24.4 76.9h0.8v0.8h-0.8zM25.0 45.3h0.8v0.8h-0.8zM28.4 69.0h0.8v0.8h-0.8zM30.4 75.5h0.8v0.8h-0.8zM30.9 79.8h0.8v0.8h-0.8zM18.6 79.5h0.8v0.8h-0.8zM25.0 64.6h0.8v0.8h-0.8zM20.6 75.7h0.8v0.8h-0.8zM24.6 78.3h0.8v0.8h-0.8zM24.0 77.6h0.8v0.8h-0.8zM21.9 81.6h0.8v0.8h-0.8zM36.4 71.5h0.8v0.8h-0.8zM31.1 75.4h0.8v0.8h-0.8zM16.0 72.4h0.8v0.8h-0.8zM28.7 72.0h0.8v0.8h-0.8zM37.0 71.0h0.8v0.8h-0.8zM8.4 72.0h0.8v0.8h-0.8zM22.9 78.8h0.8v0.8h-0.8zM27.4 77.6h0.8v0.8h-0.8zM25.1 70.8h0.8v0.8h-0.8zM39.9 74.5h0.8v0.8h-0.8zM23.8 49.4h0.8v0.8h-0.8zM38.2 75.6h0.8v0.8h-0.8zM32.0 72.0h0.8v0.8h-0.8zM22.6 73.2h0.8v0.8h-0.8zM37.8 76.7h0.8v0.8h-0.8zM20.5 70.6h0.8v0.8h-0.8zM38.4 78.3h0.8v0.8h-0.8zM30.7 66.7h0.8v0.8h-0.8zM32.1 72.9h0.8v0.8h-0.8zM32.9 79.6h0.8v0.8h-0.8zM25.9 71.6h0.8v0.8h-0.8zM31.4 78.0h0.8v0.8h-0.8zM26.6 40.4h0.8v0.8h-0.8zM33.9 73.9h0.8v0.8h-0.8zM25.7 16.6h0.8v0.8h-0.8zM32.6 74.8h0.8v0.8h-0.8zM20.7 73.2h0.8v0.8h-0.8zM26.3 53.2h0.8v0.8h-0.8zM33.1 75.0h0.8v0.8h-0.8zM40.7 73.5h0.8v0.8h-0.8zM31.3 70.7h0.8v0.8h-0.8zM25.5 66.5h0.8v0.8h-0.8zM25.1 70.6h0.8v0.8h-0.8zM5.0 73.4h0.8v0.8h-0.8zM25.1 70.4h0.8v0.8h-0.8zM30.2 73.6h0.8v0.8h-0.8zM36.0 74.7h0.8v0.8h-0.8zM15.5 77.3h0.8v0.8h-0.8zM28.9 77.3h0.8v0.8h-0.8zM37.7 71.4h0.8v0.8h-0.8zM21.1 74.4h0.8v0.8h-0.8zM40.8 77.8h0.8v0.8h-0.8zM28.6 69.4h0.8v0.8h-0.8zM13.5 74.8h0.8v0.8h-0.8zM29.5 66.8h0.8v0.8h-0.8zM31.7 78.2h0.8v0.8h-0.8zM20.7 78.9h0.8v0.8h-0.8zM18.8 73.4h0.8v0.8h-0.8zM27.6 26.9h0.8v0.8h-0.8zM40.7 76.9h0.8v0.8h-0.8zM28.3 64.4h0.8v0.8h-0.8zM32.3 76.9h0.8v0.8h-0.8zM28.9 75.5h0.8v0.8h-0.8zM41.2 74.8h0.8v0.8h-0.8zM26.1 64.0h0.8v0.8h-0.8zM30.6 76.1h0.8v0.8h-0.8zM27.4 43.9h0.8v0.8h-0.8zM29.7 77.2h0.8v0.8h-0.8zM23.8 64.0h0.8v0.8h-0.8zM30.4 73.2h0.8v0.8h-0.8zM32.1 77.9h0.8v0.8h-0.8zM27.2 63.6h0.8v0.8h-0.8zM27.3 75.3h0.8v0.8h-0.8zM26.1 60.2h0.8v0.8h-0.8zM47.2 72.1h0.8v0.8h-0.8zM36.0 75.1h0.8v0.8h-0.8zM25.7 64.8h0.8v0.8h-0.8zM27.5 78.4h0.8v0.8h-0.8zM24.4 76.8h0.8v0.8h-0.8zM16.4 67.5h0.8v0.8h-0.8zM16.8 74.9h0.8v0.8h-0.8zM27.0 49.9h0.8v0.8h-0.8zM27.8 71.9h0.8v0.8h-0.8zM31.1 71.6h0.8v0.8h-0.8zM14.5 72.0h0.8v0.8h-0.8zM32.2 80.6h0.8v0.8h-0.8zM29.2 59.1h0.8v0.8h-0.8zM19.0 69.9h0.8v0.8h-0.8zM21.5 73.1h0.8v0.8h-0.8zM28.0 60.4h0.8v0.8h-0.8zM37.3 75.6h0.8v0.8h-0.8zM33.3 76.8h0.8v0.8h-0.8zM27.8 74.6h0.8v0.8h-0.8zM24.4 63.1h0.8v0.8h-0.8zM35.7 79.6h0.8v0.8h-0.8zM45.6 71.6h0.8v0.8h-0.8zM36.3 73.0h0.8v0.8h-0.8zM24.8 71.6h0.8v0.8h-0.8zM28.7 69.6h0.8v0.8h-0.8zM23.8 74.7h0.8v0.8h-0.8zM26.4 73.9h0.8v0.8h-0.8zM13.1 75.3h0.8v0.8h-0.8zM28.4 77.7h0.8v0.8h-0.8zM21.5 46.5h0.8v0.8h-0.8zM32.0 76.0h0.8v0.8h-0.8zM5.0 75.8h0.8v0.8h-0.8zM21.4 78.6h0.8v0.8h-0.8zM28.1 64.7h0.8v0.8h-0.8zM35.3 68.9h0.8v0.8h-0.8zM29.2 75.2h0.8v0.8h-0.8zM22.6 72.4h0.8v0.8h-0.8zM32.7 67.3h0.8v0.8h-0.8zM15.8 78.2h0.8v0.8h-0.8zM39.8 73.9h0.8v0.8h-0.8zM29.0 75.9h0.8v0.8h-0.8zM31.5 78.1h0.8v0.8h-0.8zM37.8 78.4h0.8v0.8h-0.8zM30.2 68.1h0.8v0.8h-0.8zM20.2 77.4h0.8v0.8h-0.8zM23.1 71.2h0.8v0.8h-0.8zM24.9 13.2h0.8v0.8h-0.8zM28.9 53.7h0.8v0.8h-0.8zM22.5 71.5h0.8v0.8h-0.8zM40.8 75.4h0.8v0.8h-0.8zM26.1 37.9h0.8v0.8h-0.8zM29.4 68.5h0.8v0.8h-0.8zM29.6 79.7h0.8v0.8h-0.8zM35.5 78.1h0.8v0.8h-0.8zM30.1 76.7h0.8v0.8h-0.8zM42.6 72.6h0.8v0.8h-0.8zM30.9 79.1h0.8v0.8h-0.8zM27.6 73.7h0.8v0.8h-0.8zM27.1 76.4h0.8v0.8h-0.8zM23.8 68.5h0.8v0.8h-0.8zM28.3 49.0h0.8v0.8h-0.8zM22.9 75.3h0.8v0.8h-0.8zM25.9 77.5h0.8v0.8h-0.8zM22.0 73.3h0.8v0.8h-0.8zM28.5 73.3h0.8v0.8h-0.8zM28.2 74.9h0.8v0.8h-0.8zM16.5 79.4h0.8v0.8h-0.8zM21.4 58.1h0.8v0.8h-0.8zM25.7 81.0h0.8v0.8h-0.8zM30.5 72.7h0.8v0.8h-0.8zM29.6 76.2h0.8v0.8h-0.8zM32.8 77.1h0.8v0.8h-0.8zM26.9 72.6h0.8v0.8h-0.8zM28.7 76.0h0.8v0.8h-0.8zM24.3 54.2h0.8v0.8h-0.8zM14.0 76.0h0.8v0.8h-0.8zM36.7 78.2h0.8v0.8h-0.8zM23.9 70.0h0.8v0.8h-0.8zM16.2 73.1h0.8v0.8h-0.8zM16.3 78.1h0.8v0.8h-0.8zM22.3 61.7h0.8v0.8h-0.8zM30.4 74.1h0.8v0.8h-0.8zM21.5 74.2h0.8v0.8h-0.8zM25.9 64.3h0.8v0.8h-0.8zM33.1 64.4h0.8v0.8h-0.8zM39.5 75.8h0.8v0.8h-0.8zM24.7 73.8h0.8v0.8h-0.8zM21.9 77.5h0.8v0.8h-0.8zM24.3 66.9h0.8v0.8h-0.8zM29.0 67.9h0.8v0.8h-0.8zM16.7 72.2h0.8v0.8h-0.8zM23.9 75.9h0.8v0.8h-0.8zM31.3 65.2h0.8v0.8h-0.8z" fill="#2a2cf0" opacity="0.85"/><path d="M24.5 76.8h0.8v0.8h-0.8zM27.5 71.6h0.8v0.8h-0.8zM29.2 77.5h0.8v0.8h-0.8zM29.2 77.8h0.8v0.8h-0.8zM21.2 73.7h0.8v0.8h-0.8zM16.1 71.5h0.8v0.8h-0.8zM22.9 64.4h0.8v0.8h-0.8zM22.7 68.4h0.8v0.8h-0.8zM27.7 77.2h0.8v0.8h-0.8zM40.3 72.4h0.8v0.8h-0.8zM46.6 78.2h0.8v0.8h-0.8zM19.0 71.3h0.8v0.8h-0.8zM27.5 71.9h0.8v0.8h-0.8zM24.3 79.3h0.8v0.8h-0.8zM23.6 75.0h0.8v0.8h-0.8zM22.0 76.6h0.8v0.8h-0.8zM26.5 52.9h0.8v0.8h-0.8zM27.9 64.8h0.8v0.8h-0.8zM36.3 73.2h0.8v0.8h-0.8zM26.9 77.6h0.8v0.8h-0.8zM38.5 78.7h0.8v0.8h-0.8zM29.6 75.6h0.8v0.8h-0.8zM29.7 72.8h0.8v0.8h-0.8zM35.6 72.8h0.8v0.8h-0.8zM31.7 77.4h0.8v0.8h-0.8zM28.2 79.3h0.8v0.8h-0.8zM28.4 75.3h0.8v0.8h-0.8zM11.4 79.6h0.8v0.8h-0.8zM26.9 74.1h0.8v0.8h-0.8zM31.1 59.5h0.8v0.8h-0.8zM32.5 74.1h0.8v0.8h-0.8zM25.4 74.2h0.8v0.8h-0.8zM18.9 79.1h0.8v0.8h-0.8zM22.3 54.1h0.8v0.8h-0.8zM12.4 77.3h0.8v0.8h-0.8zM32.5 76.7h0.8v0.8h-0.8zM24.0 63.9h0.8v0.8h-0.8zM27.8 81.0h0.8v0.8h-0.8zM28.0 69.7h0.8v0.8h-0.8zM24.8 73.0h0.8v0.8h-0.8zM27.1 73.8h0.8v0.8h-0.8zM16.5 76.4h0.8v0.8h-0.8zM28.2 79.5h0.8v0.8h-0.8zM25.9 67.7h0.8v0.8h-0.8zM23.3 52.3h0.8v0.8h-0.8zM27.0 61.4h0.8v0.8h-0.8zM29.3 63.7h0.8v0.8h-0.8zM24.2 75.1h0.8v0.8h-0.8zM24.9 67.3h0.8v0.8h-0.8zM36.2 77.8h0.8v0.8h-0.8zM29.4 71.1h0.8v0.8h-0.8zM10.7 78.5h0.8v0.8h-0.8zM36.6 72.6h0.8v0.8h-0.8zM17.2 73.2h0.8v0.8h-0.8zM32.5 77.9h0.8v0.8h-0.8zM25.9 78.4h0.8v0.8h-0.8zM23.8 76.1h0.8v0.8h-0.8zM23.7 79.9h0.8v0.8h-0.8zM27.7 62.4h0.8v0.8h-0.8zM27.1 78.0h0.8v0.8h-0.8zM26.8 73.3h0.8v0.8h-0.8zM4.8 74.6h0.8v0.8h-0.8zM32.4 77.7h0.8v0.8h-0.8zM31.2 79.1h0.8v0.8h-0.8zM15.7 77.8h0.8v0.8h-0.8zM5.6 75.2h0.8v0.8h-0.8zM20.7 74.9h0.8v0.8h-0.8zM23.3 39.2h0.8v0.8h-0.8zM33.7 76.4h0.8v0.8h-0.8zM36.7 64.4h0.8v0.8h-0.8zM31.8 78.8h0.8v0.8h-0.8zM27.6 78.4h0.8v0.8h-0.8zM21.5 79.7h0.8v0.8h-0.8zM26.1 75.8h0.8v0.8h-0.8zM28.4 76.5h0.8v0.8h-0.8zM28.9 75.5h0.8v0.8h-0.8zM26.0 52.0h0.8v0.8h-0.8zM23.4 50.5h0.8v0.8h-0.8zM21.0 60.3h0.8v0.8h-0.8zM36.0 75.3h0.8v0.8h-0.8zM27.0 79.7h0.8v0.8h-0.8zM20.5 68.6h0.8v0.8h-0.8zM26.0 44.2h0.8v0.8h-0.8zM14.6 71.8h0.8v0.8h-0.8zM30.4 74.5h0.8v0.8h-0.8zM34.8 79.9h0.8v0.8h-0.8zM25.1 43.6h0.8v0.8h-0.8zM21.2 71.9h0.8v0.8h-0.8zM31.7 74.4h0.8v0.8h-0.8zM29.5 78.7h0.8v0.8h-0.8zM23.6 78.6h0.8v0.8h-0.8zM11.6 75.1h0.8v0.8h-0.8zM26.4 58.8h0.8v0.8h-0.8zM31.0 71.8h0.8v0.8h-0.8zM42.2 67.0h0.8v0.8h-0.8zM33.4 72.0h0.8v0.8h-0.8zM29.0 73.8h0.8v0.8h-0.8zM30.6 70.5h0.8v0.8h-0.8zM21.2 79.6h0.8v0.8h-0.8zM30.2 76.6h0.8v0.8h-0.8zM19.8 79.1h0.8v0.8h-0.8zM12.5 73.8h0.8v0.8h-0.8zM20.5 79.2h0.8v0.8h-0.8zM35.0 78.6h0.8v0.8h-0.8zM29.6 76.4h0.8v0.8h-0.8zM24.5 64.8h0.8v0.8h-0.8zM24.4 70.3h0.8v0.8h-0.8zM34.2 78.0h0.8v0.8h-0.8zM16.0 77.7h0.8v0.8h-0.8zM29.3 66.3h0.8v0.8h-0.8zM21.0 67.3h0.8v0.8h-0.8zM26.7 62.2h0.8v0.8h-0.8zM30.6 80.7h0.8v0.8h-0.8zM22.7 74.8h0.8v0.8h-0.8zM32.3 70.7h0.8v0.8h-0.8zM26.5 78.1h0.8v0.8h-0.8zM27.1 52.0h0.8v0.8h-0.8zM27.0 74.7h0.8v0.8h-0.8zM12.8 77.7h0.8v0.8h-0.8zM39.9 77.2h0.8v0.8h-0.8zM25.6 66.0h0.8v0.8h-0.8zM24.9 69.6h0.8v0.8h-0.8zM24.3 74.8h0.8v0.8h-0.8zM33.8 54.6h0.8v0.8h-0.8zM29.3 77.3h0.8v0.8h-0.8zM24.3 72.2h0.8v0.8h-0.8zM44.6 79.1h0.8v0.8h-0.8zM28.5 73.7h0.8v0.8h-0.8zM24.9 71.5h0.8v0.8h-0.8zM22.2 54.4h0.8v0.8h-0.8zM22.5 71.0h0.8v0.8h-0.8zM28.1 76.5h0.8v0.8h-0.8zM29.3 56.7h0.8v0.8h-0.8zM23.3 60.8h0.8v0.8h-0.8zM24.0 79.0h0.8v0.8h-0.8zM29.6 79.3h0.8v0.8h-0.8zM25.5 54.4h0.8v0.8h-0.8zM35.3 78.5h0.8v0.8h-0.8zM43.5 78.1h0.8v0.8h-0.8zM34.6 78.4h0.8v0.8h-0.8zM24.7 73.2h0.8v0.8h-0.8zM19.6 78.7h0.8v0.8h-0.8zM55.0 72.1h0.8v0.8h-0.8zM26.8 76.9h0.8v0.8h-0.8zM24.8 78.6h0.8v0.8h-0.8zM21.0 60.8h0.8v0.8h-0.8zM32.8 76.9h0.8v0.8h-0.8zM30.2 76.1h0.8v0.8h-0.8zM45.0 74.8h0.8v0.8h-0.8zM13.1 77.7h0.8v0.8h-0.8zM17.2 74.0h0.8v0.8h-0.8zM27.5 8.4h0.8v0.8h-0.8zM20.2 74.5h0.8v0.8h-0.8zM11.8 79.3h0.8v0.8h-0.8zM47.5 71.1h0.8v0.8h-0.8zM22.2 70.4h0.8v0.8h-0.8zM33.1 73.3h0.8v0.8h-0.8zM26.3 21.3h0.8v0.8h-0.8zM27.9 35.5h0.8v0.8h-0.8zM41.3 78.7h0.8v0.8h-0.8zM37.9 71.4h0.8v0.8h-0.8zM26.9 79.6h0.8v0.8h-0.8zM17.8 77.8h0.8v0.8h-0.8zM24.7 42.3h0.8v0.8h-0.8zM26.9 74.2h0.8v0.8h-0.8zM33.3 73.0h0.8v0.8h-0.8zM32.7 70.8h0.8v0.8h-0.8zM47.1 72.2h0.8v0.8h-0.8zM23.5 80.7h0.8v0.8h-0.8zM29.1 52.3h0.8v0.8h-0.8zM18.5 78.6h0.8v0.8h-0.8zM33.0 75.1h0.8v0.8h-0.8zM27.5 72.7h0.8v0.8h-0.8zM21.2 77.6h0.8v0.8h-0.8zM10.9 79.6h0.8v0.8h-0.8zM40.8 78.2h0.8v0.8h-0.8zM40.2 77.4h0.8v0.8h-0.8zM30.2 71.4h0.8v0.8h-0.8zM21.1 80.4h0.8v0.8h-0.8zM25.6 74.5h0.8v0.8h-0.8zM24.6 74.5h0.8v0.8h-0.8zM18.8 75.6h0.8v0.8h-0.8zM20.7 79.4h0.8v0.8h-0.8zM44.3 78.9h0.8v0.8h-0.8zM27.9 78.2h0.8v0.8h-0.8zM27.2 62.0h0.8v0.8h-0.8zM29.1 76.9h0.8v0.8h-0.8zM26.4 76.3h0.8v0.8h-0.8zM31.6 78.0h0.8v0.8h-0.8z" fill="#6a78ff" opacity="0.85"/><g filter="url(#fbl2)" fill="#2c34f4"><ellipse cx="27.4" cy="77.7" rx="14.5" ry="4.2" opacity="0.9"/><ellipse cx="26.9" cy="67.2" rx="6.2" ry="15.0" opacity="0.85"/><ellipse cx="26.4" cy="73.2" rx="9.5" ry="7.5" opacity="0.8"/></g><ellipse cx="25.9" cy="70.2" rx="3.4" ry="6.5" fill="url(#fc)" opacity="0.75" filter="url(#fbl)"/><g filter="url(#fbl)"><ellipse cx="25.4" cy="76.7" rx="12.5" ry="7.0" fill="url(#fb)"/><ellipse cx="24.0" cy="77.0" rx="10.5" ry="6.2" fill="url(#fc)" transform="rotate(-14 22.4 78.2)"/><ellipse cx="23.2" cy="77.7" rx="7.4" ry="4.0" fill="url(#fg)" transform="rotate(-14 22.4 78.2)"/><ellipse cx="22.4" cy="78.2" rx="4.6" ry="2.2" fill="url(#fy)" transform="rotate(-14 22.4 78.2)"/></g><path d="M0 0V98.2H94.2" fill="none" stroke="#6a6a72" stroke-width="0.8"/><text x="-3.2" y="4.0" font-size="4.6" font-weight="bold" fill="#223" text-anchor="end">500</text><text x="-3.2" y="22.8" font-size="4.6" font-weight="bold" fill="#223" text-anchor="end">400</text><text x="-3.2" y="41.5" font-size="4.6" font-weight="bold" fill="#223" text-anchor="end">300</text><text x="-3.2" y="60.2" font-size="4.6" font-weight="bold" fill="#223" text-anchor="end">200</text><text x="-3.2" y="79.0" font-size="4.6" font-weight="bold" fill="#223" text-anchor="end">100</text><text x="-3.2" y="97.8" font-size="4.6" font-weight="bold" fill="#223" text-anchor="end">0</text><text x="6.2" y="106.8" font-size="4.6" font-weight="bold" fill="#223" text-anchor="middle">10<tspan dy="-2" font-size="3.6">0</tspan></text><text x="27.6" y="106.8" font-size="4.6" font-weight="bold" fill="#223" text-anchor="middle">10<tspan dy="-2" font-size="3.6">1</tspan></text><text x="49.1" y="106.8" font-size="4.6" font-weight="bold" fill="#223" text-anchor="middle">10<tspan dy="-2" font-size="3.6">2</tspan></text><text x="70.5" y="106.8" font-size="4.6" font-weight="bold" fill="#223" text-anchor="middle">10<tspan dy="-2" font-size="3.6">3</tspan></text><text x="92.0" y="106.8" font-size="4.6" font-weight="bold" fill="#223" text-anchor="middle">10<tspan dy="-2" font-size="3.6">4</tspan></text><path d="M-2 2.4H0M-2 21.1H0M-2 39.9H0M-2 58.6H0M-2 77.4H0M-2 96.2H0M6.8 98.2v2.2M13.2 98.2v1.2M17.1 98.2v1.2M19.7 98.2v1.2M21.8 98.2v1.2M23.5 98.2v1.2M25.0 98.2v1.2M26.1 98.2v1.2M27.2 98.2v1.2M28.2 98.2v2.2M34.7 98.2v1.2M38.5 98.2v1.2M41.1 98.2v1.2M43.3 98.2v1.2M45.0 98.2v1.2M46.5 98.2v1.2M47.6 98.2v1.2M48.6 98.2v1.2M49.7 98.2v2.2M56.1 98.2v1.2M60.0 98.2v1.2M62.6 98.2v1.2M64.7 98.2v1.2M66.4 98.2v1.2M67.9 98.2v1.2M69.0 98.2v1.2M70.1 98.2v1.2M71.1 98.2v2.2M77.6 98.2v1.2M81.4 98.2v1.2M84.0 98.2v1.2M86.2 98.2v1.2M87.9 98.2v1.2M89.4 98.2v1.2M90.5 98.2v1.2M91.5 98.2v1.2M92.6 98.2v2.2" stroke="#556" stroke-width="0.5" fill="none"/></g>
<text x="401.2" y="928.5" font-size="15.3" text-anchor="middle">5.0<tspan font-size="18" dx="2" dy="0.6">±</tspan><tspan dx="2" dy="-0.6">1.5</tspan></text>
<g transform="translate(455.8 913.8)"><rect x="0" y="0" width="95.4" height="98.2" fill="#fff" stroke="#c4c4c8" stroke-width="0.7"/><path d="M23.4 98.2L42.9 19.6L95.4 13.7" fill="none" stroke="#d6d6da" stroke-width="0.6"/><path d="M30.2 80.7h0.8v0.8h-0.8zM21.9 74.5h0.8v0.8h-0.8zM27.1 60.7h0.8v0.8h-0.8zM18.0 73.4h0.8v0.8h-0.8zM16.4 75.7h0.8v0.8h-0.8zM31.5 77.5h0.8v0.8h-0.8zM25.3 59.6h0.8v0.8h-0.8zM24.3 72.6h0.8v0.8h-0.8zM23.9 69.9h0.8v0.8h-0.8zM33.1 78.5h0.8v0.8h-0.8zM30.4 78.1h0.8v0.8h-0.8zM24.0 72.8h0.8v0.8h-0.8zM22.0 71.9h0.8v0.8h-0.8zM20.6 60.1h0.8v0.8h-0.8zM24.8 67.4h0.8v0.8h-0.8zM26.9 74.0h0.8v0.8h-0.8zM28.3 68.3h0.8v0.8h-0.8zM28.3 70.8h0.8v0.8h-0.8zM24.7 76.0h0.8v0.8h-0.8zM25.4 75.5h0.8v0.8h-0.8zM15.0 75.8h0.8v0.8h-0.8zM34.0 76.7h0.8v0.8h-0.8zM27.5 64.5h0.8v0.8h-0.8zM26.5 70.3h0.8v0.8h-0.8zM19.1 72.3h0.8v0.8h-0.8zM29.7 66.1h0.8v0.8h-0.8zM27.9 75.3h0.8v0.8h-0.8zM23.4 69.8h0.8v0.8h-0.8zM24.1 77.1h0.8v0.8h-0.8zM25.7 79.4h0.8v0.8h-0.8zM33.3 79.8h0.8v0.8h-0.8zM20.6 76.1h0.8v0.8h-0.8zM30.2 76.7h0.8v0.8h-0.8zM26.9 75.4h0.8v0.8h-0.8zM29.0 72.0h0.8v0.8h-0.8zM30.3 74.9h0.8v0.8h-0.8zM37.2 66.6h0.8v0.8h-0.8zM23.5 76.4h0.8v0.8h-0.8zM24.9 78.9h0.8v0.8h-0.8zM31.5 78.4h0.8v0.8h-0.8zM25.5 75.2h0.8v0.8h-0.8zM25.6 66.8h0.8v0.8h-0.8zM17.0 71.3h0.8v0.8h-0.8zM20.9 76.3h0.8v0.8h-0.8zM34.6 68.9h0.8v0.8h-0.8zM21.3 75.4h0.8v0.8h-0.8zM21.6 72.0h0.8v0.8h-0.8zM21.0 76.1h0.8v0.8h-0.8zM27.3 64.7h0.8v0.8h-0.8zM20.6 78.4h0.8v0.8h-0.8zM4.3 71.1h0.8v0.8h-0.8zM18.1 72.4h0.8v0.8h-0.8zM23.9 76.1h0.8v0.8h-0.8zM27.8 78.2h0.8v0.8h-0.8zM30.6 76.3h0.8v0.8h-0.8zM21.9 69.2h0.8v0.8h-0.8zM26.2 51.7h0.8v0.8h-0.8zM28.8 57.1h0.8v0.8h-0.8zM22.0 79.3h0.8v0.8h-0.8zM28.9 71.1h0.8v0.8h-0.8zM27.8 73.5h0.8v0.8h-0.8zM27.2 76.7h0.8v0.8h-0.8zM26.4 74.5h0.8v0.8h-0.8zM12.3 63.2h0.8v0.8h-0.8zM11.5 78.0h0.8v0.8h-0.8zM26.3 76.6h0.8v0.8h-0.8zM20.4 75.8h0.8v0.8h-0.8zM29.6 75.2h0.8v0.8h-0.8zM26.2 74.1h0.8v0.8h-0.8zM24.0 78.3h0.8v0.8h-0.8zM32.5 62.1h0.8v0.8h-0.8zM31.5 77.7h0.8v0.8h-0.8zM29.4 75.9h0.8v0.8h-0.8zM29.0 66.4h0.8v0.8h-0.8zM25.9 77.4h0.8v0.8h-0.8zM31.1 69.3h0.8v0.8h-0.8zM26.3 80.7h0.8v0.8h-0.8zM26.4 76.2h0.8v0.8h-0.8zM26.7 74.5h0.8v0.8h-0.8zM14.5 75.2h0.8v0.8h-0.8zM24.3 78.0h0.8v0.8h-0.8zM26.0 68.3h0.8v0.8h-0.8zM29.3 68.6h0.8v0.8h-0.8zM26.3 74.7h0.8v0.8h-0.8zM24.4 67.8h0.8v0.8h-0.8zM23.0 80.8h0.8v0.8h-0.8zM31.6 72.5h0.8v0.8h-0.8zM36.4 76.4h0.8v0.8h-0.8zM27.0 73.8h0.8v0.8h-0.8zM15.9 77.5h0.8v0.8h-0.8zM17.8 72.1h0.8v0.8h-0.8zM21.5 68.9h0.8v0.8h-0.8zM25.4 63.1h0.8v0.8h-0.8zM27.8 72.3h0.8v0.8h-0.8zM26.1 65.2h0.8v0.8h-0.8zM37.8 78.7h0.8v0.8h-0.8zM21.6 73.0h0.8v0.8h-0.8zM23.3 78.8h0.8v0.8h-0.8zM36.3 77.5h0.8v0.8h-0.8zM24.2 77.5h0.8v0.8h-0.8zM20.4 77.5h0.8v0.8h-0.8zM36.1 75.1h0.8v0.8h-0.8zM19.0 71.7h0.8v0.8h-0.8zM23.4 75.8h0.8v0.8h-0.8zM19.5 78.7h0.8v0.8h-0.8zM6.4 77.6h0.8v0.8h-0.8zM31.3 77.7h0.8v0.8h-0.8zM29.6 76.2h0.8v0.8h-0.8zM24.6 66.7h0.8v0.8h-0.8zM26.9 68.2h0.8v0.8h-0.8zM32.5 70.6h0.8v0.8h-0.8zM21.1 74.5h0.8v0.8h-0.8zM30.5 78.4h0.8v0.8h-0.8zM28.5 78.1h0.8v0.8h-0.8zM24.1 72.2h0.8v0.8h-0.8zM23.8 57.5h0.8v0.8h-0.8zM22.1 53.4h0.8v0.8h-0.8zM25.9 71.7h0.8v0.8h-0.8zM26.0 75.9h0.8v0.8h-0.8zM26.8 64.2h0.8v0.8h-0.8zM15.9 77.3h0.8v0.8h-0.8zM22.5 65.7h0.8v0.8h-0.8zM37.1 78.7h0.8v0.8h-0.8zM23.1 78.7h0.8v0.8h-0.8zM43.0 73.1h0.8v0.8h-0.8zM24.6 78.0h0.8v0.8h-0.8zM26.6 72.8h0.8v0.8h-0.8zM34.8 74.2h0.8v0.8h-0.8zM19.8 78.4h0.8v0.8h-0.8zM40.3 75.6h0.8v0.8h-0.8zM29.7 72.2h0.8v0.8h-0.8zM35.1 69.2h0.8v0.8h-0.8zM26.7 66.8h0.8v0.8h-0.8zM29.3 69.1h0.8v0.8h-0.8zM18.2 77.4h0.8v0.8h-0.8zM33.8 78.3h0.8v0.8h-0.8zM42.8 76.1h0.8v0.8h-0.8zM28.8 69.5h0.8v0.8h-0.8zM40.9 77.3h0.8v0.8h-0.8zM32.7 70.3h0.8v0.8h-0.8zM18.7 77.7h0.8v0.8h-0.8zM38.6 67.0h0.8v0.8h-0.8zM32.5 71.6h0.8v0.8h-0.8zM28.7 75.2h0.8v0.8h-0.8zM19.2 73.8h0.8v0.8h-0.8zM26.3 65.8h0.8v0.8h-0.8zM19.5 71.9h0.8v0.8h-0.8zM15.0 74.7h0.8v0.8h-0.8zM28.9 75.5h0.8v0.8h-0.8zM28.7 63.8h0.8v0.8h-0.8zM30.9 78.0h0.8v0.8h-0.8zM25.3 71.8h0.8v0.8h-0.8zM25.9 78.8h0.8v0.8h-0.8zM31.6 65.1h0.8v0.8h-0.8zM22.9 77.4h0.8v0.8h-0.8zM29.0 76.3h0.8v0.8h-0.8zM26.2 69.3h0.8v0.8h-0.8zM23.6 62.7h0.8v0.8h-0.8zM39.7 74.5h0.8v0.8h-0.8zM15.1 77.8h0.8v0.8h-0.8zM12.4 72.1h0.8v0.8h-0.8zM25.5 75.7h0.8v0.8h-0.8zM25.3 64.9h0.8v0.8h-0.8zM23.4 66.4h0.8v0.8h-0.8zM9.1 77.6h0.8v0.8h-0.8zM27.8 77.8h0.8v0.8h-0.8zM25.9 71.8h0.8v0.8h-0.8zM20.1 74.4h0.8v0.8h-0.8zM30.5 77.9h0.8v0.8h-0.8zM18.9 76.1h0.8v0.8h-0.8zM26.9 66.5h0.8v0.8h-0.8zM27.4 58.6h0.8v0.8h-0.8zM24.8 71.6h0.8v0.8h-0.8zM27.7 74.8h0.8v0.8h-0.8zM24.5 54.5h0.8v0.8h-0.8zM21.4 73.8h0.8v0.8h-0.8zM25.8 75.9h0.8v0.8h-0.8zM24.8 70.1h0.8v0.8h-0.8zM22.7 69.7h0.8v0.8h-0.8zM28.7 68.4h0.8v0.8h-0.8zM31.3 77.2h0.8v0.8h-0.8zM25.8 66.4h0.8v0.8h-0.8zM23.9 77.1h0.8v0.8h-0.8zM17.8 68.8h0.8v0.8h-0.8zM29.3 78.6h0.8v0.8h-0.8zM21.3 67.3h0.8v0.8h-0.8zM24.8 79.0h0.8v0.8h-0.8zM26.2 58.8h0.8v0.8h-0.8zM30.5 77.1h0.8v0.8h-0.8zM45.5 72.5h0.8v0.8h-0.8zM23.2 66.4h0.8v0.8h-0.8zM27.7 78.8h0.8v0.8h-0.8zM23.7 69.6h0.8v0.8h-0.8zM35.3 68.6h0.8v0.8h-0.8zM26.2 74.3h0.8v0.8h-0.8zM28.4 69.6h0.8v0.8h-0.8zM23.8 58.0h0.8v0.8h-0.8zM26.0 70.2h0.8v0.8h-0.8zM31.9 74.7h0.8v0.8h-0.8zM33.3 74.3h0.8v0.8h-0.8zM15.3 78.8h0.8v0.8h-0.8zM25.5 69.0h0.8v0.8h-0.8zM33.3 77.5h0.8v0.8h-0.8zM28.3 46.4h0.8v0.8h-0.8zM34.9 74.1h0.8v0.8h-0.8zM26.7 40.7h0.8v0.8h-0.8zM21.6 73.5h0.8v0.8h-0.8zM22.3 77.9h0.8v0.8h-0.8zM22.7 76.2h0.8v0.8h-0.8zM29.2 51.8h0.8v0.8h-0.8zM12.6 74.6h0.8v0.8h-0.8zM20.8 77.2h0.8v0.8h-0.8zM35.0 66.3h0.8v0.8h-0.8zM25.9 66.9h0.8v0.8h-0.8zM28.5 68.2h0.8v0.8h-0.8zM17.3 66.4h0.8v0.8h-0.8zM20.6 69.8h0.8v0.8h-0.8zM37.8 73.2h0.8v0.8h-0.8zM21.0 78.5h0.8v0.8h-0.8zM23.7 71.5h0.8v0.8h-0.8zM21.5 65.5h0.8v0.8h-0.8zM37.3 78.8h0.8v0.8h-0.8zM21.8 50.9h0.8v0.8h-0.8zM27.7 64.4h0.8v0.8h-0.8zM29.7 69.6h0.8v0.8h-0.8zM24.9 54.9h0.8v0.8h-0.8zM25.9 57.5h0.8v0.8h-0.8zM30.5 69.7h0.8v0.8h-0.8zM25.7 50.1h0.8v0.8h-0.8zM32.6 78.4h0.8v0.8h-0.8zM20.5 66.4h0.8v0.8h-0.8zM27.9 65.9h0.8v0.8h-0.8zM23.6 72.1h0.8v0.8h-0.8zM31.3 68.2h0.8v0.8h-0.8zM22.7 69.4h0.8v0.8h-0.8zM27.2 80.6h0.8v0.8h-0.8zM23.1 69.2h0.8v0.8h-0.8zM27.5 50.0h0.8v0.8h-0.8zM26.0 71.2h0.8v0.8h-0.8zM20.1 74.6h0.8v0.8h-0.8zM33.0 73.3h0.8v0.8h-0.8zM23.0 72.6h0.8v0.8h-0.8zM25.9 74.5h0.8v0.8h-0.8zM29.5 75.7h0.8v0.8h-0.8zM26.0 75.8h0.8v0.8h-0.8zM23.8 66.7h0.8v0.8h-0.8zM29.1 68.9h0.8v0.8h-0.8zM25.8 74.2h0.8v0.8h-0.8zM26.3 74.8h0.8v0.8h-0.8zM23.6 73.5h0.8v0.8h-0.8zM22.0 75.2h0.8v0.8h-0.8zM26.5 77.0h0.8v0.8h-0.8zM29.5 73.8h0.8v0.8h-0.8zM25.4 71.7h0.8v0.8h-0.8zM21.9 79.4h0.8v0.8h-0.8zM34.1 78.7h0.8v0.8h-0.8zM22.6 71.1h0.8v0.8h-0.8zM21.7 72.7h0.8v0.8h-0.8zM23.5 78.6h0.8v0.8h-0.8zM21.9 68.3h0.8v0.8h-0.8zM42.0 73.7h0.8v0.8h-0.8zM26.5 52.1h0.8v0.8h-0.8zM16.8 78.7h0.8v0.8h-0.8zM22.6 77.7h0.8v0.8h-0.8zM20.7 73.7h0.8v0.8h-0.8zM30.9 77.6h0.8v0.8h-0.8zM28.2 58.4h0.8v0.8h-0.8zM27.9 65.3h0.8v0.8h-0.8zM34.0 78.7h0.8v0.8h-0.8zM26.5 68.8h0.8v0.8h-0.8zM23.6 74.0h0.8v0.8h-0.8zM25.4 70.2h0.8v0.8h-0.8zM27.7 61.2h0.8v0.8h-0.8zM32.7 78.4h0.8v0.8h-0.8zM24.9 73.2h0.8v0.8h-0.8zM31.7 75.0h0.8v0.8h-0.8zM24.4 48.1h0.8v0.8h-0.8zM26.3 64.8h0.8v0.8h-0.8zM27.2 75.2h0.8v0.8h-0.8zM21.9 76.4h0.8v0.8h-0.8zM21.2 79.3h0.8v0.8h-0.8zM22.7 77.5h0.8v0.8h-0.8zM23.1 68.6h0.8v0.8h-0.8zM24.7 60.8h0.8v0.8h-0.8zM24.9 68.5h0.8v0.8h-0.8zM28.3 71.7h0.8v0.8h-0.8zM28.2 78.1h0.8v0.8h-0.8zM40.2 73.7h0.8v0.8h-0.8zM24.9 73.3h0.8v0.8h-0.8zM26.5 75.9h0.8v0.8h-0.8zM22.5 75.1h0.8v0.8h-0.8zM22.3 75.4h0.8v0.8h-0.8zM29.2 75.0h0.8v0.8h-0.8zM23.3 76.8h0.8v0.8h-0.8zM21.5 70.1h0.8v0.8h-0.8zM24.0 73.7h0.8v0.8h-0.8zM16.3 73.7h0.8v0.8h-0.8zM23.9 77.7h0.8v0.8h-0.8zM23.7 74.3h0.8v0.8h-0.8zM21.1 78.0h0.8v0.8h-0.8zM30.5 75.4h0.8v0.8h-0.8zM21.3 77.3h0.8v0.8h-0.8zM26.5 47.2h0.8v0.8h-0.8zM30.9 73.4h0.8v0.8h-0.8zM30.0 73.6h0.8v0.8h-0.8zM23.0 69.3h0.8v0.8h-0.8zM28.4 73.6h0.8v0.8h-0.8zM19.5 78.1h0.8v0.8h-0.8zM28.6 70.3h0.8v0.8h-0.8zM18.8 77.7h0.8v0.8h-0.8zM45.6 72.8h0.8v0.8h-0.8zM21.3 75.7h0.8v0.8h-0.8zM25.5 75.3h0.8v0.8h-0.8zM20.8 79.9h0.8v0.8h-0.8zM26.4 76.6h0.8v0.8h-0.8zM30.3 67.8h0.8v0.8h-0.8zM26.9 70.8h0.8v0.8h-0.8zM22.4 69.8h0.8v0.8h-0.8zM24.2 75.8h0.8v0.8h-0.8zM33.8 76.5h0.8v0.8h-0.8zM21.6 73.2h0.8v0.8h-0.8zM31.4 78.5h0.8v0.8h-0.8zM18.9 75.8h0.8v0.8h-0.8zM32.3 75.7h0.8v0.8h-0.8zM22.6 74.9h0.8v0.8h-0.8z" fill="#2a2cf0" opacity="0.85"/><path d="M22.6 74.8h0.8v0.8h-0.8zM22.5 76.5h0.8v0.8h-0.8zM24.5 76.4h0.8v0.8h-0.8zM14.5 78.4h0.8v0.8h-0.8zM28.2 50.0h0.8v0.8h-0.8zM28.0 61.2h0.8v0.8h-0.8zM27.6 66.2h0.8v0.8h-0.8zM22.8 73.4h0.8v0.8h-0.8zM23.0 75.5h0.8v0.8h-0.8zM25.1 76.5h0.8v0.8h-0.8zM30.1 77.4h0.8v0.8h-0.8zM25.7 72.1h0.8v0.8h-0.8zM28.0 58.2h0.8v0.8h-0.8zM33.7 64.1h0.8v0.8h-0.8zM24.0 75.1h0.8v0.8h-0.8zM33.6 73.8h0.8v0.8h-0.8zM26.6 66.8h0.8v0.8h-0.8zM19.4 76.4h0.8v0.8h-0.8zM39.5 78.5h0.8v0.8h-0.8zM27.5 72.9h0.8v0.8h-0.8zM31.9 77.4h0.8v0.8h-0.8zM27.1 69.0h0.8v0.8h-0.8zM32.6 78.2h0.8v0.8h-0.8zM25.6 77.1h0.8v0.8h-0.8zM15.3 73.5h0.8v0.8h-0.8zM32.0 68.4h0.8v0.8h-0.8zM25.5 73.4h0.8v0.8h-0.8zM35.5 74.0h0.8v0.8h-0.8zM18.0 78.2h0.8v0.8h-0.8zM26.6 65.8h0.8v0.8h-0.8zM21.9 73.4h0.8v0.8h-0.8zM22.6 75.8h0.8v0.8h-0.8zM16.1 77.4h0.8v0.8h-0.8zM29.2 80.4h0.8v0.8h-0.8zM22.8 72.1h0.8v0.8h-0.8zM29.4 75.2h0.8v0.8h-0.8zM23.8 76.2h0.8v0.8h-0.8zM33.6 74.2h0.8v0.8h-0.8zM35.6 75.3h0.8v0.8h-0.8zM25.7 68.8h0.8v0.8h-0.8zM23.7 59.1h0.8v0.8h-0.8zM12.5 71.6h0.8v0.8h-0.8zM2.0 67.8h0.8v0.8h-0.8zM29.2 76.9h0.8v0.8h-0.8zM27.3 77.3h0.8v0.8h-0.8zM24.7 78.3h0.8v0.8h-0.8zM26.5 48.8h0.8v0.8h-0.8zM24.5 71.3h0.8v0.8h-0.8zM16.3 69.2h0.8v0.8h-0.8zM26.4 76.4h0.8v0.8h-0.8zM23.1 73.0h0.8v0.8h-0.8zM30.8 70.7h0.8v0.8h-0.8zM23.8 75.9h0.8v0.8h-0.8zM33.0 73.4h0.8v0.8h-0.8zM23.8 78.5h0.8v0.8h-0.8zM28.8 77.8h0.8v0.8h-0.8zM23.4 78.4h0.8v0.8h-0.8zM26.5 47.5h0.8v0.8h-0.8zM28.4 76.4h0.8v0.8h-0.8zM20.2 77.9h0.8v0.8h-0.8zM24.8 75.6h0.8v0.8h-0.8zM24.5 76.0h0.8v0.8h-0.8zM36.9 67.5h0.8v0.8h-0.8zM31.7 70.9h0.8v0.8h-0.8zM35.4 77.5h0.8v0.8h-0.8zM41.5 77.5h0.8v0.8h-0.8zM31.8 78.2h0.8v0.8h-0.8zM31.1 77.4h0.8v0.8h-0.8zM24.4 73.4h0.8v0.8h-0.8zM28.5 77.1h0.8v0.8h-0.8zM39.7 78.3h0.8v0.8h-0.8zM21.4 71.5h0.8v0.8h-0.8zM13.4 71.8h0.8v0.8h-0.8zM24.8 76.2h0.8v0.8h-0.8zM28.2 56.5h0.8v0.8h-0.8zM36.0 75.8h0.8v0.8h-0.8zM21.7 76.5h0.8v0.8h-0.8zM21.9 72.1h0.8v0.8h-0.8zM14.2 76.8h0.8v0.8h-0.8zM31.7 78.5h0.8v0.8h-0.8zM31.9 73.6h0.8v0.8h-0.8zM26.7 75.0h0.8v0.8h-0.8zM28.9 76.8h0.8v0.8h-0.8zM26.7 77.2h0.8v0.8h-0.8zM22.3 76.8h0.8v0.8h-0.8zM24.6 74.4h0.8v0.8h-0.8zM14.4 70.5h0.8v0.8h-0.8zM31.2 78.5h0.8v0.8h-0.8zM28.5 63.5h0.8v0.8h-0.8zM17.2 72.1h0.8v0.8h-0.8zM25.1 73.5h0.8v0.8h-0.8zM26.8 75.0h0.8v0.8h-0.8zM24.4 50.9h0.8v0.8h-0.8zM23.2 63.8h0.8v0.8h-0.8zM24.5 75.9h0.8v0.8h-0.8zM25.1 76.4h0.8v0.8h-0.8zM27.0 68.2h0.8v0.8h-0.8zM23.7 36.9h0.8v0.8h-0.8zM43.8 70.7h0.8v0.8h-0.8zM52.1 72.4h0.8v0.8h-0.8zM25.9 73.8h0.8v0.8h-0.8zM24.5 70.1h0.8v0.8h-0.8zM27.1 75.5h0.8v0.8h-0.8zM24.3 73.5h0.8v0.8h-0.8zM26.6 44.6h0.8v0.8h-0.8zM41.9 73.1h0.8v0.8h-0.8zM36.7 76.7h0.8v0.8h-0.8zM29.4 71.0h0.8v0.8h-0.8zM26.9 76.8h0.8v0.8h-0.8zM24.5 75.1h0.8v0.8h-0.8zM29.8 76.9h0.8v0.8h-0.8zM31.8 72.2h0.8v0.8h-0.8zM37.4 71.0h0.8v0.8h-0.8zM26.4 76.6h0.8v0.8h-0.8zM27.5 72.6h0.8v0.8h-0.8zM33.8 75.0h0.8v0.8h-0.8zM27.1 51.2h0.8v0.8h-0.8zM23.9 79.7h0.8v0.8h-0.8zM23.4 67.0h0.8v0.8h-0.8zM30.6 76.5h0.8v0.8h-0.8zM43.0 74.9h0.8v0.8h-0.8zM16.5 77.0h0.8v0.8h-0.8zM32.4 77.5h0.8v0.8h-0.8zM40.3 73.9h0.8v0.8h-0.8zM27.3 77.8h0.8v0.8h-0.8zM32.7 68.8h0.8v0.8h-0.8zM25.9 35.3h0.8v0.8h-0.8zM23.9 60.7h0.8v0.8h-0.8zM24.0 76.4h0.8v0.8h-0.8zM28.9 77.4h0.8v0.8h-0.8zM21.3 76.5h0.8v0.8h-0.8zM26.7 77.3h0.8v0.8h-0.8zM33.1 74.6h0.8v0.8h-0.8zM27.5 70.0h0.8v0.8h-0.8zM29.3 60.5h0.8v0.8h-0.8zM31.9 76.8h0.8v0.8h-0.8zM19.1 77.1h0.8v0.8h-0.8zM19.0 56.2h0.8v0.8h-0.8zM24.3 72.8h0.8v0.8h-0.8zM23.7 56.4h0.8v0.8h-0.8zM24.7 75.6h0.8v0.8h-0.8zM18.7 76.1h0.8v0.8h-0.8zM38.0 74.5h0.8v0.8h-0.8zM24.2 77.9h0.8v0.8h-0.8zM30.4 50.0h0.8v0.8h-0.8zM34.2 72.9h0.8v0.8h-0.8zM24.2 76.5h0.8v0.8h-0.8zM32.6 73.0h0.8v0.8h-0.8zM12.5 77.0h0.8v0.8h-0.8zM24.1 75.2h0.8v0.8h-0.8z" fill="#6a78ff" opacity="0.85"/><g filter="url(#fbl2)" fill="#2c34f4"><ellipse cx="26.9" cy="76.9" rx="11.6" ry="4.2" opacity="0.9"/><ellipse cx="26.5" cy="68.6" rx="5.0" ry="12.0" opacity="0.85"/><ellipse cx="26.1" cy="73.4" rx="7.6" ry="6.0" opacity="0.8"/></g><ellipse cx="25.7" cy="71.0" rx="2.7" ry="5.2" fill="url(#fc)" opacity="0.75" filter="url(#fbl)"/><g filter="url(#fbl)"><ellipse cx="25.9" cy="75.9" rx="10.0" ry="7.0" fill="url(#fb)"/><ellipse cx="24.5" cy="76.2" rx="8.4" ry="6.2" fill="url(#fc)" transform="rotate(-14 22.9 77.4)"/><ellipse cx="23.7" cy="76.9" rx="5.9" ry="4.0" fill="url(#fg)" transform="rotate(-14 22.9 77.4)"/><ellipse cx="22.9" cy="77.4" rx="3.7" ry="2.2" fill="url(#fy)" transform="rotate(-14 22.9 77.4)"/></g><path d="M0 0V98.2H95.4" fill="none" stroke="#6a6a72" stroke-width="0.8"/><text x="-3.2" y="4.0" font-size="4.6" font-weight="bold" fill="#223" text-anchor="end">500</text><text x="-3.2" y="22.8" font-size="4.6" font-weight="bold" fill="#223" text-anchor="end">400</text><text x="-3.2" y="41.5" font-size="4.6" font-weight="bold" fill="#223" text-anchor="end">300</text><text x="-3.2" y="60.2" font-size="4.6" font-weight="bold" fill="#223" text-anchor="end">200</text><text x="-3.2" y="79.0" font-size="4.6" font-weight="bold" fill="#223" text-anchor="end">100</text><text x="-3.2" y="97.8" font-size="4.6" font-weight="bold" fill="#223" text-anchor="end">0</text><text x="6.2" y="106.8" font-size="4.6" font-weight="bold" fill="#223" text-anchor="middle">10<tspan dy="-2" font-size="3.6">0</tspan></text><text x="27.6" y="106.8" font-size="4.6" font-weight="bold" fill="#223" text-anchor="middle">10<tspan dy="-2" font-size="3.6">1</tspan></text><text x="49.1" y="106.8" font-size="4.6" font-weight="bold" fill="#223" text-anchor="middle">10<tspan dy="-2" font-size="3.6">2</tspan></text><text x="70.5" y="106.8" font-size="4.6" font-weight="bold" fill="#223" text-anchor="middle">10<tspan dy="-2" font-size="3.6">3</tspan></text><text x="92.0" y="106.8" font-size="4.6" font-weight="bold" fill="#223" text-anchor="middle">10<tspan dy="-2" font-size="3.6">4</tspan></text><path d="M-2 2.4H0M-2 21.1H0M-2 39.9H0M-2 58.6H0M-2 77.4H0M-2 96.2H0M6.8 98.2v2.2M13.2 98.2v1.2M17.1 98.2v1.2M19.7 98.2v1.2M21.8 98.2v1.2M23.5 98.2v1.2M25.0 98.2v1.2M26.1 98.2v1.2M27.2 98.2v1.2M28.2 98.2v2.2M34.7 98.2v1.2M38.5 98.2v1.2M41.1 98.2v1.2M43.3 98.2v1.2M45.0 98.2v1.2M46.5 98.2v1.2M47.6 98.2v1.2M48.6 98.2v1.2M49.7 98.2v2.2M56.1 98.2v1.2M60.0 98.2v1.2M62.6 98.2v1.2M64.7 98.2v1.2M66.4 98.2v1.2M67.9 98.2v1.2M69.0 98.2v1.2M70.1 98.2v1.2M71.1 98.2v2.2M77.6 98.2v1.2M81.4 98.2v1.2M84.0 98.2v1.2M86.2 98.2v1.2M87.9 98.2v1.2M89.4 98.2v1.2M90.5 98.2v1.2M91.5 98.2v1.2M92.6 98.2v2.2" stroke="#556" stroke-width="0.5" fill="none"/></g>
<text x="499" y="928.5" font-size="15.3" text-anchor="middle">12.6<tspan font-size="18" dx="2" dy="0.6">±</tspan><tspan dx="2" dy="-0.6">3.9</tspan></text>
<text x="322.3" y="925.5" font-size="15" text-anchor="middle" font-weight="bold">*</text>
<text x="535.8" y="927.5" font-size="13" text-anchor="middle">†</text>
<g transform="translate(27 84) scale(0.6100 0.6100)" clip-path="url(#c100)"><rect width="100" height="100" fill="#000"/><g filter="url(#tb)"><rect width="100" height="100" fill="#000"/><g filter="url(#speck)" opacity="0.85" style="mix-blend-mode:screen"><rect width="100" height="100" fill="none"/><ellipse cx="43" cy="50" rx="17" ry="17" fill="url(#g0)"/></g><g filter="url(#rough)" fill="none" stroke-linecap="round" stroke-linejoin="round" style="mix-blend-mode:screen"><rect width="100" height="100" fill="none" stroke="none"/><path d="M33 12L20 18L12 25L6 35L5 45L8 55L12 68L13 80L12 97" stroke="#22e022" stroke-width="7.5"/><path d="M25 3L38 6L40 10L46 13L55 20L62 25L70 33L80 38L92 43L97 52L96 62L90 74L82 80L75 88L72 99" stroke="#22e022" stroke-width="2.9"/><path d="M75 88L62 90L50 88L40 90L28 92L16 92" stroke="#22e022" stroke-width="3.6"/><path d="M38 2L40 10" stroke="#22e022" stroke-width="3.5"/><path d="M92 43L99 38" stroke="#22e022" stroke-width="2.5" opacity="0.7"/></g></g></g>
<g transform="translate(89.8 84) scale(0.6070 0.6100)" clip-path="url(#c100)"><rect width="100" height="100" fill="#000"/><g filter="url(#tb)"><rect width="100" height="100" fill="#000"/><g filter="url(#speck)" style="mix-blend-mode:screen"><rect width="100" height="100" fill="none"/><ellipse cx="43" cy="54" rx="27" ry="27" fill="url(#g1)"/></g><ellipse cx="43" cy="54" rx="26" ry="26" fill="url(#g2)" opacity="0.8" style="mix-blend-mode:screen"/><ellipse cx="44" cy="55" rx="14" ry="14" fill="url(#g3)" opacity="0.9" style="mix-blend-mode:screen"/><ellipse cx="4" cy="5" rx="12" ry="10" fill="url(#g2)" opacity="0.55" style="mix-blend-mode:screen"/><ellipse cx="88" cy="4" rx="9" ry="8" fill="url(#g2)" opacity="0.45" style="mix-blend-mode:screen"/><ellipse cx="93" cy="93" rx="11" ry="9" fill="url(#g2)" opacity="0.8" style="mix-blend-mode:screen"/></g></g>
<g transform="translate(152 84) scale(0.6100 0.6100)" clip-path="url(#c100)"><rect width="100" height="100" fill="#000"/><g filter="url(#tb)"><rect width="100" height="100" fill="#000"/><g filter="url(#speck)" style="mix-blend-mode:screen"><rect width="100" height="100" fill="none"/><ellipse cx="43" cy="54" rx="27" ry="27" fill="url(#g1)"/></g><ellipse cx="43" cy="54" rx="26" ry="26" fill="url(#g2)" opacity="0.8" style="mix-blend-mode:screen"/><ellipse cx="44" cy="55" rx="14" ry="14" fill="url(#g3)" opacity="0.9" style="mix-blend-mode:screen"/><ellipse cx="4" cy="5" rx="12" ry="10" fill="url(#g2)" opacity="0.55" style="mix-blend-mode:screen"/><ellipse cx="88" cy="4" rx="9" ry="8" fill="url(#g2)" opacity="0.45" style="mix-blend-mode:screen"/><ellipse cx="93" cy="93" rx="11" ry="9" fill="url(#g2)" opacity="0.8" style="mix-blend-mode:screen"/><ellipse cx="48" cy="52" rx="11" ry="13" fill="url(#g4)" opacity="0.95" style="mix-blend-mode:screen"/><ellipse cx="47" cy="50" rx="5" ry="6" fill="url(#g5)" opacity="0.6" style="mix-blend-mode:screen"/><g filter="url(#rough)" fill="none" stroke-linecap="round" stroke-linejoin="round" style="mix-blend-mode:screen"><rect width="100" height="100" fill="none" stroke="none"/><path d="M33 12L20 18L12 25L6 35L5 45L8 55L12 68L13 80L12 97" stroke="#22e022" stroke-width="7.5"/><path d="M25 3L38 6L40 10L46 13L55 20L62 25L70 33L80 38L92 43L97 52L96 62L90 74L82 80L75 88L72 99" stroke="#22e022" stroke-width="2.9"/><path d="M75 88L62 90L50 88L40 90L28 92L16 92" stroke="#22e022" stroke-width="3.6"/><path d="M38 2L40 10" stroke="#22e022" stroke-width="3.5"/><path d="M92 43L99 38" stroke="#22e022" stroke-width="2.5" opacity="0.7"/></g></g></g>
<g transform="translate(215 84) scale(0.6050 0.6100)" clip-path="url(#c100)"><rect width="100" height="100" fill="#000"/><g filter="url(#tb)"><rect width="100" height="100" fill="#000"/><g filter="url(#cloud)" opacity="0.9" style="mix-blend-mode:screen"><rect width="100" height="100" fill="none"/><ellipse cx="50" cy="50" rx="70" ry="70" fill="url(#g6)"/></g><ellipse cx="48" cy="50" rx="42" ry="42" fill="url(#g7)" opacity="0.85" style="mix-blend-mode:screen"/><g filter="url(#speck)" opacity="0.95" style="mix-blend-mode:screen"><rect width="100" height="100" fill="none"/><ellipse cx="48" cy="50" rx="44" ry="44" fill="url(#g8)"/></g><g filter="url(#cloud)" opacity="0.75" style="mix-blend-mode:screen"><rect width="100" height="100" fill="none"/><ellipse cx="50" cy="52" rx="40" ry="40" fill="url(#g9)"/></g><ellipse cx="50" cy="48" rx="22" ry="22" fill="url(#g10)" opacity="0.6" style="mix-blend-mode:screen"/><g filter="url(#speck)" opacity="0.7" style="mix-blend-mode:screen"><rect width="100" height="100" fill="none"/><ellipse cx="50" cy="50" rx="28" ry="28" fill="url(#g11)"/></g><ellipse cx="22" cy="48" rx="8" ry="10" fill="url(#g12)" opacity="0.85" style="mix-blend-mode:screen"/><ellipse cx="24" cy="40" rx="4" ry="4" fill="url(#g13)" opacity="0.6" style="mix-blend-mode:screen"/><ellipse cx="88" cy="6" rx="10" ry="9" fill="url(#g14)" opacity="0.95" style="mix-blend-mode:screen"/><ellipse cx="76" cy="94" rx="12" ry="13" fill="url(#g15)" opacity="0.9" style="mix-blend-mode:screen"/><ellipse cx="70" cy="80" rx="6" ry="10" fill="url(#g16)" opacity="0.6" style="mix-blend-mode:screen"/><g filter="url(#cloud)" opacity="0.6" style="mix-blend-mode:screen"><rect width="100" height="100" fill="none"/><ellipse cx="12" cy="30" rx="10" ry="20" fill="url(#g17)"/></g><ellipse cx="50" cy="45" rx="12" ry="11" fill="url(#g18)"/><ellipse cx="49" cy="52" rx="6" ry="4" fill="url(#g19)" opacity="0.6" style="mix-blend-mode:screen"/></g></g>
<g transform="translate(277 84) scale(0.6050 0.6100)" clip-path="url(#c100)"><rect width="100" height="100" fill="#000"/><g filter="url(#tb)"><rect width="100" height="100" fill="#000"/><g filter="url(#cloud)" opacity="0.8" style="mix-blend-mode:screen"><rect width="100" height="100" fill="none"/><ellipse cx="50" cy="50" rx="60" ry="60" fill="url(#g20)"/></g><g filter="url(#speck)" opacity="0.95" style="mix-blend-mode:screen"><rect width="100" height="100" fill="none"/><ellipse cx="55" cy="46" rx="27" ry="26" fill="url(#g21)"/></g><ellipse cx="56" cy="48" rx="24" ry="22" fill="url(#g22)" opacity="0.7" style="mix-blend-mode:screen"/><ellipse cx="62" cy="62" rx="12" ry="8" fill="url(#g23)" opacity="0.8" style="mix-blend-mode:screen"/><g filter="url(#speck)" opacity="0.55" style="mix-blend-mode:screen"><rect width="100" height="100" fill="none"/><ellipse cx="40" cy="38" rx="12" ry="10" fill="url(#g24)"/></g><ellipse cx="6" cy="8" rx="14" ry="12" fill="url(#g2)" opacity="0.4" style="mix-blend-mode:screen"/><ellipse cx="97" cy="25" rx="8" ry="14" fill="url(#g2)" opacity="0.4" style="mix-blend-mode:screen"/><ellipse cx="98" cy="65" rx="6" ry="10" fill="url(#g2)" opacity="0.5" style="mix-blend-mode:screen"/><ellipse cx="5" cy="90" rx="8" ry="10" fill="url(#g2)" opacity="0.3" style="mix-blend-mode:screen"/><ellipse cx="62" cy="47" rx="15" ry="12" fill="url(#g25)"/><ellipse cx="55" cy="50" rx="6" ry="4" fill="url(#g26)" opacity="0.7" style="mix-blend-mode:screen"/><g filter="url(#rough)" fill="none" stroke-linecap="round" stroke-linejoin="round" style="mix-blend-mode:screen"><rect width="100" height="100" fill="none" stroke="none"/><path d="M4 46L14 31L30 19L50 10L68 9L80 18L87 38L92 55L89 74L78 85" stroke="#22e022" stroke-width="3.2"/><path d="M8 60L20 67L35 72L55 80L68 88L78 85" stroke="#22e022" stroke-width="3.4"/><path d="M4 46L8 60L14 72L14 84L16 97" stroke="#22e022" stroke-width="3.6"/><path d="M68 9L80 4L94 6" stroke="#22e022" stroke-width="2.6"/><path d="M88 48L93 62L90 72" stroke="#22e022" stroke-width="5.5"/><path d="M68 88L80 96L97 92" stroke="#22e022" stroke-width="3.0"/><path d="M30 19L26 8L40 3" stroke="#22e022" stroke-width="2.0" opacity="0.7"/></g></g><rect x="60.5" y="85.3" width="34.5" height="4.2" fill="#fff"/></g>
<g transform="translate(27 148.4) scale(0.6100 0.6060)" clip-path="url(#c100)"><rect width="100" height="100" fill="#000"/><g filter="url(#tb)"><rect width="100" height="100" fill="#000"/><g filter="url(#cloud)" opacity="0.95" style="mix-blend-mode:screen"><rect width="100" height="100" fill="none"/><ellipse cx="50" cy="50" rx="75" ry="75" fill="url(#g27)"/></g><g filter="url(#speck)" opacity="0.8" style="mix-blend-mode:screen"><rect width="100" height="100" fill="none"/><ellipse cx="45" cy="55" rx="20" ry="20" fill="url(#g0)"/></g><g filter="url(#rough)" fill="none" stroke-linecap="round" stroke-linejoin="round" style="mix-blend-mode:screen"><rect width="100" height="100" fill="none" stroke="none"/><path d="M5 30L20 22L35 12L50 8L65 12L75 15L88 10L99 12" stroke="#22e022" stroke-width="1.73"/><path d="M86 2L94 13L99 25" stroke="#22e022" stroke-width="3.6"/><path d="M85 28L80 40L80 55L82 65L88 72L99 82" stroke="#22e022" stroke-width="1.73"/><path d="M12 72L20 85L32 93L45 92L60 95L75 96L97 95" stroke="#22e022" stroke-width="2.02"/><path d="M82 65L70 72L58 80L50 88L45 92" stroke="#22e022" stroke-width="1.58"/><path d="M5 30L5 45L10 60L12 72" stroke="#22e022" stroke-width="1.73"/><path d="M35 12L25 25L10 30" stroke="#22e022" stroke-width="1.3" opacity="0.7"/><path d="M20 4L45 3L70 4" stroke="#22e022" stroke-width="1.44" opacity="0.6"/></g></g></g>
<g transform="translate(89.8 148.4) scale(0.6070 0.6060)" clip-path="url(#c100)"><rect width="100" height="100" fill="#000"/><g filter="url(#tb)"><rect width="100" height="100" fill="#000"/><g filter="url(#speck)" opacity="0.5" style="mix-blend-mode:screen"><rect width="100" height="100" fill="none"/><ellipse cx="55" cy="53" rx="18" ry="18" fill="url(#g28)"/></g><ellipse cx="55" cy="53" rx="18" ry="18" fill="url(#g29)" opacity="0.3" style="mix-blend-mode:screen"/><ellipse cx="75" cy="80" rx="13" ry="8" fill="url(#g30)" opacity="0.45" style="mix-blend-mode:screen"/></g></g>
<g transform="translate(152 148.4) scale(0.6100 0.6060)" clip-path="url(#c100)"><rect width="100" height="100" fill="#000"/><g filter="url(#tb)"><rect width="100" height="100" fill="#000"/><g filter="url(#cloud)" opacity="0.95" style="mix-blend-mode:screen"><rect width="100" height="100" fill="none"/><ellipse cx="50" cy="50" rx="75" ry="75" fill="url(#g27)"/></g><g filter="url(#speck)" opacity="0.8" style="mix-blend-mode:screen"><rect width="100" height="100" fill="none"/><ellipse cx="45" cy="55" rx="20" ry="20" fill="url(#g0)"/></g><g filter="url(#speck)" opacity="0.8" style="mix-blend-mode:screen"><rect width="100" height="100" fill="none"/><ellipse cx="48" cy="55" rx="22" ry="22" fill="url(#g31)"/></g><ellipse cx="70" cy="80" rx="10" ry="6" fill="url(#g32)" opacity="0.9" style="mix-blend-mode:screen"/><ellipse cx="48" cy="55" rx="10" ry="10" fill="url(#g33)"/><ellipse cx="81" cy="85" rx="11" ry="7" fill="url(#g34)"/><g filter="url(#rough)" fill="none" stroke-linecap="round" stroke-linejoin="round" style="mix-blend-mode:screen"><rect width="100" height="100" fill="none" stroke="none"/><path d="M5 30L20 22L35 12L50 8L65 12L75 15L88 10L99 12" stroke="#22e022" stroke-width="1.73"/><path d="M86 2L94 13L99 25" stroke="#22e022" stroke-width="3.6"/><path d="M85 28L80 40L80 55L82 65L88 72L99 82" stroke="#22e022" stroke-width="1.73"/><path d="M12 72L20 85L32 93L45 92L60 95L75 96L97 95" stroke="#22e022" stroke-width="2.02"/><path d="M82 65L70 72L58 80L50 88L45 92" stroke="#22e022" stroke-width="1.58"/><path d="M5 30L5 45L10 60L12 72" stroke="#22e022" stroke-width="1.73"/><path d="M35 12L25 25L10 30" stroke="#22e022" stroke-width="1.3" opacity="0.7"/><path d="M20 4L45 3L70 4" stroke="#22e022" stroke-width="1.44" opacity="0.6"/></g></g></g>
<g transform="translate(215 148.4) scale(0.6050 0.6060)" clip-path="url(#c100)"><rect width="100" height="100" fill="#000"/><g filter="url(#tb)"><rect width="100" height="100" fill="#000"/><g filter="url(#speck2)" style="mix-blend-mode:screen"><rect width="100" height="100" fill="none"/><ellipse cx="55" cy="55" rx="47" ry="47" fill="url(#g35)"/></g><ellipse cx="55" cy="55" rx="44" ry="44" fill="url(#g36)" opacity="0.8" style="mix-blend-mode:screen"/><g filter="url(#speck)" opacity="0.5" style="mix-blend-mode:screen"><rect width="100" height="100" fill="none"/><ellipse cx="55" cy="55" rx="48" ry="48" fill="url(#g37)"/></g><g filter="url(#speck)" opacity="0.8" style="mix-blend-mode:screen"><rect width="100" height="100" fill="none"/><ellipse cx="52" cy="62" rx="22" ry="22" fill="url(#g38)"/></g><ellipse cx="52" cy="58" rx="10" ry="9" fill="url(#g39)" opacity="0.95" style="mix-blend-mode:screen"/><ellipse cx="56" cy="68" rx="5" ry="10" fill="url(#g40)" opacity="0.6" transform="rotate(-25 56 68)" style="mix-blend-mode:screen"/><g filter="url(#speck)" opacity="0.8" style="mix-blend-mode:screen"><rect width="100" height="100" fill="none"/><ellipse cx="12" cy="96" rx="16" ry="8" fill="url(#g38)"/></g><ellipse cx="58" cy="45" rx="11" ry="10" fill="url(#g41)" opacity="0.95"/></g></g>
<g transform="translate(277 148.4) scale(0.6050 0.6060)" clip-path="url(#c100)"><rect width="100" height="100" fill="#000"/><g filter="url(#tb)"><rect width="100" height="100" fill="#000"/><g filter="url(#cloud)" opacity="0.8" style="mix-blend-mode:screen"><rect width="100" height="100" fill="none"/><ellipse cx="50" cy="50" rx="70" ry="70" fill="url(#g42)"/></g><ellipse cx="52" cy="50" rx="32" ry="26" fill="url(#g43)" opacity="0.9" style="mix-blend-mode:screen"/><ellipse cx="52" cy="45" rx="24" ry="14" fill="url(#g44)" opacity="0.95" style="mix-blend-mode:screen"/><g filter="url(#speck)" opacity="0.8" style="mix-blend-mode:screen"><rect width="100" height="100" fill="none"/><ellipse cx="50" cy="50" rx="30" ry="22" fill="url(#g45)"/></g><g filter="url(#speck)" opacity="0.95" style="mix-blend-mode:screen"><rect width="100" height="100" fill="none"/><ellipse cx="75" cy="8" rx="26" ry="10" fill="url(#g38)"/></g><g filter="url(#speck2)" opacity="0.8" style="mix-blend-mode:screen"><rect width="100" height="100" fill="none"/><ellipse cx="8" cy="45" rx="10" ry="20" fill="url(#g45)"/></g><g filter="url(#cloud)" opacity="0.9" style="mix-blend-mode:screen"><rect width="100" height="100" fill="none"/><ellipse cx="95" cy="50" rx="9" ry="50" fill="url(#g46)"/></g><g filter="url(#speck)" opacity="0.9" style="mix-blend-mode:screen"><rect width="100" height="100" fill="none"/><ellipse cx="97" cy="50" rx="6" ry="40" fill="url(#g45)"/></g><g filter="url(#speck2)" opacity="0.8" style="mix-blend-mode:screen"><rect width="100" height="100" fill="none"/><ellipse cx="12" cy="78" rx="16" ry="12" fill="url(#g45)"/></g><g filter="url(#speck)" opacity="0.9" style="mix-blend-mode:screen"><rect width="100" height="100" fill="none"/><ellipse cx="70" cy="96" rx="34" ry="9" fill="url(#g38)"/></g><ellipse cx="85" cy="88" rx="14" ry="10" fill="url(#g47)" opacity="0.7" style="mix-blend-mode:screen"/><ellipse cx="52" cy="58" rx="17" ry="9.5" fill="url(#g48)" opacity="0.9"/><ellipse cx="50" cy="58" rx="10" ry="5" fill="url(#g49)" opacity="0.5" style="mix-blend-mode:screen"/></g><rect x="60.5" y="86" width="34.5" height="4.2" fill="#fff"/></g>
<g transform="translate(43.3 320) scale(0.5970 0.5970)" clip-path="url(#c100)"><rect width="100" height="100" fill="#000"/><g filter="url(#tb)"><rect width="100" height="100" fill="#000"/><g filter="url(#cloud)" style="mix-blend-mode:screen"><rect width="100" height="100" fill="none"/><ellipse cx="50" cy="50" rx="80" ry="80" fill="url(#g50)"/></g><g filter="url(#speck)" opacity="0.75" style="mix-blend-mode:screen"><rect width="100" height="100" fill="none"/><ellipse cx="52" cy="52" rx="30" ry="30" fill="url(#g51)"/></g><g filter="url(#cloud)" opacity="0.6" style="mix-blend-mode:screen"><rect width="100" height="100" fill="none"/><ellipse cx="12" cy="80" rx="14" ry="14" fill="url(#g52)"/></g><g filter="url(#cloud)" opacity="0.5" style="mix-blend-mode:screen"><rect width="100" height="100" fill="none"/><ellipse cx="85" cy="25" rx="14" ry="12" fill="url(#g52)"/></g><ellipse cx="52" cy="48" rx="9" ry="9" fill="url(#g53)" opacity="0.8"/><g filter="url(#rough)" fill="none" stroke-linecap="round" stroke-linejoin="round" style="mix-blend-mode:screen"><rect width="100" height="100" fill="none" stroke="none"/><path d="M2 36L12 30L25 22L35 12L42 5L55 3L62 8" stroke="#22e022" stroke-width="2.81"/><path d="M22 28L30 18L38 8" stroke="#22e022" stroke-width="1.56" opacity="0.7"/><path d="M62 8L68 18L75 30L82 40L90 48L92 58L88 70L78 78L65 85L58 96" stroke="#22e022" stroke-width="2.96"/><path d="M22 50L28 60L38 72L45 82L52 92L56 99" stroke="#22e022" stroke-width="2.96"/><path d="M2 44L12 42L22 50" stroke="#22e022" stroke-width="2.34"/><path d="M86 2L99 8" stroke="#22e022" stroke-width="1.95"/><path d="M90 16L99 18" stroke="#22e022" stroke-width="1.56"/><path d="M90 48L99 44" stroke="#22e022" stroke-width="2.34"/></g></g></g>
<g transform="translate(106 320) scale(0.5980 0.5970)" clip-path="url(#c100)"><rect width="100" height="100" fill="#000"/><g filter="url(#tb)"><rect width="100" height="100" fill="#000"/></g></g>
<g transform="translate(169.3 320) scale(0.6020 0.5970)" clip-path="url(#c100)"><rect width="100" height="100" fill="#000"/><g filter="url(#tb)"><rect width="100" height="100" fill="#000"/><g filter="url(#cloud)" style="mix-blend-mode:screen"><rect width="100" height="100" fill="none"/><ellipse cx="50" cy="50" rx="80" ry="80" fill="url(#g50)"/></g><g filter="url(#speck)" opacity="0.75" style="mix-blend-mode:screen"><rect width="100" height="100" fill="none"/><ellipse cx="52" cy="52" rx="30" ry="30" fill="url(#g51)"/></g><g filter="url(#cloud)" opacity="0.6" style="mix-blend-mode:screen"><rect width="100" height="100" fill="none"/><ellipse cx="12" cy="80" rx="14" ry="14" fill="url(#g52)"/></g><g filter="url(#cloud)" opacity="0.5" style="mix-blend-mode:screen"><rect width="100" height="100" fill="none"/><ellipse cx="85" cy="25" rx="14" ry="12" fill="url(#g52)"/></g><ellipse cx="50" cy="45" rx="12" ry="13" fill="url(#g54)"/><ellipse cx="93" cy="18" rx="11" ry="15" fill="url(#g54)"/><ellipse cx="28" cy="97" rx="11" ry="7" fill="url(#g55)" opacity="0.9"/><g filter="url(#rough)" fill="none" stroke-linecap="round" stroke-linejoin="round" style="mix-blend-mode:screen"><rect width="100" height="100" fill="none" stroke="none"/><path d="M2 36L12 30L25 22L35 12L42 5L55 3L62 8" stroke="#22e022" stroke-width="2.81"/><path d="M22 28L30 18L38 8" stroke="#22e022" stroke-width="1.56" opacity="0.7"/><path d="M62 8L68 18L75 30L82 40L90 48L92 58L88 70L78 78L65 85L58 96" stroke="#22e022" stroke-width="2.96"/><path d="M22 50L28 60L38 72L45 82L52 92L56 99" stroke="#22e022" stroke-width="2.96"/><path d="M2 44L12 42L22 50" stroke="#22e022" stroke-width="2.34"/><path d="M86 2L99 8" stroke="#22e022" stroke-width="1.95"/><path d="M90 16L99 18" stroke="#22e022" stroke-width="1.56"/><path d="M90 48L99 44" stroke="#22e022" stroke-width="2.34"/></g></g></g>
<g transform="translate(232.3 320) scale(0.6020 0.5970)" clip-path="url(#c100)"><rect width="100" height="100" fill="#000"/><g filter="url(#tb)"><rect width="100" height="100" fill="#000"/><g filter="url(#cloud)" style="mix-blend-mode:screen"><rect width="100" height="100" fill="none"/><ellipse cx="35" cy="50" rx="62" ry="72" fill="url(#g56)"/></g><ellipse cx="30" cy="45" rx="45" ry="50" fill="url(#g47)" opacity="0.85" style="mix-blend-mode:screen"/><g filter="url(#speck)" opacity="0.8" style="mix-blend-mode:screen"><rect width="100" height="100" fill="none"/><ellipse cx="40" cy="42" rx="48" ry="48" fill="url(#g57)"/></g><ellipse cx="80" cy="6" rx="25" ry="6" fill="url(#g58)" opacity="0.8" style="mix-blend-mode:screen"/><g filter="url(#cloud)" opacity="0.7" style="mix-blend-mode:screen"><rect width="100" height="100" fill="none"/><ellipse cx="85" cy="88" rx="18" ry="14" fill="url(#g47)"/></g><ellipse cx="30" cy="70" rx="12" ry="8" fill="url(#g59)" opacity="0.7"/><ellipse cx="80" cy="30" rx="18" ry="18" fill="url(#g59)" opacity="0.6"/><path d="M88 30L86 45L84 55" stroke="#20c020" stroke-width="1.17" opacity="0.8"/><ellipse cx="52" cy="52" rx="14" ry="13" fill="url(#g54)"/><ellipse cx="92" cy="68" rx="10" ry="11" fill="url(#g54)"/><ellipse cx="8" cy="82" rx="7" ry="7" fill="url(#g60)" opacity="0.8"/></g></g>
<g transform="translate(296 320) scale(0.6020 0.5970)" clip-path="url(#c100)"><rect width="100" height="100" fill="#000"/><g filter="url(#tb)"><rect width="100" height="100" fill="#000"/><g filter="url(#cloud)" style="mix-blend-mode:screen"><rect width="100" height="100" fill="none"/><ellipse cx="50" cy="50" rx="80" ry="80" fill="url(#g61)"/></g><ellipse cx="55" cy="60" rx="30" ry="30" fill="url(#g62)" opacity="0.6" style="mix-blend-mode:screen"/><ellipse cx="42" cy="52" rx="14" ry="14" fill="url(#g54)"/><g filter="url(#rough)" fill="none" stroke-linecap="round" stroke-linejoin="round" style="mix-blend-mode:screen"><rect width="100" height="100" fill="none" stroke="none"/><path d="M28 3L30 12L28 22L22 32L18 45L15 55L18 65L20 78L22 90L25 99" stroke="#22e022" stroke-width="2.81"/><path d="M28 8L40 8L52 10L62 15L72 20L80 25L88 32" stroke="#22e022" stroke-width="2.34"/><path d="M88 32L88 45L85 58L82 70L80 82L76 92" stroke="#22e022" stroke-width="2.81"/><path d="M22 90L35 92L50 95L60 95" stroke="#22e022" stroke-width="2.34"/><path d="M2 5L8 15L12 25" stroke="#22e022" stroke-width="1.95"/><path d="M0 42L12 40L18 45" stroke="#22e022" stroke-width="1.72"/><path d="M0 49L10 51" stroke="#22e022" stroke-width="1.56"/><path d="M88 32L99 30" stroke="#22e022" stroke-width="1.95"/><path d="M92 15L99 18" stroke="#22e022" stroke-width="1.95"/></g></g><rect x="59.5" y="93.8" width="36" height="4.6" fill="#fff"/></g>
<g transform="translate(43.3 387) scale(0.5970 0.6030)" clip-path="url(#c100)"><rect width="100" height="100" fill="#000"/><g filter="url(#tb)"><rect width="100" height="100" fill="#000"/><g filter="url(#cloud)" style="mix-blend-mode:screen"><rect width="100" height="100" fill="none"/><ellipse cx="50" cy="50" rx="80" ry="80" fill="url(#g63)"/></g><ellipse cx="50" cy="50" rx="70" ry="70" fill="url(#g64)" opacity="0.6" style="mix-blend-mode:screen"/><ellipse cx="43" cy="32" rx="24" ry="26" fill="url(#g65)" opacity="0.6" style="mix-blend-mode:screen"/><ellipse cx="25" cy="32" rx="8" ry="10" fill="url(#g40)" opacity="0.7" style="mix-blend-mode:screen"/><ellipse cx="52" cy="44" rx="7" ry="6" fill="url(#g40)" opacity="0.7" style="mix-blend-mode:screen"/><g filter="url(#speck)" opacity="0.6" style="mix-blend-mode:screen"><rect width="100" height="100" fill="none"/><ellipse cx="50" cy="50" rx="60" ry="60" fill="url(#g66)"/></g><ellipse cx="43" cy="28" rx="10" ry="12" fill="url(#g67)" opacity="0.9"/><g filter="url(#rough)" fill="none" stroke-linecap="round" stroke-linejoin="round" style="mix-blend-mode:screen"><rect width="100" height="100" fill="none" stroke="none"/><path d="M5 55L12 58L20 65L26 75L32 88L38 99" stroke="#22e022" stroke-width="2.5"/><path d="M40 97L45 80L52 70L62 62L72 52L78 42L82 30L85 18L88 3" stroke="#22e022" stroke-width="2.65"/><path d="M12 12L30 6L50 4L70 6L85 4" stroke="#22e022" stroke-width="2.03"/><path d="M94 25L99 30" stroke="#22e022" stroke-width="3.12"/><path d="M88 75L96 82" stroke="#22e022" stroke-width="3.12" opacity="0.8"/><path d="M3 30L3 45" stroke="#22e022" stroke-width="2.34" opacity="0.8"/></g></g></g>
<g transform="translate(106 387) scale(0.5980 0.6030)" clip-path="url(#c100)"><rect width="100" height="100" fill="#000"/><g filter="url(#tb)"><rect width="100" height="100" fill="#000"/><g filter="url(#speck)" style="mix-blend-mode:screen"><rect width="100" height="100" fill="none"/><ellipse cx="42" cy="35" rx="24" ry="26" fill="url(#g68)"/></g><ellipse cx="27" cy="30" rx="9" ry="17" fill="url(#g3)" opacity="0.95" style="mix-blend-mode:screen"/><ellipse cx="52" cy="14" rx="9" ry="6" fill="url(#g69)" opacity="0.8" style="mix-blend-mode:screen"/><ellipse cx="45" cy="55" rx="8" ry="6" fill="url(#g69)" opacity="0.85" style="mix-blend-mode:screen"/><ellipse cx="60" cy="40" rx="5" ry="10" fill="url(#g70)" opacity="0.6" style="mix-blend-mode:screen"/><ellipse cx="4" cy="35" rx="4" ry="5" fill="url(#g69)" opacity="0.9" style="mix-blend-mode:screen"/></g></g>
<g transform="translate(169.3 387) scale(0.6020 0.6030)" clip-path="url(#c100)"><rect width="100" height="100" fill="#000"/><g filter="url(#tb)"><rect width="100" height="100" fill="#000"/><g filter="url(#cloud)" style="mix-blend-mode:screen"><rect width="100" height="100" fill="none"/><ellipse cx="50" cy="50" rx="80" ry="80" fill="url(#g63)"/></g><ellipse cx="50" cy="50" rx="70" ry="70" fill="url(#g64)" opacity="0.6" style="mix-blend-mode:screen"/><ellipse cx="43" cy="32" rx="24" ry="26" fill="url(#g65)" opacity="0.6" style="mix-blend-mode:screen"/><ellipse cx="25" cy="32" rx="8" ry="10" fill="url(#g40)" opacity="0.7" style="mix-blend-mode:screen"/><ellipse cx="52" cy="44" rx="7" ry="6" fill="url(#g40)" opacity="0.7" style="mix-blend-mode:screen"/><g filter="url(#speck)" opacity="0.6" style="mix-blend-mode:screen"><rect width="100" height="100" fill="none"/><ellipse cx="50" cy="50" rx="60" ry="60" fill="url(#g66)"/></g><g filter="url(#speck)"><rect width="100" height="100" fill="none"/><ellipse cx="42" cy="35" rx="24" ry="26" fill="url(#g71)"/></g><g filter="url(#speck2)" opacity="0.6" style="mix-blend-mode:screen"><rect width="100" height="100" fill="none"/><ellipse cx="42" cy="35" rx="24" ry="26" fill="url(#g72)"/></g><ellipse cx="27" cy="30" rx="8" ry="16" fill="url(#g73)" opacity="0.9"/><ellipse cx="52" cy="14" rx="9" ry="6" fill="url(#g74)" opacity="0.85"/><ellipse cx="45" cy="55" rx="8" ry="6" fill="url(#g75)" opacity="0.9"/><ellipse cx="60" cy="40" rx="5" ry="10" fill="url(#g76)" opacity="0.6"/><ellipse cx="4" cy="35" rx="4" ry="5" fill="url(#g77)" opacity="0.9" style="mix-blend-mode:screen"/><ellipse cx="30" cy="50" rx="10" ry="8" fill="url(#g78)" opacity="0.5" style="mix-blend-mode:screen"/><ellipse cx="43" cy="32" rx="10" ry="14" fill="url(#g79)"/><g filter="url(#rough)" fill="none" stroke-linecap="round" stroke-linejoin="round" style="mix-blend-mode:screen"><rect width="100" height="100" fill="none" stroke="none"/><path d="M5 55L12 58L20 65L26 75L32 88L38 99" stroke="#22e022" stroke-width="2.5"/><path d="M40 97L45 80L52 70L62 62L72 52L78 42L82 30L85 18L88 3" stroke="#22e022" stroke-width="2.65"/><path d="M12 12L30 6L50 4L70 6L85 4" stroke="#22e022" stroke-width="2.03"/><path d="M94 25L99 30" stroke="#22e022" stroke-width="3.12"/><path d="M88 75L96 82" stroke="#22e022" stroke-width="3.12" opacity="0.8"/><path d="M3 30L3 45" stroke="#22e022" stroke-width="2.34" opacity="0.8"/></g></g></g>
<g transform="translate(232.3 387) scale(0.6020 0.6030)" clip-path="url(#c100)"><rect width="100" height="100" fill="#000"/><g filter="url(#tb)"><rect width="100" height="100" fill="#000"/><g filter="url(#cloud)" style="mix-blend-mode:screen"><rect width="100" height="100" fill="none"/><ellipse cx="50" cy="58" rx="80" ry="58" fill="url(#g80)"/></g><ellipse cx="50" cy="62" rx="55" ry="36" fill="url(#g81)" opacity="0.75" style="mix-blend-mode:screen"/><g filter="url(#speck)" opacity="0.5" style="mix-blend-mode:screen"><rect width="100" height="100" fill="none"/><ellipse cx="50" cy="60" rx="60" ry="40" fill="url(#g58)"/></g><ellipse cx="8" cy="90" rx="24" ry="20" fill="url(#g82)" style="mix-blend-mode:screen"/><g filter="url(#cloud)" opacity="0.9" style="mix-blend-mode:screen"><rect width="100" height="100" fill="none"/><ellipse cx="88" cy="82" rx="24" ry="22" fill="url(#g38)"/></g><ellipse cx="88" cy="85" rx="16" ry="14" fill="url(#g38)" opacity="0.8" style="mix-blend-mode:screen"/><ellipse cx="50" cy="60" rx="29" ry="21" fill="url(#g83)" transform="rotate(25 50 60)"/><ellipse cx="37" cy="49" rx="13" ry="10" fill="url(#g84)" opacity="0.9"/><ellipse cx="64" cy="68" rx="10" ry="7" fill="url(#g85)" opacity="0.9"/><ellipse cx="52" cy="62" rx="14" ry="10" fill="url(#g86)" transform="rotate(-15 52 62)"/></g></g>
<g transform="translate(296 387) scale(0.6020 0.6030)" clip-path="url(#c100)"><rect width="100" height="100" fill="#000"/><g filter="url(#tb)"><rect width="100" height="100" fill="#000"/><g filter="url(#cloud)" style="mix-blend-mode:screen"><rect width="100" height="100" fill="none"/><ellipse cx="50" cy="50" rx="80" ry="80" fill="url(#g61)"/></g><ellipse cx="48" cy="48" rx="26" ry="22" fill="url(#g87)" style="mix-blend-mode:screen"/><g filter="url(#speck)" opacity="0.9" style="mix-blend-mode:screen"><rect width="100" height="100" fill="none"/><ellipse cx="60" cy="42" rx="12" ry="12" fill="url(#g88)"/></g><g filter="url(#speck)" opacity="0.7" style="mix-blend-mode:screen"><rect width="100" height="100" fill="none"/><ellipse cx="48" cy="48" rx="27" ry="23" fill="url(#g70)"/></g><ellipse cx="3" cy="15" rx="7" ry="7" fill="url(#g89)" opacity="0.9" style="mix-blend-mode:screen"/><ellipse cx="20" cy="93" rx="9" ry="7" fill="url(#g90)" opacity="0.9" style="mix-blend-mode:screen"/><ellipse cx="42" cy="94" rx="6" ry="5" fill="url(#g49)" opacity="0.9" style="mix-blend-mode:screen"/><ellipse cx="90" cy="92" rx="10" ry="8" fill="url(#g89)" opacity="0.9" style="mix-blend-mode:screen"/><ellipse cx="45" cy="50" rx="12" ry="10" fill="url(#g54)"/><g filter="url(#rough)" fill="none" stroke-linecap="round" stroke-linejoin="round" style="mix-blend-mode:screen"><rect width="100" height="100" fill="none" stroke="none"/><path d="M5 38L15 30L25 22L35 15L45 8" stroke="#22e022" stroke-width="3.51"/><path d="M45 8L55 10L65 15L80 18L97 15" stroke="#22e022" stroke-width="2.03"/><path d="M3 35L3 45L8 52L15 58L18 68L22 78L28 88L35 96" stroke="#22e022" stroke-width="3.51"/><path d="M90 52L82 60L72 68L62 75L55 82L50 90L45 98" stroke="#22e022" stroke-width="3.51"/><path d="M85 20L88 35L90 52" stroke="#22e022" stroke-width="1.87"/><path d="M45 3L47 8" stroke="#22e022" stroke-width="2.34"/></g></g><rect x="59.5" y="88" width="35.5" height="4.4" fill="#fff"/></g>
<g transform="translate(43.3 455.7) scale(0.5970 0.5970)" clip-path="url(#c100)"><rect width="100" height="100" fill="#000"/><g filter="url(#tb)"><rect width="100" height="100" fill="#000"/><g filter="url(#cloud)" style="mix-blend-mode:screen"><rect width="100" height="100" fill="none"/><ellipse cx="50" cy="50" rx="80" ry="80" fill="url(#g91)"/></g><ellipse cx="41" cy="42" rx="9" ry="15" fill="url(#g38)" opacity="0.85" style="mix-blend-mode:screen"/><g filter="url(#speck)" opacity="0.5" style="mix-blend-mode:screen"><rect width="100" height="100" fill="none"/><ellipse cx="50" cy="50" rx="50" ry="50" fill="url(#g92)"/></g><g filter="url(#speck)" opacity="0.7" style="mix-blend-mode:screen"><rect width="100" height="100" fill="none"/><ellipse cx="85" cy="78" rx="12" ry="10" fill="url(#g52)"/></g><g filter="url(#rough)" fill="none" stroke-linecap="round" stroke-linejoin="round" style="mix-blend-mode:screen"><rect width="100" height="100" fill="none" stroke="none"/><path d="M3 22L8 35L15 45L22 58L27 70L30 82" stroke="#22e022" stroke-width="2.65"/><path d="M4 5L20 8L40 5L60 4" stroke="#22e022" stroke-width="1.72" opacity="0.8"/><path d="M76 3L70 12L62 20" stroke="#22e022" stroke-width="3.9"/><path d="M22 92L35 90L55 95" stroke="#22e022" stroke-width="1.56" opacity="0.7"/><path d="M2 4L5 20" stroke="#22e022" stroke-width="2.73"/></g></g></g>
<g transform="translate(106 455.7) scale(0.5980 0.5970)" clip-path="url(#c100)"><rect width="100" height="100" fill="#000"/><g filter="url(#tb)"><rect width="100" height="100" fill="#000"/><path d="M0 42L7 55L18 78L6 99L0 99Z" fill="#f01414" filter="url(#soft)"/><g filter="url(#speck)" opacity="0.9" style="mix-blend-mode:screen"><rect width="100" height="100" fill="none"/><ellipse cx="50" cy="40" rx="20" ry="20" fill="url(#g93)"/></g><ellipse cx="62" cy="42" rx="6" ry="12" fill="url(#g70)" opacity="0.6" style="mix-blend-mode:screen"/><ellipse cx="50" cy="56" rx="10" ry="5" fill="url(#g70)" opacity="0.6" style="mix-blend-mode:screen"/></g></g>
<g transform="translate(169.3 455.7) scale(0.6020 0.5970)" clip-path="url(#c100)"><rect width="100" height="100" fill="#000"/><g filter="url(#tb)"><rect width="100" height="100" fill="#000"/><g filter="url(#cloud)" style="mix-blend-mode:screen"><rect width="100" height="100" fill="none"/><ellipse cx="50" cy="50" rx="80" ry="80" fill="url(#g91)"/></g><ellipse cx="41" cy="42" rx="9" ry="15" fill="url(#g38)" opacity="0.85" style="mix-blend-mode:screen"/><g filter="url(#speck)" opacity="0.5" style="mix-blend-mode:screen"><rect width="100" height="100" fill="none"/><ellipse cx="50" cy="50" rx="50" ry="50" fill="url(#g92)"/></g><g filter="url(#speck)" opacity="0.7" style="mix-blend-mode:screen"><rect width="100" height="100" fill="none"/><ellipse cx="85" cy="78" rx="12" ry="10" fill="url(#g52)"/></g><path d="M0 42L7 55L18 78L6 99L0 99Z" fill="#f03014" filter="url(#soft)"/><ellipse cx="5" cy="85" rx="8" ry="14" fill="url(#g94)" opacity="0.9" style="mix-blend-mode:screen"/><g filter="url(#speck)" opacity="0.95"><rect width="100" height="100" fill="none"/><ellipse cx="50" cy="40" rx="20" ry="20" fill="url(#g95)"/></g><g filter="url(#speck2)" opacity="0.5" style="mix-blend-mode:screen"><rect width="100" height="100" fill="none"/><ellipse cx="50" cy="40" rx="20" ry="20" fill="url(#g96)"/></g><ellipse cx="62" cy="42" rx="5" ry="11" fill="url(#g97)" opacity="0.6"/><ellipse cx="50" cy="56" rx="10" ry="5" fill="url(#g98)" opacity="0.6"/><ellipse cx="40" cy="42" rx="6" ry="12" fill="url(#g38)" opacity="0.8" style="mix-blend-mode:screen"/><ellipse cx="53" cy="40" rx="9" ry="13" fill="url(#g54)"/><g filter="url(#rough)" fill="none" stroke-linecap="round" stroke-linejoin="round" style="mix-blend-mode:screen"><rect width="100" height="100" fill="none" stroke="none"/><path d="M3 22L8 35L15 45L22 58L27 70L30 82" stroke="#22e022" stroke-width="2.65"/><path d="M4 5L20 8L40 5L60 4" stroke="#22e022" stroke-width="1.72" opacity="0.8"/><path d="M76 3L70 12L62 20" stroke="#22e022" stroke-width="3.9"/><path d="M22 92L35 90L55 95" stroke="#22e022" stroke-width="1.56" opacity="0.7"/><path d="M2 4L5 20" stroke="#22e022" stroke-width="2.73"/></g></g></g>
<g transform="translate(232.3 455.7) scale(0.6020 0.5970)" clip-path="url(#c100)"><rect width="100" height="100" fill="#000"/><g filter="url(#tb)"><rect width="100" height="100" fill="#000"/><g filter="url(#cloud)" style="mix-blend-mode:screen"><rect width="100" height="100" fill="none"/><ellipse cx="50" cy="50" rx="80" ry="80" fill="url(#g99)"/></g><g filter="url(#speck)" opacity="0.75" style="mix-blend-mode:screen"><rect width="100" height="100" fill="none"/><ellipse cx="50" cy="40" rx="55" ry="42" fill="url(#g100)"/></g><g filter="url(#cloud)" opacity="0.5" style="mix-blend-mode:screen"><rect width="100" height="100" fill="none"/><ellipse cx="70" cy="30" rx="25" ry="20" fill="url(#g52)"/></g><g filter="url(#cloud)" opacity="0.7" style="mix-blend-mode:screen"><rect width="100" height="100" fill="none"/><ellipse cx="10" cy="65" rx="14" ry="14" fill="url(#g47)"/></g><g filter="url(#speck)" opacity="0.7" style="mix-blend-mode:screen"><rect width="100" height="100" fill="none"/><ellipse cx="55" cy="18" rx="14" ry="8" fill="url(#g47)"/></g><g filter="url(#speck)" style="mix-blend-mode:screen"><rect width="100" height="100" fill="none"/><ellipse cx="45" cy="66" rx="20" ry="16" fill="url(#g101)"/></g><g filter="url(#speck)" opacity="0.8" style="mix-blend-mode:screen"><rect width="100" height="100" fill="none"/><ellipse cx="52" cy="66" rx="12" ry="10" fill="url(#g102)"/></g><ellipse cx="42" cy="62" rx="12" ry="9" fill="url(#g103)" opacity="0.7" style="mix-blend-mode:screen"/><ellipse cx="6" cy="15" rx="7" ry="7" fill="url(#g104)" opacity="0.9" style="mix-blend-mode:screen"/><ellipse cx="45" cy="40" rx="21" ry="12" fill="url(#g105)"/><ellipse cx="48" cy="44" rx="6" ry="4" fill="url(#g106)" opacity="0.7" style="mix-blend-mode:screen"/></g></g>
<g transform="translate(296 455.7) scale(0.6020 0.5970)" clip-path="url(#c100)"><rect width="100" height="100" fill="#000"/><g filter="url(#tb)"><rect width="100" height="100" fill="#000"/><g filter="url(#cloud)" style="mix-blend-mode:screen"><rect width="100" height="100" fill="none"/><ellipse cx="50" cy="50" rx="80" ry="80" fill="url(#g107)"/></g><g filter="url(#cloud)" opacity="0.95" style="mix-blend-mode:screen"><rect width="100" height="100" fill="none"/><ellipse cx="6" cy="35" rx="16" ry="20" fill="url(#g108)"/></g><g filter="url(#cloud)" opacity="0.7" style="mix-blend-mode:screen"><rect width="100" height="100" fill="none"/><ellipse cx="40" cy="85" rx="40" ry="16" fill="url(#g109)"/></g><g filter="url(#speck)" opacity="0.6" style="mix-blend-mode:screen"><rect width="100" height="100" fill="none"/><ellipse cx="85" cy="60" rx="16" ry="30" fill="url(#g52)"/></g><ellipse cx="42" cy="50" rx="22" ry="20" fill="url(#g110)"/><g filter="url(#speck)" opacity="0.8" style="mix-blend-mode:screen"><rect width="100" height="100" fill="none"/><ellipse cx="48" cy="58" rx="12" ry="8" fill="url(#g111)"/></g><ellipse cx="28" cy="45" rx="7" ry="14" fill="url(#g103)" opacity="0.8" style="mix-blend-mode:screen"/><g filter="url(#speck)" opacity="0.9" style="mix-blend-mode:screen"><rect width="100" height="100" fill="none"/><ellipse cx="80" cy="15" rx="14" ry="10" fill="url(#g112)" transform="rotate(40 80 15)"/></g><ellipse cx="96" cy="10" rx="7" ry="12" fill="url(#g113)" opacity="0.95" style="mix-blend-mode:screen"/><ellipse cx="10" cy="5" rx="7" ry="6" fill="url(#g89)" opacity="0.9" style="mix-blend-mode:screen"/><ellipse cx="43" cy="35" rx="14" ry="12" fill="url(#g114)"/><g filter="url(#rough)" fill="none" stroke-linecap="round" stroke-linejoin="round" style="mix-blend-mode:screen"><rect width="100" height="100" fill="none" stroke="none"/><path d="M15 88L30 74L45 68L60 75L65 92" stroke="#22e022" stroke-width="3.12"/><path d="M70 20L80 40L92 55L97 72" stroke="#22e022" stroke-width="2.34"/><path d="M3 20L10 30L8 45L3 55" stroke="#22e022" stroke-width="3.9"/><path d="M30 74L28 90L20 99" stroke="#22e022" stroke-width="2.34" opacity="0.8"/><path d="M70 85L85 92L98 95" stroke="#22e022" stroke-width="2.34" opacity="0.8"/></g></g><rect x="59.5" y="83.2" width="35.5" height="4.4" fill="#fff"/></g>
</svg>
</body></html>
